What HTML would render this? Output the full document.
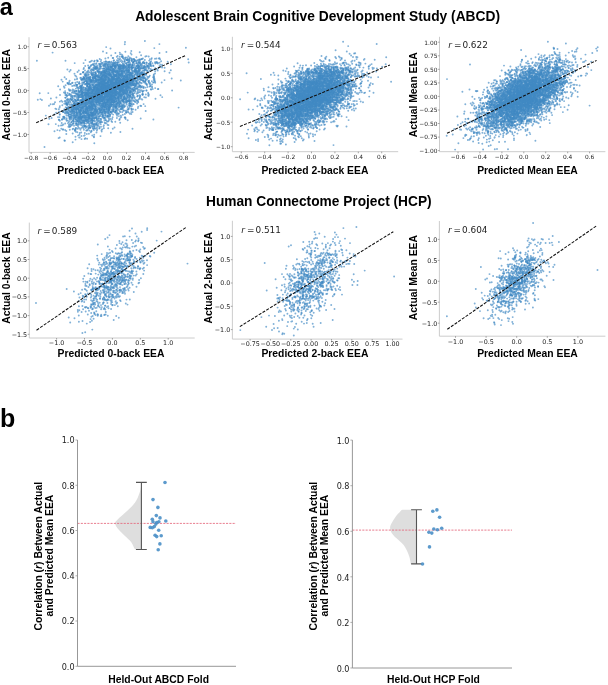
<!DOCTYPE html>
<html lang="en"><head><meta charset="utf-8"><title>Figure</title>
<style>
html,body{margin:0;padding:0;background:#fff;}
svg{display:block;}
.lb{font-family:"Liberation Sans", Arial, sans-serif;font-weight:bold;fill:#000;}
.dv{font-family:"DejaVu Sans", "Liberation Sans", sans-serif;fill:#1c1c1c;}
</style></head><body>
<svg width="608" height="685" viewBox="0 0 608 685">
<rect width="608" height="685" fill="#fff"/>
<g fill="none" stroke="#4088c2" stroke-width="1.95" stroke-linecap="round" stroke-opacity="0.66">
<path d="M109.3 93.2h0M135.5 78.5h0M90.8 104.1h0M104.7 94.9h0M108.4 73.6h0M76.5 121.8h0M85.4 126h0M148.4 68.7h0M108 89.1h0M86.1 95.1h0M121.9 72.1h0M102.1 91.4h0M105.5 99.6h0M92.3 115.3h0M76.3 112.2h0M97.1 75.5h0M89.1 110.5h0M113.1 109.3h0M84.5 123.7h0M79.3 112.2h0M130.8 90.7h0M79.8 117.3h0M102 96.6h0M115.9 104h0M108.8 90.1h0M85.5 75.5h0M121.6 94.5h0M98.3 92.7h0M125.5 93.2h0M126.4 101.3h0M109.1 93.8h0M110.1 93h0M108.1 106.1h0M94 102.1h0M109 89.5h0M131.9 75.6h0M135.4 68.1h0M85.2 117h0M95.9 110.6h0M137.8 76.8h0M110.9 132.8h0M139.2 85.7h0M122.4 55.3h0M120.2 82.6h0M102.5 90.5h0M111.4 95.7h0M139.1 67.8h0M148.7 64.1h0M134.3 76.8h0M105.5 87.5h0M92.6 91.4h0M108.5 67.9h0M76.4 109.7h0M75.9 90.6h0M86.4 92.9h0M130.1 91h0M83.9 78.4h0M94 95.9h0M91.1 95.8h0M101.8 109.1h0M112.5 72h0M63.2 129.5h0M89.2 98.7h0M90.2 79h0M94.6 80.4h0M110.3 112.2h0M74 100.8h0M116.7 82.9h0M85.6 90.9h0M110.3 99.3h0M125.3 63.3h0M88.3 77h0M125.3 83.9h0M107.5 65.6h0M87 113.1h0M107.3 89.5h0M113.9 83.3h0M68.8 110.2h0M104 97.6h0M100.7 107.1h0M96.5 92.3h0M132.2 83.7h0M116.7 78.5h0M143.5 73.9h0M117 98.8h0M130.2 103.3h0M108.2 90.3h0M102.8 84.1h0M106.9 95.1h0M124.7 81.7h0M113.2 71.3h0M124.7 105.5h0M129.6 85.8h0M91.5 106.3h0M110.7 83.3h0M148.4 81.3h0M118.1 60.9h0M113.5 79.4h0M131.4 73.7h0M89 88.3h0M76.4 100.8h0M92.7 108.2h0M122.6 93.5h0M102.6 76.2h0M74.1 91.2h0M79.8 111.7h0M95.8 109.9h0M137.5 83.1h0M94.8 102.1h0M87.5 85.9h0M110.9 76.2h0M121.2 94.3h0M91.3 80.1h0M140.3 96h0M96.7 98.1h0M110 81.9h0M104.2 85.7h0M103.8 99.3h0M108.6 85.6h0M86.9 72.2h0M81.1 89.6h0M88.9 133.8h0M74.6 107.5h0M157.9 89.1h0M88 96.3h0M87.8 77.2h0M91.2 69.7h0M111.7 102.7h0M122.3 79.3h0M105 110.5h0M108.3 100.5h0M118.8 66.7h0M129.6 87h0M96.8 100.9h0M132.6 88.2h0M98.8 96.1h0M113.5 92.6h0M103.1 99.6h0M123.7 105.8h0M121.7 80.5h0M91.5 98.6h0M109.7 74.7h0M110.9 88.4h0M117 93.6h0M101.8 89.5h0M66 101.8h0M75.1 95.6h0M82.5 88.6h0M111.7 84.1h0M70.6 98.9h0M111.6 96.8h0M93.3 93.2h0M95.7 81.9h0M86.8 83.2h0M138 93.1h0M105.1 77.3h0M91.5 99.6h0M80.7 92.1h0M105.2 85.2h0M91.8 93.4h0M106.8 99.1h0M99.7 58.9h0M95 74.7h0M144.1 65.7h0M116.2 95.1h0M111.2 77.1h0M99.7 90.4h0M81.5 139.1h0M140.9 65.1h0M109.2 85h0M121.8 105.9h0M94.2 114.3h0M75.3 93.5h0M93.1 94.9h0M92.5 77.8h0M133.9 95.9h0M133 80.1h0M101.8 90h0M74.2 112.4h0M113.2 102.7h0M113.9 71.3h0M124.4 81.4h0M108.3 93.4h0M98.8 71.7h0M112.5 91h0M120.7 71.4h0M98.9 84.4h0M125.7 80.1h0M80.4 113.7h0M81.7 88.9h0M162.1 64.8h0M105.2 111.2h0M110.5 106.5h0M77.4 95.1h0M105.1 83.6h0M115.3 65.5h0M120.5 85.5h0M124 81.3h0M128.5 66.7h0M123.1 88.1h0M85.8 105.4h0M107.2 104.8h0M127.1 95.7h0M113.7 86.3h0M95.3 78.9h0M98 87.2h0M73.9 119.1h0M125.9 86.6h0M161.1 61.2h0M96 74.5h0M114.4 87.3h0M66.7 107.9h0M91.6 74.2h0M105.9 76.2h0M101.5 90.3h0M138.4 71.2h0M117.5 64.4h0M97 79.9h0M123.8 85h0M167.7 61.7h0M112.6 86.5h0M91.1 118.9h0M87.9 90.3h0M140.3 87.7h0M110.3 74.4h0M74.3 115.7h0M125.4 106.1h0M122.7 92.6h0M69.8 129.7h0M111.4 101.5h0M99 98.2h0M92.7 105.6h0M111.8 101.2h0M108 106.8h0M80 114.5h0M99 89.7h0M83 123h0M67.2 104.1h0M84.5 94.6h0M108.2 96.4h0M91.3 116.5h0M67.6 83h0M89.7 118.1h0M118.1 77.9h0M116 91.9h0M112.5 69.2h0M116.1 104.5h0M62.8 111.8h0M125.1 106.3h0M98.8 118.7h0M125.4 83.9h0M96.2 87.9h0M85.5 92.6h0M87.8 98.6h0M78.8 96.7h0M127.5 75.2h0M88.2 118h0M81.5 123.5h0M82.3 123.2h0M102.2 101.6h0M123.7 83.8h0M109.6 98.2h0M115.3 93h0M116.3 81.6h0M88.1 90.7h0M123.3 66.1h0M143.2 80.9h0M84.4 87.8h0M116.2 75.5h0M108.9 81.2h0M138.2 106.7h0M98.9 99.7h0M116 65.8h0M148.5 80.9h0M115.2 106.5h0M89.7 92.8h0M102.5 77.1h0M94.7 101.6h0M90.7 106.8h0M104.5 82.1h0M88 83.4h0M99.6 90.1h0M107.9 89h0M122 76.3h0M98.8 95.7h0M94.2 134.7h0M106.1 89.1h0M122 83.7h0M134.9 71.4h0M83.3 115.2h0M127.7 84.7h0M125.1 70.6h0M89 104h0M125 82h0M104.3 106.9h0M102.3 88.6h0M96.5 113.5h0M85.2 104.1h0M115.9 83.2h0M66.2 78.9h0M140.3 85.9h0M91.4 117.3h0M104.9 70.9h0M78.7 107.5h0M110.1 97.9h0M116.2 71.3h0M131.9 97h0M84.1 111.2h0M126 91h0M90.4 107.4h0M114.6 62.8h0M105.8 70.6h0M103.2 105.7h0M97.2 129.3h0M89.3 81.1h0M127.9 87.6h0M72.1 106h0M117.5 82.9h0M81.8 119.3h0M72 110.8h0M88.8 116.4h0M130.1 87.4h0M139.7 65.1h0M90 108h0M99.2 108.4h0M88.5 75.1h0M105.9 71.8h0M99.9 118.6h0M86.5 111.5h0M105.1 90.5h0M98.4 85.2h0M101.7 85.5h0M109 91.7h0M114 99.9h0M130.6 64.5h0M81.7 79.9h0M102.9 75.7h0M92.3 114.3h0M113.5 106.2h0M134.6 69h0M79.7 137.4h0M90.6 114.3h0M122.6 83.1h0M123.8 65.7h0M120.7 65.2h0M94.3 90.9h0M111.7 85h0M98.4 97.6h0M114.6 93.5h0M83.5 111.7h0M110.6 75.8h0M145.9 78.9h0M97.7 93h0M107.9 96.3h0M127.5 87.1h0M118.3 87.4h0M126.4 94h0M86.4 95.1h0M100.6 122.3h0M67.5 112.2h0M83.5 117.8h0M74.4 102.5h0M70.3 104.8h0M88.1 99.5h0M89.1 117.8h0M97.7 92.7h0M106.2 109.8h0M126.6 81.3h0M103.4 105.8h0M108.4 94.2h0M116.4 81.2h0M143.9 77.7h0M112.1 91.9h0M97.4 100h0M87.6 99h0M117.7 78h0M150.7 65.7h0M115.7 78.7h0M82.1 123.4h0M139.4 72.1h0M58.8 119.7h0M121.5 65.2h0M125.1 75.7h0M98.9 90.1h0M87.1 120.5h0M84.4 125.7h0M123.9 93.6h0M92.8 69.8h0M121.1 86.5h0M93.7 89.8h0M89.6 115.1h0M99 86.7h0M97.4 110.8h0M113.7 64.3h0M103.9 79.5h0M105 78.9h0M138.6 83.9h0M110.3 92.7h0M130.7 53.1h0M103.9 80.1h0M128.6 83.2h0M125.5 117.7h0M121.3 106.1h0M161.7 82.5h0M94.9 109.6h0M105.1 115.4h0M84.1 82.8h0M96.4 117.2h0M93.1 91.5h0M119.8 82h0M93.1 96.8h0M126.5 86.2h0M113 76.2h0M139.6 75.1h0M137.4 72.4h0M87.8 104.8h0M132.1 83.6h0M78 126.2h0M99.4 64.1h0M105.2 104.4h0M136 71.3h0M71 94.7h0M109.6 102.8h0M149.2 76.6h0M83.9 92.8h0M80.3 113.4h0M78 105.7h0M103.4 92.3h0M99.9 112.2h0M85.4 110.9h0M121.5 83.2h0M124.5 95.1h0M59.9 120.8h0M86.1 89.9h0M110.3 97.6h0M106.7 109h0M112.6 109h0M88.7 68.2h0M118.6 74.2h0M125.3 82.6h0M104.2 84.9h0M128.9 86.7h0M82.4 98.1h0M122.6 93.6h0M130.8 72.8h0M100.8 77h0M97.5 98.9h0M103.3 97h0M126.6 84.3h0M128.9 70.4h0M110.5 99.3h0M140.4 73.7h0M111.8 79.4h0M105.3 108h0M119.8 56.8h0M141.8 78.3h0M95.4 93.4h0M132.5 128.8h0M121.5 54.4h0M133.7 80.3h0M92.6 120.7h0M122 73h0M109.1 119.5h0M105.9 91.8h0M80.9 94.3h0M138.9 99.3h0M114.4 66.7h0M69.6 118.5h0M139.7 61.2h0M81.5 128.1h0M114.6 90.8h0M101.5 73.3h0M101.7 83.6h0M119.7 92.6h0M102.7 85.1h0M62.3 101.7h0M113.1 114.6h0M109.9 108.9h0M107.4 85.6h0M108.4 88.8h0M131.4 72.8h0M101.5 130.3h0M104.7 109.8h0M122.5 90.6h0M91.3 105.2h0M115.6 89.8h0M84.1 100.2h0M127.7 120.3h0M113.1 89.1h0M101 86.4h0M82.4 117.1h0M66.1 103.7h0M138.1 67.7h0M69.2 99.5h0M93.4 78.2h0M117.2 100.7h0M126.5 100.3h0M125 57.8h0M97.8 88h0M116.3 94.2h0M109.3 91.4h0M81.5 118.2h0M102 97.2h0M118.4 79.3h0M133.6 80.3h0M123 84.8h0M121.9 56.5h0M100.9 100.8h0M92.8 127h0M93.7 125.4h0M83.2 110.7h0M112.3 96.6h0M72.2 124.8h0M111.3 91.7h0M117.3 71.8h0M80.3 77.9h0M87.4 94.6h0M100.9 95.4h0M131.3 88.1h0M74.4 113.2h0M128 74.7h0M104 103.5h0M97.1 121h0M128.5 62.2h0M78.5 104.4h0M99.1 103.2h0M159.4 44.1h0M137.4 73h0M92.5 82.1h0M91.1 119.1h0M91.4 91.3h0M113.3 62.5h0M96.8 111.8h0M132.3 80.6h0M87.7 83.6h0M78.9 106h0M78 100.1h0M113.8 64.3h0M98.6 89.3h0M134.5 92.9h0M104.4 80.7h0M98.9 90.5h0M129.7 105.5h0M103.1 65.4h0M90.3 113.7h0M102.7 88.8h0M84.8 103.9h0M99.3 91h0M75.8 104.4h0M97.6 101.2h0M89.5 110.2h0M133.9 90.6h0M93.9 99h0M124.3 86.3h0M141.6 90.2h0M100.8 111h0M89.6 89.9h0M89.3 86.6h0M128.5 79.4h0M74.1 117.7h0M96 88.8h0M131.8 106.2h0M71 114.3h0M101.8 88.2h0M116.6 77.9h0M61.5 79.7h0M88.5 99h0M141.2 74.3h0M126.7 82.1h0M155 73.4h0M119.8 83.5h0M90.7 112.8h0M89.3 93.6h0M103.2 111.7h0M113 80.9h0M134.7 77.5h0M113.6 97.9h0M87.2 110.4h0M94.5 67h0M121.7 79.5h0M127 94.5h0M103.1 79h0M135.9 70.8h0M129.5 85.2h0M79.4 120.9h0M139.8 67.9h0M143.3 78.4h0M116.1 84h0M93 105.5h0M80.9 87.7h0M116 89.3h0M116.1 103.9h0M118.2 80h0M115.3 72h0M99.8 94h0M85 103.2h0M109.3 69.2h0M136.5 66h0M156.2 62h0M91 89.2h0M102.3 122.1h0M128.6 112.6h0M129.7 68.1h0M112 98.4h0M99.8 100.3h0M73.7 107.5h0M123.7 110.1h0M86.8 101.8h0M99.5 71.6h0M135.5 68.7h0M109.8 92.2h0M104.5 102.5h0M86.6 101.8h0M77.8 128.8h0M105.1 104.8h0M95.2 124.6h0M107.3 101h0M105.3 72.4h0M109.5 87.4h0M115.4 76h0M96.7 88.6h0M82.2 91.8h0M121.2 80.4h0M86.8 113.6h0M91.4 72.1h0M84.7 102.1h0M98.7 95.1h0M81.7 79.5h0M92.4 91.4h0M101.7 77.5h0M112 109.2h0M95.6 113.5h0M123.8 81.1h0M142.5 94.6h0M145.5 78.1h0M79.2 137.6h0M98.6 74.5h0M100.9 75.8h0M78.7 103h0M96.8 89.5h0M86.6 107.7h0M115.3 86.9h0M62.7 81.6h0M86.2 98h0M101.3 81.8h0M64.4 110.2h0M79 104.5h0M110 116.4h0M77.1 120.7h0M68.8 124.7h0M99.9 92.1h0M96.9 100.8h0M120.1 64.5h0M97 60.2h0M99.5 85.6h0M109.9 106.9h0M123.3 82.1h0M86.8 126.2h0M119.1 81h0M109.2 107.5h0M103.8 68.8h0M123.5 87.9h0M88.7 90.1h0M103.6 111.9h0M100.9 81.3h0M129.6 64.4h0M92.7 93.8h0M82.6 98.3h0M115.5 88.3h0M135.4 85.5h0M71.6 118.8h0M121.7 86h0M95 81.9h0M79.6 111.7h0M98.4 84.2h0M117.3 100.4h0M66.3 94.8h0M68.4 107.4h0M106.1 112.2h0M114.1 90.1h0M103.7 72.3h0M112.7 111.2h0M98.8 113.9h0M116.6 67h0M122.5 61.3h0M150.1 84.1h0M113.3 74.5h0M61.7 111h0M86.7 121.2h0M117.2 65.6h0M105.7 91.8h0M122.3 68.4h0M93.3 92.8h0M132.7 64.9h0M109.5 88.7h0M77.6 115.9h0M98.8 83.3h0M126.4 69.6h0M108.8 77.9h0M125.8 67.5h0M127.3 70h0M139.9 97.5h0M118.5 98.3h0M102.7 80.2h0M108.8 86.4h0M95.8 102h0M116.6 89.6h0M75.4 112.3h0M107.6 116h0M105.4 97.9h0M132 76.6h0M73.7 115.9h0M87.5 114.4h0M95.3 114.5h0M103.8 92.4h0M83.8 120.8h0M94.5 97.7h0M115 66.1h0M111.2 102.7h0M90.6 121.3h0M99.2 93.4h0M121 68.7h0M137.9 107.9h0M115.6 68h0M98 94.3h0M96.9 92.5h0M111.3 82.5h0M100.6 92h0M121.5 76.3h0M113.9 84h0M119.2 80.8h0M115.5 83.7h0M90.9 99.3h0M120.3 89.9h0M78.5 113.4h0M111.5 80.9h0M125.4 87.2h0M107.2 88h0M78.8 97.8h0M90.6 106.7h0M86.4 95.5h0M102 95h0M69 114.2h0M112.2 104.4h0M94.6 89h0M126.5 88.4h0M133.6 83.9h0M119.3 84.3h0M112.6 83.7h0M72.3 104.9h0M74.1 95.9h0M99.9 98.7h0M109.7 85.5h0M113 65h0M96 93.6h0M112.7 83.2h0M108.9 109.4h0M139 92.2h0M106.3 93.3h0M99.4 75.6h0M98.8 82.4h0M82.9 95.7h0M66.3 111.1h0M104.5 83.2h0M101.9 101.2h0M126.3 112.7h0M125.5 77.3h0M73.6 109.5h0M98.7 79.8h0M138.9 62.3h0M126.3 63.5h0M81.2 105.1h0M101.2 77.9h0M85.7 87.9h0M101.2 104.8h0M134.7 97.2h0M130.4 105.8h0M126.7 69.1h0M120.3 84.5h0M71.6 118.2h0M120.4 109.2h0M94.9 117.7h0M112.7 78.6h0M125.3 74.2h0M114.1 96.3h0M120.6 79.3h0M146.1 74.4h0M108 82.2h0M107.6 69.2h0M131.8 88.7h0M126.8 79.4h0M115.7 97.9h0M93.9 91.8h0M124.5 78.7h0M80 117.2h0M152.4 63.3h0M109 78.1h0M140 69.8h0M103.4 84.1h0M151.2 89.6h0M39.7 93.2h0M180.8 80.5h0"/>
<path d="M115.1 89.5h0M99.7 122.1h0M122.9 76.3h0M77.6 114.3h0M111.5 81h0M108.7 88.4h0M110.8 83.6h0M124.2 91h0M122.3 74.2h0M98 70h0M70.4 101.1h0M104.4 95.7h0M87.5 103.6h0M102.7 98.2h0M69.5 71.5h0M113.3 84.7h0M107.8 100.1h0M111.1 78.5h0M125.8 86.6h0M77.9 120.2h0M88.5 128.7h0M128.2 67.5h0M103.4 80.4h0M136.8 70.7h0M110.7 111.4h0M135.4 85.5h0M103.4 82.9h0M82.3 107.9h0M127.3 77.4h0M146 74.7h0M125.7 102.2h0M92.5 96.3h0M79.8 110.4h0M116.3 100.9h0M81 90.3h0M108.9 71.1h0M110.2 99.9h0M110.1 92.3h0M130.7 89h0M100.2 96.2h0M88.3 90.8h0M98.5 118h0M111.5 104.1h0M108.2 89.3h0M85.2 112h0M78.2 98.1h0M103.2 87.3h0M101.8 112.9h0M91.6 93h0M97.7 66.9h0M76.5 108.1h0M113.3 95.5h0M116.9 88.9h0M102.1 76.2h0M90 104.6h0M130.5 72.4h0M81.1 113.7h0M87.6 119.7h0M84.8 115.2h0M103.5 79.9h0M76.7 94.3h0M99.5 84.4h0M84.6 94.1h0M126 66.3h0M120.8 89h0M128 87.3h0M108.1 86.7h0M93.5 70.5h0M70.9 124.6h0M146.6 56.1h0M90.5 97.3h0M129.6 65.1h0M101.5 79.8h0M87.4 100.2h0M108 99.9h0M114.2 102.7h0M109.2 85.6h0M111.1 112.6h0M98.5 107.7h0M120.1 54.2h0M104.2 73.6h0M129 77.3h0M80.2 99.9h0M140.4 85.9h0M111.5 104.6h0M117.1 78.4h0M115.3 84.3h0M126.8 79.6h0M119.9 92.4h0M98.8 88.7h0M135.5 86.2h0M129.7 107h0M119 75.2h0M92.6 74.3h0M102.4 63h0M110.5 97.8h0M93.1 70.2h0M77.8 118.2h0M108.8 95.8h0M101.9 84.5h0M102.1 96.6h0M120.4 75.7h0M102.6 68.8h0M64.2 118.7h0M91.8 84h0M115.1 112.6h0M108.7 74.3h0M108.2 91.6h0M90 123.2h0M105.3 123.3h0M99.1 93.6h0M136.6 93.8h0M68.7 109.7h0M105.4 105.7h0M70.7 90.3h0M133.5 91.3h0M113.4 73.7h0M107.6 96.8h0M88.5 103.1h0M97.4 112.2h0M101.2 92.1h0M107.8 69.6h0M113.6 111.5h0M124.3 82.8h0M103.8 88h0M126.3 95h0M81.1 109.4h0M106.7 93.9h0M88.4 70.4h0M123.8 68.2h0M136.8 72.5h0M72.3 111.8h0M100.4 116h0M87.7 108.6h0M101 80.2h0M99.7 83.2h0M126.6 78.3h0M145.6 87.6h0M107.9 99.8h0M89.1 86.8h0M78.7 119.3h0M107.5 92.2h0M91.7 65h0M101.1 92.6h0M117.8 77.2h0M116.6 106.4h0M88.5 78.3h0M115.1 101.3h0M90.3 102.5h0M103.5 81.4h0M157 62.2h0M95.8 78.2h0M65.7 97.7h0M126.3 95.6h0M62.3 105.2h0M131.5 79.2h0M96.8 96.5h0M115.2 64.8h0M98.5 84.6h0M105.8 87.5h0M103.3 102.6h0M96.1 124.1h0M76.7 111.9h0M115.5 95.1h0M121.4 86.3h0M155 69.1h0M59.5 117.1h0M109.9 92.9h0M66.6 95.5h0M107.7 96.5h0M126.8 81.4h0M105.9 71.7h0M91.9 101.3h0M117.2 91.6h0M80.8 94.7h0M102.3 91.5h0M132.5 81h0M127.1 76.4h0M130.1 64.6h0M132.6 94.3h0M117.6 80.7h0M96.9 87.8h0M106.8 85.3h0M119.3 93.2h0M80.3 86h0M142.8 93.5h0M108.7 99.7h0M108.2 108h0M58.8 109.3h0M137.3 88.8h0M123.3 79.3h0M114.8 75h0M95.4 87.3h0M112.9 82.4h0M102.9 97.2h0M82.5 115.9h0M74.5 108h0M140.2 77.8h0M112.2 94.8h0M144.8 59.9h0M105.8 103.7h0M147 79.6h0M85 99.2h0M91.8 74.3h0M123.1 67.4h0M101.4 98.6h0M118.2 93.7h0M102.5 79.9h0M140.1 92h0M118.4 102.2h0M71.9 112.7h0M86.3 107.8h0M72.4 110.5h0M92.6 91.5h0M105.4 79.9h0M104.5 77.4h0M124.3 96.8h0M106.4 82.9h0M102.1 78.6h0M83.9 127.6h0M138.6 66.9h0M126.8 84.9h0M100.4 66.5h0M115.8 91.3h0M107 109h0M122.2 92.3h0M99.7 97.7h0M102.2 89.6h0M105.8 96.6h0M84.7 126h0M130.9 91h0M89.1 87.6h0M117.3 80.6h0M91 112.1h0M74 103.8h0M98.3 89.2h0M114.7 97.3h0M126.5 102.2h0M91.1 82.8h0M132.4 66h0M75.5 139.6h0M119 77.8h0M78.6 112.3h0M69.5 127.1h0M129.9 78.9h0M111 90.7h0M75.6 109.8h0M122.4 76.3h0M91.2 108.5h0M86.4 112h0M131.9 79.3h0M153.8 74.5h0M116.6 102.6h0M101.9 100.8h0M117.3 78.4h0M88.5 91.4h0M86.7 107h0M122.5 74.8h0M136.9 77.5h0M146.3 69.9h0M86.2 94.3h0M81.5 118.8h0M85.3 79.3h0M90.5 98.5h0M129.2 72.3h0M59.7 114.7h0M107.2 102h0M95.4 99.8h0M74.8 130.7h0M104.2 86.7h0M114.5 83h0M107.6 82.6h0M91.8 80.9h0M135.3 70.1h0M115.3 86.4h0M144.8 81.8h0M82.1 117.3h0M119.6 88.5h0M106.4 85.3h0M78.9 83.7h0M94 118.1h0M78.4 94.5h0M121.6 85.6h0M87.8 102.7h0M107.6 90.6h0M96.2 84.3h0M91.9 104.9h0M77.7 125.1h0M130.8 80.2h0M133.7 104.2h0M92 123h0M112.3 102.1h0M94.4 104.7h0M119.6 95h0M82.4 79.5h0M94.9 68.6h0M89.6 83.3h0M86.7 102.6h0M148.4 93.6h0M106.8 69.5h0M108.1 92.8h0M133 67.7h0M118.5 84.3h0M124.2 107.2h0M80.9 87h0M121.9 62.3h0M72.3 115.4h0M118.4 76.2h0M120.3 75.2h0M72.8 89.5h0M104.5 106.1h0M81.7 92.9h0M77.6 98.7h0M111.1 74.1h0M87.2 81.4h0M73.2 118.8h0M116.8 56.8h0M122.8 56.9h0M107 116h0M106.2 82.4h0M93.5 86.7h0M91.5 130.8h0M88.8 84.3h0M78.1 96.1h0M107.8 82.4h0M116.9 118h0M96.3 85h0M101.2 78.1h0M135.4 72.7h0M93.6 85.2h0M37.8 99.8h0M105.8 105.6h0M128 111.8h0M96.1 85.9h0M119.7 67.8h0M72.3 108.8h0M80.9 85.8h0M41.9 99.9h0M122.2 74.6h0M124 65.2h0M101.6 73.1h0M104 96.9h0M117.5 94h0M104.6 106.4h0M110.2 107.8h0M119.9 91.8h0M95.5 75.7h0M108.3 97.3h0M132.4 81.8h0M115.2 92.7h0M109.4 74.5h0M85.7 102.1h0M93.2 64.1h0M116.8 88.5h0M108.2 88.8h0M112.3 99.9h0M111.6 67.5h0M105.4 58.4h0M146.8 62.9h0M117.6 56h0M105.6 89h0M149 80.7h0M99.2 89.1h0M113.8 89.3h0M94.3 94.1h0M83.7 127.9h0M139.2 82.8h0M115 93.1h0M50.9 98.4h0M127.6 79.9h0M105.7 81.5h0M79.7 107.9h0M124.9 86.7h0M117.3 98.3h0M113.5 71.3h0M114.9 82.5h0M121.4 95.4h0M123.3 92.9h0M137.2 68.2h0M122.2 67.4h0M119.3 90.6h0M77.7 112.1h0M170.8 70.2h0M88 87h0M110.5 73.8h0M132.7 95.8h0M110.8 104h0M118.4 98h0M85.9 84h0M111.9 96.4h0M89.3 98.6h0M139.9 70.5h0M79 91.7h0M113.6 69.7h0M85 106.8h0M103.9 128.2h0M93.2 80.7h0M105.9 104.9h0M88.4 72.2h0M78.2 98.5h0M128.6 83.7h0M139.8 74h0M106.4 73.3h0M125.3 70h0M126.6 72.9h0M131.5 92.6h0M123.8 77.2h0M128.3 72.1h0M142.8 94.6h0M88.4 116.8h0M93.6 116.3h0M69.1 114.2h0M117.1 82.1h0M56.4 109.1h0M139.7 82.1h0M92.8 116.1h0M116 87.8h0M128.1 78.9h0M76.7 113.1h0M116.9 62.7h0M115.3 91.4h0M126.2 83.4h0M76.5 97.8h0M119.6 105.3h0M129.9 75.3h0M66.2 109.6h0M114.6 88.1h0M93.1 99.8h0M85.8 105.5h0M128.8 108.9h0M108.9 93.4h0M82.1 79.7h0M126.6 104.6h0M111 68.6h0M96.2 123.4h0M82.3 127.2h0M98.1 98.2h0M82.5 93.3h0M121.7 96.8h0M89.7 102.2h0M83.9 119.9h0M119 101.4h0M146.5 84h0M111.1 92.7h0M108.9 114.1h0M109.9 72.2h0M83.9 82.1h0M87.7 115.5h0M104.5 72.2h0M128.7 95.1h0M118.1 75.4h0M110.4 67.2h0M90 88h0M77.6 117.6h0M105 83.3h0M123.7 89.6h0M118.9 106.1h0M110.5 95.8h0M68.2 113h0M126.9 68h0M94.5 115.5h0M112.6 70.6h0M128.6 65h0M74.7 85.6h0M96.9 75.7h0M118.7 82.1h0M108.3 102h0M137.1 103.4h0M82.6 102.4h0M81.8 103.9h0M89.1 98.3h0M70 90.8h0M139.9 62.2h0M143.1 62.1h0M66 102.9h0M109.1 82.2h0M95.4 76.5h0M107.3 91.2h0M125.9 79.7h0M122.2 71.5h0M129.1 100.5h0M111.2 68.3h0M134 78.9h0M95.4 72.6h0M121.2 86.4h0M80.1 74.1h0M67 113.7h0M102.2 79.7h0M97.2 115.6h0M147.5 70.8h0M141.1 79.8h0M137.7 72.7h0M137.3 78.6h0M91.6 120.8h0M103.6 100.1h0M130.6 95.1h0M119.4 75.2h0M84.2 104.6h0M68.8 102.3h0M91.2 109.4h0M110.4 92.6h0M106.8 67.9h0M90.4 76.9h0M106.4 103h0M130.2 84h0M92.1 80.8h0M113.8 74.1h0M95.8 77.9h0M89.7 123.4h0M87.1 130.6h0M109.1 76.1h0M94.3 99.1h0M102.6 89.2h0M102 114.5h0M124.4 98.9h0M98.1 102h0M97.1 84.1h0M125.8 98.3h0M54.5 131.3h0M124.4 79.8h0M131.4 78.2h0M111.2 67h0M91.6 91h0M142.4 68.6h0M119.1 72.2h0M103.5 81.7h0M124.1 65.3h0M120.9 82.5h0M96.9 115.1h0M130.3 92.4h0M77.4 108.6h0M129 92.7h0M81.6 101.1h0M93.6 113.4h0M120.5 94.6h0M123.7 81.2h0M131.6 109.9h0M82.3 99.4h0M101.2 119h0M113 63.1h0M76.6 105.9h0M76.6 106.3h0M98.1 71.7h0M69.3 90.6h0M78.2 109.4h0M73 92.5h0M113.5 64.9h0M106.4 97.7h0M108.8 116.7h0M106.2 98h0M76.8 85h0M99.4 93.4h0M107.2 117.3h0M134.1 60.8h0M105.4 85.3h0M99.7 89.3h0M104.7 107.5h0M159.5 53h0M104.2 98.1h0M117.2 64.4h0M138.4 79.4h0M81 96.9h0M114.1 89.9h0M109.6 97h0M102.5 86.4h0M123.3 94.1h0M100.3 103.7h0M130.1 64.7h0M116.4 76.7h0M85.7 74.4h0M129.2 82.8h0M112.7 58h0M106 72.4h0M109.4 110.8h0M77.1 106.9h0M119 68h0M109.4 91.9h0M89.2 67.7h0M105.1 72.9h0M120.9 79.9h0M61.9 119.5h0M92.7 95.7h0M69.6 117h0M79.6 112.5h0M119.8 102.1h0M83 72.6h0M86.3 113.1h0M123.1 58.1h0M120.6 102.7h0M73.3 120.8h0M136.7 60.8h0M141.7 72.9h0M101.5 89.1h0M126 57.5h0M109.7 79.7h0M150.6 64.8h0M126.2 102.5h0M102.6 108.2h0M89 114.9h0M98.9 89.1h0M129.6 100.9h0M112.6 82.8h0M120.4 98.4h0M66.6 109.8h0M131.3 66h0M124.8 76h0M77.5 72h0M90.7 84.9h0M110 96.7h0M96.5 85.8h0M133.9 83.6h0M96.2 66.3h0M100.2 96.1h0M110.5 48.4h0M124.9 113.9h0M100.3 92.2h0M92 126.5h0M141.8 73.7h0M77.7 121.4h0M76.1 125.1h0M113.6 102h0M132.6 112h0M108.5 125.1h0M86.6 96.8h0M113.7 109.9h0M129.8 73.2h0M96.3 94.7h0M106.4 75.1h0M107.9 70.8h0M118.1 81.7h0M116.1 86.6h0M107.1 70.4h0M73.3 109h0M137 74.4h0M89.7 107.9h0M108 121.4h0M109 97.4h0M89 102.1h0M80.2 109.9h0M78.4 89.7h0M127.9 90.7h0M92.2 107.1h0M106.7 92.8h0M122.1 91.1h0M139.8 74.3h0M66.7 120.8h0M101.1 101.5h0M115.9 75.9h0M58.6 125.7h0M102.7 115h0M84.3 122.7h0M102.5 90.3h0M121.6 70.8h0M94.9 114.2h0M113 90h0M113.8 101.2h0M61.7 122.9h0M125.9 112.1h0M78 102.4h0M98.5 92.5h0M141.8 77h0M88.3 99.2h0M109.5 93.9h0M138.5 61.8h0M123.4 83.2h0M188.7 62.4h0M115.4 82.7h0M81 122.5h0M74.2 115h0M143.4 77.9h0M102.5 79.7h0M87.2 109.3h0M89.2 97h0M70.5 112h0M119.6 82.9h0M85.6 73.3h0M83.8 77.5h0M97.8 95.5h0M71.6 99.7h0M105.7 61.3h0M145.4 70.3h0M153.5 65.9h0M109.5 104h0M132.7 78.2h0M149.7 86.4h0M136.4 80.8h0M91.7 115.7h0M102.2 99.8h0M122.7 77h0M86.8 121.3h0M87.7 90.5h0M75.6 96.1h0M144.2 78.6h0M155.3 68.3h0M121.5 77.3h0M118.3 80.4h0M130.2 96.3h0M101.4 77.2h0M73.4 123h0M124.3 90.7h0M121.4 73.4h0M116.1 90.3h0M104.1 101.1h0M100.3 98.2h0M88.4 103.1h0M93.9 130.1h0M88.9 95.7h0M78.5 122.2h0M69.7 110.8h0M63.4 124.5h0M109.2 62h0M121.2 94.6h0M111.3 82.9h0M117.9 85.2h0M131.1 75.1h0M119.7 64.6h0M93.9 108.6h0M77.5 98.9h0M105.7 75.2h0M142.6 80.1h0M154.3 48.1h0M133.5 85h0M122.5 87.4h0M74.1 103.7h0M114.6 101.5h0M143.2 67.9h0M92.8 115h0M83 86.9h0M134.2 90h0M136.4 63.6h0M81.4 93.5h0M103.3 84.1h0M93.4 106.5h0M147.9 65.8h0M87.4 75.7h0M120.3 87.8h0M126.1 87.1h0M132.7 75.9h0M98.9 95.1h0M134.3 71h0M87.1 122.1h0M100.3 93.2h0M112.1 94.5h0M93.1 104h0M88.3 113.3h0M115 80.1h0M110.3 103.1h0M109.6 106.7h0M92.2 99.8h0M122 94.5h0M91.1 88.6h0M82.7 106.4h0M113.5 89.5h0M112.5 93.4h0M155.2 82.7h0M124 71.6h0M87.2 83h0M95.3 107.5h0M92.2 89.9h0M103.1 90.2h0M119.4 87h0M116.7 91.1h0M85.4 98.4h0M102.8 91.6h0M91.4 73.2h0M78.5 103.7h0M95.3 110.1h0M104.3 68.2h0M74.9 79.5h0M115.8 107.2h0M147.5 66.4h0M122.8 87.2h0M143.5 82.2h0M95.2 113.8h0M101.5 103.5h0M106.5 64.1h0M94.1 114h0M80.7 105.7h0M122.9 84.1h0M123.4 66.2h0M107.6 101.5h0M79.8 112.4h0M107.3 99.2h0M133.2 62.6h0M50.6 104.3h0M141.2 106h0M135 90.4h0M169.5 72.8h0M124.4 92.7h0M124.5 71.5h0M96.1 81.4h0M99.3 83.9h0M137.5 73.1h0M80.4 100.3h0M138.4 69.1h0M89.7 105.6h0M88.3 89.9h0M83.3 87.2h0M81.4 93.2h0M127.9 100.2h0M52.6 52.6h0M125 41.9h0"/>
<path d="M104 99.5h0M88.6 121.5h0M83 104.1h0M114.6 93h0M79.4 88.1h0M126.6 85.5h0M135.9 102.1h0M84.5 120.9h0M137.4 83h0M105.5 87.4h0M100.3 105.7h0M139.1 70.7h0M109.1 88.3h0M129.9 113.7h0M103.4 92.9h0M118.9 75.5h0M110 74.2h0M97.8 78.9h0M75.2 75.6h0M137.5 73.3h0M108.3 78.1h0M109.6 63.9h0M82.4 93.6h0M99.2 116.7h0M94.6 126.2h0M99.4 68.4h0M106.3 95.9h0M127.9 79.5h0M100.4 64.2h0M76.4 109.7h0M77.2 106.8h0M79.7 104h0M90 120.5h0M115.9 111.4h0M100.3 91h0M66.3 134h0M86.4 99.6h0M125 82.2h0M84.5 106.6h0M124.4 86.1h0M104 74.4h0M101.7 99.7h0M100.5 122.5h0M98 89.4h0M108 66.7h0M104.7 93.1h0M97.6 92.5h0M66.5 115.5h0M130.4 66.7h0M82.9 91.7h0M115 71.6h0M107.7 103.7h0M71.3 109.5h0M96 79.2h0M105.9 68.3h0M100 97.5h0M124.8 61.2h0M117 83h0M118.4 88.8h0M87.3 92.8h0M101.8 62.7h0M100.3 112.1h0M108.4 86.6h0M99.2 72.4h0M106.3 76.6h0M91.6 99.7h0M130.9 66.6h0M95.2 128.7h0M145.7 80.5h0M85.1 118h0M82.1 83.7h0M88.2 122.4h0M92.3 91.8h0M108 99.4h0M97.4 80.2h0M105.7 104.8h0M82.7 92.4h0M112.3 98.2h0M111.1 64.2h0M76.8 113.1h0M121.8 79.9h0M113.9 85.5h0M84 113.9h0M107.3 88.3h0M128.7 71.6h0M103.3 84.6h0M76.1 105.3h0M116.7 99.5h0M122.6 73.5h0M108.5 103h0M108.7 87.4h0M79.8 91.6h0M118.9 96.2h0M113.3 110.6h0M127.2 89.2h0M113.6 103.8h0M77.1 84.7h0M102.8 75.9h0M94.9 100.9h0M62.3 125.3h0M133 73.6h0M122.7 83.4h0M76.3 101.9h0M133.1 73.3h0M85.7 109.9h0M78.9 110.8h0M145.4 83.6h0M108 98.5h0M153.9 82.2h0M127.2 92.7h0M138.4 87.2h0M78.6 119.8h0M102.1 101.4h0M79.4 95.3h0M122.9 63.8h0M117.6 81h0M82.8 97.6h0M95.3 78.1h0M159.5 62.8h0M93.3 112.4h0M112.2 98h0M92 107.5h0M132 83.3h0M99.5 83.9h0M109.6 85.6h0M150.3 62.3h0M118.3 76.9h0M87 93.8h0M112.9 87h0M111.7 84.1h0M113 85.7h0M67.6 92.9h0M95.5 91.4h0M133.9 101h0M117.2 79.5h0M110.6 95.2h0M132.8 88.7h0M142.5 70.8h0M118.2 72.3h0M128 93.8h0M108.8 68.9h0M120.5 75.8h0M78.2 108.7h0M148.8 63.6h0M110.5 88.1h0M95.1 74.3h0M69.4 94.2h0M103.1 99.7h0M120.7 117.5h0M126.5 89.9h0M131.7 76.5h0M126.6 86.8h0M124 90.8h0M131.9 60.1h0M87.7 98.7h0M67.5 104.3h0M124.8 44.2h0M158.3 68.3h0M96.2 112.5h0M129.7 101.6h0M104.7 122.8h0M112.4 87.8h0M108.5 89.8h0M86.1 119h0M97.3 90h0M92.7 77.2h0M77.3 93.2h0M119.1 59.8h0M102.7 116.3h0M72.6 110.8h0M99.6 93.6h0M125.4 79.8h0M108.9 98.7h0M104.5 101.6h0M85.9 89.9h0M96.1 80.6h0M135.9 70h0M102.3 86.7h0M116 106.4h0M99.8 82.9h0M95.5 108.8h0M115.8 101.4h0M123.4 80.5h0M120.7 84h0M86.3 81.6h0M128.9 82.6h0M140.7 82.7h0M124.4 90.1h0M80.9 122.4h0M144.6 78.1h0M67.3 108.3h0M126.6 98.5h0M83.8 94.9h0M117.3 70.4h0M142.7 91.2h0M90.1 103.7h0M103.2 81.6h0M66.5 103.6h0M86.6 119.9h0M91.5 104.9h0M66.3 131h0M134.7 83.4h0M103.9 81.4h0M86.8 134h0M92.2 115.3h0M75.7 100.4h0M81.6 117.7h0M137.9 83.4h0M89.1 93.1h0M113.7 70.5h0M84.8 89.7h0M99.3 128.4h0M107.4 73.9h0M91.6 98.8h0M85.5 99.1h0M123.3 65.5h0M134.3 85.1h0M112.2 119h0M107.5 85.4h0M129.2 67.5h0M105.4 68.8h0M84.2 101.7h0M140.2 90.2h0M91.6 91.7h0M97.7 91.9h0M106.6 94.4h0M116.8 69.9h0M124 66.9h0M85.5 119h0M122 83.3h0M101.6 106.2h0M87.5 97h0M94.7 74.9h0M114.7 86.9h0M88.9 82.2h0M106.1 87.6h0M121.1 98.6h0M101.7 131.6h0M115 78.4h0M88.6 88.5h0M84.1 113.5h0M81.6 100.4h0M120.8 67.8h0M133.5 93.8h0M111.9 96.8h0M91.3 80.4h0M66.2 119.5h0M96.4 93.9h0M97.2 85.1h0M143 80.2h0M92.4 118.9h0M110.8 70.1h0M136.2 81.8h0M94.5 93.1h0M76.6 104.3h0M67.1 99.7h0M102.3 84.4h0M107.8 80.9h0M100.4 83.4h0M115.5 66.1h0M131.3 69.7h0M120.4 90.2h0M120.8 78.2h0M110.6 83.7h0M115.4 95h0M117.1 72.7h0M128.6 76h0M103.1 104.1h0M144.5 76.9h0M63.9 86.4h0M129.2 75.5h0M109.3 94h0M99.5 89.4h0M118.1 96.6h0M136.9 71.2h0M102.8 98.1h0M112 76.6h0M138.9 75.4h0M89 83.9h0M120.9 96.5h0M139.5 71.6h0M109.9 87.8h0M125.2 89.2h0M109.4 87.7h0M88.6 125.6h0M111.5 66.9h0M124.7 117.4h0M107.9 64.5h0M113.9 102.8h0M97.4 70.7h0M86.9 100.3h0M100 96.7h0M116.9 74.1h0M118.8 67.3h0M102.6 81.5h0M86.1 76.5h0M82.3 97.2h0M129.7 82.5h0M98.2 94.1h0M106.6 79.6h0M129.6 103.7h0M82.2 85.4h0M85.2 105.1h0M112.3 78h0M130.1 103.3h0M134.5 85.4h0M91 96.2h0M121.2 91.1h0M144.3 70.5h0M101.8 85.1h0M95.4 106.3h0M104.1 70.9h0M75.9 119.7h0M136.7 78h0M82.2 91.8h0M87.8 108.6h0M115.8 68.8h0M69.6 80.7h0M93.4 67.8h0M111.1 66.8h0M132.7 63.3h0M137.7 65.5h0M132.4 72.8h0M90.9 101.2h0M114.8 70.7h0M104.2 100.1h0M101.5 112.4h0M112.7 110.1h0M128.8 59.3h0M102 73.3h0M111.1 95.9h0M106.7 91.1h0M104.4 74.1h0M94.1 76.8h0M101.5 79h0M117.3 72.1h0M126.9 101.9h0M97.7 68.2h0M137.6 75.8h0M85.9 94h0M126 83.1h0M74.7 107.8h0M77 96.2h0M116.8 86.2h0M100.4 89.9h0M157.8 70.6h0M136.4 57.2h0M82.9 122.3h0M82.2 104.3h0M113.2 109.7h0M89.4 127h0M83.5 99.4h0M94.6 87.9h0M72.4 91h0M109.6 98.1h0M110.1 96.3h0M133.8 67.1h0M92 80.2h0M88.7 77.7h0M142 71.7h0M84.4 122.4h0M71.4 122h0M110.7 86.8h0M90.9 81.2h0M123.1 87h0M103.5 87.7h0M138.6 59.8h0M156.5 58.5h0M128.9 70.1h0M94.8 87.6h0M93.3 84.9h0M113.7 71.8h0M96.7 80h0M111.4 87.4h0M110 88.4h0M130.3 76.5h0M92.2 95.7h0M120.3 80.5h0M138.1 71.3h0M119.2 86h0M152 84.4h0M119.1 77.7h0M124.5 96.3h0M96.4 79.7h0M129.3 71.7h0M105.1 112.1h0M99.7 109.9h0M86.7 119.2h0M83.1 113h0M116.7 81.2h0M76.2 123.4h0M102.8 75.3h0M86.4 80.7h0M89.6 93.5h0M87.6 107.4h0M110.1 89.8h0M148.7 56.5h0M134.4 64h0M130.4 88.4h0M95.3 114h0M93.9 93.7h0M86.8 78h0M95.6 89.8h0M93 117.6h0M101 88.3h0M97 97.5h0M136.6 83h0M116 72.6h0M114.3 101.2h0M96.8 102.9h0M105.5 79.6h0M123.2 80.7h0M99.4 98.4h0M86.3 117.6h0M127.2 83.4h0M128.8 94.2h0M79.7 132.9h0M96.7 103.4h0M120.6 91.5h0M108.8 74.1h0M104.8 113.3h0M85.7 113.3h0M64.8 117.8h0M120.9 85.5h0M119.3 68.8h0M81.6 87.2h0M108.4 62.3h0M85.2 95.2h0M88.7 115h0M94 87.3h0M127.5 59.4h0M103.4 93h0M154.1 76.7h0M105.7 85.6h0M96.3 81.8h0M130.8 81.6h0M110.1 95h0M151.5 66.2h0M132.4 89.2h0M96.9 116.9h0M128.7 108.4h0M99.6 99.5h0M104.4 76.5h0M87 83.1h0M82.8 83.9h0M109.8 69.6h0M95.1 89.2h0M134.7 83.8h0M82.2 83.5h0M115.6 93.3h0M103 51.4h0M126.2 79.9h0M118.6 81.6h0M95.5 85.8h0M81.7 100h0M125.6 88h0M160.5 95.2h0M115.2 97.7h0M118.7 88.4h0M118.3 73.5h0M88.9 97.4h0M90.7 102.8h0M132.1 71.2h0M79.8 112.8h0M131.9 79h0M100.5 106.1h0M107.8 89.6h0M115.9 112.1h0M122.6 88h0M87.6 85h0M107 82.5h0M94.2 97.4h0M90.6 115.7h0M91.2 103.5h0M100.2 89.2h0M67.4 104.7h0M88.6 91.3h0M130.1 105.4h0M88.4 94.8h0M110.9 111.9h0M117.3 87.5h0M93.2 101.9h0M117.8 72.4h0M119.8 81.5h0M104.9 99.8h0M132.9 80.2h0M98.8 90.2h0M109.4 72.5h0M94.5 105.6h0M63.1 116.9h0M91.3 97.8h0M105.4 101.7h0M67.5 104.1h0M107.4 86.7h0M106.5 86.6h0M119.2 71.5h0M107.5 97.1h0M129.6 92.2h0M91.4 93h0M96.4 111.1h0M103.3 88.7h0M80 112.8h0M124.2 71.6h0M86.4 119.9h0M78.4 106.5h0M86.5 107.5h0M89 90h0M123.3 80.3h0M84.7 84.3h0M82.1 103.4h0M105.3 107.2h0M104.2 76.9h0M87.1 108.6h0M170.9 64.3h0M85.7 103.3h0M95.1 84.4h0M92.6 85.3h0M80.9 117.6h0M87.8 111h0M77 102.1h0M127.1 60.1h0M78.7 118.2h0M75.4 117.2h0M81.3 87.1h0M127.4 91.7h0M93.1 90h0M99.9 79.7h0M86.3 104.3h0M111.2 75.4h0M114.1 76.9h0M121.9 87.3h0M109.7 70h0M88.7 118.2h0M110.6 92.6h0M93.8 99.1h0M128.6 96.1h0M102 76.5h0M79.6 121.9h0M81.3 104.4h0M55.8 124.1h0M122.3 70.5h0M79.1 117.8h0M96.5 112.6h0M139.2 59.7h0M130.5 78.7h0M112.5 79.3h0M80.8 114.6h0M150.8 89.3h0M132.6 81.2h0M121.3 84.5h0M82.5 107.3h0M135.3 71.2h0M121.2 88.8h0M101.4 85.8h0M90.4 79.4h0M75.2 115.5h0M80.6 110h0M105.1 73h0M120.3 73.9h0M87 90.5h0M135.2 101.9h0M127.2 65.3h0M96.1 67.8h0M122.4 83h0M115.5 99h0M124.1 75.6h0M113.6 60.7h0M107.4 101.9h0M115 66.2h0M100 87h0M136.7 70.7h0M124 98h0M80.7 116.5h0M81.2 95.4h0M78.8 70.4h0M108.9 105.6h0M106.3 106.8h0M118.9 68.3h0M114.5 98.2h0M111.5 97.5h0M122.5 80.6h0M114.7 76.7h0M115 66.4h0M86.5 126.9h0M116.8 79.8h0M87 86.2h0M83 116.9h0M113.5 81.7h0M92.4 109h0M105.9 89.9h0M80.3 124.7h0M73.1 109.5h0M122.4 100.2h0M92.5 122.8h0M107.8 94.5h0M63.4 117h0M132.9 80.8h0M81 89h0M126.9 76h0M78.2 109.6h0M105.9 102.8h0M128.5 87.8h0M108.6 86.3h0M101.8 83.3h0M104.1 62h0M123.2 93h0M85.8 93.4h0M113.1 78.4h0M91.1 103h0M92.5 76.2h0M125.9 85.6h0M99.9 84.2h0M89.6 62h0M75.6 100.7h0M112.2 69.3h0M116 92.5h0M130 63h0M137.4 71.3h0M98.3 77.1h0M89.5 98.5h0M93.6 104.1h0M134.2 59.3h0M127.8 96.4h0M116.2 82h0M63.6 112.1h0M124 83.5h0M138.1 73.9h0M85.2 117.2h0M84.6 123.4h0M114.2 100.8h0M66.9 107.6h0M76.6 93.1h0M106.3 83h0M106.3 93.7h0M113.8 79.4h0M130.2 84h0M87.5 94.4h0M87.2 104.1h0M85 126h0M119.5 100.2h0M82 117.1h0M84.1 115.2h0M146.4 90.5h0M83.6 110.9h0M80.5 109.5h0M100.8 97.6h0M105 96.1h0M127 65.2h0M81.8 114.6h0M118.5 105.2h0M77.8 100h0M124.1 99.7h0M111.9 99.7h0M84.1 108.6h0M83.9 97.8h0M75.4 107.5h0M86.1 90.2h0M91.6 113.3h0M104.5 91.2h0M122.3 109.4h0M100.1 66.5h0M82.1 89.5h0M107.9 94.5h0M125 98h0M120.6 66.6h0M122.2 105.8h0M84.8 125.9h0M117.1 82.8h0M108.6 64.8h0M79.1 106.8h0M155 81.4h0M112.7 81.8h0M118.8 83.6h0M122.7 89.6h0M93.4 98.8h0M87.2 83.8h0M116.7 114.2h0M118.6 100.5h0M93.8 124.1h0M119 66.7h0M75.8 115.4h0M72.7 142.3h0M128.3 56.3h0M119.7 89.6h0M69.4 95.1h0M91.4 90.3h0M89.4 117.3h0M114.2 104.7h0M103.1 70.7h0M123.5 78.9h0M69.6 118.7h0M102.2 71.7h0M123.5 101.3h0M104.6 117.8h0M97.9 114.1h0M90 85.8h0M124.5 65.3h0M166.4 51.9h0M117.6 79h0M49 105.7h0M106.8 86.9h0M69.4 93.7h0M126.7 86.1h0M109.8 89.7h0M109.8 97h0M71.8 104.1h0M110.8 85h0M140.7 118.4h0M94.7 87.7h0M100.9 120.6h0M94.6 101.6h0M76.7 111h0M117.4 84.4h0M139.2 62.9h0M121.5 109.1h0M117.7 102.4h0M105.6 92.4h0M72.7 133.4h0M108.5 87.2h0M123.1 73.9h0M80.3 112.5h0M138.4 68.2h0M89.3 118.7h0M124.9 78.6h0M111.1 91h0M103.5 116h0M90.6 86.6h0M138.7 72.5h0M92.9 81.4h0M89 114.8h0M135.7 70.9h0M111.3 92.6h0M120.3 106.5h0M89.8 96.6h0M86.9 97.8h0M83.9 78.4h0M122.8 107.3h0M93.9 88.6h0M70.5 117.2h0M129.3 66.8h0M117.8 113.9h0M72.7 129.3h0M132 68.1h0M104.9 82.5h0M105.6 66.4h0M108.3 74.9h0M126.6 91.4h0M120.4 132h0M111.3 99.7h0M76.4 104.7h0M102.1 86.8h0M93.4 75h0M149.1 68.3h0M100.1 81.7h0M87.7 80.5h0M134.4 98.1h0M123.9 65.9h0M108.3 76.1h0M117.6 85.7h0M86.2 99.5h0M85.7 96.9h0M86 108.8h0M129.1 87.9h0M117.9 82.9h0M114.3 106.9h0M96.2 125.3h0M87.1 93.4h0M109.5 79.7h0M114.1 79.8h0M88.7 101.1h0M108.2 94.1h0M120.3 96.2h0M139.3 86.9h0M74.1 113.8h0M121.3 117.1h0M120.1 73.2h0M72.9 101.7h0M100.2 90h0M75.9 88.6h0M123.9 64.2h0M123.5 67.1h0M123.7 110.8h0M83.1 126.4h0M97.8 119.1h0M98.1 101.7h0M74.9 104.3h0M119.8 111.4h0M105.1 85.4h0M113.9 69.4h0M89.9 125.2h0M81 79.6h0M118.6 92h0M143.7 86.6h0M120.2 122.7h0M111.9 91.9h0M115.4 90.3h0M115.8 75h0M94.6 94.8h0M110 94.8h0M114.5 96.8h0M65.5 60.7h0"/>
<path d="M91.9 116h0M118.9 86.7h0M100.4 82.6h0M112.4 93h0M100 79h0M97.9 97.9h0M79.1 95.7h0M110.8 99.4h0M96.1 91.7h0M126.9 76.6h0M107.4 74.1h0M100.9 97.4h0M100.6 74.3h0M109.2 115.5h0M91.7 107.4h0M105.9 86.2h0M88.7 101.3h0M107 76.6h0M124.1 62.1h0M108 82.8h0M93.8 104.7h0M95.7 75.9h0M93.5 96.1h0M105.2 88.3h0M118.2 113.5h0M115 63.1h0M109.7 107.2h0M76.6 110.1h0M82.5 121.7h0M86.9 100.7h0M68.1 109h0M106.1 107.4h0M96.4 79.4h0M74.5 96.8h0M123.8 66.7h0M95.8 94.8h0M90.9 102h0M80.5 123.3h0M80.2 118.8h0M116.7 88.4h0M105.8 63.7h0M73.8 85.5h0M104.4 110.7h0M96.9 119.9h0M126.4 75.3h0M92.6 92.8h0M113 79.5h0M88.9 94.7h0M139.1 66.4h0M110.1 88.7h0M92.9 112.2h0M119.1 77.9h0M81.8 92.8h0M121.7 72.8h0M86.8 91.3h0M119.4 104.4h0M105.6 75.8h0M101.9 64.1h0M72.2 85.9h0M158.9 58.5h0M95.1 116h0M108.3 107.7h0M126.6 74.9h0M138.6 71.3h0M121.1 66h0M108.5 79.8h0M79.5 86.6h0M120.7 85.7h0M103 117.4h0M78.9 110.2h0M94.3 128.1h0M103.7 110.2h0M72.3 97.5h0M108.6 78.1h0M94.8 105.2h0M95.1 105.8h0M110.6 88.8h0M106.2 84.5h0M85.8 75.9h0M70.9 114.2h0M117.7 88.4h0M78.9 96.9h0M96.9 102.5h0M104.6 109.5h0M94.2 111h0M116.4 74.1h0M102.2 103.8h0M97.6 95.3h0M142.5 91.6h0M58 117.1h0M138 101.5h0M91.4 106.8h0M100 68.9h0M95.6 104.4h0M96.9 90.8h0M90 118.3h0M83.3 112.4h0M119 97.1h0M102.4 80.2h0M128 101.2h0M119 98.2h0M69.7 116.8h0M89.6 106.3h0M114.3 76.7h0M99.5 112.2h0M103.2 94.2h0M77.5 107.8h0M103.6 80.4h0M107.9 71.9h0M114.6 66.6h0M71.2 97.2h0M124 80.2h0M80 128.5h0M94.5 87.7h0M107.1 92.4h0M117 72.4h0M141.2 86.9h0M111.1 106.3h0M89.6 95.4h0M85.2 112.7h0M105.7 105h0M121.6 89.5h0M99.9 78h0M107.6 100.9h0M111.4 101.6h0M124.4 72.4h0M73.8 113.5h0M108.9 109.5h0M88.6 101.6h0M111.3 81.3h0M95.1 115.5h0M75.3 121.5h0M105.6 90h0M107.4 92.2h0M123.3 87h0M109.9 115.5h0M120.8 79.6h0M71.1 109.8h0M122.1 87.8h0M104.8 94.3h0M119 65.1h0M130 94.1h0M101.5 110h0M76.2 114.1h0M110.3 81h0M95.3 98.5h0M90.4 93.7h0M108.1 82.2h0M104.5 90h0M102.5 79.2h0M87.6 110.8h0M126.2 80.6h0M97 107.2h0M97.1 126.9h0M104 97h0M109.3 61.6h0M116.1 81.1h0M124.6 80h0M101.5 96.1h0M116.5 101.2h0M74.5 102.2h0M74.6 106.2h0M130 100.9h0M129.9 86.6h0M88.6 95h0M106.9 121.3h0M91.2 113.3h0M97.7 97.3h0M113.6 78h0M89.1 101.3h0M127.4 97.3h0M82.6 99.4h0M126.7 88.6h0M67.9 123.1h0M134.8 86.8h0M102.7 106.2h0M65.4 110.9h0M91.2 73.4h0M61.3 100.6h0M87.1 84.8h0M124.7 91.7h0M93.3 115h0M126.8 64.2h0M136.6 84h0M81.2 85.9h0M107.3 116.3h0M76.1 104.7h0M78.2 104.9h0M113.6 92.9h0M109.9 85.7h0M119.9 83.7h0M117.4 103.8h0M84.6 74.2h0M148.5 95.9h0M102.7 78.6h0M119.8 94.7h0M117.4 87.1h0M160.4 64.6h0M121.5 90.6h0M138 65.3h0M76.1 123.4h0M108.4 111.2h0M83.5 72.1h0M85.2 77h0M125 83.5h0M100.7 79.5h0M93.4 111.3h0M79.7 104.8h0M86.2 115.9h0M132.7 77.3h0M135.3 99.4h0M99.8 101.1h0M129.4 65h0M89.7 118.5h0M141.4 67h0M162.2 97.1h0M96.2 108.8h0M118.4 95.3h0M120.3 80.9h0M116.7 110.6h0M100.9 99.9h0M122.7 95.3h0M86.9 113.9h0M108 88.7h0M148.1 92.7h0M95.9 73.1h0M133.8 80h0M117.5 72.1h0M100.5 108.3h0M84.9 117.8h0M103.3 74.9h0M92.2 108.4h0M111.9 80.3h0M126.5 75.5h0M93 113h0M122.1 96h0M81.1 106.8h0M100.7 84.1h0M112.2 70.5h0M139.1 66.4h0M101.3 82.2h0M96.4 88.6h0M74.7 103h0M99.8 83.8h0M133.3 90h0M103.7 90.2h0M62.1 119.5h0M126.3 77.7h0M153.1 82.6h0M95.6 68.6h0M105.8 120.3h0M96.8 100.3h0M99.7 96.6h0M115.1 91.6h0M118.2 93.2h0M129.3 82.9h0M85 116h0M79.3 110.1h0M129 74.2h0M111.5 67h0M132.9 81.6h0M69.4 83.8h0M105.8 91.5h0M130.1 95.8h0M131.3 51h0M113.9 100.8h0M107.5 106.4h0M75 99.6h0M95.7 104.7h0M121 88.9h0M136.9 78h0M131.1 80.3h0M108.3 115.7h0M108.3 78.1h0M108.9 106.8h0M108.2 112.4h0M107.3 86.2h0M71.6 115.8h0M122.9 79h0M114.9 88.3h0M137 85.9h0M84.3 100.6h0M102.7 80.8h0M80.2 115.3h0M114.2 76.6h0M84.8 92.7h0M98.8 99.6h0M123.3 80.7h0M75 91.9h0M86 121.2h0M82.8 78.6h0M150.6 85.6h0M98.5 93.7h0M137.8 76.3h0M119.4 88.5h0M99.3 102.5h0M145.9 73.7h0M143.1 66.8h0M119.9 94.1h0M146.7 84.2h0M119.4 66h0M132.2 84.3h0M83.5 121.9h0M101.2 89.2h0M157.9 63.6h0M90 88.1h0M95.6 99.2h0M120.2 96.2h0M72.2 113.6h0M95.9 107.3h0M93.9 98.5h0M91.9 60.8h0M76.4 117.6h0M95.9 93.4h0M81.8 102.4h0M73 113.8h0M86.5 101.8h0M138.2 77.2h0M97.8 88.6h0M95.5 78.8h0M150.4 64.2h0M137 66.8h0M102 94.7h0M137.7 66h0M89.8 109.3h0M129.3 82.5h0M123.9 97.5h0M100.5 136.1h0M98.1 94h0M94.3 78.2h0M92.3 105h0M98.6 97.6h0M82.9 103.6h0M141.7 59h0M155.3 63.4h0M117 81.9h0M131.8 68.3h0M105.8 96.7h0M64.5 87.8h0M112.7 72.4h0M114 74.8h0M101.6 87.8h0M90.9 102.8h0M100.9 100.9h0M88.1 65.4h0M103.4 103.9h0M104.3 98.1h0M104.9 117.9h0M88.1 120.7h0M94 87.3h0M122.8 101.7h0M70.2 119.7h0M107.4 94.1h0M87.1 117.1h0M109.6 98.3h0M119.5 91h0M108.8 86.6h0M150.3 62.4h0M65.4 94.9h0M72 100.1h0M119.6 76.6h0M97.4 82.9h0M89 115.4h0M130.1 74.5h0M107 86.6h0M103.3 97.7h0M104.2 95.7h0M114.1 90h0M125.3 58.9h0M102.4 91.3h0M117.8 71h0M121.2 73.2h0M88.5 107.9h0M125.7 119.1h0M101.3 77.3h0M85.8 95.7h0M125.1 91.9h0M144.7 67.7h0M119.3 77.4h0M116.7 84.9h0M99.2 95.2h0M86.2 75.6h0M123.4 77.6h0M105.2 87h0M129.7 58.7h0M72 113.5h0M127.9 79.4h0M146.5 90.4h0M112.4 96.1h0M120.9 74.9h0M82.7 102.9h0M97.9 125.6h0M99.9 77.4h0M67.2 102.4h0M107.3 84.1h0M146.1 68.5h0M111.6 96.2h0M95.2 80.8h0M118.7 88.7h0M131.3 91.6h0M108.2 112.2h0M58.6 138.1h0M112.3 79h0M89.8 108.4h0M93.9 65.6h0M130 83.3h0M113.3 90.8h0M104.7 85h0M109.5 78.4h0M65.1 129.9h0M114.5 75.9h0M112.3 72.4h0M94.8 104.9h0M93.8 136.6h0M105 93.6h0M87.5 89.5h0M108.4 86h0M128.5 87.5h0M127.6 87.9h0M137.9 100.2h0M132.5 77.2h0M98.2 91.6h0M80.5 129.8h0M112.1 121.9h0M128.1 72h0M116.1 75.8h0M104.4 120.4h0M98.6 103.7h0M76.3 90.9h0M87.1 138.7h0M110.9 94.6h0M107.4 87.2h0M109.8 65.2h0M120.2 91.8h0M106.5 91h0M94.7 111h0M149 66.9h0M102 82.6h0M117.8 87.2h0M115.8 74.3h0M109.5 106.3h0M54.1 104h0M123.5 69.5h0M127.8 85.9h0M87.7 112.9h0M102.7 92.5h0M123.4 67.6h0M116.6 88.7h0M90.8 132.3h0M109.8 85.3h0M81.7 93.9h0M135.2 67.3h0M129.3 97.8h0M117.5 70.8h0M107.6 74.9h0M113.8 105.1h0M107.6 96.6h0M145.3 80.7h0M108.9 89.8h0M115.7 82.1h0M111.5 82.4h0M134.1 75h0M113.4 85.6h0M121.9 65.4h0M129.4 103.1h0M124.9 73.3h0M101.3 88.3h0M93.3 120.4h0M97.1 86.9h0M97.5 104.8h0M95.9 99.2h0M87.5 95.2h0M91.4 107.5h0M95.3 111.6h0M106.8 92.6h0M108.3 84.5h0M114 86.1h0M110.7 76.1h0M107.3 83.4h0M85.8 99.3h0M115.4 86.1h0M139.3 86h0M110.8 67.2h0M111.8 84.4h0M113.1 82.9h0M70.8 111.5h0M74.1 95.9h0M101.8 72.5h0M137.9 86.9h0M71.2 122.4h0M78.5 93h0M131.3 104h0M91 81.1h0M99.9 94.4h0M134.8 101.3h0M144.4 63.1h0M80.5 113.9h0M98.9 80.3h0M74.1 104.7h0M101.7 85.8h0M126.8 110.9h0M67.1 95.7h0M79.7 109.9h0M108.7 70.4h0M90.3 127.3h0M110.8 84.5h0M68 83.6h0M108.3 70.1h0M102.9 88.1h0M98 85.7h0M111.6 86.9h0M81.6 114.1h0M109 91.6h0M110.7 81.4h0M81.3 86.3h0M108.6 73.2h0M127 92.8h0M61.3 128.8h0M130.4 91.6h0M118.7 65.9h0M119.4 120h0M82.1 116.2h0M92.1 119.2h0M139.8 68.5h0M85.5 119.6h0M103.9 99.4h0M120.3 69.2h0M108.1 84.5h0M127.3 81.1h0M126.5 90.1h0M139.3 73.7h0M108.1 87.2h0M89.2 106.1h0M100 92.6h0M89.7 80.5h0M70.6 98.7h0M88.5 106.4h0M130.5 94.4h0M117.8 103.1h0M96.8 90.3h0M100.6 119.2h0M85.2 100.6h0M84.1 78.9h0M111.1 98.2h0M99 84.9h0M119.8 84.6h0M129.3 76.3h0M113.3 85.6h0M66.7 118.3h0M94 118.7h0M68.4 115.8h0M116.8 79h0M102 81.2h0M103.3 82h0M118.8 66h0M106.5 123.1h0M74.4 121.6h0M113 95.7h0M80.2 117.1h0M100.7 84h0M100.1 87.6h0M83.4 82.8h0M130.2 76.3h0M93.5 100.1h0M110.4 90.1h0M91.4 97.5h0M133.2 62.2h0M82 96.8h0M86.5 108.9h0M130.1 105.4h0M110.4 83.1h0M130.2 93.5h0M109.4 109.5h0M110.1 70.8h0M103.4 89.2h0M89.2 78h0M121.6 100.8h0M117.4 71h0M86.8 101.9h0M128 83.1h0M69.8 90.3h0M90 107.2h0M64.6 101.4h0M148.7 77.1h0M123.6 65.7h0M102 107.9h0M101.8 79.6h0M140 59.9h0M127.3 60h0M136.2 84.8h0M126.3 86.3h0M110.2 75.2h0M129.1 65.9h0M131.2 100.4h0M76 116.4h0M105.9 93.9h0M91.7 80.1h0M117 92h0M98.2 90.5h0M118.8 62.4h0M121.5 71.1h0M70 84.3h0M111.9 104.5h0M96 115.7h0M89.3 130.6h0M71.9 92.7h0M81.2 110.9h0M102.7 114.4h0M114.7 82.6h0M70.9 118.9h0M81.6 121h0M74.1 103.5h0M87.9 94.2h0M99.2 76.2h0M119 101.1h0M80.1 117.8h0M100.9 68.6h0M120.7 87.6h0M108.1 63.8h0M86.5 105.4h0M80.7 107.6h0M104.8 86.9h0M76.4 113.6h0M112.3 77.1h0M92.9 103.9h0M131.4 108.7h0M123.6 86.2h0M110.6 91.5h0M109 99.2h0M130.8 67.6h0M80.3 129.6h0M91.6 106.6h0M78.4 102.9h0M89 80.9h0M101.4 92.3h0M102.9 85.3h0M67 96.4h0M111.3 61.6h0M123.2 70.8h0M81.1 103.4h0M112 101.8h0M108.2 92.2h0M125.1 80.5h0M91.9 104h0M106 94.4h0M69.9 124h0M65.1 93.2h0M110.2 90.4h0M93.6 101.9h0M121.9 107.5h0M69.9 94.2h0M141.8 63.9h0M153.7 78.9h0M115.1 95h0M119.5 82.4h0M75.6 84.3h0M72.6 82.8h0M112.7 78.6h0M105.1 106.4h0M126.6 112.2h0M77 109h0M105.4 118.1h0M123 100.7h0M95.8 76h0M103 80.7h0M110.1 81h0M138.6 70.1h0M120.6 81.6h0M137.3 88.7h0M100 95.6h0M89.3 125h0M52.9 104.3h0M124.1 83.8h0M121.3 90.7h0M94.7 86.2h0M97.4 75.4h0M126 82h0M112.3 98.9h0M89.4 85h0M117.8 93.1h0M90.4 112.9h0M128.7 59.9h0M78.8 103.8h0M129.8 81.4h0M78.2 100h0M136.6 82.1h0M123 108.3h0M116.2 113.6h0M85.3 126.4h0M106.9 99.6h0M121.6 108.3h0M94.1 126.3h0M132.4 81.1h0M114.1 89.2h0M131.3 113.9h0M137.9 60.3h0M133.1 67.2h0M104.6 75.4h0M125.6 74h0M91.9 104.5h0M109.8 91.6h0M116.6 92.5h0M117.8 88.9h0M90.7 61.5h0M109.7 98.5h0M88.6 79.5h0M66 112.5h0M97.7 101.3h0M88 90.8h0M102.1 116.8h0M119.2 67.3h0M103.9 86.4h0M93.9 83.2h0M116.4 92.9h0M117.7 64.8h0M103.6 66.4h0M104.2 118.8h0M87.6 110h0M139.8 77h0M128.3 65.8h0M105 102.6h0M85.6 88.4h0M104 92.4h0M116.4 70.9h0M112.2 95.4h0M136.6 100.3h0M74.9 129.4h0M63.9 92.5h0M113.8 69.6h0M136 85.1h0M111 81.5h0M68.3 109h0M91.8 102.2h0M122.6 75.5h0M80.3 91h0M98.7 79.5h0M105.5 83.8h0M117.3 62.4h0M154 80.3h0M127.4 77.6h0M130 92.4h0M128.6 84.7h0M115.3 91.9h0M107.9 81.2h0M84.5 111.4h0M111.3 98.2h0M78.9 109.6h0M125.5 66.1h0M136 85.7h0M99.4 115.9h0M101.8 72.2h0M101.8 101.1h0M97.2 90.4h0M120.4 81.6h0M113.6 85.4h0M105 87.1h0M142.6 94.7h0M145.4 56.4h0M100.2 101.4h0M81.3 108.1h0M91.3 119.6h0M79.6 105.1h0M106.3 92.6h0M132.9 65.1h0M103.4 106.5h0M97.8 60.9h0M79.7 91.9h0M111.9 91.6h0M76.8 120.7h0M96.9 100.1h0M104.7 65.2h0M72.8 98.5h0M145 69.4h0M145.5 66.9h0M77.9 108.6h0M101.2 93.8h0M115.3 91.2h0M93.9 110h0M86.5 92.5h0M106 78.5h0M100.8 74.4h0M85.5 94.9h0M80.5 116h0M71.8 107h0M144.2 67.3h0M110.1 101.3h0M71.8 108.9h0M90.4 106.1h0M85.8 127.9h0M115.6 84.4h0M73.9 121.2h0M125.6 81.1h0M114.2 85.7h0M118.9 116.1h0M86.6 104.1h0M63.6 116.7h0M87.6 94.5h0M103.1 108.7h0M125.4 51.8h0M116 91h0M44.5 147h0"/>
<path d="M100.4 96.2h0M71.7 99.5h0M72.2 106.9h0M78.8 116.9h0M90.2 89.5h0M107.1 89.7h0M126.1 80.2h0M120.6 83.7h0M113.3 97.7h0M131.7 94.5h0M133.9 79.2h0M85.3 120.6h0M132.1 104.7h0M120.7 82h0M112.5 65.1h0M105.3 104.9h0M114.4 85.9h0M92.5 110.2h0M92.8 83h0M104 88.1h0M97.1 99.2h0M102.9 75.8h0M141.6 83.2h0M97 88h0M98.8 69.8h0M108.6 74.9h0M132.3 98.6h0M106.6 95.3h0M85 70.5h0M76.3 76.5h0M114.4 68.7h0M90.3 93.6h0M89.8 110h0M82.1 94.2h0M107.7 81.2h0M70.8 108.1h0M131.4 104.2h0M113.5 88.4h0M109.2 96.8h0M58.2 86.3h0M132.5 79h0M140 62.9h0M105.3 70.1h0M140.6 64.6h0M101.6 90h0M126.6 70.6h0M109.3 113h0M115.5 99.2h0M114.4 82.5h0M138.2 63.2h0M113.5 90.2h0M145.9 97.5h0M126 84.7h0M153.4 119.5h0M111.6 95.8h0M106.7 97.7h0M113.5 99.7h0M129.4 101.9h0M135.6 69.1h0M105.9 83.5h0M84.9 78.9h0M98.8 80.8h0M79.4 102.3h0M94.1 95.8h0M108.4 86.3h0M75.7 112.2h0M88 92.7h0M94.5 88.1h0M114.1 90.8h0M89.5 101.9h0M136.5 72.8h0M79.9 112.3h0M101.6 94.8h0M134.5 71.5h0M108.2 82.6h0M92.8 114.4h0M83.1 92.8h0M101 126.8h0M113.9 89.6h0M114.1 101.8h0M113.3 65.6h0M74.1 116.3h0M74 111.4h0M84.7 138.9h0M108.2 84.3h0M89.7 68.5h0M97.6 65.5h0M109 95h0M131.5 73.8h0M147.5 86.9h0M90.4 127.7h0M115.9 110.6h0M129.4 103.7h0M63 118.7h0M100.7 79.5h0M106.9 112.3h0M51.6 118h0M91.9 93.9h0M94.2 98.8h0M107.1 77.2h0M122.4 80.1h0M121.8 66.1h0M94.8 93.1h0M131 85.2h0M110.9 70.6h0M107.9 68.8h0M135.1 61.3h0M111.1 70.3h0M72.8 110.7h0M111.7 77.5h0M96.2 102.3h0M103.6 103h0M96.6 109.8h0M91.3 105.6h0M116.3 90.4h0M80.4 101.2h0M111.3 94.8h0M96.8 94.4h0M100.2 99.4h0M90.6 111.7h0M74.6 91.6h0M98 109.4h0M127.6 86.6h0M115.7 98.7h0M135 89.2h0M114.3 87.6h0M100.8 95h0M126.4 70.1h0M131.5 60.8h0M76.3 119.2h0M114.7 97.8h0M123 85.8h0M132.5 91.4h0M83.9 68h0M96.7 119.1h0M98.3 86.7h0M153.7 75.5h0M90.4 87.9h0M107.8 100.9h0M67.3 104.7h0M129.3 61.8h0M102.6 99.6h0M118.3 85.8h0M144 72.2h0M103.7 109.6h0M90.5 102.6h0M140.4 105.7h0M120.4 112.1h0M125.6 101.8h0M93.8 76.3h0M92.2 96h0M102 112.4h0M118.7 86.5h0M90.7 89.2h0M104.9 82.8h0M83.1 96.4h0M96 68h0M113.6 79.7h0M73.1 120h0M119.2 80.3h0M135.5 91.5h0M131.6 67.5h0M122 99.9h0M157.2 69.6h0M110.3 100h0M106.1 63.6h0M119.8 91.7h0M104.4 71.6h0M102 82.2h0M77.3 119.2h0M132.2 68.3h0M113.4 96h0M75.1 112.2h0M143.5 68.5h0M113.7 92.8h0M114.9 71.6h0M94.9 121.5h0M137.5 96h0M96.1 97.7h0M148.9 82.6h0M99.8 88.9h0M164.5 80.1h0M134.1 82.7h0M117.5 80.1h0M140.4 66.5h0M105.4 95.8h0M114.4 97.6h0M130.9 85.4h0M139.7 52.3h0M105 88.7h0M90.1 77.7h0M83.2 107.3h0M99.7 110.5h0M80 111.4h0M86.7 83.5h0M120.6 91.3h0M98.1 93h0M87.3 108.4h0M95.3 91.7h0M140.4 66.2h0M111.1 82.2h0M132.9 103.9h0M111.6 100.7h0M137.7 78.6h0M115 97.4h0M81.5 94.3h0M90.9 87.8h0M138.6 66.4h0M105.1 75.7h0M110.9 100.8h0M90.9 95.7h0M124 86.7h0M161.2 66.4h0M101.6 82h0M119.2 74.4h0M85.4 98.5h0M117.5 74.1h0M81 88.4h0M117.5 92.2h0M107.1 72.4h0M111.6 86.9h0M107.2 92.4h0M88 92.6h0M134 59.3h0M109.5 100.8h0M109.8 105.8h0M77.4 119.1h0M92.1 103.5h0M81.8 107.7h0M104.8 75.2h0M113.7 84.7h0M92.5 84.6h0M142.1 86.1h0M92.9 120.8h0M99.1 84h0M113 92.8h0M106.8 90.7h0M104.3 71.2h0M101.9 93.3h0M125.8 89.4h0M102.9 98.6h0M95.7 117.5h0M89.9 103h0M94 98.6h0M133.6 82h0M124.5 82.2h0M122 56.7h0M73.3 115.2h0M93.1 108.4h0M75.6 108.4h0M82.3 100.2h0M124.9 101.7h0M94.2 95.8h0M111.4 120.9h0M129.4 101.4h0M95.2 91.1h0M64.4 140.4h0M92.1 118.3h0M94.8 109.7h0M153.1 69.7h0M98.1 100.8h0M83.9 129.8h0M96.6 84.8h0M129.5 74.4h0M109.5 92.5h0M113.7 83.4h0M104.5 104.3h0M113.3 78.9h0M121.1 97.8h0M119.9 90.4h0M99.1 63.7h0M88.2 115.6h0M98.3 77.8h0M152.1 87.8h0M150.3 64h0M127.4 91.5h0M102.5 96.2h0M107 86.8h0M111.2 99.4h0M106.3 97.7h0M94.9 78.1h0M85.7 99h0M110.2 105.7h0M68 101.2h0M112.3 65.4h0M92.4 102.5h0M99.6 77.6h0M101.9 107.5h0M88.9 114.1h0M109.3 105.5h0M116.2 83.9h0M112 86.8h0M100.5 64h0M108.9 100.7h0M137.7 63.2h0M75.5 103.6h0M83.1 78.8h0M91.1 95.2h0M84.9 78.7h0M102.7 110.7h0M103.5 106.2h0M103.5 126.4h0M69.4 100.6h0M93.2 114.6h0M99.2 88.7h0M140 59.3h0M100.3 101.9h0M118.4 76h0M134.4 75.9h0M119 70.2h0M87.2 85.8h0M112.4 84.6h0M123.5 99.3h0M102.6 86.7h0M118.5 96.6h0M104.8 72.4h0M112.2 89.2h0M153.8 77.5h0M128.2 62.6h0M95.2 100.2h0M115.8 104.2h0M110.7 80.7h0M94.3 88.2h0M147.6 65.8h0M90 127.5h0M109.2 94.9h0M121.9 90.6h0M99.3 97h0M125.5 93.1h0M113.1 100.5h0M114.1 94.3h0M97.9 94.2h0M106 93.2h0M103.8 73.1h0M117 84.4h0M104.6 77.1h0M164.6 67.8h0M128.2 68.2h0M81.1 120.1h0M104.7 86.4h0M103.6 83.9h0M80.3 107.8h0M99.3 104.5h0M115.3 105.5h0M112.6 117.2h0M115.9 83.7h0M94.1 89.1h0M124.5 92.8h0M130.5 81.8h0M68.2 106.7h0M126.2 63.1h0M85.1 103.5h0M80.9 73.9h0M98.5 102.3h0M86.2 117.6h0M129.1 83h0M68.8 89.3h0M119 90h0M110.6 66.6h0M75 103.4h0M97.7 94h0M115.9 83.5h0M100 103.1h0M118.2 69.9h0M93.4 79.9h0M111.7 99.3h0M140.8 68.2h0M85.9 115.4h0M124.9 91.3h0M130 81.8h0M101.4 74.3h0M121.8 85h0M128.9 64.1h0M84.9 91.2h0M117 60.2h0M79.8 83.7h0M92.8 87.9h0M99 113.8h0M113.7 74.1h0M129.8 97.4h0M106.8 71.2h0M93.2 64.6h0M77.9 121.1h0M89.8 98.5h0M102.7 92.6h0M116.7 75.5h0M73.2 121.1h0M97.9 87.1h0M122.5 86.6h0M74.2 99.1h0M120 95.1h0M135.7 72.6h0M105 91.1h0M99.1 89.7h0M111.6 95.5h0M96.1 90.2h0M104.3 88.9h0M88.9 108.2h0M143.7 88h0M100.1 72.1h0M129.4 68.6h0M81 77.6h0M103.1 106.1h0M100.7 111.8h0M83.1 72.3h0M114.3 105.7h0M124.2 78.9h0M74.6 109.9h0M87.9 114.3h0M133.1 85.1h0M121.3 103.5h0M100.3 89.2h0M72.5 111.3h0M77.1 78.4h0M116.3 94.8h0M102.2 96.7h0M94.2 96.1h0M108.5 104.2h0M150.7 69h0M127.7 106.9h0M101.7 83.1h0M94.8 112.5h0M115.3 88.6h0M105.5 113.3h0M118.4 75h0M102.2 77.3h0M114.9 81.6h0M106.9 91.2h0M97 110.2h0M97.4 89.4h0M126.8 60.1h0M99.8 96h0M108.9 66.8h0M112.4 93.4h0M106.5 87.8h0M119.2 81h0M65.6 85.3h0M149.9 59.1h0M112.1 86.4h0M97.1 84.7h0M149.8 82.7h0M78.2 99.7h0M59.7 137.5h0M122.9 101.3h0M135.7 78.5h0M95.6 92.2h0M124.1 76.4h0M157.7 62.8h0M111.3 91.9h0M104.4 117.8h0M71.1 116.7h0M128.7 85h0M99.9 108.9h0M109.7 96.9h0M92.7 64.4h0M103.9 125.3h0M104.3 81.3h0M158.3 88.9h0M140.4 79.4h0M143.7 61.6h0M114.4 71.4h0M95.8 73.8h0M86 104.3h0M106.4 89.5h0M100.4 97.1h0M94.2 111.7h0M137.4 92.6h0M97.6 96h0M88.9 106h0M89.3 111.9h0M137.7 67.9h0M116.5 94.9h0M104.8 96.3h0M88.8 128.5h0M109.3 96.4h0M89.7 98.7h0M119.6 92.5h0M97.5 76.9h0M116.9 75.2h0M117.3 103.7h0M87.8 93.7h0M151.4 59.1h0M104.9 92.8h0M130.7 84.3h0M110.7 87h0M89.7 100.2h0M102.7 84.7h0M116 84.2h0M87.6 83.3h0M123.2 94.6h0M128.3 95.4h0M108.5 79.8h0M144 70.6h0M103.2 92.7h0M116.6 83.8h0M135.6 109.8h0M86.9 112.3h0M116.9 87.1h0M117.9 87.2h0M121.2 70.9h0M142.8 72.6h0M114.9 90h0M64.2 116.7h0M117.2 112.3h0M79.4 134.7h0M111.3 104.7h0M104.2 105h0M88.6 119.3h0M132.8 94.3h0M137.3 78.3h0M122.4 88.9h0M128.9 99.2h0M134.5 65.5h0M98.8 77.2h0M119.7 66.6h0M80.9 110h0M59.9 101.6h0M92.8 113.8h0M105.5 87.2h0M96.2 76.1h0M121.7 106.4h0M98.8 101.3h0M149.8 75.6h0M103.8 85h0M143 62.5h0M91.7 112.6h0M85.4 60.1h0M71.5 106.6h0M93.1 89.8h0M143.4 81.1h0M136.5 71.6h0M88.8 74.2h0M125.8 82.9h0M64.2 117.2h0M109.4 108.2h0M75.5 117.5h0M113.3 87.1h0M125.9 79.3h0M113.8 74.9h0M108.2 57.7h0M97.5 88.9h0M84 135.7h0M142.1 68.1h0M111.9 72h0M100.2 94.3h0M107.7 84.5h0M95 103.9h0M126.6 79.1h0M132.7 97.7h0M127.5 74h0M105.4 103.2h0M77.8 123.9h0M106.8 107.9h0M115.5 63.4h0M82.7 109.8h0M145.2 106.1h0M114.8 83h0M86.9 107.4h0M99.5 85.8h0M127.1 72h0M105.1 93.4h0M92.5 75.4h0M68.2 99.4h0M109.8 83.3h0M137.7 92.1h0M71.9 99.7h0M109 85.2h0M93.9 104.2h0M119 97.2h0M106.2 83.2h0M129.7 100.1h0M90 106.4h0M115 111.9h0M92.7 78.3h0M118.6 99.9h0M90.8 65.4h0M113.4 89.3h0M81.9 125.3h0M111.6 62.8h0M106.3 97.8h0M88.6 116.7h0M123.5 85.4h0M81.8 91.3h0M121 100.2h0M159.5 66h0M96.5 98.6h0M121.4 88.3h0M133 71.1h0M116.9 107.4h0M117.7 86.8h0M104.6 81.9h0M95.3 77.2h0M101.5 86.6h0M68.8 101.4h0M123.4 92.1h0M137.8 80.2h0M124.2 71.5h0M144 74.6h0M110.3 88.3h0M82.7 112.7h0M119.6 69.5h0M77 79.2h0M124.2 68.6h0M101.6 86.8h0M48.5 124.2h0M125.9 99.2h0M85.9 118.9h0M126.2 72.4h0M144.7 66.3h0M116.8 97.8h0M108.7 93.4h0M108.3 85.4h0M122.3 112h0M98.7 99.7h0M72.2 105.2h0M125.1 80.9h0M71.5 125.6h0M113.6 86h0M75.8 100h0M92.9 128.4h0M81 90.7h0M107.4 96.6h0M115 67.3h0M91.5 110.5h0M78.6 87.9h0M119.7 119h0M112.5 101.8h0M95.1 86.3h0M118.9 85h0M83.1 87.9h0M70.7 111.4h0M108.6 80.6h0M115.9 83.4h0M148.3 72.2h0M118.2 82.6h0M101 73.2h0M128.8 69.8h0M155 62.3h0M103.7 78.4h0M85.1 105.4h0M86.6 103.2h0M100.6 78.8h0M136.4 87.7h0M102.9 98.4h0M143.9 90.6h0M114.6 75.7h0M126.3 73.1h0M141.8 59.2h0M113.4 77.7h0M93.1 97h0M120.2 88.8h0M104 113.8h0M109.8 105.2h0M93.7 90h0M120.7 67.2h0M96 64.1h0M91.6 123.5h0M68.5 84.3h0M110 114.7h0M108.4 92.3h0M84.7 135.2h0M99 90.5h0M99.5 83.8h0M126.8 88.7h0M114.8 76.2h0M88.6 99.1h0M129.8 95.8h0M115.3 75.4h0M134.3 89h0M113 68.6h0M105.8 90.1h0M93.6 68.4h0M79.8 112.4h0M127.5 71.3h0M81.1 117.7h0M119.2 106.5h0M85.7 98.9h0M130.3 80.1h0M127.5 101h0M132.2 64.7h0M101.9 92.9h0M117.1 92.1h0M134.3 81.2h0M109.7 83.7h0M129.4 64.6h0M131.8 101.9h0M111.5 96h0M93.3 128.9h0M136.4 68.7h0M100 87.5h0M119.9 83.6h0M92.4 100.7h0M110 94.7h0M75.8 131.8h0M134.2 87.6h0M106 77.5h0M120.6 87.6h0M97.9 89.4h0M124.2 106.2h0M94.1 61.4h0M143.7 67.4h0M101.7 85.7h0M111.4 70.6h0M84.7 75.2h0M110.6 94.5h0M128.7 85.6h0M100.5 111.6h0M69.1 82.2h0M74 125.7h0M104.7 64.9h0M97.6 87.6h0M126.8 80h0M101.2 94.6h0M77.9 108.7h0M104.3 80.8h0M110.8 86.6h0M104.5 80.8h0M142.9 76.4h0M114 60.3h0M92.8 112.9h0M113.5 79.9h0M100.2 64.7h0M129.8 74.1h0M120.8 103.2h0M63.1 111.8h0M140.9 66.1h0M86.4 116.3h0M96.9 130.6h0M88 94.5h0M56.1 112.7h0M116.9 86.9h0M136.3 61.9h0M115.2 97.9h0M91 82h0M95.3 68h0M109.7 72.7h0M74.4 116.1h0M110.4 100.1h0M81.1 109.7h0M91.6 87.7h0M82.7 120.3h0M101.9 88.6h0M75.2 109.5h0M133.9 81.2h0M115.8 79.4h0M142.3 72.7h0M93.1 79.4h0M48.3 93.1h0M75.9 103.7h0M95.2 72h0M76.6 114.9h0M125.9 88.9h0M118.4 77.7h0M129.4 85h0M126.7 59.9h0M100.8 124.2h0M142.6 73.8h0M88.4 111.5h0M129.7 57.5h0M111 102.5h0M140.3 78.7h0M100.5 89.4h0M70.2 126.4h0M112.3 102.1h0M102.8 104h0M93.5 74.1h0M100.3 97.2h0M124 93.8h0M104.2 63.9h0M79.3 82h0M87.6 115.2h0M123.8 101.8h0M86.9 78.7h0M130.1 92.5h0M133.3 97.2h0M65.3 92.7h0M70.9 107.8h0M101.9 91.1h0M101.8 105.6h0M82.3 93.8h0M137.5 74.5h0M111.1 94.2h0M109.5 73.1h0M130 57.6h0M74.4 105.1h0M126.1 99.8h0M106.8 76.6h0M114.1 92.4h0M106.7 102.1h0M148.1 67.1h0M114.1 111.1h0M108.2 77.8h0M107.3 93h0M117.9 89.7h0M135.6 80.9h0M64.9 112.7h0M90.4 79.7h0M109.4 109.5h0M85.5 109.9h0M99.1 99.2h0M185.9 47.7h0"/>
<path d="M89.9 87.1h0M82.7 111.4h0M65.2 123.4h0M60.1 89.4h0M93.5 93.3h0M111.5 84.1h0M111.6 70.7h0M105.6 119.9h0M100.3 98.5h0M83.4 77h0M122.8 80.9h0M116.2 95.6h0M122.1 81.9h0M84.1 96.5h0M153.2 65.5h0M123 69.2h0M92.5 85h0M75.6 128.1h0M124.5 61.1h0M106.2 69.7h0M84.3 103.1h0M98.4 75.7h0M96.2 100.6h0M79.9 111.6h0M65.7 107.2h0M100.7 61.6h0M122.6 57.3h0M119.9 102.1h0M126.1 75h0M125.3 77.5h0M110.2 62.8h0M77.2 94.5h0M92 98.4h0M126.7 77.8h0M110.9 82.8h0M45.8 115.6h0M112.4 93.3h0M72.3 112.6h0M83.4 109.9h0M114.2 79.1h0M115.8 110.6h0M128.1 70.5h0M110.4 81h0M119.2 70.9h0M104.9 96.9h0M94.3 86.9h0M89.9 76.6h0M84.9 81h0M120.1 106.3h0M128.1 82.4h0M115.1 102.2h0M120.9 115.8h0M123.1 91.3h0M113.5 100.6h0M86.8 93.4h0M101.7 92h0M128.9 78.4h0M113.4 77.9h0M121 97.7h0M140.3 63.8h0M130.3 72.9h0M93.1 115.9h0M109.4 92.7h0M116.9 109h0M88.1 79.6h0M122 89h0M94.8 89.1h0M117.8 68.1h0M108.7 105h0M83.2 112.7h0M94.6 111.5h0M90.2 80.1h0M80.4 118.9h0M100.9 114.4h0M88.9 100.3h0M104.7 89.1h0M97.3 80.4h0M102 97.1h0M112.1 67.8h0M114.8 84.4h0M79.7 111.5h0M106.4 100.1h0M102.1 91.2h0M95.7 93.6h0M123.6 89.8h0M99.9 108.2h0M92.4 121.5h0M124.1 98.5h0M115.4 95h0M106.2 87h0M105.7 102.4h0M96.4 63.2h0M104.6 109.4h0M114.4 78.7h0M133 84.8h0M90.2 90.4h0M94.5 76.6h0M78.7 127.6h0M123 67.1h0M123.2 99.6h0M99.4 77.1h0M105.5 115.9h0M102.9 86.7h0M72.4 112.7h0M70.2 126.1h0M66.8 112.4h0M123.1 89.5h0M100.8 97.7h0M119.7 80h0M139.7 98.2h0M99 120.9h0M96.3 84.9h0M116.6 76.1h0M85.5 96.8h0M111.4 81.9h0M80.8 119h0M85.6 112.8h0M120.1 93.8h0M92.9 72.9h0M100 82.2h0M100.2 73.6h0M86.5 80.3h0M97.6 99.5h0M133 76.7h0M85.3 109.2h0M112.3 80.8h0M115.3 70.1h0M90.4 96.9h0M154.5 79.6h0M83.5 100.2h0M123.7 90.6h0M112.2 77.3h0M82.2 85.1h0M102.3 101.6h0M116.2 93.6h0M101 87.2h0M93.2 128.6h0M122.3 68.4h0M129.4 82.7h0M81.7 103.7h0M106.5 78h0M104.5 83.7h0M93.2 108.3h0M79 111.2h0M74 90.1h0M114.6 89.8h0M88.7 112.2h0M143.6 104.1h0M108.5 79.5h0M104.1 84.8h0M101.4 99.1h0M87.5 95h0M145.8 94.5h0M107.2 106.3h0M112.6 66.8h0M66.9 104.8h0M149.2 60.6h0M105.2 111.8h0M85.8 99.4h0M116.3 109.1h0M110 98.2h0M94 99.6h0M83.2 105.5h0M91.3 119.9h0M90.8 70.6h0M117.8 88.8h0M110.2 69.1h0M73.8 111.7h0M80.9 112.6h0M98.6 112h0M131.5 59.1h0M98.9 92.8h0M107.7 64.9h0M108.7 109.6h0M79.6 93.1h0M121.8 74.2h0M106.7 109.3h0M89.8 118.3h0M100.4 96.4h0M100.5 113.1h0M91.3 109.3h0M95.5 90h0M115.7 101.1h0M130 77.6h0M92.8 99.7h0M111 98.4h0M91.6 75h0M97.5 101.6h0M114.9 65.7h0M77.7 112.7h0M135.4 88.5h0M94.4 63.7h0M84.2 118.7h0M96 95.6h0M83.6 63.1h0M96.7 106h0M67.5 83.1h0M128 66.8h0M60 95h0M139.7 96.7h0M89.9 101.5h0M94.1 88.1h0M141.2 68.5h0M155.5 98.8h0M96.7 123.6h0M106.5 61.7h0M123.9 97.7h0M96.5 86.8h0M111.3 76.4h0M155.2 88.1h0M119.7 85h0M122.1 71.2h0M125.8 90.8h0M101 86.8h0M144.3 97.3h0M132.3 70.1h0M92 114.3h0M148.9 94.8h0M75.7 101.1h0M136.8 81.3h0M100.4 94.6h0M57.4 130.1h0M138.2 102.3h0M128.2 72.9h0M92.8 117.3h0M75.7 119.1h0M109.7 99.1h0M110.8 99h0M102.2 86.7h0M135.5 84h0M130.4 83.1h0M115.3 108.7h0M115.8 87.5h0M105.1 92.1h0M151.8 58.1h0M88.9 121.2h0M108 89.3h0M104.9 111.7h0M98.1 88h0M100.5 78.3h0M99.2 91h0M86.7 77.9h0M93.8 86.8h0M115.9 82.4h0M107.4 111.3h0M83.7 89.7h0M94.4 94.2h0M122.8 98h0M95.5 110.7h0M132.2 109.3h0M81.6 100.6h0M144.5 75.1h0M129.2 89.9h0M131.8 82.5h0M98.6 82.3h0M103.3 91.8h0M124 82.7h0M92.5 98.9h0M131.2 112.1h0M116.4 71.6h0M97 104.7h0M101.4 109.8h0M82.6 107.1h0M139.8 95.2h0M132.7 78.7h0M128.7 87.4h0M149 65.9h0M127.6 90.6h0M115.2 95.1h0M100.7 97.4h0M125.2 67.6h0M90.2 107h0M107 74.8h0M115.6 99h0M92.1 102.6h0M133.8 90.1h0M95.9 87.1h0M101.1 92.6h0M106.2 79.4h0M80.3 97.1h0M86.2 95.7h0M127.2 74.9h0M93.2 99.3h0M145 69.2h0M162.1 67.5h0M102.2 87.3h0M82.4 95.4h0M114 75.8h0M128.4 65.4h0M117.6 65.2h0M96.5 118.2h0M94.6 88.4h0M141.9 87.5h0M145.6 79.5h0M96.3 69.3h0M111.5 90.6h0M139.7 85h0M103.5 72.3h0M150.3 65.4h0M109.1 88.9h0M110.8 97.1h0M68.4 115.5h0M98.4 71.7h0M122.8 85.2h0M110.8 94.8h0M91.1 103.6h0M108.3 110.7h0M139 69.8h0M104.2 90.7h0M80.5 86.3h0M98.7 84.2h0M145.7 111h0M94.4 97.6h0M80 95.1h0M159.5 58.3h0M95.8 90.7h0M126.5 99.6h0M81.6 123h0M93.6 90.7h0M146.2 64.7h0M95.3 81h0M121.9 108.8h0M78.1 103.3h0M122 95.5h0M111.2 73.2h0M103.4 71h0M134.4 77.8h0M80.3 115.3h0M94.9 106h0M112.7 73.2h0M131.4 69.3h0M85.4 138.3h0M118.3 97.2h0M103.6 81.4h0M98.5 116.2h0M86.4 92.7h0M126.5 98.3h0M121.3 77.2h0M82.2 82.1h0M110.9 79.9h0M107.1 104.7h0M127 60h0M93.8 128.2h0M94.6 69.4h0M116 105.1h0M116.7 65.8h0M77.5 113.8h0M147.8 71.9h0M107 89.5h0M96.2 66.7h0M111.2 87h0M127.6 80.3h0M88.9 106.7h0M109.9 89.5h0M100.1 106h0M127.8 79.6h0M135.4 73.8h0M78.7 90.7h0M102.5 87.2h0M98.2 98.9h0M123.2 91.4h0M78.8 115.9h0M118.9 94.3h0M109.6 105.2h0M127.4 98.1h0M94.6 127.7h0M108.5 91.3h0M79.4 105.5h0M128.4 71.8h0M116.9 93.8h0M78.6 124.5h0M85.4 95.1h0M130.9 75h0M111.6 73.6h0M81.6 88.1h0M114 108.8h0M80.3 86.6h0M133.1 109.2h0M112.6 81.5h0M119.2 68.4h0M126.7 70.6h0M120 103.8h0M96.7 124.2h0M81.6 107.5h0M122.4 108.1h0M72.8 117.1h0M114.9 95.4h0M148.2 94.9h0M80.5 102.6h0M140.9 73h0M102.6 94.2h0M118.3 85.3h0M78.4 115.1h0M90.7 92h0M96.5 96.4h0M132.1 89.8h0M104.8 101.4h0M124.8 67.2h0M84.9 95.4h0M95.2 77.5h0M96.5 102.2h0M89.5 89.1h0M108.4 99.8h0M77.2 81.9h0M86.3 88.2h0M109.2 101.4h0M101.3 101.1h0M120.2 79.3h0M129.3 70.3h0M72.2 121h0M143.9 73.8h0M107.4 91.5h0M76.2 108.7h0M160.1 59.3h0M91.8 114.1h0M112.5 83.5h0M96.5 128.3h0M126 88.9h0M134.5 71.6h0M93 106.4h0M103.8 90.8h0M123.5 70h0M116.5 65.2h0M128.2 89.6h0M85 111.7h0M73.3 107.8h0M121 109.2h0M104.1 107.8h0M121 88.9h0M107.2 95.4h0M81.9 78.9h0M100.4 109.6h0M123.5 84.5h0M122.2 68.1h0M86.4 79.3h0M109 107.5h0M110.6 91h0M119.8 70.3h0M112.8 87.3h0M102 104.3h0M107.8 67h0M112.8 128.8h0M112 90.2h0M121 94.5h0M123.2 105.1h0M151.6 69.9h0M105 80.5h0M94.5 112.6h0M116 66.4h0M120.1 82h0M124.3 84.1h0M97.4 61.3h0M147.8 78.2h0M141.8 87.2h0M127.9 66.5h0M69.1 121.2h0M95.8 86.7h0M91.9 101.7h0M121.4 81.8h0M119.3 82h0M69.3 112h0M85.4 93.1h0M96.5 111.9h0M118.3 68.5h0M132.8 72.6h0M91 122.5h0M69.4 125.7h0M121.3 87.9h0M90.2 127.8h0M132.8 70.6h0M115.5 80.6h0M111.2 55.4h0M95.6 108.4h0M107.7 113.7h0M111.4 102.5h0M93.1 100.7h0M74.9 104.6h0M84.8 132.9h0M156.2 62.9h0M111.4 68.1h0M106.7 73.9h0M101.7 95.4h0M111.8 94.7h0M109 84.5h0M127.6 85.9h0M76.6 91h0M122.3 107.9h0M146.4 62.5h0M91.5 71.1h0M87.4 117.7h0M139.1 66.4h0M102 101.3h0M102.1 105h0M100.4 105.7h0M107.2 101.6h0M108.5 85.4h0M116.1 93h0M89.9 107.7h0M110.5 65.9h0M115.5 106h0M102.1 89.4h0M120.9 96.3h0M147.4 76.7h0M89.3 88.3h0M130.2 81.7h0M92.6 89.4h0M112.5 72.2h0M90.3 91.8h0M113 106.7h0M115.7 83h0M118.3 83.8h0M68.2 95.1h0M106.2 78.2h0M99.7 65.4h0M103.3 81h0M110.3 104.4h0M102.6 74.7h0M147.2 65.6h0M104.3 80.8h0M119.3 94.6h0M56.4 97.4h0M122.2 71.3h0M68.9 122.2h0M138.3 65.6h0M122.9 64.1h0M112.8 78.7h0M97.5 76.5h0M119 85.1h0M87.4 129.7h0M122.8 114.7h0M154.6 80.8h0M128.7 89.8h0M81.9 117.4h0M115.3 67.4h0M96 87.4h0M120.3 102h0M91.2 81.1h0M86.2 74.3h0M116.4 95.7h0M128.2 77.7h0M94.8 123.6h0M116.6 64.5h0M117.9 97.4h0M110.4 73.8h0M143.1 76.3h0M85 103.1h0M113.9 90.9h0M100.8 82.8h0M76.5 116.4h0M90.1 99.7h0M113.6 75.4h0M117.9 72.5h0M128.2 97.8h0M103.4 97h0M110.9 97.3h0M80.1 119.8h0M77.1 87.3h0M100 94.4h0M134.5 78.1h0M93.3 77.5h0M84.1 116.5h0M74.4 118.6h0M109.8 80.6h0M128.1 101h0M123.5 58.8h0M87 81.7h0M107.3 92.2h0M120.6 65.8h0M92.6 78h0M93.4 93.8h0M89.1 92.7h0M134.1 87.6h0M105.4 72.4h0M100.5 87.4h0M73.6 123.8h0M100.2 84.8h0M115.1 87.5h0M101.2 66.2h0M144.4 63.2h0M101 96.3h0M155 58.7h0M99 79.8h0M97.2 91.8h0M120 75.3h0M123.5 77.1h0M122.9 79h0M125.2 97.2h0M93.2 124.4h0M82.2 107.7h0M122.5 71.2h0M106.7 106.3h0M132.1 78.1h0M110.3 75.1h0M73.1 101.2h0M100.1 89h0M118.7 66.7h0M114.2 100.2h0M122.7 56.4h0M111.1 67.6h0M89.5 116.6h0M102.4 81h0M67.4 69.5h0M103.4 107h0M106.5 103.1h0M98.1 94.4h0M118.3 71.6h0M126.5 66.7h0M95.4 95.2h0M97.8 97.7h0M119.1 110.1h0M72.8 106.7h0M97.1 81h0M99.6 79.1h0M119.9 87.6h0M107.2 83.3h0M88.2 109.7h0M122.7 68.5h0M89.5 67.2h0M114.5 127.4h0M119.3 73.8h0M91.6 108.9h0M96.4 90.8h0M114.7 90.9h0M150.3 63.9h0M89.4 83.7h0M99.1 126.5h0M122.9 105.7h0M134.7 60h0M113.4 97.4h0M118.4 92.4h0M85.4 84.1h0M138.5 66.2h0M116.3 95.6h0M97.4 76.4h0M114.4 95.3h0M151.9 81.3h0M92.8 94h0M122.5 99.3h0M108.9 84.6h0M102.3 80.1h0M72.1 96.3h0M119.5 74.2h0M76.4 107.7h0M113.3 68.7h0M97.9 87.2h0M111.8 85.6h0M127.5 58h0M103.5 65.6h0M75.7 129.8h0M126.1 75.8h0M109.1 87.6h0M76 93.6h0M118.4 86h0M142.1 65.4h0M102.6 112.9h0M83.5 125.1h0M97.3 79.8h0M131.2 85.6h0M116.7 79.5h0M145.1 81.8h0M119 103.8h0M86.9 108.8h0M82.3 108.4h0M85.7 88.9h0M87.5 71.4h0M129.1 61h0M97.3 71.8h0M113.6 91.3h0M99.3 92.8h0M132.3 73.5h0M101.8 83.2h0M83 98.3h0M86.5 110.5h0M104.2 63.9h0M85.6 84.6h0M80.9 110.9h0M93.3 79.4h0M124 90.2h0M77.3 132.3h0M100.6 73.3h0M81.2 118.8h0M94.8 82.8h0M101.2 88h0M92.3 75.1h0M84.1 92.7h0M123.9 94.1h0M144.9 41h0M92.6 98.6h0M59.7 130.6h0M151.1 61.2h0M108.9 98.8h0M111.9 102.2h0M127.9 72.6h0M40.4 99.1h0M101.1 95.2h0M101.9 96.6h0M93.8 103.6h0M131.8 69.6h0M103.4 64.6h0M104.8 74.5h0M97.3 90.2h0M107.1 91h0M115.2 102.2h0M134.7 69.9h0M93.6 70.1h0M106.4 74.7h0M96.6 67.8h0M62.8 129.4h0M107.7 65.7h0M139.9 79.5h0M133.3 81.3h0M104.9 72.6h0M98.9 73.5h0M111.9 92h0M99.4 104.3h0M117.1 115.8h0M92.5 97.2h0M100.7 74.9h0M125.9 99.9h0M74.6 117.4h0M127.4 109.1h0M91.3 103.6h0M99.3 98.1h0M83.4 109.8h0M135.2 84.5h0M99.1 98.2h0M100.9 72.4h0M120.6 89.5h0M119.6 87.4h0M86.2 108.1h0M92.2 109.7h0M87.9 102.6h0M90.9 81.8h0M121 108.3h0M90.9 99.9h0M105.1 88.6h0M143.5 75.4h0M95.8 87.4h0M133.5 61.9h0M117.8 71.5h0M143.5 68.2h0M87.8 90.6h0M88.6 113.2h0M141.1 55.2h0M108.2 112.3h0M106.2 76.2h0M104.1 88.3h0M115.4 107.3h0M113 94.7h0M172.1 90.4h0M88.9 96.5h0M118.8 88.6h0M90.2 114.9h0M131.4 108.6h0M112.2 65h0M108.2 95.3h0M134.2 61.4h0M125.7 81.5h0M78.9 117.9h0M105.2 78.8h0M135 74.5h0M120.2 67.4h0M118.9 107.6h0M119.7 68.2h0M127.5 75.7h0M92.7 92.5h0M141.7 72.7h0M149.8 70.8h0M132.4 65.3h0M75.4 117.6h0M128.6 74.6h0M112 79.6h0M96.5 122.7h0M118.3 94.1h0M88.9 121.4h0M120 78.9h0M111.4 73.5h0M126 93.4h0M97.7 101.3h0M109.4 79.8h0M64.3 109.2h0M91.4 97.9h0M90.4 91.5h0M131.6 80h0M98.8 101.8h0M83.6 106.2h0M116.9 105.3h0M103.1 105.4h0M118.6 99.6h0M139.8 77.8h0M119.4 87.8h0M125.2 92.9h0M84.5 118.7h0M90.7 103.3h0M131.9 66.9h0M128.9 87h0M100.6 89.9h0M124.8 60h0M99.2 93h0M89.7 83.7h0M188.2 59.2h0"/>
<path d="M110.5 95.2h0M91.1 89h0M74.2 109.3h0M98.8 81.2h0M130 78.7h0M110.6 104.4h0M96.8 68.6h0M122.6 82.4h0M111.8 113.4h0M93.8 105.3h0M92.2 124.8h0M106.9 111h0M108.8 120.8h0M116.1 87.6h0M93.1 99.8h0M119.5 82.3h0M128.3 79.6h0M116.4 74.5h0M111.9 75h0M90.3 87.3h0M78.1 117.5h0M109.5 68.9h0M88.7 99.8h0M123.7 91.8h0M83 108.4h0M99.4 83h0M84.8 112.7h0M124.6 103.3h0M92.2 122.9h0M89.5 78.9h0M104.5 100.6h0M119.2 78.8h0M113.1 93.2h0M107.6 62.3h0M103.6 93.8h0M98.9 120.5h0M110.2 114.5h0M119.3 77.9h0M142.9 58.4h0M108.1 72h0M109.2 79.3h0M127.2 96.6h0M64.3 103.7h0M67.6 99h0M67.6 120.5h0M120.6 79.6h0M118.3 103.2h0M87.7 92.9h0M68.4 126.7h0M90.9 94.8h0M103.5 86.6h0M110.4 93.7h0M106.4 95.3h0M94.1 97.7h0M131 84.6h0M102.7 105.7h0M75.4 82.6h0M85.6 96h0M135.6 60.5h0M96.7 92.4h0M115.9 82.4h0M103.4 68.6h0M96.6 93.8h0M104.9 79.5h0M107.3 83.5h0M96.5 132.5h0M87.2 93.8h0M90.3 110.2h0M112.4 76.6h0M123.9 76.3h0M119.6 104h0M136.4 83.6h0M107.7 99.2h0M106.6 85.1h0M121.1 60.3h0M98.6 77.2h0M103.6 78.1h0M90.2 87.9h0M106.5 69.6h0M116.8 104h0M119.8 69.6h0M59.8 114.1h0M114.6 83.2h0M117.6 108.9h0M120.7 101.8h0M120.7 79.8h0M65.3 100.6h0M55.4 108.6h0M115.2 80h0M108.4 77.9h0M105.4 99.6h0M79.6 97h0M130.7 82.8h0M91.3 80.8h0M153 77.1h0M111.6 111.3h0M106.5 87.4h0M89.3 105.9h0M78.1 135.6h0M149.5 83.7h0M146.9 70.7h0M117.8 62.8h0M97.5 85.6h0M109.7 102.9h0M116 84.4h0M97.3 96.3h0M96.1 94.4h0M107.7 109.9h0M123.1 99.6h0M96.1 118.2h0M122.3 72.7h0M119.8 89.2h0M115.4 53h0M117.8 109.4h0M121.6 68.6h0M106.1 83h0M75.9 115.1h0M95.2 72.7h0M86.4 123.5h0M68.3 103h0M124.9 87.5h0M93.6 91h0M106.2 80.8h0M75.8 128.3h0M125.2 67.6h0M70.6 115.6h0M103.9 79h0M104.6 88.3h0M148.8 82h0M129.9 92.6h0M110 103.3h0M110.6 119h0M132.6 75.2h0M82.7 105.2h0M108.7 71.7h0M83.6 105.6h0M125.1 85.1h0M124.7 81h0M65.2 97.6h0M91.5 125.4h0M129.8 88.2h0M106.2 66h0M73.7 103.6h0M96.4 91.7h0M104.9 66.5h0M81.3 90.1h0M101.1 98.2h0M113.1 90.5h0M143.3 77.6h0M83.1 117.6h0M128.9 89.4h0M79 83h0M132.2 98h0M78 97.5h0M114.6 95.2h0M82.6 99.1h0M154.4 78.4h0M95 106.9h0M108.3 78.9h0M110.5 84.3h0M94.7 93.2h0M64.9 140.7h0M96.7 124.1h0M112 78.8h0M108.1 95.9h0M129.8 99.2h0M89.5 116.4h0M86.8 108.7h0M108.1 86.1h0M113.7 87.9h0M136.5 63.3h0M102.1 71.4h0M105.6 105.6h0M80.1 114.6h0M122.1 91.4h0M132.4 92.9h0M115.4 71.8h0M113.6 99.2h0M90.1 95.3h0M85.2 66h0M112.8 66.2h0M136.3 82.8h0M97.6 93.4h0M138.9 89.7h0M133.4 85.3h0M112.7 104.9h0M113 94.6h0M121.5 82.4h0M114.3 79.1h0M126.6 93.7h0M76.5 123.8h0M84.1 106.8h0M83 103h0M127.1 70.3h0M115.9 89h0M121.5 92.2h0M103.8 86.4h0M133.4 62h0M164.6 71.2h0M108.9 85h0M76.4 124.7h0M102.7 89.1h0M94.6 65.8h0M118.7 74.2h0M121.2 85h0M90.6 66.4h0M142.6 91.6h0M55 102.2h0M80.3 114.4h0M95.3 98.3h0M108.1 116.1h0M98 99.9h0M108.6 79.8h0M123.8 102.2h0M124.9 87.5h0M142.5 62.9h0M95.8 76.7h0M132.4 83.8h0M80.6 117h0M85.6 81.3h0M140.4 74.5h0M109.2 68.8h0M79.7 116.5h0M109.3 107.5h0M99.7 100.4h0M83.2 90.2h0M152.1 86.6h0M106 80.2h0M108.5 113.2h0M95.4 98h0M65.1 91.1h0M91.5 86.5h0M96.5 99.4h0M131.5 74.1h0M101.3 121.8h0M113.5 86.3h0M104.6 93h0M117.3 96.4h0M93 89.9h0M124.6 99.3h0M111.2 112.3h0M82.5 96.6h0M91.3 94.8h0M129.5 60.2h0M77.6 115.6h0M122 75h0M111.1 66.7h0M104.7 86.8h0M103.9 89.7h0M131 80.3h0M128.5 105.3h0M118.8 99.3h0M112 100.3h0M123.2 66.5h0M90.7 81.7h0M82 95.2h0M86.2 130.5h0M114.1 87.7h0M94.4 95.2h0M93.4 72.5h0M112.8 88.3h0M104 76.5h0M86.2 93.4h0M103.5 82.9h0M125.8 93.8h0M99.3 80h0M103.3 117.4h0M89.7 98.7h0M89.3 87h0M83.2 72.2h0M104.6 80h0M103.9 82.1h0M97.4 95.7h0M107.6 89h0M122.9 76.1h0M87.6 74h0M88.6 123.2h0M118.9 94.3h0M116.5 83.5h0M133.1 58.9h0M96.9 95.4h0M98.9 123.8h0M143.4 87.5h0M136.1 88.8h0M111.2 94.2h0M116 82.5h0M94 124.1h0M87.5 107h0M142.8 75.3h0M79.4 97.1h0M97.7 122.5h0M88.2 127.2h0M126.1 71.5h0M90.7 81.3h0M109.4 80.2h0M109.7 93.9h0M121 84.9h0M129.9 91.2h0M95 86.7h0M120.9 89h0M109.9 80.4h0M91.8 118.6h0M113.9 104.3h0M54.3 114.5h0M104.4 102.7h0M80.3 121.4h0M131.7 98.8h0M118.8 95.4h0M103.8 75h0M137.3 96.5h0M109.4 89.7h0M121.5 90.3h0M110.5 90.7h0M126.4 82.9h0M83.3 113.3h0M147 85.2h0M112.3 111.8h0M129.1 67.3h0M106.8 68.4h0M85.7 106.6h0M100.9 81.7h0M102.2 129.3h0M105.1 94.5h0M132.5 59.4h0M103 73h0M111.8 97.4h0M76.2 86h0M112.8 92.4h0M131.3 58.5h0M110 75.8h0M114.7 96h0M132.5 82.6h0M125.5 68.2h0M137.9 95.4h0M106 73.8h0M76.2 115.1h0M97.7 82.2h0M120.8 74.5h0M140.9 72.5h0M92.2 105.1h0M100.7 86h0M88.6 96.1h0M81.2 132.4h0M108.8 118.2h0M104.3 71h0M59.2 111.7h0M98.8 105.8h0M123.1 66.7h0M114.4 63h0M69.7 107.2h0M141.9 77.5h0M95.3 106.6h0M120.6 86h0M97.9 90.9h0M131.2 74h0M116.6 88.2h0M80 100.5h0M120 58.7h0M101.2 83.9h0M155.2 71.3h0M99.3 95.8h0M82.9 90.4h0M121.1 60.3h0M83.1 112.9h0M123.4 78.9h0M66.1 104.4h0M116.7 75.5h0M101.3 83.4h0M142.3 99.4h0M83.3 103.8h0M84.7 111.9h0M103 72.6h0M116.5 74.9h0M106.2 88.1h0M94.3 143.2h0M86.9 119.4h0M92 113.3h0M89.2 90.2h0M95.9 101.9h0M123.9 89.7h0M92.3 112.7h0M103.5 110h0M88.5 96h0M82.7 120.7h0M81.2 86.9h0M94.1 98.4h0M99.6 128h0M87.9 94.7h0M132.4 100.2h0M120.3 80.3h0M87.2 86.1h0M110.2 89.3h0M120.1 71.5h0M96.6 99.9h0M119 113.7h0M79.7 119.3h0M121.1 69.4h0M123.1 80.6h0M113.6 86.2h0M126.3 84.4h0M94.7 91.7h0M106.6 99.6h0M96.8 80.9h0M95 118h0M108 79.3h0M70.1 114.6h0M102.1 94.7h0M115.6 62h0M107.6 77.3h0M122.6 82.2h0M116.3 75.9h0M108.1 81.8h0M97.2 90.1h0M96 97.5h0M125.1 117.4h0M70.6 102.4h0M110.8 79h0M98.7 98.6h0M114.2 96.7h0M79.8 106.9h0M100.3 99.1h0M108 82.7h0M109 111h0M130.8 79h0M86.4 99.5h0M64.6 77.2h0M68.2 113.2h0M80.9 104.8h0M118.4 68.6h0M123.3 103.9h0M78.6 108.9h0M136.5 84.3h0M145 73.8h0M101.1 59.9h0M140 76.6h0M114.2 92.2h0M117.8 98.2h0M110.8 78.4h0M135.7 74.6h0M90.6 88.4h0M171.7 78.5h0M146.9 66.7h0M102.6 75.1h0M129 100.9h0M111.3 92.7h0M113.8 78.2h0M110.3 99.1h0M106.6 53h0M107.5 124.8h0M127.3 91.7h0M118 96.2h0M105.7 114.2h0M103.6 89.5h0M121.2 95.2h0M108.7 110h0M127.3 77.4h0M81 100.3h0M76.5 128.1h0M116.1 92.4h0M107.6 104h0M109.7 100.6h0M88.2 97.5h0M91.8 96.8h0M91 109.9h0M103 111.8h0M81 110.7h0M95.2 91.6h0M109.7 78.3h0M129.4 72.4h0M135.5 79.7h0M118.9 65.7h0M93.6 97.9h0M100.9 110.5h0M105.7 80.1h0M106 99.9h0M88.8 67.4h0M142.3 94.1h0M88.3 119.2h0M91.9 69.1h0M118 58.4h0M113.6 73.3h0M117.1 105.9h0M89.8 72.2h0M129.3 88.2h0M69.8 106.1h0M141.3 79.9h0M105.7 105.6h0M116.4 86.7h0M107.4 96.3h0M96.7 98h0M102.8 115.5h0M73.2 128.6h0M82.7 96.1h0M115.8 107.2h0M119.8 52.6h0M101.2 79h0M124.4 103.5h0M93.6 98.4h0M127.2 92.2h0M90 92.1h0M102.5 112h0M95 107.4h0M110.3 98.4h0M116 108.4h0M75.8 106h0M112.1 78.6h0M92.4 120.3h0M96.7 118.4h0M137.8 90.8h0M123.6 72.8h0M78 104.4h0M105 76.2h0M121.3 82h0M116.7 80.4h0M103.7 84h0M111.7 81.3h0M76.9 105.2h0M127.1 68.9h0M115.8 84.2h0M95.5 68.3h0M125.6 85.6h0M94.7 120.4h0M92 102h0M101.9 107.3h0M104.7 98.2h0M108.7 86.9h0M98.2 121.1h0M79.1 123.4h0M131.7 60.9h0M124.5 88.5h0M115.4 96.3h0M88.4 88h0M100.7 80h0M117.8 78.9h0M88.9 117.7h0M99.9 71.2h0M115.4 80.5h0M101.3 83.4h0M99.4 86.2h0M103.4 102.4h0M120.2 61.3h0M132.8 82.6h0M136.5 66h0M121.9 104.6h0M127.3 82.7h0M93.9 81.8h0M59.6 107.4h0M110.1 69.3h0M77.7 104.7h0M74.5 73.7h0M131.9 85.7h0M81.5 136h0M136.9 75.4h0M99.4 91.2h0M133.4 89.9h0M141.3 99.3h0M116.4 84.2h0M72.8 123.4h0M90.3 85.4h0M126.5 70.4h0M113.2 58h0M150.4 86.3h0M61 125.4h0M113.1 107.6h0M104.5 111.7h0M127.4 68.6h0M98.6 86.8h0M95.2 67h0M65.3 113.6h0M83.5 69.1h0M112.6 90.6h0M75.5 136.8h0M82.7 106.7h0M107.5 77.8h0M126.7 103.1h0M114.5 102h0M115.3 76h0M85.1 106.2h0M127.6 82.6h0M111.3 79.5h0M135.4 68.4h0M128.1 80.9h0M78 106.1h0M109 67.1h0M117.6 76.6h0M103.1 101.2h0M88.5 105.1h0M111.7 80.6h0M106.5 71.1h0M145.1 82.4h0M91.4 131.3h0M101 95.7h0M81.6 117.2h0M82.2 93.8h0M84.6 81.5h0M72.4 110h0M130.9 97.3h0M83.4 108.3h0M73.8 103.9h0M88.3 93.7h0M78.8 94.8h0M87.9 108.4h0M117 87.6h0M97.4 71h0M70.9 84h0M94 137.2h0M83.3 80.1h0M84.1 77.5h0M110 88.8h0M106.1 76.5h0M122.9 88.4h0M117.9 95.6h0M100.3 103.3h0M112.1 104.9h0M102.7 99.6h0M83.4 116.4h0M99.1 89.4h0M119.3 101.9h0M136.2 68.5h0M116.2 78.4h0M87.8 122.7h0M107.9 115.8h0M107.1 103.1h0M89.3 127.1h0M84.8 121h0M81.3 118.1h0M125.4 110.8h0M118.3 93.7h0M70.6 69.9h0M95.5 99.6h0M80.6 107.4h0M128.6 70.2h0M103.6 84.9h0M131.5 54.4h0M146.2 67.1h0M92.1 106.5h0M97.6 109.2h0M122.7 90.5h0M106.4 95.2h0M94.4 89.6h0M72.1 82.9h0M129.7 100.7h0M88.8 102.9h0M74 93.1h0M92.3 135.5h0M72.9 107.6h0M94.9 109.5h0M96.4 103.1h0M115.1 97.7h0M144.8 67h0M112.2 91.9h0M133.2 100.1h0M72.1 95.8h0M87.5 88.2h0M145.6 82.5h0M99.4 109.8h0M98.2 94.7h0M116 84.8h0M103.5 84.8h0M78.3 91.3h0M85 95.4h0M101.2 89.6h0M82.5 91.6h0M128.2 83.6h0M106.9 99.7h0M75.9 108h0M97.5 68.1h0M78.6 105.7h0M101.9 109.7h0M92 114.8h0M129.1 83.8h0M82.4 101.6h0M67.7 111.2h0M83.7 111.6h0M125 79.4h0M105.1 97.7h0M124.1 83.6h0M97.1 88.7h0M128 94.5h0M104 90.1h0M108.8 108.8h0M105.6 64.7h0M138 64.7h0M121.8 81.8h0M104.2 103.4h0M116.1 78.2h0M102.2 90.1h0M90.3 115h0M92.1 86.9h0M104.5 92.9h0M95.2 86.2h0M95.9 92.4h0M124.3 86.9h0M72.5 97.6h0M137 100.8h0M111.5 86h0M106.2 47.1h0M123.9 96.6h0M117.7 102.4h0M112.8 63.4h0M115.3 88.3h0M129.8 96h0M85.3 109.3h0M104.6 75.6h0M127.5 62.3h0M80.3 118.7h0M119.8 89.9h0M139.4 81.7h0M144.3 63.2h0M104.2 87.8h0M128.1 109.7h0M121.3 93.5h0M123.6 93.2h0M129.8 77.8h0M104.5 69h0M77.8 88h0M88.8 118h0M70.8 96h0M94.2 118.4h0M117.7 72.9h0M131.8 61.2h0M111.6 106.3h0M107.8 102.5h0M94.7 60.8h0M79.4 120.8h0M104.4 71.3h0M105.7 61.9h0M78.2 121.8h0M59.1 119.7h0M114.8 71h0M111.1 96.4h0M67 99.9h0M152.8 89.1h0M77.2 103.4h0M81.4 96.9h0M95.9 97.8h0M75.2 130h0M105 79.2h0M115.4 95.3h0M99 108.8h0M138.1 65h0M116.1 92.2h0M86.2 119.6h0M117.5 83.8h0M94.4 88h0M142.3 73.5h0M91.6 112.2h0M74.1 111.3h0M107.8 85.4h0M101.6 92h0M119.9 82h0M102.7 93.5h0M90.7 107.1h0M105.6 67h0M122.1 73.1h0M101.4 87.3h0M90.5 88.9h0M71 117.2h0M82.4 100.6h0M77 85h0M77.6 87.2h0M59.9 106.1h0M123.1 100.3h0M108.4 82.9h0M118.8 87.4h0M133 95.2h0M80.8 103.4h0M102.6 82.5h0M109.9 76h0M114.5 90.9h0M116.9 88.7h0M69.4 117.2h0M127 80h0M113.6 64.6h0M97.6 113.6h0M90.1 114.6h0M85.6 112.3h0M49.3 118.7h0M115.3 121.8h0M98.8 85.1h0M89.5 101.1h0M100.7 67.5h0M127.4 84.5h0M109.3 67.5h0M114.9 65.8h0M108.5 95.5h0M103.3 81.6h0M103.3 83.9h0M100.2 67.5h0M108.2 128.3h0M97.3 110.9h0M74.7 63.1h0M116.4 108.1h0M119.9 75.7h0M96.6 84.9h0M108 95.7h0M97.7 125.1h0M125.3 76.9h0M69.1 103.9h0M36.9 60.7h0M178.6 107.6h0"/>
</g>
<line x1="36.2" y1="122.8" x2="186.0" y2="55.3" stroke="#111" stroke-width="1.05" stroke-dasharray="3.1 1.35"/>
<path d="M29.0 37.2V152.4H194.7" fill="none" stroke="#c6c6c6" stroke-width="0.9"/>
<path d="M31.2 152.4v1.6M50.2 152.4v1.6M69.3 152.4v1.6M88.3 152.4v1.6M107.4 152.4v1.6M126.5 152.4v1.6M145.5 152.4v1.6M164.6 152.4v1.6M183.6 152.4v1.6M29.0 134.5h-1.6M29.0 112.5h-1.6M29.0 90.6h-1.6M29.0 68.6h-1.6M29.0 46.7h-1.6" stroke="#555" stroke-width="0.5" fill="none"/>
<g class="dv" font-size="5.9">
<text x="31.2" y="159.7" text-anchor="middle">−0.8</text><text x="50.2" y="159.7" text-anchor="middle">−0.6</text><text x="69.3" y="159.7" text-anchor="middle">−0.4</text><text x="88.3" y="159.7" text-anchor="middle">−0.2</text><text x="107.4" y="159.7" text-anchor="middle">0.0</text><text x="126.5" y="159.7" text-anchor="middle">0.2</text><text x="145.5" y="159.7" text-anchor="middle">0.4</text><text x="164.6" y="159.7" text-anchor="middle">0.6</text><text x="183.6" y="159.7" text-anchor="middle">0.8</text>
<text x="26.9" y="136.8" text-anchor="end">−1.0</text><text x="26.9" y="114.9" text-anchor="end">−0.5</text><text x="26.9" y="92.9" text-anchor="end">0.0</text><text x="26.9" y="71.0" text-anchor="end">0.5</text><text x="26.9" y="49.0" text-anchor="end">1.0</text>
</g>
<text class="dv" font-size="8.9" y="48.1"><tspan x="37.6" font-style="italic">r</tspan><tspan x="40.5"> = </tspan><tspan x="51.8">0.563</tspan></text>
<text class="lb" font-size="10.35" x="110.8" y="174.0" text-anchor="middle">Predicted 0-back EEA</text>
<text class="lb" font-size="10.35" text-anchor="middle" transform="translate(10.1 94.8) rotate(-90)">Actual 0-back EEA</text>
<g fill="none" stroke="#4088c2" stroke-width="1.95" stroke-linecap="round" stroke-opacity="0.66">
<path d="M328 84.8h0M297.8 86.1h0M310.1 85.2h0M318.9 78.3h0M292.2 104.8h0M287.1 131.4h0M302.8 98.2h0M348.6 64.5h0M327.6 80.2h0M313.8 91.2h0M322.9 87.1h0M337.8 76.6h0M281.8 88h0M304.9 101.8h0M284.5 104.6h0M307.4 116.3h0M330.2 102.8h0M286.4 104.3h0M315.7 91.2h0M296.8 71.5h0M296.9 119.4h0M300.6 122h0M287.8 115.7h0M322.8 106.9h0M309.9 91.9h0M332.7 97.8h0M322.1 85h0M322.7 75.5h0M327.1 104.3h0M300.8 98.5h0M282.9 110.6h0M357.4 57.2h0M288.5 105.1h0M327.4 78.5h0M322.3 105.1h0M301.1 77.4h0M293 94.2h0M296.6 104h0M333.2 84.5h0M296.5 92.6h0M262 107.4h0M296.2 110.3h0M285 121.2h0M310.6 97.3h0M319.1 111.2h0M321.2 92.1h0M290.6 97h0M316.2 88.6h0M265.7 106.3h0M307.8 80.7h0M283.4 134.8h0M305 92h0M270.7 110.8h0M309.9 91.7h0M291.6 91h0M291.6 129.7h0M311.8 91.4h0M321.6 77.2h0M333.7 74.6h0M298.5 92.8h0M339 88.1h0M323.5 118.3h0M338 109.8h0M306.2 107.7h0M296.9 86.7h0M290.2 114.1h0M318.2 90.9h0M337.9 75.3h0M341.1 79.6h0M311.1 80.5h0M290.2 87.4h0M331.8 105h0M319.3 94h0M351.1 55.4h0M274.8 123.2h0M316.6 93.9h0M326.5 73.1h0M324.9 82.4h0M325.4 80.1h0M305 91.8h0M269.6 116.9h0M322 92.5h0M330.3 100.8h0M301.7 106.2h0M315.7 72.1h0M308.7 124.1h0M311.8 104.8h0M299.3 73.4h0M329.1 91.3h0M306.9 98.1h0M325.4 98h0M303.5 111.3h0M287.6 101.8h0M311.9 72.4h0M302.8 76h0M316.9 67.9h0M301.4 122h0M302.2 78.8h0M296.7 116.6h0M319.3 104.9h0M317.9 93.1h0M308.5 121.6h0M305 89.8h0M295.8 98.7h0M285.4 108.2h0M280.1 111.6h0M303 89.2h0M310.9 126h0M303.9 98.4h0M321.8 90.9h0M301.7 94.5h0M282.7 123.2h0M297 96.8h0M305.7 109.8h0M321.3 95.1h0M348.6 68.5h0M350.3 107.2h0M278.3 116.4h0M322.8 114.5h0M307.1 97.3h0M276.1 103h0M328.3 96.4h0M331 71.5h0M276.2 115.8h0M311.3 80.8h0M305.7 119h0M294.3 87.9h0M306.9 113.5h0M300.7 107.5h0M318 94.8h0M312.4 84.5h0M327.2 89.6h0M296.4 95.7h0M318.1 84.1h0M296.4 112.1h0M343.9 81.7h0M280.5 119.4h0M325.5 69.4h0M330.4 92.2h0M322.4 90.2h0M339.1 82.9h0M306.1 104.8h0M349.5 85.6h0M315.9 124.4h0M273.7 122.7h0M297.8 111.6h0M321.2 92.1h0M342.2 93.5h0M325.3 119h0M296.7 96.9h0M295 100.8h0M293.6 120h0M311.1 86.9h0M309.9 88.3h0M314.4 103.8h0M306.9 96.5h0M302.9 99.4h0M343.7 85.7h0M332.8 78.6h0M283.6 128.9h0M300.6 111.5h0M286.2 91.9h0M299 84.5h0M282.3 82.4h0M274.8 92.5h0M312.2 105.8h0M310.9 85.2h0M295.7 129.7h0M291.8 108.7h0M324.9 119.6h0M304.9 109.1h0M331.6 82.3h0M334.2 85.3h0M305.9 81.5h0M324.2 89.5h0M269.2 128.1h0M314.8 125h0M311.4 96.2h0M307.6 87.7h0M308.1 104.7h0M278.1 108.5h0M292.6 111.9h0M348.3 88.7h0M342.6 96.8h0M274 115.6h0M350.8 91.5h0M323.1 108.8h0M265.1 105.8h0M299.5 111.9h0M295.1 120.1h0M291.1 104.8h0M318.6 95h0M275.2 114.9h0M305.8 100.3h0M335.6 83.6h0M300.9 101.1h0M323.7 99.5h0M326.2 71.6h0M321 91.4h0M281.4 113.2h0M327.1 87.8h0M295.9 123.9h0M280.8 99.7h0M287.8 115.6h0M330.9 96.9h0M305.7 115.7h0M328.5 68.2h0M330.7 79.3h0M275.4 124.8h0M262.2 100.1h0M326.2 106.7h0M370.1 65.1h0M312.3 82.1h0M296.7 106.6h0M330.6 92.1h0M300.4 96.2h0M348.4 83.1h0M317.3 87.7h0M294 98.5h0M324.8 89.2h0M304 84.8h0M300.7 89.9h0M334 102.5h0M312.2 110h0M297.8 115.4h0M319.9 83.2h0M354.7 76.5h0M303.8 96.5h0M276 97.2h0M309.7 88.1h0M321.8 100.6h0M312 92.1h0M328.8 88.4h0M316.7 100.4h0M319.5 90.9h0M343.8 90.7h0M322.7 93h0M330 109.7h0M299.2 108.5h0M349 89.7h0M337.6 94.2h0M282.3 105.4h0M302.4 103.3h0M327.2 92.2h0M300.6 114.4h0M313.3 90.6h0M331 93.4h0M308.7 103.3h0M344.1 91.6h0M322.2 107.6h0M332.8 107.7h0M349.9 93.9h0M311.4 87.2h0M303.9 72.7h0M314.3 89.1h0M328.3 88.1h0M306.5 125.2h0M305.6 113.9h0M317.5 78.5h0M300.3 101.4h0M320 96.6h0M298 95.5h0M319 94.6h0M282.8 119.6h0M286 123.3h0M312.6 116.9h0M296.6 89.9h0M317.3 112.5h0M337.5 81.8h0M312.9 96.6h0M320.3 71.2h0M294.3 125.8h0M320.3 93.5h0M312.6 98.4h0M301.5 99.5h0M338.1 90.3h0M308.8 90h0M322.7 106.2h0M285 119.5h0M342.8 98.4h0M344.4 64.8h0M303.6 121.9h0M311 98.5h0M313.5 117.6h0M314.1 97.2h0M285.3 115.2h0M320.5 83h0M331 101.6h0M294.4 114.5h0M278 105.3h0M309.1 92.2h0M362.3 77.5h0M290 84.3h0M284.3 116.3h0M326.4 93.7h0M320.1 76.9h0M305.9 88.9h0M322.1 108.9h0M301.6 91.2h0M318.5 85.2h0M339.8 103.2h0M303.3 108.9h0M324.7 78.2h0M351.9 109.7h0M328.4 80.2h0M308 109h0M338.4 92.1h0M316.2 76.5h0M277 140.5h0M300.7 96.4h0M358.5 65.3h0M322.5 100.6h0M316.3 87.6h0M332.7 111.7h0M316.4 73.2h0M293.2 134.4h0M283.8 97h0M278.9 120.1h0M293 99.1h0M297.6 101.5h0M303.5 115.1h0M329 63.9h0M311.1 96.1h0M329.2 85.7h0M300 101.5h0M317.3 82.9h0M303.5 114.6h0M315.3 97.4h0M330.7 97.2h0M310.8 84.7h0M338.4 77.6h0M279.9 112.1h0M330.3 76.5h0M333.1 88.3h0M307.2 114.7h0M303.7 88.4h0M319.4 88.1h0M277.3 99.2h0M341.1 73h0M288.5 81.9h0M279 119.5h0M315.7 126.8h0M323 98.5h0M288.8 122.3h0M322.8 104.7h0M305.7 85.8h0M322.8 108.6h0M318.1 99.5h0M325.1 92h0M307.4 82.3h0M296.1 94.8h0M284.6 115.1h0M329.6 81.9h0M306.4 94.9h0M327.5 99.6h0M275 118.6h0M313.6 90.5h0M316.2 93.7h0M294.2 112.9h0M308.5 86.6h0M359.4 88.2h0M330.6 82.2h0M326.7 99.3h0M293.7 138h0M283.2 116h0M302.4 90.2h0M309.5 103.6h0M286.9 83.5h0M336.7 112.9h0M306.4 105.7h0M328.3 88.8h0M296.6 120.6h0M317.5 101.3h0M297.1 91h0M321.6 97.8h0M302.2 108.4h0M310.3 88.9h0M312.3 92.6h0M312.5 100.2h0M307.2 99.3h0M307.7 87.8h0M295.4 138.5h0M300.3 78.3h0M345.8 67.4h0M286.3 122.9h0M288.2 88.8h0M299.5 114.3h0M326 108.3h0M280.8 128.2h0M296.8 93.3h0M290.4 78.1h0M297.2 91.9h0M340.5 93.7h0M286.8 110.1h0M281.3 108.5h0M335.9 70.8h0M324.9 93.1h0M297 105.1h0M325.4 91.2h0M339.1 89.8h0M313.2 101.6h0M324.2 124.8h0M343.1 88.7h0M324.8 103.3h0M309.8 98.4h0M299.2 103.1h0M294.2 98.1h0M317.2 89.5h0M284.7 99.7h0M334.9 75.5h0M372.5 67.8h0M329.8 74.8h0M327.1 101.5h0M301.5 81.1h0M321.8 100.2h0M305.7 80.3h0M299.6 110.5h0M324.8 93.9h0M280 118.9h0M315.6 100.3h0M307 92.2h0M310.4 110.2h0M316.2 90.4h0M324.5 105.8h0M343.3 72.7h0M311.1 114.8h0M282 108.6h0M328.5 75.3h0M292.9 102.5h0M317.2 91.5h0M339.4 73.6h0M321.7 102.1h0M345.1 68.8h0M340.6 83.6h0M291 113.2h0M305.8 71.3h0M286 111.5h0M335.4 73.6h0M324.9 68.1h0M322.5 78.9h0M315 101.4h0M336.1 78.1h0M302.9 93.6h0M301.7 109.5h0M328.6 92.8h0M308.5 96.8h0M330.3 111.9h0M313.1 76.8h0M334.5 102.4h0M312.7 98.5h0M299.7 105.2h0M300.5 103.2h0M299.8 94.8h0M340.8 72.5h0M320.6 102.5h0M298.7 105.6h0M282.6 101.6h0M284.8 107.3h0M330.6 93.9h0M303.9 105.4h0M311 82.8h0M316.4 88.9h0M304.1 73.8h0M313.6 103.9h0M338.7 72h0M334.4 114.5h0M321.7 79.5h0M321.7 79.8h0M322.8 98.5h0M281.8 105.2h0M278.7 90.5h0M301.3 83.2h0M311.3 99.9h0M307.9 84.6h0M285.2 98.9h0M317 128.1h0M315.2 80.8h0M331.2 90.8h0M311.9 101h0M311.8 72.3h0M322.7 88.4h0M248.6 109.4h0M328.4 76.7h0M352.2 86.4h0M325.1 73h0M359.7 92.6h0M324.4 97.5h0M334.2 100.3h0M310.1 109.6h0M304.4 114.3h0M296.6 112.1h0M276.9 131.6h0M316.8 92.6h0M354.5 71.6h0M287.4 117.7h0M323.7 63.8h0M277.1 108.2h0M296.5 105.2h0M328.7 100h0M285.6 113.1h0M352.4 72.5h0M347.3 88.7h0M339.6 75h0M349.8 92.4h0M301.9 95.3h0M291.3 98.2h0M311.1 112.5h0M255.6 127.7h0M268.6 103h0M289.6 125.9h0M285.9 144.5h0M306.2 104.9h0M318.6 68.7h0M279.7 97.3h0M303.7 90.9h0M326.3 98.6h0M311 82.9h0M296.8 92.2h0M340.7 107.6h0M310.4 108.5h0M324.7 104.8h0M330.7 105.6h0M343.3 68.8h0M368 80.7h0M312.7 112.5h0M294 114.7h0M322.3 108.3h0M317.6 110.8h0M307.2 123.6h0M315.3 115.4h0M314.6 91.3h0M362.6 70.5h0M310 71.7h0M309.4 96.6h0M295.3 96.9h0M284.3 108.2h0M295.5 110.6h0M330.1 77.6h0M320.2 77.1h0M317.5 110.6h0M340.3 87.7h0M337.1 77h0M322.5 81.8h0M315.4 89.4h0M315.2 68.4h0M334.6 71.8h0M327.3 76.7h0M318.3 117.5h0M308.1 108.9h0M336.3 85.3h0M298 93.8h0M296 81.6h0M300.5 87.3h0M316.8 76.9h0M261.9 124.2h0M329.8 87h0M325.3 102.5h0M295.2 118.7h0M338.1 114.9h0M308.1 116h0M327.2 88.1h0M274.8 118.3h0M363 102.2h0M275.9 99h0M329.4 95.3h0M311.2 70.1h0M333.4 72.1h0M311.7 94.3h0M330.7 105.7h0M317.3 85.9h0M329.2 86.6h0M342.2 77.2h0M333 73.8h0M280.8 92.6h0M331.1 73.4h0M276 115.2h0M313.3 116.4h0M321.7 89.3h0M305.2 99.5h0M315.2 81h0M344.7 68.1h0M321.6 111.8h0M295.7 102.2h0M288.6 107.2h0M283.1 100.4h0M320.5 86.2h0M324 129.5h0M337 77.8h0M350.2 86.3h0M320 92.3h0M306.4 95.9h0M312 83h0M323.1 104.4h0M349 74.1h0M299.2 106.2h0M355 70.2h0M283.9 126.5h0M336.8 109h0M318.4 75.3h0M295 99h0M339.4 70.6h0M326.6 97.7h0M311.1 96h0M325.6 82.6h0M334.9 76.2h0M321.4 86.6h0M345.5 70.6h0M316.3 95.4h0M292.4 96h0M297 116.8h0M327.7 74.5h0M320.2 98.5h0M326.9 90.5h0M297.8 89.5h0M313.1 101.2h0M332.9 75.9h0M300.3 93.7h0M313.9 89.4h0M314.7 92.3h0M307.6 97.8h0M279.2 107.4h0M334.2 96.5h0M326 93.5h0M340.5 78.8h0M300.2 90.7h0M294 121.9h0M346.8 63.9h0M288.9 101.6h0M300.1 102.6h0M298.4 113.6h0M322.3 93.7h0M322.5 95.2h0M352.5 84.8h0M340.7 89h0M342.3 100.2h0M311.8 97.1h0M326.8 101.9h0M305 96.2h0M327.9 78.4h0M336.7 76h0M278.3 121.4h0M292.2 111.6h0M287.2 129.7h0M279 93.3h0M342.4 83.3h0M321.1 100.9h0M305.2 80.5h0M258.1 139.3h0M307.1 111h0M309.7 88.1h0M315.6 110.7h0M293.3 113.8h0M357.8 74.9h0M341.2 72.3h0M328.5 100h0M333 91.8h0M357.8 73h0M322.3 101.9h0M342.5 86.5h0M292.9 121h0M294.1 108.5h0M327.3 96.5h0M308.3 109.7h0M322.3 108h0M317.1 87.4h0M319.6 129.4h0M324.5 92.4h0M300.2 97.1h0M294.9 96.9h0M337.7 67.2h0M315.3 106h0M311 97.5h0M301.1 84.5h0M296.1 83.8h0M340 88.8h0M308.5 98.4h0M316.4 66.6h0M316.3 104.9h0M302.7 100.7h0M281.4 116.1h0M343.9 83.3h0M299.1 96.4h0M333.8 67.9h0M290.7 107.6h0M301.1 111.4h0M302.5 97.5h0M305.6 104.1h0M292.2 79.8h0M331.5 114.1h0M312.1 103.4h0M292.3 103.6h0M316.8 107.1h0M378.2 77.1h0M324.3 70.5h0M330.4 69.6h0M348.5 74.5h0M325.2 76.4h0M292.1 93.3h0M289.3 84.8h0M271.2 100.7h0M340.7 86.1h0M306.1 104.7h0M302.2 110.4h0M281.9 85.1h0M340.5 92.3h0M314.8 97.7h0M301.9 108.9h0M294 107.2h0M317.1 93.1h0M307.3 96.7h0M302.7 107.9h0M312.7 95.3h0M323.2 90h0M327.9 85.5h0M331.2 81h0M322.1 83.2h0M339.7 86.9h0M313.4 72.6h0M268.1 110.9h0M326.6 76.7h0M300.9 89.8h0M291.9 109.9h0M312 111.9h0M338.3 75.4h0M339.3 97.8h0M296.7 90.6h0M326 101.9h0M298.6 97.7h0M315 96.5h0M313 84.6h0M286.9 107.3h0M306.6 109.5h0M281.8 97.5h0M290.7 114.4h0M331.3 82.9h0M329.6 71.8h0M303.6 101.6h0M316.6 92.7h0M299.1 113.3h0M247 133.8h0M342.9 103.8h0M312.5 103.4h0M292.2 119.1h0M304.2 104.9h0M293.1 92.2h0M332.1 111.7h0M312.6 88.9h0M254.6 99.3h0M274.8 101.4h0M350.8 70.4h0M322.5 112.4h0M330.1 93.4h0M297.9 87.1h0M305.7 99.4h0M316.7 124.1h0M338.6 81.1h0M328.9 86h0M303.4 89.9h0M351.4 81.7h0M308.6 73.1h0M315.4 87.2h0M308.4 94.4h0M294.7 103.9h0M311.9 103.6h0M340.9 87.8h0M282.8 123.5h0M316.5 86.6h0M326.7 73.7h0M337.1 63.2h0M287.2 104.6h0M291.8 113.5h0M342.1 73.4h0M337.5 114.6h0M328.5 98.3h0M305.2 85.1h0M311.1 115.9h0M304 98.5h0M293.8 93.8h0M304.9 82.8h0M309.9 112.9h0M268.8 95.3h0M315.9 95.8h0M289.8 95.4h0M335.9 67h0M328.7 102h0M296.1 105.2h0M316.8 100.6h0M306.6 119h0M348.5 104.6h0M361.8 92.2h0M297 121.4h0M303.6 99.1h0M296.4 72.7h0M290.6 106.9h0M277.2 89.3h0M313.7 100.1h0M284.7 112.3h0M280.8 120.8h0M296.7 102.2h0M297.9 82.4h0M294.1 122.9h0M355.2 67.5h0M327.6 94.4h0M290.8 95.3h0M295.6 88.7h0M257.4 106.3h0M303.1 96.2h0M350.9 68.2h0M324.2 78.1h0M301.1 91.5h0M335.5 78.7h0M343.4 74h0M306.8 95.4h0M295.4 112.6h0M312.8 102h0M324.8 79.5h0M333.6 116.8h0M318.6 92.8h0M282.2 133.6h0M302.9 123.8h0M330.9 107.7h0M308.8 115.9h0M325.5 86.5h0M288.8 104.9h0M282.8 95.8h0M293 104.7h0M301.4 109.6h0M371 77.4h0M283.6 105.8h0M313.5 99.9h0M332.6 99.6h0M339.3 111.8h0M300.5 110.4h0M319.4 86.6h0M346.4 94.6h0M298.2 113.7h0M310.3 81.4h0M289.4 96.4h0M335.1 110h0M330.4 101.3h0M288.1 74h0M312 105.4h0M329.5 86.2h0M333.1 93.2h0M301.2 97.4h0M325.9 101.3h0M325.5 114.8h0M328.9 83.4h0M299.1 107.7h0M318.8 84.2h0M349.6 53.7h0M292.5 113h0M328 92.7h0M324.4 96.3h0M291 90.3h0M327.3 104.5h0M322.1 92.7h0M240.1 99.3h0"/>
<path d="M364.5 58.9h0M296.4 106.1h0M281.3 116.1h0M271.1 108.2h0M279.4 106.4h0M285.8 101.5h0M332.6 88.9h0M293.9 109h0M302.5 95.3h0M332.7 78.6h0M302.9 100.1h0M319 73h0M283.2 107.7h0M325.4 91.1h0M274.4 119.8h0M308.6 125h0M328.3 83.9h0M291.9 123.6h0M321.9 97.3h0M319.4 81.4h0M289 123.7h0M276.5 125.5h0M309.9 95.8h0M302.1 86.4h0M297.2 115.7h0M300.4 125h0M343 86.3h0M322.5 106.3h0M328.7 102.4h0M277.8 127.1h0M312.4 115.6h0M315.6 102.3h0M301.6 108.9h0M344 62.7h0M281.5 122.7h0M332.8 88.9h0M336.2 89.1h0M301 98h0M292.2 107.8h0M288.4 90.1h0M321.9 92h0M308.2 94.3h0M321.5 87.6h0M321.7 89.6h0M302.3 115.3h0M300.5 115h0M330.9 75.3h0M300.4 113h0M324 97h0M289.9 94.2h0M286.8 95.3h0M281.8 106.6h0M294.5 99.6h0M300.4 115.2h0M319.4 94.5h0M318.8 79.6h0M320.7 68.7h0M328.8 108.9h0M346.5 126.5h0M332.2 87h0M330.6 101.2h0M311.8 96.1h0M297.2 113.7h0M289.3 129.4h0M298.8 91.5h0M333.5 71.2h0M315.8 95.4h0M281.9 116.7h0M340.3 80.6h0M330.6 80.4h0M312.4 105.1h0M305 102.3h0M330.1 80.1h0M290.5 118.8h0M336.8 99.4h0M321.6 84h0M273.9 127.8h0M278 122.7h0M314.1 74.8h0M296.6 85.5h0M299.4 116.9h0M346.2 74h0M289.6 115.9h0M271 138.6h0M336.8 95h0M359.7 67.3h0M298.8 111.3h0M291.9 124.2h0M310.8 105.1h0M350.6 77.1h0M305.1 84.4h0M332.3 88.2h0M292 107h0M280.5 99.6h0M310.6 83.2h0M322.8 97.5h0M337.1 87.4h0M334.2 67.1h0M313.2 97.5h0M303.2 72.1h0M291.2 97.8h0M290.2 77.8h0M281.9 113.4h0M316.3 104.9h0M248.1 129.6h0M280 122.6h0M322.2 99.9h0M330.9 90.2h0M333.3 102h0M298.2 121.5h0M284 104.4h0M316.5 111.4h0M302.1 100.4h0M278.8 115.3h0M300 99.6h0M307 113.8h0M306.6 99.4h0M315.1 99h0M283.6 124.8h0M289.5 115.9h0M318.1 95.9h0M328.1 80.3h0M343.1 90.5h0M348.6 70h0M317.2 114.4h0M315.9 91.6h0M296.2 96.6h0M330.7 81h0M324.7 67.1h0M280.3 111.5h0M315.8 112h0M303.4 101.7h0M308.7 89.4h0M314.1 73.3h0M302 89.2h0M286 85.6h0M308.1 99.4h0M309.7 95.8h0M259.6 119h0M357.6 69.7h0M296.8 86.4h0M338.5 77.4h0M345.4 76h0M324.2 83.8h0M324.5 94.7h0M294.9 110.2h0M345.8 95.9h0M320.1 89.9h0M317.1 90.5h0M300.9 85.1h0M309.1 103.8h0M318.8 103.4h0M309.1 96.1h0M292 114.8h0M376.9 68.4h0M314.6 94.2h0M309.4 87.3h0M295.4 114.2h0M303.2 106.8h0M316.8 104.5h0M326.8 98.6h0M284.7 110.7h0M317.7 115.8h0M287.3 111h0M315.1 69.3h0M284 100.1h0M294 105.9h0M318.4 90.2h0M287.3 97.8h0M310.9 118.3h0M347.8 104.1h0M326.2 111.5h0M300.5 84.3h0M312.7 92h0M330.2 97.3h0M329.9 72.3h0M319.3 101.4h0M324.5 100.5h0M325.4 97.7h0M341.7 57.9h0M320.7 86h0M336.7 91.1h0M301.7 121.4h0M300 96.5h0M308.4 105.2h0M305.1 115.1h0M334.4 96.7h0M340.3 67.7h0M305.7 98.8h0M321.3 97.4h0M287.3 113.4h0M334.5 121.4h0M305.8 88.5h0M301.8 125.2h0M298.8 123h0M272.3 117.7h0M312.7 111.6h0M318.3 77.5h0M319.9 88.9h0M302.4 87.6h0M312.3 84h0M326.5 103.1h0M294.2 85.5h0M292.1 107.4h0M311.7 95.3h0M303.9 84.1h0M339.8 80.3h0M331.7 72.4h0M315.9 125h0M334.1 93.4h0M324.7 78h0M300.1 103.7h0M276.9 110.5h0M321.2 99.8h0M292.2 116.2h0M306.7 98.3h0M302.1 87.4h0M316.9 115.3h0M303.2 119.6h0M313.8 75.9h0M340.8 90.9h0M325.8 90.4h0M360.5 90.5h0M346.2 82.3h0M296.7 93.6h0M327.7 83.7h0M345 80.3h0M280.3 95.9h0M322.5 106.4h0M293.3 103.9h0M322.3 77.4h0M340 90.1h0M322.9 84.4h0M309.1 106.3h0M336.7 109.4h0M325.4 97.6h0M331.9 92h0M315.4 94.2h0M288.9 105.6h0M301.2 118.5h0M320.7 90.1h0M299.9 108.3h0M287 89.1h0M323.2 76h0M316.9 98.7h0M312.3 100.3h0M293.9 124.2h0M331.3 72.2h0M303.5 80h0M266.5 112.6h0M313 88.6h0M328 88.8h0M306.2 123.1h0M317.9 101.3h0M321.1 83.6h0M356.2 56.9h0M303.2 116.9h0M319.9 70.7h0M300.4 88.6h0M328.1 100.3h0M313.8 81.8h0M284.3 105h0M304.8 81.8h0M329.9 70.2h0M290.5 126.1h0M322.5 89h0M325.3 96.3h0M336.4 104.2h0M337 87.7h0M305.4 100.2h0M308.7 74.2h0M292.3 107.8h0M337.2 78.6h0M286.1 114.3h0M304.3 117.1h0M303.1 106.2h0M353.9 68.5h0M281.2 109.7h0M298.9 118.8h0M308.2 83.1h0M317.1 87.6h0M280.9 112.7h0M262.4 132.3h0M314.5 106.6h0M292.8 123.3h0M310.9 93.4h0M314.8 92.9h0M317.1 74.6h0M303.5 126.5h0M303.7 79.3h0M301.1 122.8h0M314.1 93.2h0M304.4 98.7h0M299.6 97.2h0M338.2 69.5h0M313.6 99.9h0M327.3 79.2h0M320.7 96.4h0M331.1 75.6h0M338.5 100.4h0M331.9 86.7h0M337 75.8h0M325.1 85.4h0M325.6 101.3h0M323 86.6h0M320.8 101.2h0M296.8 105.3h0M315.5 85.3h0M316 115.7h0M338.9 56.4h0M306.4 106h0M337.5 84.8h0M279.2 120.6h0M343.8 69.5h0M319.6 99.7h0M335.1 100.2h0M293.8 98.5h0M316 110h0M309.3 87.4h0M305.9 97.4h0M305.7 90.1h0M316.6 91.2h0M323.5 102.6h0M320.3 100.5h0M306.7 97.3h0M302.1 124.6h0M315.7 92.3h0M291.5 105.1h0M322.3 102.1h0M312.3 69.4h0M306.6 121.1h0M321.3 83.7h0M319.5 93.7h0M276.3 111.9h0M338.7 102.7h0M295.2 101.3h0M352.4 84.9h0M330.4 93h0M275.7 129.2h0M301.7 101.1h0M329.6 69.7h0M286 115.2h0M338.3 94.5h0M319.5 121.7h0M321.4 99.3h0M326 68.8h0M333.6 71.3h0M324.6 80.7h0M306.6 114.5h0M304.4 91.7h0M336.9 87.4h0M328.2 96.4h0M319.6 111.7h0M266.8 121.2h0M307.1 99h0M313.9 95.3h0M303.6 102.2h0M295.1 109.7h0M332.4 92.7h0M346.6 88.7h0M307.6 101.8h0M272.1 128.4h0M295.9 108.8h0M273.9 95.2h0M296.3 121.6h0M324.8 90.8h0M330.6 118.1h0M319.2 94.3h0M287.8 125.2h0M266 117.2h0M295.9 90h0M341.8 99.4h0M306.6 107.9h0M298.1 99.6h0M328.5 73.1h0M336.4 97.7h0M328.7 88.3h0M310.9 96.8h0M306 87.6h0M331.2 79.6h0M300 98.1h0M328.1 101.7h0M329.9 104.5h0M339 77.8h0M326.5 100.2h0M275.2 99.3h0M340.2 82.1h0M326.3 93.5h0M335.1 102.8h0M329.9 112.7h0M313.5 119.5h0M325.3 80.8h0M303.7 119.2h0M313.4 120h0M312.4 111.2h0M312.9 100.9h0M298.6 112.5h0M315.7 104.3h0M320.3 108.4h0M285.8 132.5h0M259.3 114h0M256.6 127.4h0M323.6 61.3h0M335.6 86.1h0M320.2 86.3h0M354.6 73.7h0M305.5 91.7h0M354.9 86h0M298.3 101.1h0M307.7 84.6h0M309.4 89.2h0M252.1 125.5h0M341.9 94.2h0M295.8 88.1h0M330.6 79.8h0M351.7 104.1h0M319.4 75.7h0M338.3 101.5h0M301 107.9h0M321.4 72.7h0M300.6 123.8h0M310.4 88.1h0M314.1 81.7h0M301.3 96.8h0M315.2 114h0M329.4 94.5h0M327.7 90.8h0M315.5 108.9h0M318.2 96.9h0M302 88.5h0M295.2 119.8h0M326.6 99.3h0M327.4 66.1h0M285.9 108.1h0M311 90h0M326.8 85.7h0M305.5 79.2h0M306.4 125.4h0M308.5 81.3h0M330 86.9h0M344.9 74.9h0M325.2 99.3h0M336.6 97.8h0M334 120.9h0M329.5 113.8h0M314.5 88.4h0M334.4 70.1h0M294.6 142h0M254.4 131.3h0M342.5 76.4h0M298.6 96.6h0M347.4 91.5h0M275.6 135.2h0M318.9 80.6h0M335.7 107.8h0M322.6 91.5h0M331.9 84.1h0M320.3 104.9h0M306.4 104.1h0M306.5 100.7h0M319 111.1h0M290.2 94.3h0M307.4 86h0M306.6 76.7h0M351.7 75.6h0M284.1 109h0M332.2 89.9h0M317 103.7h0M328.1 76.2h0M278.4 106.9h0M346.6 72.3h0M333.3 64.1h0M348.3 78.7h0M298.5 81.2h0M326.8 88.8h0M323.5 73h0M339.7 72.5h0M316.8 92h0M320.8 85.5h0M326.7 87.2h0M306 102.8h0M327.1 100.6h0M342.1 71.5h0M340 76.2h0M323.8 81.1h0M305.2 100.3h0M303.2 109.7h0M327.9 71h0M295 107.8h0M304.3 81.6h0M293.2 94.7h0M347 94.2h0M289.5 89.5h0M311.9 94.3h0M328.9 85.2h0M295.8 76.2h0M282.3 112.5h0M312.9 88.5h0M347.7 76h0M277.9 105.9h0M313 81.1h0M319.3 87.3h0M320.2 110.1h0M297.9 130.7h0M319.2 115.5h0M360.7 101.5h0M267.4 108.5h0M280.9 118.3h0M329.5 89.4h0M333.8 92.8h0M365.4 63.6h0M306.2 78.3h0M291.1 93.2h0M346.5 77.3h0M323.4 85.5h0M303.7 100.8h0M282.6 117.6h0M314.1 111.1h0M300.1 79h0M323.8 83.5h0M325.5 77.1h0M310 82.3h0M287.8 127.1h0M287.6 113.7h0M313.3 128.4h0M305.3 98.2h0M285.4 108.1h0M309.4 104.4h0M298.2 113.2h0M290.7 104.7h0M301.5 73.8h0M310.7 101.5h0M328.2 87.6h0M312 88.1h0M326.7 100h0M303.9 92.5h0M316 86.6h0M337.7 115.5h0M315.5 84.4h0M318.4 94.3h0M307.7 69.3h0M331.3 80.8h0M303.2 116.5h0M292.9 115.1h0M333.7 106.2h0M263.6 130.5h0M354.8 101h0M289.8 81.4h0M321.5 71.6h0M355.2 91.9h0M279 110.3h0M328.9 90.9h0M324.8 85.3h0M326.7 102.4h0M288.4 88.3h0M310.7 105.1h0M302 126.9h0M349.1 103.6h0M312.8 75.2h0M295.4 125h0M307.5 109.5h0M346.9 78.2h0M300.6 113.4h0M308.6 83h0M311.2 84.9h0M340.5 101.5h0M304.4 121.2h0M321.8 82.1h0M324.1 99.3h0M293.4 94.4h0M283.7 109.7h0M333.2 101.6h0M332.7 92.7h0M307.1 97.8h0M305.9 120.2h0M289.7 128.1h0M331.4 74.7h0M339.2 77.7h0M351.6 81h0M315.2 84.3h0M291.1 111.1h0M313.3 91.2h0M341.7 88.1h0M312.7 107.3h0M292.2 117h0M331.2 85.9h0M316.1 98.7h0M293.9 76.9h0M323.7 80.4h0M290.2 84h0M301.6 97.6h0M297.2 118.1h0M306.2 104.3h0M304 90.7h0M350.4 80.2h0M311.2 106.7h0M328.1 93.3h0M349.2 92.5h0M287.8 112h0M322.7 100.6h0M297.6 87.1h0M290 115.5h0M343.9 79.1h0M337.7 105.3h0M349.7 106.4h0M302.4 102.2h0M310.4 113.5h0M319.7 108.9h0M317.8 97.1h0M343.3 81.9h0M285.4 87.3h0M298.8 78.8h0M325 98.2h0M327.7 94.9h0M316.6 84.2h0M323.2 107.2h0M314.4 85.8h0M292.1 112.3h0M297.6 114.1h0M301.4 97.2h0M303.5 88.7h0M295.8 99.1h0M336.1 87.9h0M308.2 98.4h0M333.4 108.9h0M341 103.2h0M293.7 90.5h0M308.7 115.1h0M307.2 114.4h0M319.1 94.3h0M291.5 97.1h0M299.2 74.7h0M330.7 100.8h0M317.7 71.6h0M308.8 92.1h0M316 106.6h0M350.8 79.8h0M287.5 90.6h0M345.9 62.7h0M288.4 119.1h0M331.8 107.6h0M336.3 93.1h0M295.1 114.6h0M288 116.4h0M338.1 93.7h0M335.8 67.1h0M277.2 131.6h0M363.9 59.7h0M328.1 91.5h0M323.7 112.3h0M308.5 118.7h0M299.5 93.8h0M302 105.8h0M315.3 83.1h0M320.8 74.7h0M322.9 78.9h0M300.2 93.3h0M300.6 124h0M320.6 91.7h0M286 134.8h0M315.4 89.1h0M321.1 103.4h0M332.9 79.1h0M314.4 104.4h0M284.8 100h0M337.5 101.9h0M316.8 98.4h0M339.9 57.4h0M329.4 74.6h0M355.8 108.4h0M330.6 69.9h0M258.8 120.1h0M302.1 90.1h0M334.8 80.8h0M287 114.3h0M297 82.3h0M314.3 107.2h0M305.1 93h0M323.4 80.1h0M311.2 112h0M292.5 106.8h0M276.6 114.7h0M322 102.5h0M312.8 106.2h0M357.3 76.5h0M271.6 104.9h0M305.8 113.9h0M308.7 96.7h0M292.9 119.3h0M322.5 86.5h0M340.7 68.7h0M326.5 98h0M336 97.6h0M346.6 117.1h0M291.7 97.3h0M342.9 99.9h0M307.7 91.8h0M312.1 90h0M326.9 102.5h0M293.1 104.6h0M309.2 107.6h0M328.9 94.4h0M330.5 102.1h0M304.9 83.2h0M276.5 123.4h0M289.9 108.5h0M319.6 95.2h0M341.2 92.3h0M322.9 101.1h0M308.5 99.7h0M326 76h0M302.5 101.5h0M277.2 90.7h0M321.8 97.1h0M312.8 100h0M302.2 107h0M303.7 87.7h0M298.1 117h0M306.1 99.8h0M308 91.5h0M323 95.9h0M299.3 90.5h0M312 102.7h0M351.1 95.3h0M297.5 114.2h0M290.4 74.8h0M313.1 136.3h0M316.9 104.3h0M300.9 96.3h0M336.6 102h0M308 89.8h0M311.7 102.9h0M343.4 87.7h0M293.3 116.9h0M280.8 138.4h0M291.5 111.2h0M327.6 81.2h0M289.9 104.9h0M301.5 118.7h0M318.1 99.4h0M266.3 121.7h0M333.5 82.9h0M297.7 133h0M293 99.2h0M336.1 104.4h0M337.3 84h0M338.9 75.1h0M324.5 75h0M316.4 81.8h0M295.6 108.8h0M291.6 89.3h0M322.5 85.7h0M332.8 71.7h0M342.5 68.2h0M311.7 87.8h0M317.3 97.3h0M320 78.5h0M338.5 114.8h0M326.5 66h0M321.7 87h0M328.3 96.8h0M295.1 118.1h0M331.3 88.3h0M304.5 124.6h0M304.7 88h0M333.8 68.7h0M318.9 110.2h0M321.1 85.3h0M316.4 99h0M354.8 105.1h0M322 90.3h0M299.1 92.8h0M291 102.7h0M355.9 86.2h0M328.8 93.8h0M315.1 100.8h0M302.5 101.3h0M330.2 72.6h0M319.9 103.7h0M296.6 105.8h0M332.2 89.6h0M343.5 78.8h0M353.1 84.3h0M347.8 102h0M308.1 110.9h0M289.1 125.6h0M294.6 95.6h0M314.8 111.9h0M325.7 94.8h0M328 102.5h0M337.7 97.9h0M311.7 97.1h0M314.3 86.1h0M316.4 114.1h0M316 71.7h0M341.1 65.4h0M291.9 101.7h0M335.3 57h0M279.9 110.9h0M313.1 92h0M304.2 105.7h0M303.7 121h0M333.2 88.1h0M274 102.7h0M312 87.3h0M281.5 82.7h0M341.1 99.5h0M338.9 81.2h0M310.8 78.2h0M322 108.9h0M299.3 116.9h0M329.4 84.7h0M247.7 92.6h0M308.4 92.4h0M305.3 99.2h0M297.2 94.5h0M284.5 114.8h0M320.3 81.4h0M354.6 85.5h0M356 71.8h0M268.8 115.9h0M287.9 109.7h0M331.6 82.8h0M298.9 70.2h0M296.1 121h0M321.5 98.8h0M304.8 107.7h0M341.9 87.7h0M301.8 138.2h0M301 109.4h0M318.8 102.4h0M322.8 96.1h0M301.4 113.9h0M312.6 92.6h0M284.4 94.5h0M305.3 75.9h0M322.4 117.7h0M288.7 121h0M341.4 77.9h0M286.7 124.7h0M337.7 89.6h0M255.6 122.2h0M309.1 107.2h0M312.8 125.1h0M317.5 85.8h0M326.5 69.6h0M300 87.8h0M323.7 76h0M312.6 87.4h0M368.6 66.8h0M321.9 75.6h0M315.1 102.6h0M306.2 108.3h0M272 129.4h0M302.6 108.8h0M350.2 71.5h0M328.9 84.3h0M343.1 41.8h0"/>
<path d="M297.5 86.7h0M310.1 119.6h0M303.8 86.3h0M282.1 115.1h0M344.6 77.1h0M289.6 130.4h0M300.2 102.8h0M342.4 72.9h0M301.2 78.1h0M330.7 82.9h0M322.8 99.4h0M287.1 123.3h0M316 97.7h0M347.2 76.8h0M313.3 99.3h0M314 120.8h0M292.7 112.7h0M308.4 100.8h0M329.4 88.2h0M306.5 90.2h0M345.9 70.3h0M294.5 109.4h0M327 80.1h0M340.6 99.1h0M326.1 106.1h0M298.7 107.5h0M309.2 84.9h0M297.3 92.4h0M343.3 99.5h0M282.3 123.2h0M308.5 97.9h0M324.2 70.6h0M308.2 96h0M293.7 96.2h0M329 99.9h0M292.8 133h0M319.4 100h0M314.2 100.8h0M334.9 62.2h0M318.6 93.2h0M314.5 106.1h0M306.2 103.2h0M296.2 90.2h0M315.2 72.4h0M292 80.4h0M296.6 103.6h0M290.6 88.9h0M336.5 125.8h0M273 128.9h0M352.7 86.3h0M299.4 99.2h0M322.9 76.7h0M341 90.5h0M312.5 110h0M334.6 75.6h0M307.6 83.6h0M347.6 67.5h0M311.2 88.6h0M331.9 73.9h0M297.5 91.4h0M316 101.6h0M318.2 77.1h0M297.7 107.7h0M297.3 114.3h0M339 97.2h0M290.5 84.7h0M312.5 93.5h0M324.4 100h0M307.9 111h0M289.2 114.3h0M327.1 86.2h0M330.2 87.2h0M322.2 105.6h0M306.9 105.5h0M316.3 97.3h0M306.2 107h0M338.7 116.2h0M293.3 92.8h0M307.7 117.6h0M289.6 121.5h0M298.3 98.4h0M319 73.2h0M311.1 103.9h0M286.4 110h0M310.6 86.4h0M325.6 59h0M328.8 73.8h0M315.4 96.7h0M286.6 118.3h0M327.4 114.2h0M301.7 116.3h0M300.2 80h0M288.1 81.9h0M326 88.3h0M315.2 83.9h0M307.2 108.9h0M277.7 112.3h0M282.8 123.1h0M304 82.1h0M300 99.4h0M315.4 91.9h0M303.5 120.6h0M343 81h0M309.1 117.5h0M309.1 72.9h0M343.8 94.4h0M332.2 85.6h0M352.2 63.7h0M319.8 112.5h0M327.7 74.6h0M312.4 89.5h0M315.8 101.2h0M334.7 73h0M316.5 81h0M265.7 124.8h0M332.2 80.9h0M334.9 90.2h0M307.5 81.7h0M327.6 100h0M282.4 115.3h0M290.8 82.6h0M303.9 85.7h0M342.9 89.6h0M316.4 95.9h0M316.5 116.8h0M296.1 109.5h0M319.2 100.9h0M294.1 81.9h0M298.2 106.2h0M322.3 85.6h0M291.2 94.5h0M339.2 100h0M265.2 95.5h0M316.2 83.4h0M307.7 94.4h0M303.1 111.4h0M331.5 92.8h0M283.9 88.1h0M354.1 53.5h0M297.2 103.7h0M322.9 97.6h0M311.3 104.8h0M295.3 103h0M306.3 83.8h0M283.9 108h0M301.4 97.8h0M308.1 113h0M310.4 103.6h0M315 106.4h0M293.9 120.7h0M331.3 69.5h0M293 102.2h0M324.6 86.3h0M295.2 87.9h0M301.5 109.5h0M315.1 134.7h0M286.7 104.3h0M280.2 141.4h0M303.4 105.6h0M271.9 127.3h0M297.7 110.6h0M336.2 100.2h0M282.6 124.9h0M316.9 85.2h0M324.3 72h0M322.4 100.5h0M310.9 83.5h0M302.2 92.8h0M285.1 102.8h0M321.8 106.9h0M284.6 117.4h0M312.8 77.3h0M300.7 93.5h0M337.2 89.4h0M347.9 98.3h0M342.6 80.7h0M303.5 100.2h0M258.1 141h0M310.3 102.6h0M319.5 98.1h0M329.9 89.8h0M332.1 79.1h0M344.9 89.3h0M330 96.9h0M333.6 66.3h0M313.4 89.2h0M296.1 99.9h0M351.8 93.2h0M335.7 87.9h0M291.9 134.3h0M314.9 66h0M313.1 101h0M307.8 118.8h0M336.9 94.3h0M285.5 124h0M340.2 85.1h0M308 87.7h0M324.3 80.9h0M294.9 95.4h0M320.6 104.7h0M333.8 87.5h0M376.2 71.6h0M340.6 95h0M298.6 86.8h0M305.3 99.5h0M287.1 95.9h0M279 128.3h0M323.5 82.7h0M321.9 95.1h0M333.6 96.7h0M294.7 116.3h0M325.6 64.8h0M269.3 108.3h0M348.3 92.8h0M326.7 86.2h0M315.5 92.6h0M288 91.1h0M288.5 127.7h0M281 120.9h0M329.1 102.4h0M311.4 96.6h0M281.8 131.3h0M301.1 105.5h0M332.2 93.7h0M328.3 89.3h0M315.4 88.1h0M291.5 110.4h0M326.3 95.4h0M290.4 92.5h0M289 134.3h0M324.1 90h0M310.3 93.2h0M326.4 80.7h0M331.7 71.9h0M321.5 86.4h0M301.5 96.3h0M305.9 101.7h0M345.1 99.4h0M314.9 104.2h0M323 76.5h0M280.1 89.6h0M355.9 88.5h0M316.4 86.8h0M316.8 105.9h0M349.4 85.1h0M313.4 106.1h0M321.8 89.9h0M320.3 66.5h0M312.4 83.8h0M316.8 91.8h0M316.6 98h0M299.7 94.5h0M273.8 91.9h0M341.6 106h0M333.5 145.1h0M326.2 85.3h0M316.2 102.2h0M314.5 93.4h0M316.6 93.9h0M322.2 71.2h0M297.6 105.1h0M323.4 69.6h0M307.8 94.9h0M289.4 121.5h0M315.9 106h0M331.7 66.7h0M335.3 74.2h0M305.6 114.7h0M334.1 78.1h0M300 108.3h0M273.6 88.6h0M304.9 121.5h0M261.7 119.8h0M316 87.1h0M334.6 106.3h0M304.8 104.3h0M324.7 115.6h0M318.1 101.3h0M296.7 108.2h0M315.7 73.4h0M314 69.7h0M292.3 89.1h0M325.1 85.1h0M313.9 91.1h0M308 83.9h0M361.9 75.3h0M334.7 90.2h0M308.8 94.5h0M306.8 103.8h0M314.9 123.9h0M313.2 95.2h0M310.2 92.4h0M331.8 96.1h0M297.7 108.3h0M259.5 122.3h0M325.9 83h0M300.3 85.1h0M330.6 75.5h0M316.3 116.8h0M326.6 104.3h0M285.8 101.1h0M328.1 94.8h0M362.8 75.5h0M324.2 99.9h0M317.3 81.4h0M332.1 93.6h0M340.4 82.9h0M310.8 88.1h0M257.5 121.9h0M298.6 101.3h0M348.5 70.2h0M315.9 89.5h0M301.3 95.6h0M318 80.9h0M325.6 93.8h0M333.2 85.3h0M332.2 87.3h0M291.7 117.2h0M296.7 71.5h0M309.1 110.7h0M285.5 97.6h0M318.5 89.9h0M307.9 113.9h0M327 85h0M337.9 99.7h0M283.8 99.3h0M331.2 90.8h0M310.9 112.9h0M318.1 96.7h0M323.3 121.4h0M299.1 97.7h0M324.3 86.1h0M328.5 69.4h0M288.5 91.6h0M301.2 100.8h0M286.7 97.4h0M344.3 84.5h0M310 98h0M304.1 115.9h0M282.2 125.5h0M335.9 102.9h0M327.5 87h0M340.7 84.1h0M317.9 102.2h0M311.4 94.9h0M344.2 80.6h0M309.1 68.4h0M334 84.6h0M302.7 95.6h0M325.5 58.9h0M306.8 79.4h0M303.7 97.9h0M340.2 82.3h0M312.8 82.9h0M334 85.5h0M328 110.9h0M305.6 79.3h0M294.7 119.5h0M301.7 98.4h0M303.2 113h0M310.9 106.8h0M324.3 74.4h0M319.1 77.4h0M319.6 101.8h0M287.8 100.7h0M333.9 92.3h0M327.8 108.7h0M299 108.9h0M340.9 85h0M286.2 87.1h0M335.5 66.7h0M307.6 110.1h0M327.2 73.3h0M303.7 99h0M284.4 105.4h0M341.2 79.5h0M285.3 130.6h0M289.7 101.6h0M345.1 78.3h0M326.6 97.9h0M344.3 77.3h0M287.3 103.6h0M303.7 109.2h0M300.1 111.4h0M281.5 101.3h0M299.2 135.1h0M322.8 97.2h0M279.9 120.2h0M350.4 72.1h0M272.9 109.4h0M292.7 101.6h0M316.1 89.3h0M318.9 105.3h0M324.9 97.6h0M308.3 103.2h0M369.7 85.5h0M300.8 116.7h0M337.1 68.8h0M313.6 87.3h0M317.6 96.7h0M321 100h0M296.6 119.7h0M315.4 93.2h0M308.4 95h0M316.9 81.8h0M348.1 85.1h0M278.7 124.3h0M309 107h0M305.8 115.4h0M280.3 143.7h0M329.3 84.6h0M338.6 89.7h0M296 102.5h0M314.7 82.5h0M291.4 110.8h0M314 92.9h0M292.1 119.8h0M347 93h0M304.2 99.9h0M330.9 78.1h0M302.2 98h0M301.8 101.7h0M323.2 101.6h0M290.7 109.2h0M297 106.2h0M286.7 99.3h0M340.8 77.1h0M332.7 90.8h0M318.8 122.6h0M311.3 127.7h0M316.5 79.5h0M315.8 105.2h0M311.9 95.9h0M312.3 88.2h0M329.6 110.6h0M305.8 74.8h0M321.3 82h0M314.9 114.4h0M321.9 71h0M324.1 100.9h0M287.4 95.5h0M312.2 98.9h0M325.3 107.2h0M299 88.6h0M338.6 90.3h0M314.2 70h0M324.7 78.9h0M310.1 95.2h0M339.7 114.3h0M317.5 89.5h0M336.9 100.3h0M276.3 95.6h0M284.2 112.1h0M298.8 116.2h0M275.8 111.8h0M299.2 102.6h0M301.1 109.9h0M295.5 103h0M331.4 70.1h0M299.4 122.4h0M333.2 90.3h0M254.2 129.1h0M306.5 94.2h0M332.4 96.7h0M285.8 84h0M271.6 123h0M319 83.9h0M316.4 85h0M361 90.6h0M328.3 73.9h0M336.8 86.8h0M328.6 84.6h0M318.9 98.6h0M330.8 90.2h0M326.1 93.9h0M348.8 90.1h0M301.7 98.4h0M309.2 83.5h0M312.5 115.6h0M332.9 78.9h0M319.7 98.8h0M346.3 83h0M339.9 84.8h0M314 96.8h0M316.2 87.7h0M311.2 84.3h0M340.1 89.2h0M309 73.2h0M310.3 92.4h0M323.2 109.5h0M340.5 85.1h0M301.7 76.8h0M324.9 111.9h0M299.1 99.3h0M293.6 90.5h0M326.9 94.2h0M330.1 87.7h0M322.9 90.8h0M322.7 76.4h0M300.4 125.7h0M341.6 90.4h0M328.6 90.5h0M303.2 108.7h0M315.6 106h0M312.6 105.5h0M288.5 132.5h0M280.8 104.3h0M295.7 80.7h0M293.2 120.4h0M291 111.4h0M293.9 128.4h0M337.1 102.4h0M287.9 116.5h0M347.1 77.5h0M347.3 94.9h0M293.8 93.7h0M294.5 118.9h0M257.4 131.8h0M340.9 101.9h0M308.6 87.3h0M319.6 75.8h0M285.4 78.6h0M278.5 115.9h0M292.4 98.1h0M335.9 71.6h0M311.8 103.4h0M295.8 119h0M310 74.5h0M296.6 89.6h0M329.5 98.1h0M303.6 116.3h0M315.6 98.6h0M322.2 66h0M325.8 99.7h0M309.1 83.2h0M352.9 82.1h0M281.9 123.9h0M350 65.5h0M325.6 93.9h0M292 115.7h0M288 105.9h0M332 106.8h0M288.2 106.3h0M333.1 95.9h0M288.5 110.5h0M314.4 121.4h0M268.3 135.5h0M305 104h0M307 94.6h0M344.4 76h0M320.1 86.6h0M336.7 85.4h0M320.6 76h0M332.9 88.8h0M310.2 120.2h0M305.9 94.6h0M312.7 101.1h0M342.8 90.2h0M289.9 83.4h0M318.2 115.7h0M307.1 90.3h0M311.1 72.2h0M309.9 112.7h0M317 72.7h0M291.7 125.9h0M343.6 97.7h0M311.9 86.9h0M354.6 60.8h0M323.3 100.5h0M295.8 117.7h0M320.3 113h0M285.7 71.1h0M352.6 71.7h0M306.9 102.4h0M337 70.8h0M294 88.2h0M334.5 80.8h0M304.7 84.4h0M285.2 110.9h0M298.4 102.4h0M322.6 94.6h0M343.8 80.9h0M309.9 73.2h0M320.5 94.7h0M307.4 117.1h0M283.7 92.7h0M311.2 70.9h0M301.5 77h0M297 97.5h0M311.8 96.5h0M331.2 99.7h0M302.3 68.1h0M297.1 116.6h0M319.9 102.3h0M295.1 116.1h0M281.9 128.7h0M317.1 103.3h0M316.8 89.1h0M305.9 98.2h0M293 81.8h0M288.4 89.7h0M334.4 87h0M317.8 105.6h0M299.8 82.6h0M328.6 97.3h0M350.7 81h0M329 103.8h0M296.9 94.1h0M331.2 88.9h0M308.8 97.3h0M290 86.3h0M302.3 110.4h0M314.1 93.7h0M286.8 99.1h0M302.6 98.1h0M299.5 94.6h0M339.3 91.4h0M279.3 89.7h0M301.6 125.2h0M336.3 103.5h0M316.7 108.5h0M322.3 91.8h0M345.4 88.4h0M318.7 91.3h0M285.5 112.1h0M305.5 115.5h0M301.7 123.6h0M320.9 86.6h0M343.9 85h0M298.6 102.8h0M313 102h0M343.9 80.2h0M312 108.5h0M312.6 71.7h0M345.9 88.6h0M314.3 81.8h0M303.5 128.4h0M261.4 98.4h0M323.1 95h0M301.6 108h0M285.9 111.4h0M328.5 89.2h0M303.7 99.5h0M290.2 103.1h0M331.8 79.4h0M319.9 78.9h0M323.8 74.6h0M329.7 81.8h0M300.3 94.3h0M331.4 97.4h0M329.8 92.6h0M321.8 112.7h0M269.1 119.4h0M294.4 125.2h0M313.8 109.2h0M284.8 90.5h0M323.4 82.8h0M313.6 96.1h0M293.9 114.3h0M319.3 101.4h0M307.7 117.5h0M301 99.4h0M328.9 67.6h0M284.6 117.6h0M290.3 129.2h0M317.7 98.5h0M293 107.4h0M309.5 115.3h0M287.2 88.8h0M300.6 87.8h0M324.7 91.7h0M312.3 107h0M318.7 90.5h0M355.6 84h0M320.8 89.7h0M310.1 102.4h0M293 115.7h0M322.9 105.8h0M336.4 70.3h0M323.2 84.9h0M332.8 91.6h0M319.9 111.5h0M288.4 91.4h0M313 104.9h0M333.5 92.6h0M336.7 77.8h0M315.4 101.8h0M298.7 94.8h0M267 122.3h0M284.3 99.6h0M301.9 102.2h0M336.5 81.9h0M285.7 113.4h0M345.8 76.7h0M309.3 106.5h0M279 108.9h0M304.8 94.4h0M276.1 114.7h0M305.6 97.1h0M294.2 114.7h0M295.5 123.4h0M323.7 92.1h0M332.2 89.8h0M308.8 123.1h0M286.5 99.3h0M301.7 85.3h0M294.7 103.4h0M282.6 119.4h0M320.7 90.4h0M298.8 115h0M313.4 99.4h0M354.6 86.5h0M293.7 116.5h0M303.5 74.5h0M288.4 99.2h0M313.8 86.3h0M322.9 84.7h0M368.8 68.8h0M317 89h0M282.1 130.4h0M319.8 96.4h0M282.8 119.2h0M310.6 110h0M322.6 90.7h0M280.2 107.8h0M315.7 96h0M305.6 125.6h0M328.4 86.5h0M310.7 76.7h0M301.2 121h0M301.4 94.9h0M291.2 93.3h0M319.7 94h0M301.8 105.3h0M335.1 84.2h0M300.8 114h0M300.5 114.9h0M283 100.6h0M292 100.9h0M287.9 94.8h0M280.9 111.7h0M305.8 91.3h0M312 102.3h0M322 69.1h0M308.8 91.3h0M359.1 75.6h0M308.4 87.7h0M310 105.7h0M307.3 70.2h0M339.4 93.6h0M308.9 98.2h0M292.5 103.9h0M300.4 99.1h0M341.6 58.9h0M314.8 105.8h0M304.9 118.2h0M327.3 66.5h0M315.5 85.3h0M318.8 66.6h0M304.2 109.8h0M295.7 99.5h0M318.6 102.1h0M305.8 104.2h0M286.6 90.7h0M323.2 88.4h0M283.7 104.3h0M307.1 121.6h0M333.1 80.2h0M329.7 80.8h0M309.2 82.5h0M273.8 124.3h0M315.4 74.6h0M310.4 106.3h0M302.6 96.4h0M304.5 96h0M280.9 103.4h0M301 87.8h0M338 83.1h0M305.4 94h0M304.2 94.1h0M305.3 72.3h0M320.5 88.8h0M312.7 99.5h0M301.4 77.7h0M313.8 111.7h0M320.3 92.7h0M308 99.6h0M361.2 83.2h0M295.2 111.4h0M297.9 94.1h0M303.2 100.6h0M332.9 67.3h0M293.1 99.6h0M330.5 79.8h0M309 114.6h0M317.9 98.6h0M300.6 102.4h0M275 114.2h0M285.5 111.3h0M284.9 92.7h0M299.7 109h0M292.7 95.6h0M305.5 123.1h0M291 108.9h0M315.8 103.8h0M306 111.2h0M336 97.7h0M336.8 66.4h0M317.6 101h0M318 74.9h0M300 119.5h0M340.5 60.1h0M302.4 90.2h0M344 98.5h0M319.8 102.9h0M324.8 73.8h0M317.8 94.2h0M287.3 116.4h0M313 84.2h0M302 102.1h0M338.7 88.4h0M309.5 76.1h0M297.6 94.8h0M314.1 88.5h0M318.6 78.4h0M305.7 122h0M342.5 91.6h0M316.9 82.2h0M289.5 131h0M341.3 71.7h0M304.9 99.6h0M332.9 96.7h0M304.8 116.2h0M298.3 86.2h0M339.2 102.3h0M327 71.4h0M311.3 118.3h0M319 78.1h0M306.1 97.1h0M276 100.8h0M330.5 90.1h0M291.2 125h0M333.2 88.3h0M287.4 131.1h0M305.8 106.9h0M326.5 78.6h0M289.8 119.4h0M317.4 73.5h0M300.4 84.7h0M313.4 98.5h0M289.2 100h0M307.7 88.3h0M324 86.1h0M269.6 91.6h0M275.7 107h0M312.8 90.4h0M287.5 93.3h0M391.1 81.7h0"/>
<path d="M319.9 109.8h0M309 88.2h0M286.3 122.8h0M333.8 69.8h0M302.4 83.8h0M300.9 93.9h0M327.1 85.7h0M313.4 87.2h0M331.1 122.3h0M336.6 82.4h0M296.7 110.1h0M288.8 118.5h0M309.5 105.1h0M320.5 101.3h0M283.9 123.8h0M274 93.8h0M331.8 85.7h0M293.9 90.7h0M300.3 113.4h0M316.1 91.7h0M299.8 94.2h0M292.2 113.1h0M316.8 105.3h0M320.9 101.5h0M321.8 101.9h0M314.8 87.7h0M320.3 89.3h0M348.1 88.2h0M292.1 103.3h0M296.9 114.3h0M332.2 88.9h0M309.6 112.4h0M289.1 119.4h0M303.7 119.4h0M330.7 115h0M323.6 76.4h0M282.5 113.8h0M289.9 105.7h0M315.2 97h0M292.2 96.8h0M313.5 101.9h0M315.2 85.2h0M298.4 104.1h0M290.9 119h0M337.3 70.2h0M307.8 101h0M293.2 124.6h0M311.5 93.9h0M331.1 94.6h0M304.5 104.7h0M272.5 84.4h0M299.2 93.8h0M319 101h0M324.4 121.7h0M299.5 91.3h0M300.2 111.6h0M320.1 67.7h0M291 109.8h0M300.4 96.5h0M325.3 103.9h0M291.1 101h0M329.3 95.4h0M314 104.2h0M281.4 132.1h0M321.9 92.6h0M278.5 118.1h0M310.1 117h0M289.6 95.3h0M329.3 78.1h0M336.4 88h0M297.5 107.6h0M343.2 62.9h0M305.8 79.4h0M300.7 71.8h0M290.9 100.5h0M308.2 115.7h0M292.2 118.6h0M317.4 113.6h0M321.5 56h0M319.3 108.7h0M332.9 107.3h0M305 82.4h0M341.5 86.6h0M321.2 94.6h0M332.3 85h0M309.1 77h0M345.2 73.5h0M326.1 103.9h0M350 83.4h0M313.6 101.4h0M324 88.3h0M326.1 67.6h0M331.1 99.2h0M328.3 89.3h0M336.8 92.1h0M317.3 116.3h0M313.9 83h0M286.9 99.5h0M271.1 105.3h0M310 95.6h0M336.6 72.2h0M319 77.4h0M279.9 99.8h0M369.2 96.6h0M324 81.1h0M330.9 98.7h0M302.4 99.7h0M318.3 122.5h0M331.9 82.2h0M272.8 120.1h0M309 102.1h0M317.2 87.3h0M281.2 125.8h0M325.1 102.8h0M308.1 86.5h0M320.5 104h0M287 95.9h0M317.8 120.7h0M322 102.6h0M333.4 94.7h0M312.8 111h0M320.5 97.1h0M297.6 90.6h0M338.2 93.6h0M272.8 117h0M331.9 68.3h0M288.3 92h0M292.6 98.8h0M279.8 104.1h0M336 79.6h0M329.1 107.4h0M302.2 89.1h0M354.2 82.4h0M284.6 130.4h0M331 86.2h0M309.8 119.3h0M289.5 115.6h0M307.6 104.1h0M307 115.9h0M319.8 102.8h0M334.1 83.9h0M353.3 101.1h0M329 83.5h0M319.8 106.7h0M344.8 106.2h0M299.5 67.8h0M306.3 96.8h0M282.1 103.9h0M330.4 88.7h0M307 88.2h0M347.6 85.6h0M289.5 113.1h0M297.5 108.8h0M293.4 102.1h0M282.2 108.1h0M318.5 79.8h0M326.8 121.6h0M296.6 108.5h0M307.6 71.9h0M345.9 93.1h0M338.8 75.4h0M330.8 88.8h0M266.2 120.7h0M287 116.4h0M304.7 79.4h0M309.1 111.4h0M315.7 100.9h0M331.9 110.4h0M315.9 108.4h0M325.2 105.7h0M282.6 110.4h0M332.2 64.7h0M296.6 110.6h0M307.7 87.5h0M306.5 75.2h0M289.7 110h0M293.3 101.8h0M319.8 99.7h0M290.9 105h0M317 72h0M298.3 102.6h0M313.6 89.1h0M306.6 84.8h0M308.2 83h0M330.3 92.3h0M308.7 105.4h0M331.6 90.3h0M338 73.8h0M318.8 73.5h0M277.7 86.8h0M319.4 82.4h0M304.2 118.8h0M304.3 93.9h0M310.6 98h0M333 74.9h0M277 100.8h0M292.1 94.8h0M318.1 100.3h0M278.7 107.7h0M330.6 64.1h0M303.2 101.1h0M323.6 85.5h0M279.5 93.2h0M306.4 84.8h0M323.4 96.8h0M314.8 99.5h0M300.4 76.8h0M327.1 82.4h0M299.6 119.5h0M309.8 85.8h0M284.9 93.9h0M319.9 105.3h0M314.8 108.8h0M317 128h0M319.9 88.8h0M309.8 106h0M326.7 118.8h0M294.9 94.5h0M296.8 131.5h0M300.1 95.8h0M347.3 81.1h0M316 90.1h0M296.2 112.9h0M297.3 107.9h0M292.4 129.9h0M315.3 118.7h0M261.7 120.9h0M339.1 92.6h0M328.8 86.9h0M284.1 106.6h0M284.1 121.4h0M332.9 90.1h0M296.4 85.4h0M272.3 101.9h0M327.5 76.7h0M329.6 60.8h0M313.7 117.6h0M281.7 118.8h0M308.1 105.2h0M292.9 126h0M301 101.3h0M338.2 90.9h0M292.3 93.7h0M306.9 93.5h0M322.1 61.6h0M319.5 73.9h0M316 87.6h0M308.8 135.9h0M317.5 115.2h0M330.8 101.1h0M333 94.5h0M333.6 72.8h0M282.5 121h0M373.9 68.1h0M329.7 86.6h0M307 69.2h0M298.9 106.3h0M261.6 115.1h0M296.8 89.1h0M316.9 96.2h0M309.6 102.5h0M329.3 84.4h0M307.8 75.4h0M335.1 79.3h0M302.4 118.1h0M306.5 110h0M278.9 107.4h0M292.4 111.1h0M299.6 94.7h0M275.8 123.8h0M301 84.3h0M318.3 91.9h0M313.3 73h0M315.6 98.9h0M293.3 101.9h0M273.9 102.5h0M321.9 88.3h0M351.3 87.7h0M303.4 96.4h0M346.8 108.2h0M284.4 115.6h0M303.7 92.7h0M308.3 98.8h0M326.3 83h0M299.9 102.5h0M332.7 98.9h0M289.7 100.6h0M310.1 87.8h0M295.3 105.5h0M320.9 112h0M308.2 116.3h0M330.7 80.9h0M348.7 90.1h0M272.8 123.3h0M310.4 98.7h0M313.2 108.1h0M332.3 100.4h0M282.7 106.3h0M351.6 75.8h0M307.9 95.8h0M267.6 122.5h0M279.3 106.6h0M318.1 86.4h0M318.9 98.1h0M296.6 96.1h0M338.8 76.9h0M303.7 139.5h0M327 111.9h0M327.1 108.6h0M297.3 82.9h0M308.1 90.5h0M296.1 112.4h0M314.8 98.5h0M318.3 89.9h0M316.2 82h0M309.6 93h0M309.4 112.6h0M349.8 71.1h0M300.3 123h0M297.9 97.7h0M305 111.2h0M294.8 95.2h0M290 115h0M303.5 107.1h0M312.3 111.4h0M311.6 73.1h0M323.1 111.3h0M312.3 91.6h0M295 106.4h0M307.4 87.5h0M307 100.2h0M325.8 118.4h0M319.1 79h0M281.6 118.5h0M299.4 115.9h0M316.5 91.5h0M295.8 110.1h0M284.6 112.9h0M317.5 84h0M327.7 101.7h0M291.1 122.6h0M340.4 85.4h0M292.9 83.6h0M300.9 113.2h0M337.9 80.7h0M329.1 83.4h0M323.5 82.6h0M327.1 119.1h0M309.3 94.1h0M303.9 91.6h0M298.3 89.5h0M304.3 81.4h0M292.4 102h0M321.5 88.5h0M341.3 94.6h0M334.4 74h0M308.7 101.3h0M298.4 87.2h0M301.5 126.4h0M305.2 89.8h0M326.4 92.6h0M327.1 113.6h0M297.8 86h0M280.9 107.1h0M306.6 95.7h0M340 64.1h0M286.3 124.2h0M325.5 93h0M328.8 66.4h0M300.1 107h0M318.1 82.7h0M309.3 104.4h0M319.7 111.9h0M288.7 113.5h0M316.6 85.8h0M340.6 68.6h0M368.9 66.3h0M311.1 65.4h0M320.1 95h0M348.2 46.1h0M304.9 98.5h0M318.6 80.9h0M316.1 108.2h0M301.3 127.8h0M316.4 82.3h0M275 124.7h0M312.4 79.9h0M298.3 102.8h0M303.1 99.1h0M304 119.1h0M318.8 92.1h0M322.8 88.2h0M309.3 91.9h0M277.3 86.8h0M280.9 81.3h0M289.5 126.6h0M347.5 106h0M340.4 108.8h0M360.5 64.8h0M301.9 105.6h0M265.7 116.6h0M313.6 78.8h0M336.9 83.2h0M350.1 100.1h0M313 103.8h0M299.2 87.1h0M313.2 84h0M313.3 86.6h0M322.6 90.3h0M312.3 103.5h0M297.5 103.4h0M346.2 93.8h0M329.3 94.4h0M302.9 106.1h0M302 130.3h0M302.2 119.2h0M301.2 88.2h0M280.8 96.9h0M295.4 76.4h0M353 69.8h0M338.3 70.9h0M304.1 90.1h0M292.4 105.3h0M285.5 110h0M344.8 82.1h0M337.9 98.1h0M300.6 110h0M282.6 116.9h0M295.3 72.9h0M319.8 104.9h0M320.3 80.7h0M318.8 92.8h0M301 101.5h0M327.8 75.9h0M293.4 123.7h0M319.8 72.4h0M317.3 89.5h0M282.7 127.8h0M309.7 85.4h0M317.2 110.9h0M303.1 97.5h0M341 99.7h0M318.9 79.3h0M316.6 71.1h0M298.8 101h0M332.1 79.3h0M273.4 124.8h0M298.1 136.5h0M313.6 101.2h0M321.4 118.8h0M309.5 89.6h0M342.4 105.4h0M319 68.2h0M305.9 82h0M331.1 76.4h0M305.9 89.2h0M278.5 128.3h0M338.8 71.9h0M319.7 84h0M308 106.7h0M307.7 79.6h0M304.8 96.7h0M315.8 98.7h0M335 94.9h0M324.2 109h0M325.7 83.9h0M297.6 63.2h0M286.3 124.7h0M312.9 125.8h0M314 94.5h0M287.3 104.5h0M332.3 73.1h0M325.2 90.7h0M354.5 84.7h0M298.7 116.9h0M270.1 105.5h0M301.9 94.7h0M312.2 98.4h0M328.6 88.2h0M306.5 95h0M343 76.7h0M320.5 66.2h0M329.3 78.3h0M313.8 98.4h0M265.3 120.4h0M309 77.2h0M331.7 86.1h0M327.3 95.8h0M297.2 115.5h0M308.2 106.9h0M309 95h0M306.8 120.8h0M321.2 107h0M287.7 121.4h0M289.5 106.8h0M320.8 101.5h0M318.3 88.4h0M319.4 68.1h0M297 101h0M305.9 105.5h0M298.7 77.3h0M348.7 79.3h0M335.9 92.8h0M346.1 76.1h0M288.3 90.3h0M287.5 101.7h0M314.5 110.7h0M307.7 109.9h0M280.7 113.2h0M286.9 112.9h0M307.8 105.2h0M344.4 87.5h0M322.2 88.3h0M292 103.5h0M292.7 118h0M326.9 75.6h0M310.8 98.5h0M326.8 91.8h0M308.3 79.5h0M304.6 81.8h0M328.2 89.9h0M304.9 110.7h0M310.2 115.5h0M312.7 100.1h0M279.8 106.7h0M328.5 73.1h0M308 129.4h0M319.2 95.9h0M304.2 101.5h0M319.8 93.3h0M293.7 87.5h0M297.4 121.4h0M296.6 102h0M317.3 87.5h0M386.2 57.3h0M320.9 90h0M285.3 112.3h0M288.9 95.6h0M305.2 100.3h0M284.2 111.2h0M320.6 77.8h0M305 89h0M326.4 73.3h0M311.1 91.8h0M302.8 84.2h0M330.2 107.5h0M302 116.7h0M321.1 61h0M318.1 76.1h0M313.6 79h0M314.9 79.4h0M316.4 98.4h0M296.6 94.6h0M330.7 82.3h0M301.1 91.4h0M297.2 121.4h0M291.7 93.1h0M297.6 113.5h0M319.6 108.5h0M292 129.8h0M356.5 65h0M308.4 99h0M312.5 98.4h0M296.6 105.4h0M282.7 102h0M316.4 80h0M308.5 83.4h0M277 99.3h0M305.7 80h0M287 121.1h0M310.4 119.1h0M331 87.2h0M334.8 83h0M300.3 65.5h0M353.2 75.3h0M282.7 128.1h0M337.8 125.7h0M267.5 134.6h0M296.8 119.4h0M290.3 88.2h0M304.7 107.3h0M319.1 97h0M279.4 108.9h0M302.2 115.5h0M301.5 94h0M300.3 96.1h0M291.2 111.5h0M280.1 111.1h0M317.7 110.2h0M307.6 101.3h0M288.3 116.4h0M326.1 100.3h0M319.7 125.4h0M286.8 68.4h0M342.5 87.6h0M329.6 76.7h0M299.8 123.7h0M308.6 98.5h0M309.8 107.1h0M317.8 88.4h0M288.4 103.3h0M327.7 88.6h0M312.4 113.4h0M321.4 94.8h0M335.6 80.8h0M337.3 70.7h0M309.4 124h0M309.8 108.9h0M320.5 76.3h0M312.7 101.9h0M339.9 83.8h0M292.5 119.5h0M312.3 112.3h0M345.4 87.1h0M324 114.6h0M332.1 101.2h0M337.2 87.6h0M333.5 69.7h0M300.8 103.6h0M333.1 83.5h0M286.8 131.3h0M309.1 86.7h0M283 129.6h0M339.5 84.1h0M319.6 102.6h0M333.8 100h0M342.5 92h0M337.5 87.7h0M316.1 106h0M288.1 111.1h0M296.7 112.8h0M320.4 88.6h0M304.7 87.6h0M322.6 77.2h0M351.8 75.7h0M344.2 93h0M337.6 76.5h0M357 104h0M280.3 110.9h0M264.6 98.6h0M288.7 106.9h0M315.6 103.5h0M320.8 107.5h0M299.2 107.8h0M312.2 118.1h0M313.3 108.9h0M331.9 74.6h0M309.8 87h0M307.2 116.4h0M310.1 101.3h0M255.2 98.5h0M277.5 137h0M316.1 96.7h0M311.9 99.2h0M300.4 86.8h0M294.2 127.6h0M301.3 84.2h0M267.8 124.5h0M279.4 135.6h0M331.7 78.7h0M333.8 72.2h0M282.8 114.9h0M288.9 114.5h0M368.7 77h0M298.2 105.4h0M317.5 80.4h0M316 98.8h0M335.7 68.3h0M319.5 97.8h0M314.8 89.3h0M334.4 91.8h0M315.4 96.1h0M323.5 76.5h0M321.9 108.6h0M299.5 118.6h0M293.3 92.9h0M304.2 77.2h0M328.8 103.9h0M307.5 92.2h0M266 125.4h0M359.6 62.7h0M317 104.4h0M307.2 132.4h0M273.6 72.8h0M292.4 106.6h0M326.7 68.7h0M313.4 102.1h0M347 69.4h0M313.9 100.3h0M297.4 104.9h0M334.9 80.9h0M320.6 74.6h0M318.9 106.2h0M305.6 108.9h0M300.9 103.8h0M319.2 77.4h0M318.2 104.4h0M314.9 110.7h0M329.4 76h0M319 81.7h0M320.7 79.7h0M307.7 105h0M345.2 101.8h0M348.4 74.2h0M334.3 73.9h0M343 69.3h0M320.8 106.2h0M317.9 85.7h0M272.3 109.5h0M273.3 106h0M309.7 101.2h0M337.2 67.4h0M333 93.5h0M320.8 114.1h0M303.4 103.4h0M277 112.7h0M310.8 91.8h0M312.7 87.9h0M337.3 83.9h0M308.1 79.6h0M287.8 123.1h0M338.6 77.5h0M306.5 95.3h0M299.5 115.4h0M302.9 107.7h0M336.4 92.3h0M330.8 90.3h0M301.3 107.2h0M293 97.3h0M302.7 95.2h0M289.7 121.8h0M307.2 92.6h0M343.1 98.2h0M311.1 82.9h0M295.2 122.3h0M341.1 71.9h0M302.2 95.9h0M278.7 108.9h0M311.9 97h0M306.9 75.9h0M345.4 87.7h0M312.3 83.3h0M330.3 102.1h0M297.4 114.9h0M288.3 123.8h0M311.1 79.3h0M324.1 79.6h0M308.6 71.2h0M333.2 93.4h0M309.8 93.2h0M295.3 104.1h0M300.9 91.3h0M292.1 94.3h0M280.7 123.1h0M322.4 87.7h0M324.7 98.7h0M303.3 112.5h0M289.8 106.8h0M335 82.6h0M290.9 83.3h0M305.5 85.7h0M308.7 72.2h0M310.4 85.7h0M302.5 103h0M308.8 84h0M301.7 109.5h0M320.8 74.8h0M351.6 87h0M307 107.4h0M295.8 109.6h0M310.9 91h0M326.2 89.9h0M307.8 102.2h0M301.5 94.2h0M298.2 122.8h0M303.3 82.9h0M288.7 117.9h0M291.6 123.3h0M278.1 113.5h0M292 115.5h0M326.1 70.8h0M285.5 111.3h0M313.5 73h0M299.9 113.5h0M314.3 99.9h0M328.6 69.1h0M307 100.4h0M310.8 116.9h0M307.3 84.3h0M316.3 105.9h0M319.9 75.8h0M305.2 109.3h0M305.5 79.7h0M296 109.9h0M318.2 70.3h0M315.4 86.1h0M315.8 83.3h0M329.1 85.1h0M298.7 101h0M294 106h0M272.2 129.9h0M278.2 109.9h0M308.6 77.5h0M278.7 115.2h0M292.1 104.5h0M318 97.3h0M332.2 84.9h0M298.1 94.5h0M307.5 111.9h0M343.3 70.5h0M331.9 76.3h0M332.6 72.4h0M290.9 105.3h0M301.9 124.1h0M306.1 92.1h0M289.5 101.4h0M273.5 133.8h0M291.2 101.1h0M316.7 84.4h0M316.4 102.1h0M290.8 115.3h0M321.7 78.1h0M315.1 99.9h0M292.5 95h0M325.6 70.7h0M326.6 104.1h0M320 96h0M316.2 89.4h0M333.9 88.4h0M341.9 83.8h0M309.4 73.8h0M296.3 95.9h0M316.8 94.4h0M298 91.2h0M337 95.3h0M315.6 89.7h0M271.7 110.5h0M351.8 75.6h0M337.6 90.8h0M323.1 106.4h0M318.2 95.1h0M258.9 130.3h0M322.4 91.3h0M348.2 110.8h0M326.4 81.1h0M336.2 78.4h0M310.4 97.1h0M287.8 87.1h0M318.2 99h0M325 124.6h0M323.9 65h0M300 97.3h0M301.1 102h0M363.9 74h0M310.6 104.6h0M296.4 118.2h0M306.9 97.1h0M269.4 145.2h0"/>
<path d="M275.3 87.9h0M276.1 132.3h0M316.3 107.3h0M286.7 102.6h0M324.1 82.7h0M300.9 114h0M340.2 91.8h0M320.8 70.5h0M334.6 96h0M316.6 88.3h0M318.9 75h0M327.9 104.2h0M286.7 90h0M316.3 71h0M333.6 91.5h0M291.7 106.3h0M338.9 111.6h0M314.7 96.2h0M300.1 91.4h0M312.4 84h0M282.2 100h0M333.8 67.9h0M334.9 110.3h0M330.2 95.2h0M292 115.7h0M313.3 87.8h0M294.7 128.7h0M309.9 101.9h0M304.8 94.4h0M295.7 89.6h0M308.2 93.4h0M309.2 93.9h0M253 109.6h0M284.6 126.2h0M267.9 107.2h0M291.5 101h0M331.2 75.7h0M347 95.8h0M351.5 71.8h0M320 59.9h0M300.7 103.4h0M327.1 81.2h0M326.6 73.4h0M317.7 86h0M350.6 68.4h0M304.8 112.7h0M332.1 102.5h0M310.9 107.5h0M267.9 115.6h0M290.9 101.8h0M330.1 95.8h0M325.9 96.9h0M342.2 84.4h0M302.6 93.6h0M339.8 86.9h0M316.9 114.8h0M322.8 80.5h0M283.9 89.4h0M284.1 115h0M329.4 98.5h0M299.3 117.5h0M278 112.2h0M298.5 82.5h0M309.6 88.8h0M331.3 80h0M298.3 120.7h0M285.1 107.1h0M287.3 97h0M301.4 73h0M301.7 107.9h0M298.5 96.1h0M332.1 95.3h0M294.8 85.5h0M350.7 97.8h0M283.4 100.4h0M326.9 78.9h0M298.3 97.2h0M349.6 87.7h0M270.8 124.1h0M316.8 100.3h0M308.8 106.9h0M303.8 87.2h0M315.9 107.7h0M338.9 90.8h0M312.6 97.2h0M319.7 122h0M340.5 96.8h0M312.6 96.6h0M304.3 107.1h0M305.5 83h0M306.9 105.3h0M324 87.7h0M296.4 100.9h0M301.9 92.4h0M307.2 73.3h0M302.4 85.8h0M325.1 71.8h0M315.1 110.4h0M328.2 111.5h0M291.8 113.4h0M322.3 79.7h0M302.5 92.9h0M318.5 104.6h0M300.4 86.4h0M305.2 77.8h0M329.8 74.6h0M330.1 99.5h0M304 86h0M302.8 94.9h0M300.6 94.2h0M328.7 75.7h0M338.2 72.2h0M261.8 107.7h0M331.3 86.7h0M324.9 80.5h0M346.8 78.4h0M320.4 101.3h0M320 86.7h0M317.1 84.3h0M315.5 88h0M320.3 96.5h0M310.2 85.7h0M344.4 95.5h0M302.2 115.8h0M344.4 85.8h0M307.8 92.3h0M331.4 91.8h0M326.4 82.4h0M343 107.6h0M340.2 100.5h0M328.8 91.1h0M303.8 111.1h0M321.7 102.8h0M311.9 109.6h0M338.6 85.7h0M299.3 81.9h0M311.1 112.3h0M260.3 105.3h0M282 116.5h0M316.9 112.5h0M327 101.7h0M289.1 117.3h0M313 98h0M320.2 106.1h0M343.1 86.2h0M350.9 89.5h0M319.4 90.9h0M353.6 108.5h0M326.3 89.1h0M255.9 120h0M315 85.6h0M322.1 93.8h0M280.1 128.7h0M288.3 103.1h0M325.3 98.4h0M311.4 96.6h0M309.5 81.1h0M320.4 106.5h0M346.3 72.7h0M296.3 115.8h0M314.1 91.6h0M293.9 111h0M309.6 103.9h0M322.2 98.6h0M284.3 109.9h0M309.6 96.5h0M336.4 82.3h0M299.9 121.3h0M311.4 91.9h0M305.7 95.7h0M268.5 123.7h0M327.2 93.1h0M342.1 91.4h0M336.6 86h0M346.6 78.1h0M307 118h0M316 109.5h0M347.3 85.7h0M279.6 87.1h0M273.7 104.7h0M300.7 82h0M291.6 91.6h0M324 92.7h0M312.8 115.5h0M281.4 110.2h0M319.6 99.5h0M351.9 92.3h0M323.8 88.6h0M270.6 117.4h0M324 75.4h0M286.9 106.7h0M276.2 126h0M316.6 83.5h0M314.2 95h0M288.9 121.9h0M288.7 118.4h0M300.1 88.2h0M324.8 89.7h0M314.4 69.9h0M306.9 79.3h0M330.9 106.6h0M312.9 101.4h0M284.7 108.1h0M288.5 105h0M335.7 90h0M312.9 100.1h0M308.7 101.9h0M291.3 94.3h0M280 105.6h0M334.8 96.4h0M293.6 97.5h0M308.9 80.9h0M290.3 121.3h0M322.6 73.7h0M309.1 108.6h0M276.6 110h0M292.7 122h0M361.7 71.5h0M341.7 92h0M356.6 59.1h0M293.6 120.8h0M335.1 88h0M321.8 94.9h0M279.1 96.2h0M306 119h0M288.9 87.9h0M324.9 128.4h0M282.7 96.8h0M306.9 90.2h0M342.3 90.9h0M296 96h0M335.8 81.6h0M323.3 87h0M346.2 106h0M338.3 77h0M355.2 53.3h0M266.3 119.5h0M316.2 103h0M320.4 97.4h0M331.5 83.7h0M342.8 83h0M338.7 77.3h0M323.7 93.1h0M313.2 95.2h0M294.4 116.7h0M282.6 119.7h0M347.7 81.5h0M330.8 91.6h0M280.3 97.1h0M324.7 95.4h0M264.2 110.9h0M351.7 81.3h0M288.3 104.7h0M284.8 105.8h0M288.2 94.6h0M304.6 93.9h0M314.5 90.7h0M319.5 97.4h0M327.7 91.7h0M291.6 97.4h0M304.3 100.5h0M331.6 67.8h0M282.1 117.5h0M320.7 78.3h0M290 114.6h0M342.2 85.4h0M332.1 76.9h0M328 87.7h0M338.7 91.6h0M331.5 87.3h0M286.1 119.2h0M298.6 97.4h0M318.8 105.1h0M344.7 65.6h0M333.8 72.7h0M312.9 81.7h0M308 105h0M337.2 98.3h0M302.7 85.4h0M308.2 90.3h0M296 108.8h0M304.2 86.8h0M287.4 116.5h0M287 103.1h0M278 123.8h0M337.5 81.1h0M270.6 123.2h0M321.1 70.6h0M307.8 95.2h0M305.7 115.7h0M299 115.8h0M301.6 102h0M311.7 111.3h0M256.2 122.7h0M339.6 97.4h0M337.8 94.3h0M336 94.6h0M301.6 101.7h0M319.9 98.2h0M288.5 125.1h0M305.3 94.4h0M320.4 92.7h0M299.1 107.3h0M304.8 106.7h0M308.4 78.8h0M293.4 97.2h0M334.1 85h0M337.5 76.5h0M326.1 74.1h0M300.8 106.9h0M307.5 98.2h0M307 122.9h0M305.8 103.2h0M348.8 104h0M329.8 118h0M303.7 77.9h0M288.3 81h0M288.8 128h0M312.3 98.6h0M325.1 109.3h0M288.7 115.1h0M301.1 112h0M318.9 106h0M341.8 70.8h0M313.3 97.5h0M302.1 105.7h0M318.1 76.6h0M305.7 116.5h0M306.4 70.9h0M333.7 85.3h0M288.6 90.3h0M325.5 81.6h0M308.1 112.3h0M302.9 93.8h0M297.2 87.1h0M302.4 69.8h0M304.3 106.1h0M290 122.7h0M322.1 115.3h0M372.8 84h0M331 71.2h0M314.1 102.5h0M355.4 76.6h0M305.7 107.6h0M266.4 127.9h0M285.3 109.6h0M309.8 96.5h0M313.2 99.9h0M322.7 83.9h0M306 65.2h0M326.3 78.4h0M312.3 95.3h0M336 80.9h0M330.5 70.9h0M309.5 90.4h0M313.6 88.6h0M300.8 97.1h0M322.9 98.5h0M305.8 119.2h0M310.6 99.6h0M311.8 109.5h0M362.2 73.6h0M291.6 117.5h0M327.5 86.5h0M306.8 105.2h0M294.8 108.4h0M297.6 131.2h0M311.6 93.5h0M339.9 91.9h0M338.8 84.6h0M294.8 107.5h0M349.2 108h0M296.4 130h0M329.8 82.3h0M319.2 108.8h0M299 104.5h0M338.1 96.1h0M283 110.3h0M326.2 103.3h0M333.6 106.6h0M268 91.4h0M310.5 133.5h0M342.2 92.4h0M324.7 74.9h0M327.8 85.4h0M287.8 115.6h0M302.4 100.7h0M299.9 95.6h0M311.7 92.3h0M275.3 135.3h0M305.9 96.2h0M294.7 127.2h0M321.9 105.9h0M321.9 94.4h0M276.2 126.9h0M349.6 84.5h0M310.1 97.8h0M293.2 120.9h0M278.2 128.4h0M346.6 68.6h0M334.8 98.9h0M361.4 71.8h0M307.8 90.8h0M287.1 105h0M294.6 123.3h0M332.7 97.3h0M295.1 110h0M293.3 114.2h0M309.4 92.4h0M317.7 109h0M295.6 110.6h0M343.2 75.1h0M325.9 73.5h0M342.7 78.2h0M276.6 92.9h0M320.1 92.6h0M303.6 85h0M313.9 100.6h0M280.7 100.7h0M311.3 82h0M317.1 96.6h0M306.2 106.5h0M296 86.5h0M302.5 120.1h0M331.4 96h0M307.1 87.3h0M278.8 122.6h0M314.1 111.1h0M341.5 100.2h0M306.8 107.2h0M320.9 97.4h0M339.6 89.4h0M347.3 84.7h0M309.6 102.9h0M342.9 80.8h0M340.3 95.4h0M320.8 106.9h0M311.6 102.9h0M308.4 108h0M295.7 127.2h0M310.2 123.7h0M295.3 109.8h0M312.5 95.8h0M283.6 105.7h0M311.3 81.6h0M323 82.5h0M323.4 105.5h0M298.1 100h0M300.7 97.8h0M308.8 103.8h0M328.7 86.1h0M263.7 88.6h0M279.8 101.8h0M368.7 74.1h0M302.5 103.5h0M346 75.9h0M279.8 127.6h0M321.3 91.5h0M341 105.7h0M352.3 60.7h0M318 93h0M351 76.9h0M307.1 92.2h0M303 100.6h0M332.5 85.6h0M300.1 130.9h0M295 108h0M293.1 114.2h0M277.5 127.5h0M320.3 73.4h0M316.2 78.6h0M320.8 113.4h0M312.7 97.2h0M320.3 117.1h0M316.3 123.2h0M284.1 121.1h0M349.4 92.7h0M321.4 95.3h0M321.1 108.1h0M298.2 106.6h0M348.8 85.5h0M309.4 82h0M305.2 103.6h0M319.9 104.3h0M311.3 94.8h0M316 126.9h0M316.4 82.4h0M299.4 109.9h0M290.9 83.1h0M300.5 108.1h0M338.6 72.3h0M298.1 119.7h0M318.7 88.6h0M310.2 99h0M306.7 98.8h0M337.4 89.5h0M318 96.2h0M295.3 95.4h0M323.2 120.4h0M315.5 105.7h0M299.8 103.3h0M323.2 86.8h0M314.8 112.9h0M327.3 106.7h0M284.6 111.1h0M294.4 116.2h0M314.8 113.6h0M314.6 116.6h0M294.1 66.5h0M317.6 97.4h0M319.4 114.3h0M302.5 92h0M257.3 129.2h0M311.3 93h0M315.8 110.7h0M275.9 103.7h0M325.9 66.9h0M333.2 76.2h0M298.4 111h0M313.4 99.7h0M302.6 116.3h0M314.6 87.1h0M300.2 104.8h0M284.4 117.3h0M316.3 102.5h0M299.4 134.1h0M313.8 96.7h0M329.3 102.2h0M302.5 101.2h0M338.7 95.8h0M307.8 88.5h0M308.9 71.9h0M297.7 115.2h0M303.3 84.4h0M326.2 98.1h0M308.3 103.3h0M309.3 77.8h0M312.3 84h0M262.7 108h0M289 115.2h0M290 97.2h0M338 88.2h0M283.4 95.7h0M330.2 92.4h0M304.2 99.9h0M333.7 78.5h0M329 82.3h0M296.7 98.1h0M294.7 113.4h0M317 98.7h0M343.5 87.8h0M315.1 82.4h0M330.5 89.6h0M296.8 103.7h0M297.7 112.4h0M318.7 108.2h0M325 116.2h0M291.4 81.7h0M292.3 124.8h0M333.4 76.2h0M264.3 96.9h0M316.9 105.3h0M273.2 130h0M334.9 106.2h0M287.1 111.2h0M312 98.5h0M300.4 74.7h0M315.3 102.9h0M309.7 108.7h0M335.1 106.5h0M320.8 107.9h0M309.4 118.4h0M302.2 96.6h0M339.9 75.5h0M311.3 102.7h0M313.7 97.6h0M311.1 115.7h0M301.4 92.9h0M292.8 101.8h0M300.1 101.3h0M314 80.5h0M313.6 89h0M329.1 80.7h0M296.1 89.9h0M317.7 92.8h0M333.8 71.1h0M292.8 104.9h0M316.6 106h0M318.9 108.6h0M263.9 114.8h0M313.8 78.2h0M296.7 110.2h0M274.9 94.1h0M315.7 102.4h0M292.8 96.7h0M299.9 96h0M330 85h0M295.7 91.3h0M302.3 114.3h0M292.3 95.4h0M309.3 94.9h0M303.2 108.8h0M344.2 108.4h0M305.5 101.3h0M310.3 88.8h0M310 98.1h0M314.1 80.8h0M323.5 79.3h0M308.5 74.6h0M305.4 91.2h0M297 109.6h0M350.7 81.3h0M307 127.8h0M308.7 80.8h0M327.5 93.8h0M340.6 91.1h0M327.4 81.2h0M282.4 101.6h0M321.5 65.3h0M297.5 90.2h0M318.1 99.3h0M335.3 92.4h0M312.6 103.4h0M318 73.1h0M318.2 88.6h0M302.6 94.2h0M329.8 70h0M332.2 100.9h0M341.6 116.3h0M312.5 100.9h0M307.2 91.3h0M301.3 88.2h0M297.7 133.4h0M308.1 129.5h0M319.9 97.5h0M312.5 90.4h0M302.1 112.8h0M331.7 85.9h0M304 91.3h0M337.1 97.6h0M275.5 113.3h0M302.6 99.1h0M296.2 123.5h0M311 96.7h0M318.3 104.9h0M331.5 83.3h0M298 80.8h0M290.1 113.4h0M327.3 85.4h0M342.5 72.4h0M277.4 103.9h0M307.5 73.4h0M320.5 120.7h0M319.9 93.3h0M294.6 102.7h0M341.7 92.4h0M360.2 84h0M305.6 100.8h0M277.3 128.4h0M296 113.1h0M289.1 112h0M335.1 92.7h0M293 102.4h0M313.7 101.3h0M309 87.2h0M268.5 87.3h0M312.5 117.1h0M296.7 117.8h0M271 119.9h0M288.3 110h0M300.6 100.6h0M304.9 101.4h0M305.3 97.8h0M294.4 123.6h0M305.3 99.6h0M283.6 129.3h0M307.3 107.1h0M303.1 103.4h0M277.1 99h0M329.5 105.5h0M268.2 102.8h0M298.9 75.8h0M267.3 127.6h0M287.3 100.8h0M299.6 105.4h0M325.9 96.6h0M286.2 121h0M282.6 122.2h0M311.3 99.8h0M293 80.4h0M329.6 87.7h0M321.5 124.9h0M322.1 107.4h0M306.3 76.7h0M297.1 100.1h0M361.9 81.5h0M322.7 116.6h0M309.4 85.6h0M334.3 64.2h0M353.5 104h0M273.6 108.7h0M305.5 80.9h0M301.3 79h0M313.9 106.2h0M315.8 110.4h0M319.9 84.3h0M307.1 88.4h0M287.6 107.7h0M320.8 118.6h0M340.2 75.8h0M324.7 92.3h0M336.2 108.8h0M301.6 112.8h0M280.7 104.7h0M335.9 94h0M301.6 100.7h0M297.4 83.5h0M326.7 86.1h0M312.1 71.9h0M316.4 104.5h0M340.4 74.1h0M294.9 88.9h0M348.3 99h0M303.2 120.5h0M320.4 98h0M285.6 108.2h0M321.6 95h0M305 111.3h0M294.5 100.2h0M295.9 105.2h0M313 115.3h0M325.3 73.4h0M312.1 107h0M286.5 122.6h0M313.7 81.6h0M266.7 125.8h0M325.9 82h0M330.6 97.4h0M332.8 81h0M319.3 97.5h0M322 103.2h0M285.4 98.1h0M359.1 88.2h0M324.4 98.8h0M312.1 91.2h0M337.7 84.7h0M325.9 92.9h0M338 69.5h0M303.2 102.9h0M272.1 105h0M371.6 64.1h0M311.8 112.7h0M310.5 99.1h0M289.7 96.6h0M287.2 99.4h0M306.8 104.1h0M324.7 88.6h0M305.1 123h0M301.2 103.6h0M281.9 123.9h0M346.7 81.2h0M285 122.9h0M310.1 81.8h0M318.6 108.7h0M329 85.2h0M349.6 87.5h0M310.7 90.6h0M348.6 120.1h0M331.4 107.2h0M340 95.4h0M322.3 78h0M315.5 104.3h0M324.1 89.6h0M303 65.6h0M312.4 117.5h0M297.8 121h0M285.7 125.5h0M310.8 97.8h0M332.2 89.1h0M288.7 90.3h0M317.7 97.4h0M310.8 89.6h0M281.9 106.7h0M337.3 74.4h0M272 97.7h0M314.6 104.6h0M327.5 91.6h0M335.1 99.7h0M344 105.3h0M320.2 96.4h0M327.3 100h0M291.1 95h0M306.9 95.6h0M324.3 103.4h0M300.6 114.3h0M320.8 92.9h0M330.3 92.7h0M310.2 88.5h0M319.7 113.1h0M334.2 82.9h0M339.9 77.4h0M306 104.8h0M285.4 93.4h0M334.9 104.9h0M340.8 99.5h0M307.8 96h0M276.2 97.2h0M343.5 83.8h0M323.4 73.3h0M333.3 113.9h0M318.6 119.6h0M332.5 90.1h0M316 110.3h0M278.1 112.2h0M333.2 110.3h0M302.5 67.8h0M325 110.8h0M284.8 125.4h0M291.2 124.4h0M305.8 77.9h0M302.6 84.8h0M345.2 76.9h0M351.4 61.8h0M326.6 83.3h0M293.8 105.1h0M282.5 134.4h0M322.3 121.8h0M307.8 68.8h0M322.7 93h0M313.1 83.6h0M319.9 86.4h0M331.3 102h0M312.7 103.4h0M321.7 99.2h0M337.5 106.5h0M285.5 115.2h0M303.3 93.9h0M283.2 123.7h0M284 116.1h0M320.6 75.6h0M288.3 128.2h0M310 94.5h0M294.5 89.4h0M312.9 96.8h0M293.4 112.8h0M324.7 118.6h0M328.2 86.6h0M316.2 92.7h0M280 117.6h0M314.7 100.8h0M281.4 122.1h0M322.7 99.7h0M302.2 98.1h0M275.5 106.8h0M331.4 91.6h0M325.2 58h0M321.6 92h0"/>
<path d="M323.7 100.8h0M308.8 89.4h0M269.2 139.4h0M313.5 84.5h0M298.3 88.8h0M307 95.7h0M348.9 81.8h0M294.5 73.6h0M329.3 113.1h0M299.5 106.4h0M301.5 110.1h0M310.7 91h0M297.5 109.7h0M301.7 73.4h0M301.1 96.4h0M304.1 98h0M328.9 95h0M324.2 79.4h0M337.8 81.5h0M326.4 71.9h0M275.2 133.5h0M318.3 111.1h0M315.1 100.7h0M292 77.2h0M325.4 72.9h0M334.5 81.9h0M305 94.1h0M300.4 96.7h0M345.1 84.4h0M311.5 98.5h0M288.5 116.8h0M323.8 86.3h0M326.3 111.7h0M319.6 88.7h0M323.7 101.4h0M284.5 109.1h0M313.9 85.8h0M316 105.5h0M302.4 95.8h0M300.6 112.4h0M348.7 85.4h0M291 118.5h0M313.2 103.1h0M306.5 96.9h0M306.5 99.6h0M306.7 105.6h0M328.8 81.5h0M296.3 89.7h0M327.2 78.7h0M338.8 90.2h0M334.1 73.3h0M334.1 88.8h0M268.2 136.9h0M320.1 79.4h0M311.7 94.9h0M317.8 120.7h0M297.8 123h0M294.7 108.3h0M303.1 90.5h0M278.3 84h0M315.3 95.4h0M293.5 99.8h0M305.6 97.1h0M317.3 100.8h0M302 101.6h0M339 92.1h0M347 84h0M318.8 92.5h0M302.5 94.5h0M343.3 71h0M307.3 82.1h0M298.7 106.7h0M339.1 74.6h0M338.5 81.5h0M321.7 84.2h0M311.5 124.6h0M310.2 110h0M329.1 86.4h0M334.1 83.8h0M317.4 101.8h0M294.9 98.4h0M297.5 94.9h0M323.9 97.6h0M308.5 69.8h0M289.1 116.5h0M318.1 91.3h0M307.5 90.4h0M330.5 116.9h0M328.6 102.7h0M294.5 122.9h0M327 112.3h0M314 94h0M289 113.7h0M330 95.7h0M293.6 121.9h0M325.1 74.9h0M307.5 91.7h0M342.3 94.4h0M306.3 99.2h0M304 96.4h0M307.2 90.3h0M346.2 91.3h0M367.1 72.4h0M308.4 99.1h0M323.6 106.6h0M314 91.3h0M304.5 85.3h0M305.3 94.6h0M294.8 125.8h0M310.6 87h0M297.1 91.3h0M306.8 106.4h0M338 95.6h0M319.9 83.5h0M316.4 71.2h0M306.6 101.4h0M282 124.8h0M330.7 83.3h0M345.8 87.9h0M348 70.7h0M334 78h0M289.5 109.4h0M345.6 94.5h0M307.9 100.9h0M311.9 89.4h0M330.4 69.6h0M308 126.6h0M303.5 114.9h0M310.3 102.7h0M347.1 99.5h0M321.3 74.9h0M308 105.9h0M320.1 72.8h0M276.4 119.8h0M314.7 104.7h0M340.8 100.3h0M320 90h0M308.2 105.5h0M322.4 82.6h0M300.2 101.7h0M306.9 119.9h0M323.9 95.7h0M281.3 117.4h0M319.6 105h0M317.1 97h0M314.9 69.6h0M339.2 72.5h0M309 69.7h0M321.4 78.3h0M306.6 105.6h0M338 81.5h0M288.6 94.9h0M314.5 83.9h0M297.6 110.8h0M289.2 122.2h0M335.7 99.9h0M351.5 96.3h0M333.8 87.4h0M317.1 102.9h0M316.8 121.8h0M295.4 122.8h0M304.4 92.4h0M306.6 104.1h0M300.1 124.5h0M309.9 106.4h0M314.3 107.4h0M288.8 118.8h0M291.4 105.5h0M283 124.9h0M337.5 92.9h0M300.8 84.7h0M304.4 94.4h0M326.5 94.3h0M312.9 82.4h0M298.3 109.8h0M308.3 71h0M325.2 76.2h0M288.1 121.5h0M360.6 63.2h0M301.3 84h0M322 94.8h0M324.8 91h0M311.3 94.1h0M299.4 106h0M291.3 123.5h0M295.5 104.7h0M329.4 70.2h0M330.2 85.6h0M318.2 90.8h0M356.7 86.2h0M298.9 108.4h0M303.3 122.7h0M317.1 64.6h0M264.4 119.1h0M333.5 89.6h0M329.3 91.7h0M319 93.6h0M321.1 104.1h0M332.7 100.9h0M296.3 118.4h0M346.4 88.7h0M299.9 118.2h0M329.9 99.9h0M308.7 69.7h0M334.4 104.3h0M346.6 90.6h0M315.8 98.5h0M336.3 75.9h0M290.2 119.3h0M310.1 97.1h0M337 99.7h0M330.3 110h0M287.1 114.7h0M289.3 76.5h0M315.2 96.7h0M326.5 89h0M313.4 81.9h0M329.2 98.5h0M333.2 71.8h0M315.1 111.3h0M292 107.2h0M346.8 51.5h0M318.3 66.2h0M291.3 99.6h0M318.1 94.5h0M291 130.8h0M315.2 112.4h0M275.8 107.7h0M316.5 80.6h0M301.5 99.4h0M320.8 85.6h0M320.9 90h0M346.1 67.7h0M324.3 105.2h0M317.4 94.5h0M307.7 99.8h0M328.1 98.4h0M333.9 94.8h0M286.3 80.7h0M320.8 77h0M335.5 87.4h0M281.9 92h0M309.7 102.4h0M275.6 123.6h0M280.9 135.6h0M327.8 113.1h0M312.1 89.7h0M356.2 64.5h0M348.6 84.1h0M297.2 82.5h0M319.4 72.8h0M301.7 97.9h0M301.8 114.2h0M294.9 102.9h0M291.6 115.6h0M300.1 103.2h0M308.6 96.3h0M316.3 90.1h0M321.1 97.8h0M300.6 79.7h0M291 107.7h0M298.6 98.8h0M339.1 91.2h0M321 83.8h0M291.3 97.3h0M328 90h0M322 69.1h0M328.1 68.2h0M324 81.7h0M298.7 102.5h0M345.5 95.5h0M322.4 99h0M322.7 100h0M333.9 112.2h0M282.8 122.1h0M337.1 79.3h0M325.3 89.7h0M303.8 93.8h0M299.8 97.8h0M305.1 101.4h0M332.5 108.3h0M284.1 105.6h0M293.9 113.6h0M302.1 120.3h0M281.1 143.5h0M313.7 93h0M290.1 115.5h0M296.5 83.5h0M295.2 101.7h0M337.1 82.5h0M313.3 72.2h0M308.9 103.5h0M311.2 112.6h0M305.3 131.6h0M296.2 74.7h0M327 94.3h0M332 89h0M311.9 111.2h0M281.6 120.5h0M314.1 98.5h0M318.9 85.4h0M316.7 95h0M303.7 101.9h0M315.1 105.8h0M302.3 79.8h0M307 95.9h0M303 93.8h0M330.8 87.5h0M289.7 120.2h0M318.5 109.3h0M299.7 98.6h0M298.1 93.5h0M288.8 125.7h0M301.4 89.5h0M297.1 107.5h0M313.2 83.5h0M285.3 123.1h0M326 75.9h0M298.5 96.7h0M336.7 72.3h0M295.3 120.1h0M320.5 78.3h0M304.5 104.5h0M287.9 117.3h0M341.9 96.6h0M341.6 68h0M332.4 76.9h0M326.6 113.4h0M296.4 96h0M291 116.7h0M319.7 120.7h0M321.5 92.9h0M312.2 85.6h0M300.2 121.1h0M307.3 112.5h0M294 96.3h0M275.3 99h0M303.2 77.6h0M270.9 74.7h0M332.3 76.7h0M278.3 75.4h0M322.5 109.1h0M336.1 58.2h0M307.1 108.2h0M296.1 104.6h0M309.3 90h0M350.7 74.2h0M314.8 86.7h0M305.2 73.7h0M290 115.9h0M286.7 115.5h0M337.2 81.9h0M297.3 70.6h0M301.8 94.3h0M292.6 131.9h0M349.6 72.8h0M294.6 124.3h0M315.5 101.4h0M316.3 88.1h0M317.4 88.5h0M330.8 83.8h0M302.9 140.5h0M284.9 110.1h0M318.7 110.7h0M362 77.3h0M329.6 115.5h0M271.7 121.7h0M307.2 84.4h0M263.8 121.9h0M314.6 90.4h0M302.4 101.4h0M376.7 43.9h0M340.6 71.5h0M285.3 102.8h0M331.3 110.7h0M324.2 95h0M298.5 72.8h0M301.4 85.9h0M279.4 127.5h0M313.4 103h0M321.4 73.3h0M320 71.6h0M295.3 112.6h0M300.6 131.2h0M300.3 116.2h0M320.3 103.3h0M310 104.3h0M302.8 93.3h0M315.6 103.9h0M326.4 89.6h0M353.4 86.5h0M333 74.7h0M294.7 105h0M274.5 75.1h0M324 112.8h0M321 77.3h0M290.6 125.6h0M338 84.6h0M348.4 80.7h0M345.2 96.6h0M288.4 71.9h0M315.1 109.9h0M313.4 92.8h0M288.1 122.9h0M322.4 104.8h0M294.1 97.1h0M298.3 104.3h0M306.8 93.5h0M321.9 68.9h0M336.2 78.7h0M309.9 87.3h0M333 99.4h0M312.9 91.5h0M281.9 109.1h0M336.2 70.9h0M353.5 96.1h0M328.2 83.2h0M291.7 98.3h0M334.5 72.3h0M286.2 109.8h0M316.2 69.8h0M311.2 88.2h0M331 72h0M305.3 126.5h0M299.6 93.5h0M331.6 73.8h0M289.4 114h0M335 91.4h0M304.3 98.6h0M326.9 108.5h0M273.2 129.9h0M308.2 98.4h0M309.7 84h0M305 93h0M311.1 123.1h0M340.2 87.9h0M303.3 85.2h0M321.9 77.6h0M268.4 115.3h0M326.3 56.7h0M276.8 118.7h0M353 57h0M278.8 100.6h0M284.9 108.6h0M330.3 102h0M305.8 114.3h0M338.6 78h0M274.8 114.2h0M320.3 95.9h0M310.7 108.4h0M339.8 91.6h0M296 98.6h0M301.2 119.6h0M337.9 86.4h0M267.8 100.9h0M320.5 89.8h0M321.2 82.4h0M315 93.1h0M294.1 102.6h0M278.2 134.7h0M372.8 69.1h0M338.3 110.8h0M303.4 72.5h0M357 70.5h0M338.2 76h0M303.2 94h0M322.4 83.2h0M329.4 60h0M290 100.6h0M282.3 86.2h0M317.6 109.2h0M283.4 123.9h0M301.1 90.8h0M312.5 117.5h0M297.6 108.6h0M320.1 72.2h0M335.3 82.7h0M305.9 103.3h0M334.5 94.3h0M341.9 82.6h0M289.3 91.4h0M331.7 94.7h0M308.7 134h0M302.1 88.6h0M287.2 98.9h0M347.1 92h0M285.1 126h0M319.7 83.9h0M335.6 85.7h0M320 94.2h0M326.5 83.8h0M311.4 111.5h0M302.5 105.5h0M292.7 113.9h0M343.5 62.6h0M318 81.2h0M325.6 112.9h0M274.8 103.8h0M312 105.9h0M314.6 83.4h0M303.8 85.9h0M346.8 82.8h0M300.2 95.2h0M301.6 86.9h0M337 96.1h0M329.3 80.4h0M343.3 84.3h0M326.2 95.7h0M304.4 90.3h0M306 98.8h0M335.7 94.7h0M338.1 91.3h0M303.4 92.9h0M311 108h0M316.3 104.1h0M303.5 109.2h0M311.4 100.3h0M313.4 99.6h0M309.4 81.3h0M321.7 75.4h0M336.7 75.9h0M321.2 91.6h0M314.5 70.7h0M298.7 111.6h0M312.9 97.9h0M326.1 109.7h0M319.6 83.9h0M318.9 81.4h0M329 80.9h0M324.6 101.6h0M315.7 103.6h0M307.9 119.7h0M319.9 82.3h0M313 111.5h0M314.9 91.3h0M313.7 78.8h0M260.9 79h0M307.4 94.6h0M307.4 100.2h0M323.4 109.6h0M291.3 110.1h0M312.6 117h0M323 112.3h0M299.8 109.7h0M308.7 109.8h0M295.4 120.4h0M298.4 98.1h0M325.3 115.4h0M341.2 95h0M313.1 102.2h0M348.9 85.4h0M278.3 103.3h0M342.2 98.1h0M295.9 96.8h0M285.8 120.7h0M292.7 117.8h0M299.7 114.6h0M312.9 96.8h0M283.2 117.9h0M296.7 115.5h0M301.2 93h0M308 114.4h0M325.5 92.4h0M302.4 89h0M294.3 99.8h0M350.5 97.9h0M321.1 85.6h0M326.5 91.1h0M309.4 102.5h0M302.9 83.4h0M317.5 68.7h0M316 101h0M289.1 110.4h0M320 83.7h0M310.7 105.8h0M319.5 99.6h0M314.1 104.7h0M313.4 98.7h0M319.5 106.4h0M314.2 96.8h0M319.9 80.5h0M335.6 88.8h0M336.9 73.3h0M323.7 91.1h0M323.4 101.2h0M285.6 101.1h0M303.3 105h0M313.4 102.6h0M312.3 84h0M325.1 83.1h0M318 99.7h0M302.4 119h0M277 99h0M317.2 110.3h0M328.6 85h0M292.9 106.3h0M306.1 114.5h0M306 90.3h0M301.9 91h0M336.3 85.2h0M334 102.9h0M264.8 137h0M343.5 83.8h0M295.1 100.5h0M284.8 103.5h0M347.2 76.1h0M292.4 123h0M289.8 101h0M294.4 95.2h0M292.2 77.5h0M313.1 79.7h0M364.2 93h0M329.2 77.9h0M317.6 109.1h0M296.9 114.4h0M304.5 96.2h0M301.6 97.3h0M338.3 95.4h0M333.5 86.8h0M308.1 93.2h0M314.9 94.3h0M298.8 91.9h0M293 117h0M311.4 83.8h0M313.7 102h0M319.1 89.3h0M313.3 92.9h0M342.3 78.9h0M283.1 113.4h0M269.2 116.6h0M318.7 102.2h0M340.3 79.3h0M298.7 78.5h0M289.5 131.2h0M329.6 89.5h0M332.2 81h0M318.4 109.7h0M309.7 95.8h0M319.7 84h0M327.2 74.2h0M285.6 112.4h0M313.1 111.4h0M285.8 125.8h0M248.6 138.3h0M302.6 96.8h0M320.3 79.4h0M318.7 83.6h0M281.6 115.4h0M294.5 114.2h0M304 101.6h0M269.1 119.8h0M344.3 82.8h0M282.4 116.2h0M297.4 76.8h0M291.2 121.1h0M348.6 70.2h0M323.5 122.8h0M294.2 131.8h0M309.6 90h0M294.7 119.8h0M347.4 89.6h0M315.1 94.2h0M337 97.3h0M293 76.2h0M335.6 103.9h0M297 111.3h0M288.2 114.3h0M310.2 102.2h0M328.8 82.2h0M305.2 110.3h0M317.4 87.3h0M306.1 107.3h0M311.4 81.7h0M318.7 92.3h0M319.7 69.9h0M282.6 113.8h0M303.2 101.6h0M328.8 83h0M329.6 92.6h0M328.4 91.9h0M306.1 102.1h0M318.4 93.5h0M291.8 133.4h0M289.9 98.2h0M302 123.7h0M287.8 114.4h0M267.4 115.7h0M334.2 93.5h0M280 139.5h0M315.1 118.5h0M298 75h0M299.9 119h0M276.3 109.6h0M303.4 113.6h0M302.4 81h0M321.5 99.9h0M309.5 83.8h0M283.5 136.6h0M306.6 112.8h0M326.7 78.2h0M332.9 74h0M333.6 104.5h0M286 85.3h0M288.6 94.7h0M292.6 99.7h0M336.2 78.4h0M307.4 73.6h0M331.8 73.9h0M320.4 82.8h0M284.1 85.5h0M347.9 75h0M295 135.7h0M299.5 120.8h0M294.5 99.8h0M301.3 113.2h0M314 78.6h0M297.5 107.8h0M307.9 91.9h0M293.2 89.8h0M278.6 128.2h0M328.4 94.4h0M297.4 104.8h0M332.7 85.6h0M315.5 90.2h0M272.6 101.9h0M317.5 82.6h0M292.2 107.2h0M276.3 134.5h0M318.2 124.8h0M286.4 87.5h0M332.4 95h0M327.3 99.9h0M336.6 97.6h0M327.4 95.2h0M303.7 106.9h0M278.1 110.9h0M297.8 109.7h0M350.6 89.5h0M310.5 104.3h0M292.5 120.6h0M297.8 99.7h0M342 72.3h0M351.3 83.8h0M319.3 108.8h0M316.5 94.4h0M260.6 116.7h0M300.8 118.9h0M320.3 81.8h0M288.4 89.3h0M325.9 78.5h0M324.6 109.8h0M348.4 87.4h0M330.1 97.1h0M294.5 106.6h0M268.9 101.3h0M286.9 109.6h0M342.4 78h0M289.2 117.2h0M335.3 77.2h0M324.2 93.5h0M294.5 113h0M333.2 79.8h0M305.3 86.9h0M348.8 96.2h0M316.7 131.3h0M318.8 103.5h0M281.2 105.3h0M316.1 84h0M291.9 110.1h0M333.9 85.4h0M310.2 107.6h0M331.5 77.3h0M311 75.3h0M290.3 116.8h0M298.7 91.5h0M296.9 112h0M297.2 118.3h0M325.2 86.2h0M312.7 100.1h0M344.6 80.6h0M310.3 98h0M314.2 78.7h0M325.2 100.8h0M335.7 85.5h0M329 92.6h0M305.3 98.5h0M288.4 108.3h0M329.7 105.4h0M356.8 101.1h0M332.6 90.6h0M328.2 100.6h0M263.9 90.2h0M333 121.7h0M314.4 68.4h0M311.7 110.1h0M342.1 94.4h0M299.3 97.2h0M304.1 83.5h0M321.6 108.4h0M311 107.3h0M333.5 77.3h0M313.1 95.4h0M334 77h0M326.3 78h0M326.4 89.8h0M290.2 105.5h0M320.1 85.9h0M351.9 96.4h0M310.2 96.6h0M340.1 80.6h0M297.6 102.9h0M297.4 103.5h0M299.1 134.1h0M342.3 92.5h0M307.4 99.2h0M306.2 119h0M291.5 126.5h0M314 108.7h0M319.7 79.3h0M305.5 109.4h0M364.4 74.2h0M260.1 100.6h0M320.9 63.8h0M290.6 102.2h0M282.7 111.5h0M338.7 84.6h0M335.8 75.3h0M338.6 114h0M319.8 92.5h0M314.3 62.9h0M311.3 81h0M314.9 72.7h0M355.3 74.7h0M283.5 89.9h0M328.3 109.7h0M331.3 88.8h0M296.9 92.4h0M347.3 69.1h0M298.5 95.1h0M328.8 71.3h0M319.6 81.8h0M338.7 85.7h0M326.6 76.6h0M327.3 111.2h0M298.7 117.6h0M333.7 89.1h0M315.5 96.5h0M315.6 121.9h0M321.1 91.4h0M337.2 126.6h0M297.2 96.3h0M300.1 102.4h0M335.9 102.7h0M269 100.9h0M298.8 95.8h0M315.7 96h0M320.8 75.5h0"/>
<path d="M321.7 103.3h0M310.5 115.6h0M290.9 114.6h0M319.9 88h0M321.1 107.6h0M322.4 106.4h0M273.4 101.1h0M290.8 113.6h0M306 79h0M319.6 121.1h0M356.6 93.2h0M320 85h0M329.6 100.5h0M338.4 101.3h0M284.8 111.5h0M358.7 62.5h0M366.8 75.8h0M313.4 86.3h0M306.8 81.5h0M332.2 92.1h0M312.9 103.4h0M313.3 104.1h0M327.6 84.5h0M291.6 93.1h0M290.7 102.2h0M370.7 83.1h0M340.7 91.5h0M313.1 102.8h0M359.5 99.1h0M289.5 89.8h0M314.1 101.5h0M260.2 104h0M321.6 71.4h0M275.2 121.7h0M294 114.1h0M290 86.9h0M314.2 103.2h0M302.5 95.7h0M285.9 116.1h0M334.8 89.9h0M305.2 97.8h0M304 107.2h0M321.6 96.4h0M286.4 133.9h0M336.6 72.3h0M270.3 128.8h0M342.8 73h0M321.6 112.1h0M363.4 67.6h0M255.9 139.9h0M312.3 93.8h0M277.9 106.5h0M311.2 90.7h0M337.6 79.6h0M335.9 109.3h0M341.9 70.1h0M315.4 99.3h0M336.3 96.6h0M308.2 104.1h0M305 94.6h0M339 89.2h0M314.1 103.5h0M316.4 104.6h0M326 98.7h0M299 95.5h0M314 83.6h0M310.4 105.4h0M334.2 84.4h0M318.4 97.2h0M336.5 104.5h0M328.5 81.2h0M296.5 112.6h0M310.5 88.1h0M277.9 112.5h0M309.5 96.1h0M308.1 90h0M338.4 72.3h0M309.8 78.9h0M324.6 70.9h0M348.2 80.6h0M318 106.1h0M323.6 108.9h0M292.1 88.6h0M289.9 92h0M295.7 99.6h0M305 109.3h0M325 89.2h0M330.5 101.9h0M323.6 95.3h0M288.5 103.8h0M301.1 108h0M304.7 110.7h0M303.7 86.8h0M282.8 85.3h0M318.1 103.6h0M300.6 97.6h0M331.8 82.5h0M345.9 69.1h0M341.1 87.5h0M369.6 91h0M300.6 101.9h0M321.3 91.7h0M333.7 69.6h0M307.2 98.3h0M328.8 80.5h0M313.7 103.9h0M325.6 89.1h0M326.2 105.9h0M299 107.3h0M277.4 121h0M281.4 86.4h0M309.7 95.8h0M274.2 104h0M288.9 105.5h0M314.1 90.5h0M337.5 72.8h0M297.5 84h0M345.3 78.8h0M319.5 73.4h0M328 97.6h0M312.9 134.2h0M284.4 116.2h0M299.4 103.4h0M332.1 93.4h0M308.1 75.3h0M299.2 118.4h0M332.4 88.8h0M335.6 96.6h0M333.8 85.2h0M322.2 84h0M298.9 122.2h0M293.8 117.2h0M296.7 109.7h0M310.2 85.1h0M292.6 84.9h0M322.2 90.4h0M321.9 101.7h0M297.7 114.2h0M323.7 93.8h0M319.7 85.9h0M319.5 85.5h0M296.3 111.6h0M292.9 116.9h0M290.1 100.4h0M355.8 73.1h0M312.7 108.6h0M309.8 79.7h0M341.5 88h0M327.1 115h0M324.6 117.1h0M341.4 82.3h0M324.6 90.7h0M299.6 89.4h0M282.1 109.7h0M296 101.7h0M330.4 66.4h0M300.1 86.3h0M296.2 117.1h0M319.6 88.4h0M295.3 110.8h0M300.5 82.9h0M345.1 84.1h0M315.6 110.3h0M298 108.9h0M331.3 72.1h0M324.2 95.7h0M310.3 79.6h0M283.1 111.1h0M296.5 88h0M328.8 116.7h0M322.2 65.9h0M316.8 80.1h0M329.9 98.7h0M312.8 74.8h0M273.7 113h0M282.7 106.3h0M285.5 99.1h0M339.2 82.2h0M292.9 127.8h0M287.2 110.9h0M330.9 72.2h0M327.2 91h0M315.2 78.7h0M317.5 101.1h0M305.4 116.5h0M318.8 105.9h0M327.3 85.7h0M373.5 92.7h0M320.7 97.1h0M348.7 94h0M341 99.2h0M294.7 91.1h0M321.6 103.1h0M291.5 126.7h0M311.6 93.8h0M288.5 95.9h0M293.7 111.7h0M330.1 102.8h0M294.7 85.7h0M284.4 112.2h0M293.3 103.4h0M311.1 102.9h0M316.4 73.1h0M310 97.9h0M319 84.8h0M317.8 93.1h0M290.5 75.5h0M301.1 71.4h0M310.3 95.4h0M285.6 106.8h0M307.3 101.8h0M296.1 104.9h0M325.1 97.6h0M285.3 119.4h0M278.3 124.8h0M332.1 97.6h0M305.3 92.6h0M300.8 107.5h0M291.6 118.7h0M353.9 105.7h0M291.8 90.3h0M293.3 129.4h0M302.8 106.1h0M317.3 78.7h0M343.1 99.2h0M303.4 91.3h0M331.7 80.1h0M304.6 121.8h0M327.2 103.6h0M303.2 96.1h0M307.2 114.2h0M310 127.1h0M308.2 85.9h0M309.4 81.4h0M329 92h0M323.2 111.4h0M298.6 105.6h0M288.7 112.3h0M297.3 89.4h0M322.3 117.5h0M309.6 97.5h0M287 103.9h0M303 92.9h0M275 115h0M288.9 111h0M291 106h0M312.2 72.5h0M346.6 77.9h0M285.6 103.3h0M301.3 79.4h0M339.5 77.8h0M300 97.2h0M323 87.9h0M334.1 107.5h0M319.6 121.3h0M278.9 118.6h0M309.7 116.4h0M302.1 109.5h0M285.4 92.6h0M317.4 110.5h0M292.3 107.4h0M299.1 77.1h0M285.6 100.4h0M306.4 107.4h0M296.8 119.5h0M343 70.2h0M332 117.1h0M287.4 86.1h0M332.1 94.6h0M301.8 116.1h0M326.9 103.6h0M286.3 113h0M315.8 100.9h0M332 84.7h0M355.5 80.4h0M325.8 100h0M365.1 92.6h0M320.7 78.9h0M347 84.5h0M295.9 112.5h0M298.7 100.7h0M301.7 90.4h0M322.3 76.6h0M321.1 78.7h0M282.5 130.6h0M344.7 97.9h0M341 86.8h0M328.6 65.7h0M310.8 97h0M280.2 107h0M295.1 76.5h0M330.3 70h0M334.7 90.9h0M331.2 83.9h0M287.6 101.9h0M318.4 105.4h0M288.2 96.8h0M341 89.5h0M308 73.8h0M311.1 90.4h0M294.3 98h0M309.5 124.2h0M327.8 84h0M289.6 102.3h0M319.7 99.9h0M292 113.3h0M309.3 107.3h0M304.2 97.2h0M325.3 81.9h0M293.2 99.3h0M298.7 100h0M260.7 125.4h0M344.5 79.3h0M320.4 93.3h0M323.6 94.4h0M324.6 109.4h0M304.8 95.3h0M289.8 107.4h0M358.9 76.5h0M287.8 110.7h0M319.1 86.4h0M324.1 99.9h0M279.4 88.4h0M331.9 93.3h0M335.4 87.5h0M343.6 94.8h0M350.8 94h0M327.3 71.7h0M319.3 82.1h0M294.9 87.2h0M336.4 78.2h0M304.1 109.6h0M324.8 91.1h0M316.9 89.8h0M316.2 73.2h0M286.7 115.4h0M275.2 110.8h0M300.1 101.8h0M316.4 80.8h0M307.1 111.6h0M288.3 127h0M343.8 72.5h0M316.3 98.4h0M334.5 94.6h0M331.9 98.8h0M291.5 106.4h0M316.2 71.8h0M323.6 86.2h0M293 102.1h0M285.8 132.4h0M312.6 95.2h0M279.4 90.9h0M319.7 76.3h0M291.5 89h0M300.1 104.3h0M304 80.9h0M319.5 99.4h0M277.2 105.7h0M325.2 100h0M342.3 93h0M282.4 121.7h0M275.6 114.6h0M309.9 107.3h0M298 89h0M273.2 88h0M257.7 100.3h0M299.3 108.9h0M348.4 66.9h0M278.5 116.5h0M318 81.1h0M308.9 93.2h0M349.3 70.8h0M363.8 76.8h0M326.9 86.8h0M321.2 82.2h0M295.6 96h0M302.4 108.8h0M349.4 81.1h0M335.6 50.2h0M292.6 128.6h0M330 72.9h0M282.8 120.5h0M315.2 118.1h0M315.2 109.5h0M282.2 89.6h0M314.7 103.2h0M332.8 96.5h0M281.4 114.5h0M313.6 106.1h0M285.6 114.1h0M289.1 127h0M320.8 83.3h0M330.2 78.3h0M325.2 81.2h0M304 95.1h0M315.6 70.4h0M324.4 81.6h0M327.5 86.6h0M312 97.8h0M302 105.7h0M347.8 104.1h0M284.8 109.7h0M336.1 87.2h0M326.3 113.9h0M342.8 88.2h0M313.8 87.1h0M276.4 124.1h0M299 99h0M342.4 63.4h0M318.9 86.3h0M320 93h0M313.3 128.1h0M352 69.2h0M289 94.4h0M297.4 107.2h0M316.6 94.7h0M305.2 99.6h0M327.9 101.8h0M310.9 98.1h0M281.9 113.4h0M316.5 98.4h0M277.1 107.4h0M300.3 90.2h0M290.2 90.5h0M294.2 107.7h0M312.1 87.4h0M321.2 72.7h0M315.3 83.9h0M294.5 91.6h0M321 114h0M293.9 111.1h0M300 101.1h0M299 91.7h0M324 116h0M313.8 99.8h0M285 101.4h0M326.9 98.1h0M320.6 79.9h0M279.4 99.2h0M307.1 99.4h0M291.3 112.4h0M313.6 84h0M273.4 106.7h0M313.6 92.2h0M294.2 106.9h0M288.4 123.9h0M304.3 105h0M312.5 84h0M309.2 110h0M296 139.7h0M334.4 83h0M312.5 101.3h0M336.8 88.3h0M286.9 126h0M335.9 71h0M321.8 73.3h0M324.9 89h0M374.7 59.8h0M353.2 90.1h0M292.7 109.3h0M311.4 98.5h0M330.3 75.9h0M316.1 73.6h0M321.8 94.4h0M330 69.2h0M310.5 82h0M325.9 96.1h0M291.6 118h0M292.3 87.6h0M273.6 113.8h0M294.6 122.9h0M324.4 97.4h0M313.5 79.8h0M300.2 88.7h0M343 86.6h0M309 100.6h0M324.7 99.3h0M283.3 70.4h0M317.8 82.9h0M304.8 84.7h0M286.5 124.3h0M296.6 106.4h0M297.1 86.1h0M325.5 78.6h0M281.7 140.9h0M274 117.5h0M330.4 90h0M322.1 78.3h0M311.6 94.7h0M317.4 113h0M313.1 81.3h0M295.8 70.7h0M340 83.1h0M327.3 76.3h0M301.8 84.1h0M314.5 141h0M331.7 74.8h0M320.7 93.2h0M300.8 73.3h0M318.8 84.1h0M278.4 79.5h0M267.1 112.5h0M275.3 115.7h0M308.8 88h0M288.5 114.3h0M298.9 137.3h0M323.9 89.6h0M279.5 90.4h0M285.9 135.9h0M360.9 83.3h0M327.4 96h0M324.8 97.9h0M322.1 111.3h0M302.5 98.6h0M299.7 112.2h0M305.7 88.1h0M309.5 99.2h0M294.1 111.7h0M300 77.3h0M313.8 93.8h0M322 70.4h0M313.2 90.7h0M327 104.5h0M339.5 87.6h0M319.2 83.3h0M271.6 92.5h0M337.7 82h0M303 103.7h0M290.3 115.2h0M293.7 122.6h0M318 107.7h0M315 89h0M308.5 107.2h0M338 87.5h0M311.8 104.5h0M314.8 82h0M281.2 110.3h0M334.6 73.6h0M335.3 97.8h0M272.5 116.5h0M308.8 100.8h0M316.2 104.4h0M312.6 110.2h0M300.1 119.3h0M305.1 113.8h0M299.9 107.7h0M330.6 78.6h0M319.9 93.2h0M308.8 94.9h0M319.9 99.5h0M287.6 109.4h0M358.1 94h0M313 81.9h0M303.3 104.6h0M320.4 102h0M297.1 93.2h0M311.5 110.2h0M326 86.9h0M308.9 77.8h0M302.5 84.1h0M297.7 83.4h0M321.2 99.7h0M312.7 95.9h0M285 100.8h0M310.9 108.9h0M315 81.7h0M297.9 90.8h0M307.2 71.3h0M294.7 103.2h0M296.7 105.1h0M292.5 124.7h0M338.6 81h0M330 83.6h0M309.5 116.8h0M336 84.2h0M313.3 74.1h0M342.2 98.8h0M322 85.1h0M299 129.7h0M329.4 95h0M329 80.5h0M291.8 98.2h0M298.8 113.8h0M323.8 107.9h0M349.1 72.1h0M286.6 111h0M305.2 122.8h0M334.4 80h0M292.7 91.5h0M354.2 110.5h0M302.7 103.3h0M300.1 108.7h0M318.9 84.1h0M324.4 66.3h0M339.1 102h0M302.2 110.2h0M327.1 73.1h0M313.8 127.5h0M320.3 86.2h0M327.8 85.6h0M327.2 92.4h0M298.4 104.5h0M320.9 100.4h0M323.2 82.1h0M301.5 112h0M326.3 71.5h0M350.8 88.3h0M305.6 99.3h0M282.8 88.3h0M293.7 124.4h0M294.1 90.7h0M318.3 95.1h0M290.3 91.5h0M282.7 141.9h0M326.8 83.6h0M278.6 92.1h0M328.8 86.8h0M357.9 93.2h0M299.3 98.2h0M298.3 115.9h0M303.2 90.4h0M325.7 80h0M333 77.5h0M282 111.3h0M329.5 99.1h0M307.5 87.3h0M290.1 124.4h0M321.5 70.5h0M304.5 93.6h0M302.4 103.2h0M323.1 66.4h0M306.3 99.9h0M308.7 84.9h0M285 97.9h0M307.2 120.6h0M316.8 96.7h0M307.6 89.2h0M277.4 109.3h0M313 98.2h0M305.7 111.4h0M295.2 107.1h0M287.3 124.7h0M280.1 121.8h0M303.7 86.5h0M279.8 89.3h0M336.7 100.9h0M328.6 87.3h0M382.1 66.6h0M312.2 104.8h0M305.9 90.9h0M342.7 93.9h0M327.2 91.3h0M291.8 115.9h0M334.6 74.4h0M297.8 108.7h0M331.7 83.1h0M323.3 86.6h0M331.1 83.1h0M309.7 101.9h0M286.1 102.8h0M323.8 95.5h0M322 96.5h0M332.6 93.2h0M315 108h0M338.3 91.5h0M292.2 85.7h0M296.3 105.8h0M308.1 85h0M315.5 88.9h0M315.8 106h0M293.3 94.2h0M279.6 113.5h0M321.4 93.3h0M337.9 101.2h0M325 78.9h0M326.3 84.6h0M309.2 103.8h0M315.1 76.5h0M334 109.5h0M330.2 106.5h0M327.8 79.7h0M332 81.5h0M316.7 95.1h0M301.2 112.7h0M301.2 95.9h0M322.4 74.5h0M335.9 63.8h0M261.5 118.6h0M319.9 87.8h0M301.9 101.5h0M275.3 115.6h0M298 83.4h0M306.9 109.3h0M317.5 88.2h0M350.2 80.3h0M298.5 107.3h0M289.9 124.4h0M336.1 119.1h0M284.2 113.9h0M310.3 98.5h0M349.1 75h0M300.1 78.7h0M335.5 70.2h0M312.8 100.7h0M309.1 92.3h0M312.6 86.7h0M307.8 72h0M308.8 113.1h0M304 99.6h0M347.7 80.5h0M311 113.8h0M275 108.7h0M270.3 121.3h0M317.3 93.3h0M318.5 99.9h0M326.2 106.6h0M312.1 94.6h0M369.7 84.8h0M345 60.5h0M315.9 113h0M294.9 112.9h0M323.5 102h0M287.2 114.3h0M317.5 101.3h0M308.9 137.5h0M314.5 117.7h0M272.6 140.7h0M303.6 81.5h0M281.4 93.3h0M300.9 118.5h0M328.2 65.6h0M339.1 95.1h0M311.5 105.3h0M324.9 71.8h0M288.7 85h0M331 76.3h0M300.8 136.3h0M335.6 86.4h0M311.5 98.6h0M327 100.4h0M306.9 83.6h0M321.6 91.8h0M305 99.5h0M321.3 78h0M314.2 94.7h0M351.2 90.3h0M301.6 99.1h0M318 106.6h0M308.6 82.1h0M361.1 86.3h0M265.1 114.2h0M302.6 110.9h0M316.3 76.1h0M308.9 91.6h0M319.3 92.5h0M305.6 96h0M306.8 100.8h0M320.9 68.7h0M311.9 76.2h0M319.8 91.3h0M339.7 74.1h0M299.7 106.3h0M277.5 113.8h0M302.9 88.1h0M306 79.5h0M315.6 88.9h0M323.4 77.4h0M292.1 113.6h0M317.6 67.4h0M277.7 103.2h0M308.4 87.8h0M275.1 102.7h0M306.2 92.2h0M290.4 111.5h0M368.5 87.4h0M271.1 95.9h0M269.4 130h0M332.4 88.2h0M322.3 85.1h0M359.2 65.5h0M331.9 94.4h0M302.8 87.2h0M311.9 83.6h0M320.5 100.6h0M329.8 66.1h0M322.7 78.2h0M298.4 91h0M339.8 87h0M280.9 101.9h0M331.3 82h0M324.6 82.4h0M314.6 101.8h0M296.8 98.8h0M324 76.3h0M270.7 107.5h0M300.5 104.1h0M293.7 81.3h0M311.3 85.8h0M330.9 103.9h0M351.3 106.6h0M385.7 64.3h0M284.1 119.4h0M295.7 79.5h0M288.8 108.2h0M354.3 81.9h0M323.7 97.4h0M349.2 85.2h0M322.3 75h0M282.8 139.5h0M291.1 115.9h0M333.1 82h0M275.7 119.7h0M313.6 96.4h0M329.3 85.2h0M300.7 92.9h0M299.2 127.9h0M273.1 135.1h0M314.1 76.3h0M332.3 100.3h0M254.9 130.2h0M293.6 95.4h0M311.8 86.1h0M356.4 76.2h0M320.3 96.6h0M324.7 66.6h0M336.2 92.6h0M324.6 94.7h0M289.6 92.7h0M307.6 91.7h0M320 110.7h0M306.3 72.4h0M309.2 103.4h0M324.2 97.5h0M347.5 89.7h0M348 78h0M335.5 90.3h0M311.6 101.5h0M334.1 97.2h0M321.4 80.6h0M313.2 103.4h0M345.5 78.4h0M280 116h0M314 108.8h0M318.7 92.9h0M332.6 99.1h0M299.2 92.6h0M351.3 81.3h0M350.6 96.3h0M288.8 116.8h0M360.7 79.6h0M303.1 92.3h0M341.2 75.7h0M282.4 108.2h0M271.7 92.7h0M317.1 77.8h0M307.6 81.3h0M246.6 73.3h0"/>
</g>
<line x1="239.9" y1="126.5" x2="389.9" y2="64.9" stroke="#111" stroke-width="1.05" stroke-dasharray="3.1 1.35"/>
<path d="M232.4 36.8V151.7H398.2" fill="none" stroke="#c6c6c6" stroke-width="0.9"/>
<path d="M241.3 151.7v1.6M264.7 151.7v1.6M288.1 151.7v1.6M311.5 151.7v1.6M334.9 151.7v1.6M358.3 151.7v1.6M381.7 151.7v1.6M232.4 146.7h-1.6M232.4 122.2h-1.6M232.4 97.8h-1.6M232.4 73.3h-1.6M232.4 48.9h-1.6" stroke="#555" stroke-width="0.5" fill="none"/>
<g class="dv" font-size="5.9">
<text x="241.3" y="159.0" text-anchor="middle">−0.6</text><text x="264.7" y="159.0" text-anchor="middle">−0.4</text><text x="288.1" y="159.0" text-anchor="middle">−0.2</text><text x="311.5" y="159.0" text-anchor="middle">0.0</text><text x="334.9" y="159.0" text-anchor="middle">0.2</text><text x="358.3" y="159.0" text-anchor="middle">0.4</text><text x="381.7" y="159.0" text-anchor="middle">0.6</text>
<text x="230.3" y="149.0" text-anchor="end">−1.0</text><text x="230.3" y="124.6" text-anchor="end">−0.5</text><text x="230.3" y="100.1" text-anchor="end">0.0</text><text x="230.3" y="75.7" text-anchor="end">0.5</text><text x="230.3" y="51.2" text-anchor="end">1.0</text>
</g>
<text class="dv" font-size="8.9" y="48.2"><tspan x="241.0" font-style="italic">r</tspan><tspan x="243.9"> = </tspan><tspan x="255.2">0.544</tspan></text>
<text class="lb" font-size="10.35" x="314.9" y="174.0" text-anchor="middle">Predicted 2-back EEA</text>
<text class="lb" font-size="10.35" text-anchor="middle" transform="translate(211.7 94.9) rotate(-90)">Actual 2-back EEA</text>
<g fill="none" stroke="#4088c2" stroke-width="1.95" stroke-linecap="round" stroke-opacity="0.66">
<path d="M522.6 82.8h0M499.6 105.6h0M509 115h0M492.4 111.1h0M564.3 77.4h0M518.4 90.3h0M513 123h0M496.8 107.3h0M491.4 121.8h0M494.7 109.3h0M514.8 73.7h0M527.4 93.7h0M529.7 108.9h0M507.9 109.3h0M556.8 89.1h0M535.7 76.4h0M499.2 97.2h0M539.6 108.3h0M515.5 111.3h0M512 89.8h0M555 82.2h0M514.9 104.3h0M571.5 70.8h0M562.7 90.4h0M511.3 119.4h0M556.4 67.7h0M533.7 70.8h0M532.9 95.8h0M505.4 103h0M544.9 95.9h0M544.1 71.6h0M492.4 124.8h0M545.9 90h0M534.7 88.6h0M493.2 112.2h0M531.3 99.8h0M540.7 99.9h0M534.2 91.6h0M521.1 106.7h0M491.3 95h0M500.5 81.7h0M527.2 82.1h0M541.2 73.5h0M513.8 108.3h0M550.5 97h0M524.7 78.1h0M488.1 121.7h0M501.1 90.6h0M526.8 86.5h0M529.1 105.1h0M544.6 95.5h0M543.8 85.2h0M499 128.4h0M552.1 94.9h0M550.2 87.9h0M483.4 103h0M557.1 85.3h0M488.1 101.3h0M530.7 111.7h0M529.6 120.3h0M529.3 107.9h0M492.3 129.3h0M507.8 106.3h0M537.1 111.2h0M516.9 94.5h0M530.3 119.3h0M495.3 120.5h0M517.8 120.2h0M533.2 100.6h0M529.4 94.6h0M543.2 92.2h0M557.5 88.7h0M556.3 69.4h0M510.8 106.9h0M537.5 92.8h0M517.6 89.9h0M528.4 78.5h0M519.4 107.2h0M534.7 78.3h0M515.9 104.1h0M528.9 103.8h0M500 113.2h0M560.6 90.3h0M510.1 117.6h0M556.9 82.9h0M521.1 107h0M552.8 68.2h0M508 101.9h0M550.3 75.6h0M530.8 70.8h0M551 92h0M510.1 119.2h0M541.3 100.4h0M533.1 95h0M497.2 97.7h0M480.5 102.7h0M532.6 96.1h0M533.5 94.4h0M497.4 106.6h0M531.7 85.3h0M467.9 140h0M504.8 117.2h0M515.8 91.6h0M528.4 102.3h0M549.4 82.9h0M542.8 74.8h0M536 81.8h0M520.5 121.8h0M516.2 67.7h0M488 90.5h0M519.3 99.3h0M501.1 125.4h0M515.6 127.2h0M572.2 70.9h0M517.1 98.8h0M548.9 91.5h0M521 104.1h0M533.3 90.4h0M511.8 84.5h0M501.9 103.9h0M527.8 85.6h0M524 88.1h0M505.3 98.7h0M488.2 118.4h0M534.7 102.6h0M511.1 100.8h0M513.8 127.4h0M515.9 85.5h0M520.1 85.2h0M492 128.7h0M529.5 106.5h0M515.6 104.5h0M542.5 66.9h0M556.3 84h0M488.1 113.9h0M532.4 91.8h0M541.8 94.5h0M519.5 111.4h0M519.1 81h0M536.3 89.5h0M545.2 96.5h0M535.4 77.4h0M492.3 124.1h0M517.3 104.5h0M527.8 92.4h0M496.9 83.4h0M530.2 101.5h0M509.7 93.6h0M475.6 112.6h0M558.8 85.9h0M533.6 101h0M532.8 89.5h0M525.6 131h0M543.6 80h0M545.5 81.7h0M512.5 108h0M506 108.4h0M542.9 77.1h0M491.6 110.2h0M547.1 78.7h0M516.4 101.7h0M521.4 98.7h0M491.9 119.6h0M500.4 116.6h0M512.5 98.6h0M550.5 81.5h0M506.9 106.5h0M525.1 85.4h0M550.4 84.6h0M487.9 107.1h0M513.2 115.3h0M515.9 85.8h0M502.9 127.6h0M522 109h0M528.9 92h0M550.2 77h0M510.2 112.7h0M536.7 105.8h0M526.6 82.6h0M537.2 106.9h0M517 108.8h0M519.3 117.2h0M504.3 124.7h0M528.9 102.7h0M539.6 94h0M528.2 66.4h0M517.4 94.7h0M529.3 105.4h0M516.6 99.2h0M519.7 120.7h0M540.4 82.4h0M537.3 100.5h0M537.7 91.7h0M513.3 117.4h0M490.4 107.3h0M559.8 76.8h0M554.1 93.1h0M522.1 126.8h0M528.1 104.7h0M526.1 107.7h0M509.3 112.6h0M503 124.4h0M506.9 109.1h0M522.2 99.2h0M511.3 106.4h0M543.7 79.7h0M530.2 94.6h0M544.9 64.7h0M518.9 104.1h0M514.7 83.7h0M539.3 65.2h0M522.6 127.6h0M519.4 79.2h0M541.9 112.8h0M498.5 92.6h0M532 119.1h0M490.4 123.4h0M572 62.4h0M523.3 74.2h0M549 109.4h0M543.7 86.4h0M498.3 109.3h0M521.2 106.5h0M535.7 83.9h0M561.9 69.6h0M540.4 72.1h0M544 89h0M500.3 105.7h0M520.1 104.7h0M501.9 106.2h0M526.2 105h0M542.8 75.9h0M552.5 80.9h0M534 82.2h0M490.4 138.1h0M555.9 71.1h0M513.2 91.5h0M481.4 120.9h0M492.5 122.9h0M498.7 87.8h0M524.9 75.3h0M502 103h0M531.2 85.6h0M501.5 116h0M492.2 103.4h0M528.1 102.5h0M523.3 69h0M528.3 111.5h0M546.9 85.7h0M516.5 97.1h0M526 77.5h0M487.2 103.6h0M501.4 102.7h0M503.1 97.4h0M520.3 89.6h0M504.1 108.2h0M502 103.8h0M548.9 86.4h0M509 100.3h0M525.7 100.5h0M507.7 107.3h0M524.4 87.3h0M525 89.8h0M513.5 106.4h0M534.6 89.5h0M521.8 93.7h0M499.7 109.3h0M531.7 99h0M534.7 113.8h0M526.8 88.7h0M531.7 77.9h0M532.8 90h0M533 95h0M566.3 73.5h0M523.5 123.6h0M540.3 88h0M531.7 79.6h0M522.2 112.4h0M517.3 113.3h0M529.6 100.1h0M482.6 130.1h0M513.6 115.3h0M539.6 80.3h0M512.5 104.8h0M504.8 105.6h0M505.2 119.3h0M533.8 80.4h0M547.8 69.9h0M478.8 138.3h0M540.3 82.3h0M518.1 84h0M568.4 98.2h0M544.8 87.1h0M501.4 93.2h0M525.3 87.8h0M510.5 95.6h0M529.3 74.2h0M571.6 82.6h0M506.7 111.9h0M505.9 85.1h0M549.5 77.3h0M557 103.3h0M524.1 105.2h0M557.3 77.9h0M500.6 99.8h0M526.8 73.6h0M522.5 93.6h0M500.8 109.2h0M511.4 99.8h0M529.2 95.6h0M513.9 104.6h0M534.9 92.9h0M554.8 66.8h0M498.2 131.3h0M541.1 66.5h0M529.9 121.6h0M527.5 89.4h0M544.7 80.3h0M529.7 111.9h0M480.3 113.4h0M529 100.6h0M537.8 101.3h0M525.8 113.8h0M520.4 98.7h0M528.4 80.8h0M514.8 80.3h0M514.2 111.1h0M560.8 107.1h0M518.1 109.1h0M565.8 77.3h0M513.2 92h0M487.1 87.4h0M529 108.7h0M529.9 102.2h0M535.7 97.9h0M536 77.9h0M596.2 48.6h0M532.4 81.4h0M511.5 101.8h0M538.6 63.1h0M524.5 103.9h0M502.2 89.1h0M501.6 110.9h0M517.9 84.3h0M500.2 99.2h0M479.1 120.4h0M532.7 86.7h0M557 85.7h0M508.6 70.1h0M548.4 100.5h0M545.6 99h0M479.4 116h0M526 96.9h0M512.8 94.2h0M537.6 89.4h0M519.2 98.7h0M519.4 93.6h0M513.3 81.5h0M507.3 116.2h0M460.1 129.5h0M522.5 107.7h0M514.3 82.7h0M534 104h0M524.3 89h0M481.5 110h0M526.7 93.8h0M554.7 87.6h0M516.7 111.7h0M522.5 91.8h0M482.8 112.1h0M528.6 88.9h0M534.5 85.2h0M522.4 99.1h0M553.1 104.2h0M553.6 91.2h0M515.3 91.7h0M532.1 104.8h0M540 100.7h0M532.9 113.9h0M525.5 72h0M538.5 85.3h0M530.1 71.8h0M495.3 109.8h0M510 90.8h0M510.9 92.2h0M540.4 66.4h0M523.3 110.2h0M517.2 117.2h0M528.1 93.2h0M502.5 111.7h0M523.4 102.3h0M530.9 98.1h0M533.9 91h0M495.7 117.6h0M501.1 105.8h0M511.4 117.9h0M514.1 98.4h0M499 136.4h0M547.1 70.3h0M511.9 93.7h0M546.9 58.6h0M517.2 99h0M518.4 85h0M545.8 97.7h0M516.9 89.3h0M549.2 66.9h0M497.3 104.9h0M533.8 85.3h0M559 60.7h0M519.9 92.1h0M536.1 93.4h0M507.2 84.9h0M500.4 93.8h0M536.3 76.9h0M508.9 74.3h0M498.9 85.1h0M530.4 91.6h0M539.4 86.6h0M525.5 92.5h0M465.3 104.3h0M502.6 100.7h0M522.1 59.7h0M535.5 65.8h0M524.2 86.7h0M511.9 101.4h0M540.7 89.9h0M519.5 75.5h0M531.8 69.7h0M553.9 91.2h0M481.3 119.5h0M539.1 81.7h0M541.5 69.7h0M533.4 99.9h0M524.6 77.4h0M502.4 104.5h0M504.6 125.1h0M540.5 114.2h0M555.1 105h0M487.8 126.8h0M522.8 96.1h0M496.5 111.8h0M530.4 110h0M521.4 93h0M509.2 92.3h0M520.8 104.1h0M555.5 72.3h0M528 96.3h0M514 115.4h0M521.3 93.5h0M495.3 104.5h0M564.5 83.2h0M476.5 129.8h0M527.2 91.1h0M521.8 96.1h0M553.5 76.6h0M561 81h0M505.1 99.6h0M541.7 83.3h0M545.1 89.6h0M539.8 92.8h0M503.7 103.8h0M515.9 102h0M545.6 83.4h0M523.1 97.4h0M527.4 86.1h0M510.8 104.9h0M504.4 94.6h0M553.4 76h0M517.9 99.6h0M498.3 102.2h0M516.4 90.9h0M530.6 97.2h0M527.3 97.8h0M521.5 98.8h0M502.2 110.9h0M523.8 85.6h0M489.3 102.4h0M489.1 138.8h0M519.3 117.2h0M498.2 115.8h0M516.1 96h0M500.7 93.5h0M518.4 98.5h0M536.6 88.2h0M516.3 103h0M525 90.9h0M506.6 114.1h0M530.1 106.9h0M475.4 121.3h0M525.1 111.6h0M511.1 121h0M510.6 84.8h0M506 78.6h0M540.6 83.3h0M536.4 79.5h0M554.8 66.8h0M531.3 86.2h0M522.2 99h0M528.7 75.1h0M546.9 87.4h0M512.4 125.5h0M517.9 97.9h0M519.3 92.9h0M517.4 116.3h0M535.7 97.9h0M554.7 81.6h0M528.5 114h0M517.4 95.3h0M509.1 88.5h0M538.2 86.8h0M517.5 107.7h0M552.2 70.6h0M492.4 116.2h0M531.4 85.3h0M486.9 113.4h0M548.4 66.8h0M527.3 98.2h0M506.1 118.4h0M516.4 99.5h0M527.9 101.7h0M539.8 108.6h0M511.5 119.5h0M498 100.3h0M491 107.6h0M535.9 84.6h0M537.3 79.6h0M524.4 91.1h0M462.5 122.3h0M541.3 83.3h0M552.7 93h0M517 89.4h0M546 99.6h0M505.3 74.7h0M528 73.7h0M501.3 90.6h0M542.8 75.1h0M513.3 108.9h0M527.1 96.4h0M478.5 117.3h0M515.1 107h0M547.7 81.1h0M553.6 92.6h0M522.9 96.3h0M539.5 98.7h0M529.1 92.3h0M519.6 100.2h0M541.8 73.4h0M555.6 94.8h0M549.6 91.9h0M522.5 119.9h0M510.2 117.6h0M519.8 107h0M536.1 87.3h0M588 67h0M488.6 123.2h0M536.2 76.4h0M527.6 92.9h0M528.9 84.1h0M518.9 106.7h0M521.4 99.3h0M540.1 85.3h0M482.1 98h0M542.3 80.9h0M537.4 93.9h0M499.9 90.5h0M509.4 87.3h0M553.8 48.8h0M542.5 84.2h0M485.6 120.7h0M530.1 80.3h0M512.5 105.5h0M559.6 52.8h0M511.7 99.5h0M529.9 90.5h0M514.2 97.7h0M514.2 113h0M482.9 94.6h0M513.8 94.4h0M564.6 70.9h0M535.8 87.3h0M510.4 88.8h0M517.2 106.4h0M508.9 94.1h0M536.2 98.6h0M548.1 93.2h0M517.5 95.6h0M528.3 94.6h0M501 110.1h0M501.5 95.5h0M500.5 115.4h0M517.6 93.2h0M494.7 105.3h0M508.3 119.7h0M513.9 102.1h0M567.6 70.8h0M553.9 70.7h0M487.8 131.1h0M491.7 105h0M535.7 62.7h0M507.9 101.5h0M513.7 97.7h0M523.6 97.4h0M540.1 79h0M489.7 104.2h0M538.7 86.5h0M508.1 100h0M555.3 83.4h0M509.5 72.5h0M530.5 97.5h0M527.2 95.7h0M519.5 109.2h0M523.8 94h0M500.6 105.8h0M522.4 78h0M525.4 100.8h0M536.7 86.4h0M528.5 123.5h0M527.5 94h0M502.8 114.9h0M569.6 75.1h0M529.2 93.8h0M508.1 92.6h0M539.5 108h0M509.7 105.2h0M546.5 78.8h0M525.1 93.1h0M511 98.4h0M536.6 99.8h0M555.9 90.2h0M504.5 126.5h0M532 83.6h0M555.1 77.3h0M538.3 94.7h0M553.2 89.8h0M503.7 93h0M541.2 104.3h0M529.4 107.8h0M502.2 89.8h0M536.8 104.1h0M559.8 59.1h0M529.8 94.3h0M535.4 107h0M516.4 103.9h0M526 106.5h0M564.3 61h0M547.7 89.7h0M529.1 94.1h0M535.8 108h0M513 94.3h0M528.7 93.5h0M531.1 93.3h0M522.9 102.4h0M529.5 81.9h0M537.8 85.3h0M487 95.7h0M519.5 91.5h0M515.4 94.6h0M554.4 64.2h0M529.2 82h0M479.3 113.9h0M491.9 120h0M536.4 88.9h0M522.9 98.6h0M514.2 107.4h0M517.3 113.2h0M516.1 108.3h0M520.1 95.5h0M544.4 74.9h0M485.7 102.7h0M500.4 90.2h0M540 82.8h0M494.8 127.5h0M497.4 124.7h0M557.1 62.3h0M533.1 100.1h0M508.5 80.2h0M522 121h0M530.2 87.9h0M543.1 81.2h0M515.1 114.2h0M528.7 102.7h0M506.6 97.1h0M498 124.7h0M556.3 71.3h0M552.3 74.9h0M520.4 65.4h0M536.5 74.5h0M515.9 94.7h0M496.3 121.9h0M547.9 71.6h0M531.8 100.7h0M521.9 87.5h0M516.1 67.5h0M573.9 88.7h0M500.7 113h0M528.8 102.4h0M537.9 85.5h0M576.4 51.4h0M532.3 125.4h0M563.8 78.7h0M527.9 100.4h0M534.4 90.9h0M523.3 107.4h0M517.1 116.6h0M493.1 86.3h0M558.2 74.7h0M520.5 81.3h0M487.1 97.1h0M548.5 84.5h0M548.3 63h0M522.5 105h0M529.1 90.7h0M535.8 74h0M525.3 82.7h0M509.6 111.9h0M524.5 99.4h0M471.4 136.4h0M544.3 96.6h0M523.9 93.4h0M524.1 94.5h0M503.7 92.6h0M511.6 88h0M550.1 75.4h0M526.3 100.5h0M492.6 86.6h0M495.1 123.2h0M526.9 92.8h0M519.9 86.1h0M538.8 79.6h0M513.3 104.1h0M540.9 98.3h0M506.3 113.8h0M538.8 93.2h0M538.4 83.2h0M505.4 97h0M473.2 112.8h0M519 103h0M559.6 54.9h0M481.7 108.5h0M510.7 112.6h0M553.8 79.9h0M511 107.4h0M527.5 103.8h0M514.3 102.9h0M531.6 89.1h0M537.2 95.6h0M531.9 110.4h0M532.3 67.5h0M475 122h0M509.9 119.7h0M531 82.9h0M521.6 92h0M511.2 122.1h0M493.9 105.6h0M540.2 91.2h0M512.6 97.3h0M524 94.5h0M539.8 96.2h0M538 88.4h0M512.3 99.6h0M488.2 110.3h0M509.9 96.3h0M540.4 88.2h0M522.8 98.1h0M487.7 125.3h0M534 119h0M523.3 102.7h0M530.9 93.9h0M524.7 105.1h0M543.3 84.9h0M561.7 87.1h0M487.4 115.6h0M523.2 84.9h0M540.7 73h0M526.2 91.1h0M507.7 79.5h0M461.1 129.7h0M502.8 113.1h0M512.8 106h0M499.3 114.6h0M505.8 110.7h0M536.8 99.9h0M508.7 124.6h0M546.3 112.7h0M541.2 74.1h0M508.6 120.9h0M567.2 82.1h0M548.2 88.2h0M532.4 91.7h0M544.8 83.7h0M520.3 90.1h0M537.2 95.1h0M538.8 82.7h0M529.9 101.5h0M512.6 95.2h0M560.4 71.6h0M501.8 105.6h0M506.8 91.6h0M538.5 95.4h0M530.3 73.2h0M518.8 95.6h0M490.1 102h0M501.2 90.4h0M535.9 93.7h0M528.5 89.2h0M527.1 79.3h0M533.2 107.3h0M551.4 75.9h0M533.7 96.3h0M510.9 96.4h0M526.7 98.9h0M533 71.7h0M502.9 99.8h0M550.1 95.5h0M521.3 95.7h0M499.7 107h0M511.6 106.2h0M537.9 92.9h0M517.4 112.6h0M544.9 72.6h0M540.3 108h0M553.2 81.5h0M519.8 125h0M535.6 102h0M515.2 116.3h0M539.5 72h0M560.5 59.9h0M499.3 98.3h0M545.3 85.5h0M477 122.3h0M574.8 51.7h0M531.4 96.4h0M547.4 96.1h0M546.6 84.1h0M488.5 118.1h0M537.8 102.7h0M511.7 77.6h0M524 89.2h0M538.4 73.9h0M508.8 84.6h0M540.4 86.1h0M520.6 117.5h0M542 70.2h0M529.2 94.8h0M490.3 113.8h0M499.4 111.6h0M556.9 63.1h0M515.8 128.7h0M528.8 71.8h0M548 87.2h0M487.3 91.5h0M552 84.5h0M533.8 104.8h0M526.4 83.9h0M517.4 103.1h0M527.6 86.9h0M551.3 79.2h0M462.4 91.8h0"/>
<path d="M466.5 123.2h0M474.5 120.4h0M513 102h0M554.6 106.5h0M529.6 88.1h0M537.2 88.1h0M531 88.1h0M543.1 90h0M522.2 95.8h0M507.1 95.1h0M542.1 100.1h0M517.2 92.4h0M565.9 64.6h0M540.3 82.4h0M523.5 96.9h0M546.1 90.4h0M496.5 102.7h0M519.3 95.2h0M492 126.3h0M523.7 102.3h0M533.1 73.7h0M564.3 62.6h0M509.1 96.6h0M507.6 102.7h0M539.7 57.2h0M557.2 86h0M512.8 87h0M546.4 81.7h0M520.1 99.9h0M529.3 84.3h0M511.2 95.9h0M509.5 98.9h0M539.4 68h0M538 105.2h0M532.2 63.1h0M550.5 79.5h0M533.3 83.4h0M529.2 85.1h0M521.2 103.6h0M555.9 60.5h0M494.1 127.6h0M503.6 104.4h0M520.7 103.7h0M519.7 99h0M538 94.9h0M537.2 78.1h0M523.7 94.6h0M502.6 80.2h0M515.9 91.7h0M481.2 118.3h0M532.1 94h0M519.1 95.8h0M553.8 69.4h0M520.9 93.2h0M529.9 105.7h0M517.4 117.8h0M539.7 84.6h0M542.7 101h0M549.6 55.4h0M520.5 103.8h0M526 94.6h0M500.8 102.8h0M503.3 102.2h0M513.8 97.9h0M521.6 90.5h0M541.2 120.5h0M542.8 80.8h0M531.7 101.5h0M525.7 99.6h0M558.5 87.4h0M503.6 112.4h0M520.7 78.7h0M523.8 81.1h0M530.7 91.4h0M520.1 76.2h0M504.7 127.9h0M503.2 133.8h0M543.4 101.9h0M534.4 88.6h0M501.6 111h0M531.2 114.5h0M565.8 82.3h0M513.5 112h0M543.5 78.7h0M514.1 104.9h0M551.3 91h0M514 111.4h0M520.6 105.9h0M493.6 106.3h0M529 101.4h0M501.6 101.9h0M488.4 134.8h0M513 94.7h0M562.3 66.5h0M518.5 97.8h0M527.6 120.3h0M530.9 95.1h0M533.8 86.8h0M524.1 101h0M524.8 117.6h0M554.1 78.6h0M522.9 90.1h0M543.3 79.2h0M480.6 105.4h0M537 63h0M553.7 80.8h0M542.5 91.1h0M511 114.2h0M556.2 82.8h0M525.7 102.3h0M479.7 133.8h0M559.4 75.8h0M546.2 94.9h0M525.3 117h0M572.4 68.1h0M511.2 101h0M502.9 108.7h0M534.1 115.6h0M516.9 89.1h0M499.1 102h0M542.2 74.4h0M514 89.2h0M524.6 96.5h0M516.5 105.1h0M516.2 99.3h0M494.1 93.4h0M539.8 69.3h0M494.8 106.5h0M506.5 102.1h0M523.8 91.1h0M528.9 103.4h0M508.8 119.8h0M527.2 71.2h0M504.2 91h0M534.3 77.5h0M532.9 80.5h0M502 102.5h0M560.1 69.4h0M522.8 101.5h0M510.8 117.7h0M541.3 101.4h0M537.4 86.1h0M524.3 68.1h0M527.3 103.6h0M531.8 97.8h0M535.7 85.9h0M519.1 107.7h0M527.3 103.2h0M494.4 109.8h0M497.5 102.2h0M523.8 95.1h0M524.2 78.7h0M514.8 115.3h0M531.3 70.8h0M562.8 68.8h0M502.9 112.4h0M478.4 120.7h0M524 115.6h0M507.9 102.2h0M533.6 112.7h0M518.7 80.9h0M533.2 84.4h0M498.5 127.2h0M531.3 115.4h0M521.9 121.3h0M526.5 91.7h0M535.2 82h0M544 70.3h0M538.4 88.9h0M534.3 103.4h0M510.6 125.6h0M525 115.5h0M515.2 79.3h0M521.8 109.6h0M512.5 97.4h0M535.4 89.1h0M522.6 97.7h0M568 71h0M552.2 72.2h0M526.3 85.5h0M497.6 107.5h0M522.9 111.9h0M557.9 69h0M524.6 90.5h0M534.9 86h0M498.1 95.6h0M511.6 113.2h0M521.1 96.1h0M555 79.1h0M535.5 100.9h0M507.2 91.1h0M525.4 89.3h0M547.5 108.4h0M523.3 91.8h0M522.4 93.1h0M530.9 94.5h0M525.1 104.8h0M501.2 124h0M513.5 94.4h0M525 101.4h0M516.8 94.9h0M527.9 90.2h0M540.2 99.3h0M549.1 80.5h0M499.7 104.2h0M573.8 57h0M546.2 109.3h0M467.3 129.6h0M550.5 87h0M560 83.7h0M522.5 102.2h0M535.3 80.5h0M511.8 111.4h0M548.9 61.9h0M482.1 123.6h0M534.9 103.1h0M502.6 97.8h0M515.6 85.3h0M495.7 114.5h0M529.2 77h0M521.5 101.1h0M573.5 64.9h0M532.8 70.2h0M542.8 91.2h0M507.2 99.5h0M512.2 122.6h0M517.7 92.3h0M530.2 84.9h0M498.4 114.8h0M531.7 79.4h0M491.5 118.1h0M525.5 102.3h0M514.3 104h0M555.7 78.8h0M494.5 137.7h0M523.7 96.6h0M492.3 133.6h0M531.6 72.3h0M553.3 102.4h0M555.6 90.2h0M528.3 106.2h0M486.9 106.9h0M533.7 97.3h0M515 104h0M531.2 58.8h0M530.1 84.6h0M536 73.8h0M504 83.1h0M547 75.7h0M523.9 79.9h0M512.1 125.8h0M543.1 74.7h0M529.6 82.5h0M531.4 100h0M491.6 100.8h0M523.6 88.7h0M528.2 104.9h0M488.8 123.1h0M523.9 96.6h0M506 110.7h0M519.7 88.5h0M547.1 91.6h0M534.1 95.3h0M483.9 113.1h0M553.6 68.6h0M506.5 108.3h0M543.4 91h0M457.9 125h0M534.3 79.3h0M498.1 120h0M512.6 112.3h0M526.7 102.3h0M536.5 95.9h0M517.1 115.9h0M538.8 76.3h0M549.2 101.5h0M541.3 69.3h0M510 102.2h0M527.9 101.2h0M523.7 99.9h0M537.1 90.1h0M477.9 132.3h0M556.7 88.1h0M536.4 97h0M549.4 82.4h0M553 89.7h0M573.3 56.6h0M540.9 107.6h0M534.8 89.8h0M522.6 118h0M535 107.9h0M510.1 102.6h0M488.8 105.2h0M528.8 103.5h0M520.8 98.8h0M500.9 101.3h0M496.8 102.7h0M531.8 94.2h0M480.7 98.7h0M528.8 84h0M486.9 139.6h0M503.7 121.3h0M524.6 100.3h0M538.8 80.8h0M508.1 114.6h0M545.7 95.4h0M549.4 110.1h0M515.3 115.5h0M538.8 95.1h0M519.2 96.4h0M533.4 82h0M503.1 110.7h0M497 114.5h0M500.6 115.2h0M536.5 86.3h0M549.9 79.6h0M527.4 99.5h0M532.1 82.3h0M488.3 134.3h0M591.3 70.1h0M529.9 71h0M532.1 89.5h0M531 112.3h0M516.9 91.4h0M517 98.1h0M544.6 100.2h0M494.9 93.5h0M540 99.9h0M525.8 90.1h0M537.9 77.3h0M503.2 104.2h0M562 84.2h0M530.9 81.4h0M557 85h0M511.5 103.8h0M515.3 118.5h0M538.4 94.2h0M522.6 97.6h0M502.7 83.5h0M509.4 104.8h0M540.8 79.1h0M486.2 126.8h0M499.9 90.9h0M518.7 88.7h0M502.3 105.2h0M538.8 86.4h0M506.2 106.5h0M485.9 120.2h0M540 74.7h0M519.4 112.6h0M540.2 63.4h0M523.2 100.8h0M473.1 128.8h0M512.9 94.3h0M517.2 86.1h0M530.1 87.6h0M510.3 84h0M534.9 88.6h0M529.5 74.7h0M524.4 101.8h0M527.5 102.5h0M557.8 80.3h0M502.6 107.2h0M537.1 103.8h0M524.3 87.1h0M499.4 106.7h0M494.7 137.3h0M539.9 94.8h0M491.5 116.3h0M522.1 110h0M565.6 67.4h0M506 101h0M536.1 95.8h0M470.2 138.7h0M555.5 64.9h0M496.2 120h0M529.2 100.8h0M560.7 75.3h0M536.9 99.6h0M537.2 103h0M510.2 90.5h0M500 108.1h0M542.4 114.2h0M515.5 115.5h0M507.1 109.1h0M519.9 89.1h0M518.6 86.7h0M538.8 68.2h0M546 79.2h0M532.2 86.7h0M517.2 107.6h0M561.3 81.9h0M489.2 108.7h0M529.5 101.7h0M521.2 103.5h0M524.4 82.4h0M563.9 88.7h0M530.2 101.8h0M525.2 109.3h0M485.5 108.1h0M564.7 78.3h0M495.5 89.1h0M507.5 118.2h0M538.9 88.5h0M543.5 72.8h0M484.9 119.3h0M514.8 118.5h0M542.1 99.7h0M524.9 104.8h0M540.9 85.1h0M517.5 111.5h0M500.3 108.3h0M524.9 81.9h0M491.1 104.8h0M529.4 76.9h0M523 94.9h0M533.4 81.5h0M526 101.6h0M529 114.7h0M511.3 85.4h0M486.2 124.3h0M525.8 103.3h0M508.1 124.9h0M514.2 105.4h0M556.3 91h0M507.8 117.3h0M514.5 102.9h0M524.1 96h0M532.9 100.3h0M515 115h0M504.8 79.1h0M535.1 97.5h0M517.4 91.8h0M550.5 89.1h0M539.7 73.3h0M488.7 126.8h0M531.2 103.2h0M537.5 112.7h0M533.5 83.8h0M504.2 86.3h0M530.4 85.2h0M545.5 107.2h0M531.3 76.7h0M542.1 95.1h0M503.5 94.2h0M511.7 104.5h0M527.7 78.9h0M497.7 112.7h0M554.6 90.2h0M554.4 87.3h0M564.4 62.7h0M546.8 74.3h0M510.5 92.5h0M525.9 73.6h0M537.6 93.6h0M532.7 72.7h0M513.6 103.8h0M512 107.4h0M498.2 111.2h0M512.9 85.6h0M539.5 80.1h0M553.6 74.3h0M554 85h0M525.7 82.7h0M518.8 105.9h0M543.6 81.8h0M541.7 80.4h0M506.1 108.8h0M516.3 121.5h0M495.7 95.4h0M509.2 93.5h0M506.5 130.2h0M471.2 131.2h0M517.5 89.1h0M538.6 100.8h0M494.1 122.8h0M567.1 81.7h0M521.5 113.3h0M506.5 105.1h0M481.3 124.7h0M496.9 107.5h0M537.5 115.6h0M540.9 93.3h0M506.9 91.2h0M549.1 87.9h0M524 111h0M521.1 95.3h0M508.5 70.4h0M575.8 62.2h0M529.4 97.9h0M569 65.4h0M522.8 92.5h0M538.1 85.9h0M522.9 94.3h0M500.5 115h0M510 84.8h0M545.6 67.1h0M509.3 104.5h0M548 103.1h0M494.7 103.7h0M519.5 102h0M513.2 99.9h0M549.4 57.3h0M503.8 122.2h0M520.2 86.8h0M497 113.4h0M559 82.4h0M491.1 116.7h0M494.5 122h0M509 86h0M509.5 100.3h0M549.6 72.5h0M527.6 84.7h0M543.1 95.5h0M510.7 131.4h0M542.2 112h0M534.1 89.8h0M531.9 107.4h0M529.2 101.5h0M507.1 131.3h0M519.5 89.1h0M514.4 90h0M547.2 79.4h0M510.9 89.2h0M544 98.9h0M531.3 93.9h0M530.2 94.8h0M541.6 111.1h0M552.7 76.1h0M519.9 74.2h0M519.7 95.6h0M507.5 78.9h0M543.8 98.7h0M535.2 78.2h0M505.9 91.5h0M527.4 91.7h0M521.5 95.1h0M550.5 87.6h0M503.4 95.9h0M530.8 91.1h0M499.3 108.4h0M579.6 85.5h0M517.7 106.6h0M538.5 104.4h0M496.6 115.6h0M546.6 58.3h0M522.2 95h0M539 100.3h0M509.9 94.1h0M529.9 95.4h0M534.9 70h0M527.8 85.3h0M541.7 89h0M499.8 119.5h0M495 113.7h0M548 71.1h0M540.8 75.1h0M498.3 105h0M550.7 82.1h0M507.6 99.9h0M552.9 55.3h0M542.5 77h0M515.9 97.8h0M530.9 84.7h0M525.2 69.4h0M557.9 91.9h0M548.3 102.2h0M529.3 99h0M518.6 130.3h0M517.4 133.6h0M532.7 92.9h0M509.2 90.5h0M512.1 109.4h0M518.3 103.5h0M503 80.7h0M528.9 85.7h0M558 67.6h0M496.8 97.2h0M531.7 93.2h0M518.9 117.3h0M562.4 74.1h0M536.7 101.3h0M535.9 84.4h0M524.9 96.1h0M510.4 104.4h0M529.5 88.7h0M524.3 82.5h0M492.9 114h0M521.6 67.1h0M539.2 85.1h0M552.3 88.1h0M531.7 80.9h0M535 105.7h0M536 71h0M524.4 89h0M559.8 98.9h0M516.6 106.1h0M543.8 96h0M492 108.6h0M528.5 106.4h0M501.4 98.5h0M525 117.4h0M532.4 79h0M527.4 107.3h0M529 97h0M516.2 103.8h0M499.1 127.6h0M535.7 90.4h0M558 69.7h0M547.3 106.5h0M530 87.8h0M525 113h0M526.6 86.7h0M507 121.8h0M546.3 81.1h0M494.3 111.5h0M500.7 121.2h0M533.2 104.9h0M494.5 105.8h0M533.9 98.5h0M547.6 66.2h0M532.3 97.7h0M521.9 101h0M502.9 95.9h0M519.2 93.9h0M550 97.5h0M540 79.5h0M532.7 100.6h0M538.5 54.1h0M534.4 79.6h0M513.8 86.5h0M488.1 132h0M488.4 116.8h0M528 88.5h0M520.2 80.6h0M553.8 96.2h0M509.9 95.5h0M494.8 126h0M547.2 73.1h0M543.3 73h0M525.7 82.3h0M541.3 85.5h0M541.2 72.6h0M512.1 105.7h0M516.7 117.2h0M535.1 89.8h0M527.7 90.9h0M534.9 93.7h0M534.4 97.7h0M528 110.1h0M527.9 84.7h0M542.4 60.4h0M489.4 117.3h0M525.9 103.2h0M537 107.2h0M540.3 101.8h0M532.6 92.4h0M534.4 94.2h0M506.6 85.7h0M546.2 85.2h0M540 65.8h0M503.8 110.6h0M560.2 59.2h0M532.9 73.8h0M562.5 90.2h0M536.8 76.7h0M524.8 89.2h0M502.7 85.9h0M525.9 80.2h0M536.5 87h0M511.1 119.6h0M525.2 95.2h0M507.5 92.9h0M550.4 102h0M520.7 74.5h0M499.9 97.7h0M501.7 116.3h0M539.1 89.9h0M509.5 106.8h0M544.8 55.1h0M541 105h0M564 64.5h0M512 109h0M549.4 96.4h0M513.9 92.4h0M561 70.2h0M500.3 80.2h0M539.1 87.6h0M534.5 89.2h0M540.8 109.5h0M534.1 73.7h0M559.3 79.5h0M549.8 77.3h0M513.6 95.4h0M513.4 98.5h0M532.6 95.5h0M487.5 130.1h0M557.4 58.6h0M496.9 106.5h0M534.8 83.8h0M505 90h0M537.8 87.3h0M485.4 113.5h0M526.8 83.8h0M505.2 101.7h0M512.9 106h0M537.6 96.1h0M585.7 60.6h0M526.1 83.7h0M525.3 106h0M536.4 102.2h0M535.2 76.3h0M521.9 115.2h0M524.9 90h0M543.5 103.3h0M545.1 92.1h0M535.3 101.5h0M523.7 106.1h0M540.4 86.1h0M502.3 97.9h0M496.1 127.7h0M503.5 93.3h0M548.3 73.1h0M522.8 88.5h0M519.8 92.2h0M534.6 120.2h0M516.5 103.2h0M509.4 106.6h0M489.2 108h0M513.6 105.5h0M509.7 83.8h0M543.4 76h0M538 95.6h0M522.1 91.7h0M546.1 67.3h0M525.8 104.5h0M527.7 90.9h0M496 105.8h0M520.5 103.1h0M546.9 80.2h0M518 107.6h0M548.8 73.9h0M507 116.4h0M533.4 72.6h0M479.4 119.2h0M477.1 115.1h0M526.7 94.6h0M513.7 96.6h0M532.4 84.9h0M508.2 85.6h0M482.9 103.2h0M524.7 93.6h0M531.5 72.5h0M514.5 121.6h0M523.7 105.1h0M516.8 68.6h0M529.5 121.5h0M534.7 82.7h0M497 122.2h0M516.6 116.3h0M510.2 107.5h0M549.1 84.5h0M557.7 59.3h0M556.7 83.6h0M506.9 123.4h0M489.7 116.8h0M531.7 105.1h0M574.9 56.2h0M517 83.4h0M533.5 95.8h0M495.8 90.4h0M524.5 118.4h0M544.3 83.3h0M517.7 82.3h0M515.8 118.5h0M504.4 101.6h0M509.2 109.9h0M545.1 87.5h0M545.4 79.3h0M556.7 64.3h0M542.8 89.9h0M537 100.7h0M565.5 92.4h0M493.5 90.8h0M545.8 75.1h0M513.5 97.4h0M465.5 118.9h0M509.1 93.7h0M539.9 67.8h0M503.7 102.7h0M481.3 124h0M529.1 106.7h0M479.6 122.5h0M540.1 79.9h0M524.6 115h0M511 86.8h0M502.5 97.7h0M514.6 113.7h0M536.2 92.6h0M529.7 106h0M532.2 88.5h0M545.8 100.6h0M534.6 107.2h0M511.7 75.7h0M553.8 80.2h0M533.4 101.3h0M524.8 101h0M529.4 120.5h0M511.2 70.9h0M487.3 96.2h0M529.4 102.5h0M492.1 110.4h0M528.1 108.5h0M488.7 113.3h0M535.4 104.5h0M567.6 66h0M525.8 103h0M496.6 109.9h0M548.6 82.5h0M523.1 109.6h0M517.6 95.8h0M534.9 96.2h0M531.2 97.7h0M530.5 80.6h0M507.6 106.8h0M534 93.9h0M532.3 85.6h0M527.9 103.1h0M513.3 78.8h0M520.2 99.8h0M523.5 92.2h0M521.8 121.8h0M547.9 95.5h0M549.6 89.7h0M501.9 95.2h0M556.2 86.8h0M529.2 97h0M518.6 79.8h0M507.1 117.4h0M501.9 104.3h0M514 113h0M550.7 82h0M507.4 117.9h0M494.8 107.1h0M476 119.4h0M543.3 85.6h0M551.5 91.7h0M507.1 101.1h0M534.9 92.9h0M507.1 92.3h0M507.5 112.9h0M535.8 85.6h0M552.9 85.9h0M520.6 97.6h0M533.8 98.5h0M501.8 98.9h0M505.7 98.9h0M547.9 41.7h0"/>
<path d="M519.1 94h0M535.3 88.8h0M524.5 99.4h0M554.4 51.9h0M522.3 95.7h0M525.7 111.2h0M512.5 124.2h0M492 112h0M484.2 125.6h0M550.7 89.6h0M503.3 106.3h0M510 125.3h0M530.4 101.6h0M541 83h0M554.9 69.6h0M554 95.2h0M514.7 98.2h0M474.3 120.2h0M551.6 88h0M510.2 90.7h0M551 89.3h0M500.1 88h0M484.7 133.3h0M516.5 110.5h0M455.1 149.6h0M504.9 107.7h0M526.2 62.8h0M505 118.8h0M539.9 99.6h0M532.2 99.4h0M520 87.4h0M510.4 128.6h0M506.6 113.2h0M515.4 81.8h0M501.8 113h0M464.5 111.5h0M531.7 86.5h0M525.6 104.4h0M559.1 90.3h0M550.3 67.4h0M527.1 91.5h0M532.7 79.4h0M496.7 81.5h0M510 124.4h0M530.3 100.7h0M493.8 117.2h0M531 81.7h0M515.3 96h0M539.6 100.3h0M537 103.9h0M515.4 102.1h0M499.1 108.6h0M516.7 83.3h0M545.6 93h0M544.5 70.8h0M545.9 72.8h0M536.3 99.2h0M513.8 101.9h0M522 120.3h0M522.6 116.8h0M581.5 75.6h0M503.1 137.1h0M501.1 110.4h0M534.7 89.2h0M521.6 114.3h0M516 102.2h0M568.4 67.7h0M517.5 89.1h0M505.5 103.7h0M516.3 72h0M511.3 85.9h0M506.6 98.8h0M547.2 88.3h0M500.4 103.2h0M545.8 96h0M525.8 123.7h0M523.4 127.6h0M539.2 84.6h0M502.6 104.7h0M551.8 75.2h0M515.3 87.7h0M523 109.9h0M521.1 76.9h0M493.4 116.5h0M524.5 93.7h0M460.8 123.6h0M554.4 62h0M560 101.2h0M520.5 111.3h0M514.3 103.4h0M539.7 67.2h0M553.7 93.8h0M516.4 89h0M536.7 111.3h0M540.4 94.9h0M504.9 97.9h0M492.9 104.2h0M557.3 104.1h0M562.2 99.8h0M510.4 96.7h0M502.6 96.1h0M546.3 61.6h0M504.8 116h0M535.6 76.8h0M477.4 127.1h0M510.7 89.6h0M503.6 113.2h0M528.5 103.6h0M544.1 72.9h0M534.7 82.6h0M522.3 106.4h0M523 72.8h0M505.1 72.4h0M557.5 49h0M504.1 121.6h0M544.4 82h0M520.8 108h0M537.3 101.4h0M498.1 104.2h0M490.5 102.3h0M530.5 88h0M487.6 121h0M472.3 96.8h0M504.2 106.2h0M529.1 99.5h0M564.5 75.9h0M555.3 75h0M531.2 100.8h0M526.5 112.8h0M490.7 145.2h0M517.6 87h0M522.2 86.4h0M572.5 72.6h0M509.5 112.7h0M530.6 96.3h0M510.6 111.5h0M539 86.3h0M533.7 112h0M509.2 111.2h0M530.7 68.8h0M525.5 98.6h0M520 83.9h0M506.7 82.3h0M496.7 118.2h0M536.3 88.5h0M509.8 92.9h0M565.2 80.8h0M525.9 66.3h0M515.2 103h0M514.7 90.5h0M550.2 64.3h0M496.2 114h0M543.9 88.2h0M507.8 125.5h0M526.2 83.8h0M515.4 103.5h0M483.7 115.8h0M535.3 83.2h0M505.5 98h0M531.4 82.8h0M537.3 64.8h0M545.4 64h0M539.8 78.3h0M531.8 75.2h0M523.9 91.3h0M547.1 87.9h0M547 89.5h0M515.6 114.4h0M511.4 123.6h0M545.9 76.7h0M501.9 100h0M499.8 115.1h0M501.1 119.2h0M511.5 94.9h0M560.3 76.7h0M503.2 117.4h0M517.4 84h0M511.1 109.2h0M547 68.4h0M522.9 101.2h0M531.2 104.8h0M539.5 83.9h0M556.8 64.7h0M530.2 103.2h0M516.3 92.3h0M515.7 69.9h0M510.1 117.5h0M496.3 109.7h0M529.4 97.9h0M506.4 100.9h0M504.7 103.6h0M540.1 84.4h0M510 98.9h0M523.2 90.5h0M490.1 120.4h0M550.3 79.3h0M488.7 82.7h0M488.4 117.2h0M508.6 122.7h0M491 129.4h0M525.3 105.7h0M552.4 74.5h0M525.9 108.4h0M515 103.6h0M510.8 97.7h0M495.1 106.9h0M527 97.1h0M486.4 126.8h0M500.4 105h0M514.2 91.7h0M473.9 133h0M510.1 96.6h0M527.5 94.1h0M487.9 113.1h0M505.3 88.5h0M526 94.9h0M528.3 85.2h0M503.9 117.8h0M556.6 71.2h0M490.7 116.4h0M497 148.9h0M519.1 92h0M493.8 99h0M489.3 91.9h0M524.6 95.8h0M511.5 99.4h0M546.1 91.9h0M536.4 100.9h0M538.6 90.8h0M499.5 111.4h0M530.8 90.6h0M557.2 98.4h0M503.4 122h0M503.4 94h0M506.2 112.2h0M518.9 119.3h0M544.6 90.9h0M544.1 73.2h0M514.3 99.5h0M533.4 97.9h0M528.6 89.2h0M507.3 109.4h0M540.5 85.8h0M501.5 107.4h0M534.6 97.8h0M541.4 73.7h0M515.4 98.7h0M505.7 106.1h0M499.8 112.2h0M539.5 90.3h0M548.4 80.2h0M527.9 111.8h0M529 119.1h0M532.9 100.2h0M506.8 104.4h0M519.3 101.1h0M520.5 92h0M571.9 94.7h0M504.3 121.3h0M546.5 97.9h0M513.5 118.9h0M538.9 59.8h0M498.6 112.1h0M513.7 109.6h0M539.7 103h0M558 74.4h0M549.6 111.3h0M508.6 100.2h0M534.3 84.9h0M501.4 108.2h0M523.6 87.1h0M530.9 99.8h0M527.6 129h0M526.6 95.6h0M509.7 116.9h0M533.8 97.9h0M510.4 118.9h0M536.8 93.9h0M527 87.8h0M511.7 98.3h0M518.5 113.1h0M565.7 55.5h0M513.8 94.9h0M533.8 83.5h0M521.3 97.8h0M523.2 104.9h0M514.2 113.7h0M470.7 112.8h0M520.8 104.6h0M521.2 97.4h0M519.5 91.9h0M542.4 81.4h0M512.9 81.6h0M528.6 89.5h0M544.7 94.2h0M498.3 94.6h0M538 92.1h0M528.3 81.3h0M545.2 83.5h0M503 102.6h0M525 102.9h0M536.4 89.5h0M501.2 112.6h0M514.6 89.1h0M516.6 100.4h0M535.3 96.6h0M523.8 105.4h0M495.3 104.1h0M549.9 66.7h0M527.4 75.3h0M491.9 107.3h0M506.9 95.9h0M554.3 62.3h0M478.2 139.9h0M480 119.1h0M542.1 100.6h0M510.3 90.9h0M545.5 79.9h0M486.1 118.4h0M517.1 94.7h0M520.2 112.4h0M552.4 78.7h0M563.8 82.3h0M514.4 89h0M538.5 101.9h0M531 91.8h0M554.7 91.6h0M548.8 87.7h0M541.4 55.5h0M494.7 85.4h0M557 83.4h0M488 128.2h0M534.5 76.9h0M531.4 106.2h0M531.9 69.2h0M479.1 110.1h0M515.1 103.9h0M505.7 98.2h0M536.7 80.1h0M527.3 97.9h0M530.9 99.4h0M516 96.5h0M490.9 110.1h0M522 94.1h0M476.9 116.9h0M559.2 61.1h0M512.3 97.9h0M518.3 114.5h0M504.9 106.9h0M523.6 85.1h0M498 108.8h0M528.9 102.2h0M505.6 88.9h0M534.1 92.5h0M545.2 61h0M529 114.3h0M524.1 89h0M517 93.6h0M499 112.4h0M536.2 91.5h0M501.9 99.9h0M535.6 100.4h0M540 77.9h0M539.4 90.1h0M529.8 69.4h0M523.7 78h0M563.1 82.1h0M520.9 116.8h0M541.5 106.5h0M499.1 101.3h0M550.1 95.4h0M499.6 100.1h0M509 83.5h0M546.1 119.1h0M549.1 103.8h0M516.3 104.9h0M557.1 85.1h0M517.9 83.2h0M484.9 125.9h0M529.3 76.6h0M517.8 109.9h0M494.4 96.6h0M540.7 84.6h0M508.2 115.7h0M493.7 98.4h0M514.7 97.3h0M503.8 126.2h0M487.9 114.8h0M566.2 97.5h0M541.5 85.4h0M477.3 116.9h0M511.8 105.2h0M498.8 99.3h0M446.7 135.8h0M497.9 109.5h0M563.5 85.9h0M479.3 126.6h0M526.9 90.8h0M545.6 96h0M503.1 96.2h0M535.7 101.8h0M561.1 87.1h0M551.4 77.6h0M540.3 101.9h0M575.2 59.3h0M561.3 87.6h0M555.2 75.3h0M539.6 92.3h0M519.3 91.8h0M541.2 88.8h0M522 118.1h0M534.1 121.4h0M522.5 80.2h0M546.9 82.7h0M511.7 111.4h0M537 88.8h0M529.4 72.3h0M501.4 122.1h0M526.5 109.4h0M511.3 110.1h0M507.9 95.2h0M512.2 97.3h0M511.1 112.8h0M549.2 84.4h0M514.7 103.8h0M520.8 94.1h0M538.1 78.1h0M545.6 68.4h0M524.1 93.9h0M510.7 114.6h0M526.9 98.1h0M547.8 82.9h0M542.2 76h0M507.3 111.4h0M541.9 85.3h0M522.7 77.3h0M536.8 78.8h0M522.3 98.7h0M514.5 74.4h0M512 107.7h0M559.3 76.7h0M491.9 110.4h0M498.8 91.5h0M529.5 68.7h0M532.2 78h0M510.4 116.3h0M514.3 87.6h0M510.5 93.2h0M512 83.2h0M551.1 91.9h0M539.9 88.6h0M527.1 91h0M518.8 98.9h0M542 70.9h0M486.8 104.3h0M540.6 96h0M505.8 114.5h0M535.1 95.8h0M544.4 99.1h0M564.5 84.3h0M529.5 132.6h0M518.5 94.2h0M548.8 68.2h0M497.3 109.3h0M566.5 75h0M542.7 93.9h0M523.5 90.9h0M515.2 80.9h0M537.7 96.7h0M499.6 93.8h0M520.3 99.4h0M515.5 125.9h0M530.7 93.5h0M526.8 108.6h0M526.7 94.5h0M540.3 102.8h0M507.6 103.8h0M520.9 110.3h0M516.2 102h0M548 91.7h0M534.5 93.1h0M535.9 79.3h0M476.9 127.4h0M527.4 100.4h0M514.6 69.9h0M520.2 112.9h0M526.9 119.9h0M502.3 103.8h0M551.8 92h0M514 106.1h0M515.4 111.8h0M523.5 98.9h0M536.1 92.7h0M548.1 79.5h0M532.2 115.1h0M536.8 75h0M493.1 99.6h0M542.5 100.5h0M529.2 84.5h0M534.9 98.9h0M509.9 131h0M527.3 112h0M523 101.5h0M502.2 84.8h0M511.8 97.3h0M500.4 96.3h0M525.9 85.7h0M496.5 132h0M553.1 86.6h0M549 90.7h0M507.7 108.4h0M520.9 97.6h0M529.6 77.8h0M512.8 88.3h0M507.7 127.4h0M534 86.2h0M512.7 118.5h0M501.1 108.2h0M556.3 70.4h0M512.6 99.5h0M525 98h0M536.2 86.7h0M533.8 86.6h0M540.3 92.7h0M516.9 89.7h0M532.9 103.4h0M506 107.1h0M541.7 94.8h0M529.8 88h0M514.4 93.3h0M540.8 100.9h0M510.3 101.9h0M510.3 108.4h0M545 93.1h0M544.3 85.6h0M515.8 95.4h0M524.4 118.2h0M517.4 101.8h0M533.2 86.7h0M507.9 114.8h0M512.4 74.9h0M493.1 126.5h0M556.5 68.2h0M534 91.1h0M527.9 80.2h0M508.1 125.9h0M490.5 105.3h0M542.9 103.2h0M572.3 65.3h0M581 58.7h0M517.8 86.5h0M553.9 81h0M497.3 109.9h0M530.2 82.4h0M517.5 112.6h0M539.4 73.9h0M564.1 101.1h0M563.3 74.1h0M548.2 92.3h0M521.2 90h0M496.8 105.5h0M517.4 96.4h0M541.1 95.8h0M526 76.8h0M529.4 92.7h0M496.7 97.9h0M548.9 63.3h0M513 107h0M522.2 106.6h0M484.3 122.8h0M534.9 109.2h0M508.6 120.5h0M555.5 89.9h0M517.2 93.7h0M530.5 92.1h0M500.6 114.3h0M549.6 80.7h0M509.4 87.9h0M533 90.1h0M493.5 122.9h0M518.1 77.4h0M516.9 100.8h0M522.1 93.5h0M533.3 116.5h0M531.1 104.2h0M548.6 81.3h0M513.8 97.4h0M520.4 98.8h0M516.6 100h0M553.3 84.3h0M502.1 84.8h0M526 92.8h0M528 102.1h0M498.5 121.3h0M486 97.3h0M526.3 87.9h0M516.8 113.8h0M509.6 123.9h0M491.7 104.2h0M548.9 91.9h0M486 130.8h0M530.9 77.1h0M521.6 83.4h0M545.7 87.3h0M523.6 93.3h0M559.7 71.1h0M523.9 75.3h0M528.2 116.3h0M539.3 82.2h0M514.7 88.9h0M527.4 103.2h0M492.6 110.9h0M498.6 100.7h0M542.6 88.6h0M534.8 99.3h0M554.1 48.5h0M537.2 105.9h0M507.9 108.7h0M547.6 97.4h0M524.3 106.3h0M516.3 98.3h0M541.2 85.3h0M501.2 122.7h0M489.9 96.4h0M530.8 90h0M506.3 129.3h0M513.9 116.1h0M504.1 87.5h0M506.8 110.6h0M546.5 88.6h0M535.8 93h0M535.3 105.7h0M543.2 80.7h0M522.9 94.9h0M492.6 109.9h0M552.8 68.5h0M470.7 103.5h0M521.8 87.6h0M511.2 113.8h0M575.4 58.4h0M554.1 84h0M494.7 104.8h0M551.8 88.7h0M555.1 85.3h0M540 77.9h0M519.5 97.6h0M515 125.4h0M562.3 62.6h0M534.6 99.7h0M521.3 103.2h0M508.1 93.7h0M533.2 111.7h0M544.3 93.8h0M522.7 101h0M527.4 88.3h0M510.2 96.9h0M544.2 119.8h0M542.3 93.9h0M501.6 115.7h0M523.8 98.1h0M521.7 98.7h0M505.1 102.5h0M542.4 99.9h0M497 117.6h0M504.9 95.9h0M521.9 103.7h0M513.7 111h0M495.4 101.1h0M517.4 112.9h0M532.7 92.8h0M525.5 106.9h0M510 124.9h0M511.9 105h0M534.4 75.9h0M540.9 92.3h0M544.4 86h0M521.3 99.6h0M512.8 123.3h0M527.8 86.7h0M537.1 107.8h0M549.8 68.9h0M531.2 86.9h0M529.6 83.7h0M526.8 85.7h0M535 93.7h0M521.1 118.9h0M514.1 81h0M526.7 75.3h0M548.5 86.9h0M493 117h0M502.1 96.5h0M527.9 106.2h0M532.5 88.6h0M525.5 81.8h0M517.3 97.5h0M519.6 92.2h0M520.2 100.3h0M529.9 98.2h0M509.2 81.6h0M522.9 89h0M527.6 105h0M509.3 123h0M500.5 99.9h0M519.9 81.5h0M514.8 111.5h0M528.1 87.5h0M552.4 72.8h0M517.1 107.9h0M523.4 75.7h0M556.9 77.9h0M516.9 97.3h0M521 108.2h0M518.4 91.1h0M510.7 116.6h0M561.8 93.3h0M490.6 131.9h0M495.8 103.3h0M496.9 90.5h0M504.6 107.3h0M544 94.9h0M542.9 103.4h0M521.7 117.5h0M493.1 115.6h0M497 97.2h0M531.2 94.3h0M566.4 70.4h0M514.7 118.1h0M554 92h0M532.2 91h0M542.8 100.9h0M518.1 115.2h0M574.9 70.1h0M510 72.7h0M536.1 109.3h0M558.5 75.5h0M535.5 112.4h0M533.4 85.3h0M510.1 99.4h0M531.1 94.7h0M474.9 127.5h0M537.6 76.5h0M498.2 105h0M549.2 91.2h0M504 65.6h0M528.7 90.7h0M537 79.1h0M504.9 102.8h0M550.3 67.7h0M516.8 80.3h0M538.8 67.8h0M535.7 105.3h0M518 79h0M522 82.1h0M526 98h0M528.3 83.9h0M549.7 97.7h0M522.4 105.7h0M483.3 129h0M546.8 90.7h0M546.1 71.4h0M531 96h0M512.9 114.3h0M527.5 86h0M497.3 100.1h0M510.6 95.1h0M503.2 131.1h0M554.7 105.5h0M524.4 118.7h0M546.5 83.7h0M522.1 104.4h0M504.6 92.6h0M512.2 86.7h0M494.8 149.2h0M540.9 89.3h0M536.3 80h0M525.6 116.7h0M495.7 93.8h0M520.6 111.1h0M503.6 104.6h0M532.9 101.1h0M532.9 93h0M536.4 89.1h0M530.7 92.9h0M554 70.9h0M514.4 104.2h0M517.2 115.9h0M526.6 87.3h0M571.4 96.2h0M504.4 103.1h0M545 100.6h0M520.3 91.9h0M534.2 115.3h0M508 149.2h0M523.8 85.8h0M548.6 95.6h0M474.4 121.1h0M493.7 104.5h0M529.5 83.2h0M493.4 120.7h0M495.9 128.1h0M509.2 103.6h0M490.7 133.3h0M507.9 94h0M520.4 93.2h0M514 111.4h0M578.2 76.4h0M503.4 117.5h0M537.3 114.4h0M563.3 69.7h0M557 71.8h0M513.9 102.4h0M532.2 80.2h0M478.6 109.8h0M505.6 128.3h0M526.5 81.4h0M503.2 124.4h0M563 90h0M510 106.2h0M529.4 76.4h0M554.9 84.4h0M527.4 105.3h0M523.8 96.9h0M555.4 101.1h0M513.8 135.6h0M482.3 143.8h0M527.5 100.2h0M519 119.4h0M538 109.1h0M557.7 79.5h0M536.9 82.3h0M507.6 93h0M534.6 87.4h0M517.5 92.5h0M507.8 117.8h0M502.1 92.3h0M493.5 103.7h0M583 62.1h0M559.6 61.9h0M523.6 108.2h0M553.6 92.2h0M531.6 85.9h0M524.6 94.4h0M492.7 96.3h0M483.2 92.3h0M529.1 106.3h0M550.6 72.4h0M520.6 95.5h0M498.3 125.5h0M537.8 79.5h0M512.6 106.4h0M507.4 102.8h0M507.9 92.9h0M526.1 105.9h0M513.4 90.7h0M517.9 116.7h0M564.5 107.1h0M521.2 101.9h0M597.7 47.3h0"/>
<path d="M508.1 99.5h0M501 115.9h0M514.2 101.3h0M522.9 85.6h0M514.6 86.9h0M513 109h0M499.1 114.3h0M505.6 106.8h0M538.6 88.2h0M526.9 94.2h0M530.6 73.9h0M494.2 80.3h0M555.2 54h0M519.7 103.9h0M503.3 98.8h0M525.8 56.3h0M476.7 133h0M499 102h0M513.2 115.2h0M509.6 94.8h0M510.3 89.7h0M535.2 81.8h0M546.3 91.1h0M539.4 97h0M531.1 98.5h0M524.5 104.3h0M505.5 107h0M539.9 85.5h0M523.7 117.1h0M571 69.8h0M570.8 69h0M520.4 82.5h0M524.1 80.9h0M513.3 122h0M515.6 86.9h0M465.4 134.8h0M533.9 96.5h0M524.4 87.3h0M561.5 62.9h0M513.5 118.4h0M510.1 120.7h0M511.2 96.1h0M537.9 81.5h0M527 91.9h0M511.2 118h0M483.5 126.6h0M495.2 127.5h0M540.3 100.4h0M532.6 77.6h0M540.8 81.8h0M479.8 100.1h0M550.6 78.1h0M530.3 92.2h0M556.5 69.3h0M523.5 121.7h0M535.1 97.6h0M478.1 117.1h0M516.9 102h0M499 110.8h0M523.6 106.4h0M531 107h0M521 90.2h0M513.9 99.7h0M552.4 98.6h0M509.3 93.8h0M513.3 117.5h0M531.1 86.7h0M532.7 101.2h0M516.3 115.2h0M511.7 127.9h0M559.6 59.3h0M530.8 119.8h0M540.8 89.8h0M539.5 92.8h0M495.8 96.5h0M500.3 93h0M525.4 129.6h0M482.4 132.7h0M527.5 120.7h0M502.5 111.5h0M520.9 123h0M523.3 102.3h0M562.7 72.1h0M538.4 78.2h0M521.4 77.6h0M519.9 102.5h0M521.5 85.1h0M559.9 67h0M540.5 71.1h0M533 98.1h0M545.1 84.3h0M494 111.1h0M529.3 80.6h0M536.2 115.5h0M546.5 95.3h0M516.7 101h0M505.8 105.3h0M520.9 93.1h0M503.4 114.5h0M515.2 78.7h0M532.3 100.5h0M562.6 98.5h0M495.7 130.1h0M562.4 84.7h0M540.7 71.1h0M577.7 96.8h0M537.8 98.4h0M519.6 77.3h0M525.8 106.9h0M545.5 98.2h0M515.2 100h0M543.2 59.8h0M504.7 96.4h0M494.1 110h0M531 93.8h0M496 124h0M511.7 116.1h0M533 92.4h0M513.4 105.1h0M512.3 99.4h0M533.2 89.9h0M545.9 76h0M540.5 83.8h0M503.2 101.8h0M541.7 84.1h0M525.6 109.9h0M513.7 93.9h0M526.7 79.3h0M520.1 84.6h0M557.7 72.2h0M492.1 109.6h0M511 118.9h0M502.4 118.8h0M513.9 92.5h0M515.1 76.3h0M528.6 97.5h0M506.3 125h0M457.4 116.5h0M508.1 74.5h0M515 121.7h0M513.7 113.4h0M516.1 85.1h0M540 114.7h0M512.6 118.2h0M549.8 123.1h0M535.2 77.2h0M528.2 85.6h0M538.9 87.7h0M527 93h0M509.8 105h0M512.4 77.9h0M530.3 102h0M523 102.2h0M517.9 102.8h0M538.5 95.6h0M512.7 99.4h0M522 97.3h0M482.3 103.6h0M502.2 121.1h0M537.1 82.8h0M508.4 108.3h0M561.1 92.4h0M532.5 102.8h0M538.2 90.9h0M556.2 75.4h0M517.6 101.7h0M488.4 119.2h0M543 105.4h0M525.7 76.5h0M534.1 95.7h0M530.8 102.9h0M503.8 103.2h0M482.8 109.5h0M509.1 109.5h0M517.1 112.3h0M516.6 90.1h0M515.5 100.1h0M524.1 105h0M512.8 102.3h0M523.1 89h0M510.1 98.8h0M535.5 107.9h0M529.1 68.3h0M516.7 98.6h0M518.5 94.6h0M554.6 89.9h0M522.7 105.9h0M511.6 104.4h0M532 98.6h0M517.2 80.9h0M522.3 71.9h0M540.2 126.9h0M507.1 133.1h0M476.6 91.2h0M515.5 84.5h0M496.7 96.3h0M519.7 97.9h0M514.2 91.9h0M489.3 141.6h0M496.8 109.3h0M523 106.9h0M554 99.2h0M549.1 64.9h0M532.7 88.5h0M518 114.3h0M534.8 69.3h0M521.8 83.8h0M536 99.3h0M555.3 61.2h0M497.4 107.8h0M494.7 107.2h0M536.2 74.1h0M516.9 93.6h0M484.2 112.1h0M516.5 82.9h0M532.3 102.6h0M531.6 94.5h0M494.2 124.9h0M527.9 93.2h0M506.6 104.8h0M545.5 84.4h0M524.5 84.6h0M534.3 71.6h0M560.6 85.2h0M528.3 86h0M521.2 101.2h0M539 105.4h0M501.4 100.1h0M500.3 121.5h0M560.7 82.5h0M538.3 85.9h0M542.3 78h0M511.8 90.5h0M534 100.4h0M539.6 86.1h0M561.7 77.9h0M505.1 102.4h0M552.1 71.3h0M494 117.4h0M524.1 113.4h0M525.9 101.4h0M532.3 80.4h0M534.6 93.7h0M509.4 114.3h0M543.9 96.9h0M522.4 87.7h0M533.6 80.9h0M528.9 68.8h0M509.1 103.4h0M517.3 87.2h0M529.5 99.5h0M543.5 81.9h0M530.7 84.8h0M516.7 95.3h0M543.1 84.4h0M526.1 108.1h0M538.6 88.8h0M532.4 105.6h0M531.2 104.9h0M522.2 103.9h0M537.4 71.9h0M474.5 106h0M541.5 86.4h0M522.6 98.2h0M504 109.8h0M542.2 59.8h0M549.2 67.5h0M538.1 74.4h0M551.8 89.6h0M529.1 88.8h0M501.1 109.2h0M528.9 105.5h0M519.9 104.2h0M533 92.4h0M512 100.9h0M518.7 93.4h0M536 81.5h0M543.8 117.6h0M522.9 89.4h0M505.9 99.4h0M538.9 102.7h0M512.9 70.1h0M555.7 84.7h0M518.8 104.6h0M557.5 94.6h0M486.6 115.3h0M525.9 112.5h0M541.3 64.4h0M527 110h0M537.8 99.5h0M529.3 89.6h0M489.3 116.7h0M484.1 124.1h0M548.7 67.4h0M525.3 102.8h0M520.4 75.3h0M499.5 86.8h0M550.2 85.4h0M522.6 120.2h0M519.7 98.8h0M541 94.3h0M512.9 98.2h0M496.7 116.5h0M520.3 116.1h0M533.1 67.8h0M524.6 87.7h0M555.3 75.6h0M523.9 100.4h0M597.1 50.7h0M531.4 68.4h0M559.1 76h0M532.2 103.4h0M510.3 115.4h0M510.4 119.5h0M534.2 76h0M511 98.3h0M517.4 98.2h0M514.4 110.1h0M501.6 90.1h0M496.2 110.2h0M536.7 85.8h0M530.9 104.7h0M510.6 90.8h0M528.8 95.8h0M552.1 81h0M520 100.1h0M557.1 98.9h0M574 88h0M548.6 76.3h0M526.8 97h0M530.1 95h0M529.8 73.8h0M488.5 118.5h0M500.4 134.3h0M551.7 79h0M496.8 121.5h0M557.2 65.4h0M551 76.7h0M524.4 100.9h0M539.8 104.3h0M525 100.4h0M507.1 119h0M522.4 106h0M551 84.8h0M509.4 90.7h0M522.2 66.8h0M539.8 74.7h0M513.9 124.8h0M516.9 119.1h0M551.3 89.1h0M515.6 104.2h0M498.9 101.7h0M497.2 100.2h0M512.7 100.4h0M542.2 102h0M519.7 98.3h0M497 103.9h0M545.9 79.3h0M519.6 113.3h0M490.8 116.8h0M539 86.7h0M524 92.1h0M526.2 90.6h0M556.1 66.3h0M490.5 122.3h0M567.5 72.2h0M511.7 100.2h0M490.5 110.1h0M526.8 98.3h0M512.4 85.6h0M500.9 124.6h0M501.5 110.8h0M511.4 105.6h0M530.7 114.7h0M529.3 82.1h0M516.2 113.1h0M518.9 102.4h0M541.3 79.8h0M518.7 82.5h0M536.4 108.5h0M528 107.8h0M557.4 79.7h0M542.1 100.6h0M506.5 129.8h0M506.7 89h0M517.7 107.9h0M550.1 88.1h0M525.6 88.7h0M504.9 102.5h0M536.8 111.8h0M545 102.1h0M504.3 105.4h0M496.7 95.1h0M524.3 91.3h0M514 107.9h0M500.6 83.7h0M491.6 102.1h0M536.1 108.1h0M504 120.2h0M568.6 62.5h0M542.8 97.8h0M518.1 97.9h0M506.1 116.3h0M523.9 112.1h0M524.4 99.6h0M499.3 102.1h0M497.7 128.2h0M500.9 97h0M503.4 99.5h0M488.6 117.4h0M547.2 70.5h0M510.1 96.9h0M508.9 84.8h0M518.4 90.3h0M518.2 103.1h0M519.4 97.3h0M536.7 80.9h0M536.6 93.5h0M516.7 106.7h0M527.2 99.6h0M523.2 99.4h0M522.8 113.6h0M541.4 85.2h0M514.6 116.8h0M516.5 98.3h0M540.6 100.9h0M481.9 113.6h0M540.4 87.2h0M507.5 74h0M525.1 117.8h0M506.2 100.1h0M494.8 132.3h0M520.5 64.1h0M525.8 94.3h0M523.1 89.8h0M495.6 118.9h0M525.6 82.2h0M526.8 118.1h0M508.5 102.5h0M518.3 108.1h0M532.2 99.4h0M529.9 101.7h0M512.5 118.7h0M526.1 96.5h0M534.6 88.7h0M538 86.4h0M487.6 118h0M487.3 119.4h0M509.5 123.9h0M510.6 76.8h0M547.3 103.4h0M525.2 100h0M547.8 67.4h0M525 95.2h0M522.2 95.8h0M504.8 119.7h0M532.3 82.6h0M505.2 100.5h0M552.3 90.3h0M528.2 81.6h0M507 115.2h0M519 119h0M495.5 100.7h0M518.8 109.5h0M553.1 79.2h0M524.8 78.1h0M518.5 93.6h0M551.6 80.9h0M524.7 104.7h0M514.2 101.3h0M511.6 119.1h0M535.9 83.9h0M520.4 80.6h0M523.8 113.4h0M536.4 97.7h0M490.5 126.3h0M476.3 107.2h0M516.6 102.7h0M530.8 86.3h0M539.6 101.1h0M524.9 88.2h0M521.3 109.1h0M556.4 79.8h0M525.1 97h0M521.8 106.7h0M513.7 97.2h0M539 85.3h0M539.7 90.8h0M562.5 85h0M504.9 106h0M482.1 122.8h0M517 123.9h0M503.3 135.6h0M527.1 84.3h0M480 117h0M505.2 108.1h0M518.1 93.5h0M531.1 111.2h0M518.1 95.3h0M531.2 94.7h0M513.3 93.9h0M524.7 85.2h0M524.5 110.1h0M523.2 91.7h0M561.6 66.2h0M517.5 105.3h0M533.8 71.1h0M521.6 94.6h0M526.2 89.5h0M502.5 87.1h0M534.8 102.1h0M514.3 100.1h0M525.3 101.7h0M492.3 98.9h0M521.5 101h0M539.9 86.4h0M542.3 102.5h0M497.9 121.4h0M517.1 124.4h0M557.9 67.7h0M528.5 91.5h0M541.7 78.8h0M511.5 102.8h0M552.3 100.9h0M523.5 87.7h0M519.7 95.8h0M532.3 93.1h0M524.3 96.3h0M505.5 72.8h0M513.3 103.4h0M510.5 100.1h0M556.8 79.3h0M544.2 103.9h0M511.8 113.8h0M565.7 72.4h0M542.6 90.4h0M538 90.2h0M492.2 113.2h0M522.4 95h0M510.5 89.5h0M512.1 92.3h0M511 80.8h0M529.3 72.1h0M524 100h0M511.2 88.1h0M558.2 66.7h0M508.4 109.3h0M535.3 83.9h0M499.9 108.4h0M532.7 84h0M519.8 84h0M470.7 138.3h0M551.2 81.3h0M557.3 75.7h0M492.2 109.8h0M539.9 80.6h0M549.2 70.1h0M514.1 89.8h0M562.1 99.5h0M531 109.5h0M503 114.3h0M537.3 109.6h0M493 101h0M531.1 111.8h0M506.5 113.2h0M518.6 91.1h0M514.2 95.1h0M527.4 79.8h0M482.5 124.7h0M515.6 109.2h0M525.4 77.7h0M509.1 106.8h0M522.9 87h0M495.3 98.6h0M510.2 101.9h0M511.5 119h0M542.6 98.6h0M528.4 107.4h0M502.4 111.3h0M518 106.8h0M512.1 120.9h0M528.7 103.7h0M479 112h0M533.4 90.8h0M520.5 105.9h0M501.7 99.7h0M518.5 88.5h0M541.6 72.2h0M557.6 90.7h0M508.1 119.5h0M521.6 100.4h0M519.1 97.9h0M532.8 76.8h0M487.4 113.4h0M511.6 116h0M551.4 83.8h0M505.1 79.8h0M515 107.1h0M468.4 118.8h0M487.8 125h0M528 99.9h0M504.8 110.5h0M527.9 111.4h0M503.7 113.2h0M515.8 82.3h0M507.4 91.4h0M555 68.5h0M517.8 92.5h0M527.4 84.3h0M487.1 123.2h0M538.8 82.3h0M525 118.4h0M525.1 106.5h0M478.2 119h0M523.7 106.2h0M535.2 100.3h0M529.1 86.5h0M511 93.5h0M545.2 88.3h0M517.1 92.3h0M556.1 85h0M510 93.3h0M513.6 122.6h0M524.1 87.2h0M531.2 100.6h0M517.2 101.5h0M529.4 111.3h0M532.8 80.2h0M508.4 115.9h0M527.8 83.4h0M511.5 95.8h0M555 68.1h0M499.4 98.5h0M519.6 75h0M486.5 128.6h0M543.8 102.9h0M535.5 99.8h0M535.4 103.8h0M528.9 107.3h0M515.8 125.7h0M509.4 75.7h0M556.5 78.7h0M529.9 94.7h0M481.2 113.7h0M533.5 71.5h0M541.6 89.9h0M492.8 121.1h0M554.2 81.5h0M531.9 75.8h0M531.6 72.4h0M551.2 72.9h0M554.9 94.2h0M539.8 96h0M523.5 89.1h0M552.2 92.7h0M536 84.3h0M519.1 116.8h0M518.8 104.1h0M540.6 70.6h0M496.4 119h0M527.9 113.9h0M513.1 100.1h0M531.7 89h0M500.8 91.1h0M512.9 93.2h0M523.2 98h0M489.2 107.3h0M504 106.9h0M524.7 100.2h0M525.4 99.6h0M521.1 82.2h0M543.8 56.2h0M529.9 105h0M495.9 106.6h0M526.2 98.6h0M553.2 84.9h0M529.9 95.8h0M514.1 96.5h0M478.7 126.1h0M525.6 76.3h0M507.4 78h0M541.8 77h0M517.8 82.4h0M551 94.4h0M546.9 81.3h0M508.2 97.1h0M509.3 98.8h0M493.3 123.9h0M573 72.9h0M511.5 95.5h0M497.6 89h0M555.3 88.5h0M514.2 95.5h0M513.7 83.5h0M506.9 106.9h0M521.4 87.7h0M547.1 89.7h0M523.9 97.4h0M545.4 99.9h0M520.5 89h0M489.7 98.8h0M523.4 89.1h0M509.5 101.1h0M515.3 106.6h0M508.6 110.8h0M535.6 82.9h0M509.7 107.1h0M515.9 98.7h0M514.7 105h0M520 92.2h0M501.8 97.6h0M513.2 95.1h0M540.4 84.3h0M510.1 107.3h0M495.4 94.4h0M544.9 95.3h0M533.2 97.4h0M534.6 95.2h0M532.8 114.3h0M591.2 61.6h0M490.2 106.1h0M515.2 104.2h0M525.6 115.5h0M522.8 105h0M498.4 90.4h0M562.3 90.5h0M542.3 92.9h0M528.1 105.5h0M535.8 103.4h0M509.1 120.7h0M524.5 88.4h0M534.4 89.1h0M543.3 99.9h0M495.9 98.8h0M527.8 103.2h0M521.1 92.8h0M542 76.8h0M534.2 112.2h0M454.3 129h0M530.6 105.1h0M528.4 109.9h0M540.2 82.9h0M559.4 82.3h0M546.1 110.5h0M509 97.7h0M555.5 84.1h0M533.9 109.5h0M502.9 109.4h0M521.8 119h0M521 86.3h0M542.7 70.6h0M550.2 88.8h0M560.3 67.5h0M485.2 117.9h0M488.8 93.6h0M540.7 99.5h0M516.9 95h0M519 85.4h0M559.6 83.4h0M479.6 107.2h0M488.4 113.8h0M530.7 100h0M551.6 76.5h0M551 85.5h0M559 78.1h0M528.3 72.9h0M513 84.5h0M533.4 90.7h0M522.6 100.2h0M515.4 125.3h0M521.2 106h0M522.8 119.4h0M544.3 100.7h0M527.8 88.1h0M529.6 98h0M524.2 114.4h0M538 78.3h0M526 87.1h0M505.8 96.8h0M513.7 108.9h0M516.6 74h0M532.5 84.4h0M545.1 60.3h0M531.3 100.5h0M514.4 104.1h0M547.8 84.5h0M524.6 96.6h0M503.3 103.7h0M540.1 104.9h0M549.3 88.1h0M508.7 92.7h0M544.9 77.2h0M530.2 95.8h0M545.4 69.5h0M473.9 133h0M557.6 71.5h0M523.1 92.5h0M488.1 101.5h0M510.5 117.6h0M494.5 112h0M505.5 97.4h0M542.2 79.7h0M523.9 97h0M526 91.7h0M474.8 108.9h0M490.6 107.7h0M519.9 108.4h0M536.6 76.9h0M546.6 90.8h0M529.1 72.2h0M541.9 95.2h0M517.8 89.4h0M535.9 93h0M523.1 94.1h0M547.1 88h0M512.7 80.8h0M526.2 87.7h0M546.1 78.1h0M524 96.8h0M529.6 95.5h0M481.9 114.5h0M520 102.7h0M530.3 74.9h0M510.9 88.5h0M523.1 98.3h0M496 106.8h0M525.7 82.5h0M526.2 81.6h0M512.3 87.5h0M507.8 104.4h0M519.6 98.4h0M499.8 113.9h0M537.6 81.7h0M516.7 90.1h0M528.9 94.3h0M563.4 73.7h0M486.2 127.1h0M521 101.6h0M526.2 90.1h0M501.4 99.1h0M496.4 125.6h0M512.1 101.7h0M492.2 95.7h0M523.9 104.7h0M533.1 84.5h0M515.3 84.7h0M512.8 99.6h0M510.3 114.9h0M550.4 107.5h0M560.4 69.5h0M488.5 107.8h0M514 111.5h0M526.3 107.6h0M509.5 94.5h0M522.4 76.5h0M534.1 96.2h0M522.5 102.5h0M589.6 105.6h0"/>
<path d="M502.2 116.5h0M538.9 58.8h0M533.3 87.3h0M530.3 89.6h0M531.5 92.6h0M528.1 108.3h0M506 96.1h0M543.7 82.7h0M512.1 78h0M518.3 106.8h0M514.7 95h0M502.5 127.4h0M501.1 88.1h0M513.2 100.5h0M562.9 112.1h0M502.6 119.2h0M517 72.4h0M513.1 114.9h0M501.9 103.4h0M556.1 100.9h0M519.8 106.2h0M518.2 91.1h0M529.9 92.7h0M517.7 94.1h0M471.9 129.5h0M504.3 108.1h0M511.8 112h0M505.4 103.4h0M533.7 70.1h0M531.2 122.2h0M506 103.6h0M515.8 89.1h0M513.9 118.3h0M530.3 84.1h0M479.4 106.4h0M559.4 104.4h0M541.6 107.9h0M517.7 90.5h0M526.5 93.5h0M520.8 88.5h0M520.8 95.4h0M547.9 99.2h0M495.7 87.7h0M534.1 108.1h0M498.8 87.9h0M525 113.4h0M544.9 74.8h0M519.6 119h0M540 87.3h0M533.9 102.5h0M505 99.2h0M533.8 106.4h0M530.1 102.8h0M517.8 108.6h0M484.1 106.5h0M531.9 81.4h0M544.3 91.7h0M515.6 119.5h0M515.3 78.6h0M497.7 107.2h0M567.1 91.9h0M527.3 106.5h0M549.3 103.7h0M507.6 107.1h0M512.1 85h0M527.6 85.1h0M488.5 127.3h0M478.7 143h0M497.7 108.5h0M524.2 100.1h0M524.2 82.1h0M560.6 87.2h0M496.8 114.3h0M506.4 100.5h0M544.7 89.9h0M527.3 86h0M490.5 98.9h0M562.7 82.2h0M529.8 84.2h0M501.9 118.6h0M505.9 88.8h0M515.2 111.6h0M499.5 106h0M555 53.2h0M494.4 108.2h0M473.3 131.5h0M518.1 84.3h0M546.1 72.8h0M501.6 108.3h0M514.7 113.4h0M520.1 98.1h0M510.3 109.1h0M509.9 93.8h0M467.2 123.2h0M526.9 104.7h0M493.2 112.3h0M500.8 108.6h0M520.3 86.3h0M524.7 95.1h0M487.3 126h0M555.4 75.7h0M514.1 93.2h0M547.6 97.5h0M523.2 100.2h0M544.5 75.9h0M534.5 89.4h0M534.8 77.5h0M495 109.6h0M545 90.5h0M469.9 129.9h0M543.3 99.4h0M518 81.2h0M521.1 94.1h0M517.7 103.4h0M556.6 95.8h0M505 87.6h0M557.7 91.9h0M543.9 82.6h0M515.8 71.2h0M511.8 125.1h0M545 93.3h0M560.9 70.5h0M507.7 110.9h0M543.9 92.2h0M542.4 91.9h0M524.3 95.3h0M507.3 97.6h0M523.1 85h0M531.9 107h0M522.8 71.3h0M506.6 107.4h0M533.6 90.1h0M550.4 108.3h0M575.7 80h0M530.2 92.7h0M515.8 105h0M534.9 79h0M472.6 102.4h0M548.8 96.2h0M531.8 101.2h0M550.5 81.8h0M564 66.4h0M546.9 66.3h0M484.1 89.8h0M546.3 106h0M526.5 94h0M536 101h0M516.6 105.2h0M535.1 79.1h0M526.9 85.2h0M513.3 112.4h0M508.7 108h0M494.3 88.5h0M539.7 93h0M536 106.9h0M510.7 97.4h0M521.5 93.4h0M534.2 103h0M526.1 93.7h0M527.7 105.8h0M524.2 105.2h0M533.4 89.7h0M514 101.2h0M580.8 75.8h0M519.5 112.4h0M500.2 105.9h0M553 57.9h0M528.4 69.8h0M518.9 100.2h0M522.7 94.6h0M530 87.4h0M495 107.4h0M543.8 102.8h0M513.7 120.1h0M547.2 74.9h0M465.1 135.9h0M521 93.1h0M517 95.8h0M493.8 121.9h0M519.1 85.8h0M528.4 93.1h0M530.4 91.9h0M509.4 97.9h0M535 74.4h0M538.1 101.2h0M539.2 83.8h0M516.9 95.6h0M511.8 122h0M524.3 83.9h0M501.7 70.4h0M547.6 79h0M525.4 97.8h0M529.5 105.3h0M545.7 95.1h0M500.9 102.8h0M518 114h0M544.3 90.3h0M549 81.5h0M516.4 117.8h0M509.3 106.6h0M495.6 97.3h0M494.3 114h0M496.9 105.6h0M547.8 107h0M565.4 82.3h0M508.3 98.4h0M532.3 101.4h0M535.3 87.7h0M520.6 108.9h0M481.1 108.6h0M532.3 103.1h0M546.4 95.6h0M507.1 110h0M506.9 86.7h0M543.3 91.2h0M488.1 103.7h0M535.4 85.5h0M539.5 107.5h0M543.6 99.2h0M516.6 107.3h0M532.2 92.4h0M544.5 67.8h0M492.6 122.8h0M520.4 90.7h0M552.9 93.2h0M524 97.1h0M532.8 93.9h0M492.5 97h0M494.8 117.8h0M532.8 80.3h0M506 127.9h0M513.4 83.6h0M506.2 73.6h0M543.1 100.3h0M544.3 80.2h0M519.2 109.2h0M511.5 81.7h0M522.7 103.3h0M530.5 84.3h0M521.2 110.7h0M523.2 109.8h0M515 109.9h0M514.4 89.4h0M486.9 106.8h0M514.9 95.8h0M511.9 101.2h0M548.5 86.3h0M521.3 95.3h0M563.8 79.1h0M533.2 78.4h0M537.5 96.5h0M556.2 96.1h0M503.3 91.5h0M466.2 128.4h0M480 127.1h0M523.3 85.4h0M505.4 106h0M515.5 97.4h0M512.8 118.7h0M528.9 98.6h0M562.1 72.4h0M505.6 122.1h0M523.7 73.3h0M514 107.7h0M524.8 90.1h0M528.1 91.2h0M524.7 102h0M516.2 118.2h0M517.8 108.8h0M516.6 98.3h0M526.6 123.2h0M515.7 90.4h0M512.3 105.2h0M504.2 132.6h0M505.5 114.4h0M512.8 118.1h0M525.9 93h0M502.8 108h0M554.3 75.5h0M520.3 87h0M528.8 101.8h0M515.5 100.6h0M531.4 99.9h0M516.4 102h0M494.6 99h0M535.9 100.7h0M512.9 89.1h0M521 95.4h0M507.5 99.1h0M562.6 83.8h0M536.2 92h0M541.1 105.2h0M564.6 72.9h0M568.9 68.1h0M516.3 111.1h0M501.2 113.5h0M512.5 100.3h0M482.1 116.6h0M491.2 110.5h0M564.6 91.9h0M490.3 107.2h0M514.6 100.2h0M517.9 91.7h0M565 64.4h0M530.8 66h0M516.6 94.2h0M517.4 88h0M504.3 107.3h0M530.7 86h0M517.7 76.3h0M545.4 66h0M508.1 102.8h0M528.5 99.9h0M575.1 71.4h0M560 78.2h0M531.2 89.1h0M510.8 117.1h0M529.8 66.7h0M534.7 73h0M491.2 104h0M570.9 85.5h0M515.5 78.5h0M520.2 93.8h0M561.2 84.1h0M539.9 92.7h0M513.2 98.4h0M533.1 109.7h0M565.2 71h0M532.8 89.3h0M531.3 97.4h0M541.7 85.6h0M535.8 80.4h0M490.9 101h0M526.8 122h0M517.5 85.2h0M533.7 78.7h0M556.1 70.7h0M545.8 80h0M524.4 96.4h0M498.9 120.9h0M526.3 78.2h0M534.1 77.9h0M557.5 98.8h0M521.3 107.3h0M507.4 101.3h0M525.3 112.1h0M544.3 100.4h0M532 92.8h0M547.7 79h0M515.8 102.1h0M514.7 94.7h0M551.7 81.2h0M520.3 111h0M555.4 74.8h0M530.5 102.5h0M522.4 100.8h0M562.5 92.8h0M526.4 74.3h0M542.2 93.4h0M550 95.8h0M529.6 101h0M520.1 76.2h0M508.4 114h0M552.3 67h0M523.8 85.5h0M521.8 75.1h0M534.5 98.6h0M533.2 124h0M547.2 103.5h0M476.2 132.8h0M541.6 57.4h0M521.3 98h0M525.2 104.5h0M545.7 72h0M504.1 121.1h0M533.7 81h0M513.1 99.1h0M518.7 91.1h0M502.6 121.7h0M518.6 91.4h0M529.6 113h0M520.4 70.7h0M557.1 70h0M512.5 110.5h0M519.1 127.3h0M521.6 91.4h0M556.8 68.7h0M544.8 93.8h0M526.7 78.8h0M528.6 85.1h0M512.8 119.8h0M545.3 92h0M550.3 85.4h0M521.3 98.5h0M508.4 90.9h0M549.4 89.4h0M477.4 91h0M518.1 112.2h0M524.4 100.7h0M524.1 100.5h0M526.7 99.9h0M502.3 89.6h0M539.9 79h0M519.8 108.7h0M576.9 84.9h0M520.4 93.7h0M546.1 81.9h0M491 101.6h0M481.7 118h0M529.7 108.4h0M567.9 77.6h0M547.9 85.2h0M550.5 67.6h0M554.1 87.3h0M534.2 77.9h0M500.4 115h0M502.1 120.9h0M512.8 98.1h0M517.5 100.3h0M512.9 111.4h0M525.9 101h0M501.1 111.6h0M516.8 112.5h0M528.8 98.5h0M493.5 85.6h0M520.4 106.8h0M555.6 72.1h0M519.9 86.2h0M531.8 87h0M518.7 92.5h0M536.7 82.2h0M524 92.9h0M526.3 101.6h0M504.6 112.2h0M509.8 91.9h0M489.5 114h0M554.6 72.6h0M512.6 89.2h0M512.5 134h0M537.3 108.1h0M517.5 94.9h0M529.1 76.2h0M518.7 124.3h0M533.3 73.5h0M540.6 60.1h0M509.9 102.9h0M529.6 72.4h0M558.8 62.4h0M507.9 90.7h0M542.4 77.6h0M529.4 100.5h0M537.3 108.2h0M523.1 81.1h0M516.3 81.8h0M549.9 80.4h0M556.5 61.1h0M505.3 94.6h0M541 85.4h0M556.9 97.7h0M546.5 95.1h0M558.2 74h0M487.2 104.1h0M533.2 85.3h0M523.2 89.6h0M542.6 68.5h0M491.8 110.4h0M533.8 86.2h0M527.1 94.3h0M491.1 112.7h0M532.8 110.8h0M527.7 102.7h0M520.3 115.9h0M562 79h0M498.1 117.4h0M534.7 83.2h0M525 118.8h0M502 102.8h0M543.4 98h0M473.6 103.4h0M489.8 98.1h0M540.8 72.3h0M531.3 97.8h0M493.9 102.2h0M524.2 93.3h0M534.8 80.7h0M528.3 121.5h0M532.3 100.4h0M509.3 81.1h0M520.7 90h0M548.9 73.3h0M532.9 82.2h0M495 127.9h0M523.2 97.9h0M529.7 68.8h0M529.1 102.8h0M544 101.2h0M528.3 109.6h0M556.3 90.5h0M488.9 120.5h0M568.7 105.2h0M495 114.8h0M523.8 75.6h0M533.4 92.6h0M513.3 110.5h0M526.3 88.9h0M536.7 111.7h0M541.2 84.8h0M531.5 120.8h0M525.7 80.6h0M551 81.8h0M539.3 85.9h0M522.9 97.7h0M497.1 120.5h0M499.9 110.5h0M516.5 96.7h0M533.5 109.9h0M524.4 119.5h0M533.8 87.7h0M528.2 80.6h0M526.4 85h0M542.3 93.8h0M526.4 88.6h0M556.7 97.7h0M558.1 55.2h0M492.2 114.6h0M540 91.8h0M549 72.3h0M528.2 76.6h0M493.1 107.8h0M547.4 84.4h0M545 75.2h0M524.4 95.4h0M542.8 90.4h0M501.5 83h0M527.3 93.5h0M516.9 112.7h0M515.9 86.9h0M544.9 103.7h0M520 113.2h0M521.1 83h0M518.8 69.5h0M577.4 64.9h0M514.6 121.7h0M533.5 84.1h0M560.5 73.1h0M556.5 54.6h0M551.4 86.8h0M501.1 87.3h0M503.4 90.7h0M534.2 79.4h0M488.7 98.4h0M544 108.5h0M511 80.1h0M510.6 98.8h0M531.2 106.6h0M514.1 94.4h0M518 85.9h0M517.2 109.9h0M555.6 67.2h0M536.1 98.6h0M528.2 83.1h0M541.8 93.1h0M533.5 89.3h0M505.6 102.2h0M501.6 81.3h0M545.2 83h0M539 78.9h0M530.2 76.4h0M536.3 79.7h0M496.8 102.8h0M501 122.7h0M520.1 106.4h0M546.5 86.9h0M506.9 93h0M515 113.9h0M458.4 143.2h0M517.2 111.2h0M520.5 119.2h0M513.5 113.4h0M515.9 86.3h0M541.5 89.5h0M500.9 123.7h0M560.3 84.9h0M505.4 83.2h0M536.9 118.2h0M464.1 113.7h0M520.5 91.7h0M548.6 82.6h0M513.2 110.5h0M496.7 127.2h0M529.7 98h0M472.3 121.7h0M522.7 91h0M535.4 94.3h0M478.7 123.8h0M539.1 87.9h0M521.5 121h0M530 83.1h0M510.5 102.2h0M505.7 101h0M494.1 110h0M497 108.2h0M513.5 117.2h0M520 92.7h0M498.8 113.9h0M541.4 85.6h0M484.5 104.2h0M531.9 104.8h0M493.5 101.1h0M491.3 118.7h0M504.7 107.8h0M533.5 91.9h0M491.9 117.4h0M538 100.5h0M529.9 77.7h0M510.2 100.9h0M525.5 102.6h0M559.8 76.4h0M499.6 102.8h0M523.9 96.2h0M527.7 84.1h0M509.9 111.8h0M490.4 113.1h0M530.6 90.9h0M542.6 80.1h0M499.2 105.9h0M501.2 108.1h0M524.7 93.4h0M526.8 96.9h0M543.9 94.9h0M500.2 105.6h0M538.1 84.8h0M520.8 73h0M507.9 92h0M518.9 104h0M505.4 98.3h0M520.1 123.9h0M521.5 80.3h0M553.2 86h0M524.2 118.7h0M532.2 94.1h0M533.1 84.7h0M513.2 103.7h0M534.8 73h0M504.3 118.5h0M570.8 92.3h0M510.2 83h0M521.9 87h0M532.4 94.3h0M516.9 103.9h0M496.6 116h0M491 125.4h0M498.7 105.8h0M511.6 92.3h0M535.8 82.1h0M532.9 90.5h0M510.6 99.6h0M505.1 90.2h0M520.5 101.6h0M496.1 108.8h0M512.1 115h0M558.4 57.4h0M523.6 88.4h0M513.5 104.3h0M517.6 75.7h0M510.4 100.1h0M514.9 132.2h0M528.2 85.1h0M535 89.5h0M546.1 80h0M531.6 92.3h0M493 129.3h0M534.6 121.6h0M542.7 81h0M518.2 115.3h0M525.6 83.2h0M496.9 110.2h0M561.1 78.6h0M549.7 81.7h0M522.4 94.6h0M553.6 47.8h0M566.8 61.7h0M515.5 80.9h0M504.2 94.6h0M552.2 81.6h0M489.3 104h0M500.3 127.8h0M516.2 113.8h0M519.6 100.1h0M519.1 94.7h0M532 100.7h0M541.5 88.9h0M489.4 116.7h0M510.7 121.8h0M543.9 77.5h0M536.7 86.9h0M569.7 62h0M481.2 123.2h0M538.8 80.5h0M526.7 83.5h0M534.6 88.1h0M534.1 88.6h0M523.9 82.7h0M548.5 94.9h0M524.2 110.2h0M553.2 58.1h0M517.5 82.1h0M526.2 79.8h0M532.2 82.3h0M478.9 107.6h0M535.3 107h0M544.1 86.7h0M496.7 123.3h0M528.4 72.1h0M553.1 88.5h0M533.1 84.1h0M519.8 99.4h0M498.1 112.3h0M501 101.8h0M514.3 82.6h0M554.8 78.2h0M493.5 82.8h0M531.2 97.7h0M520.9 106.4h0M523.9 102h0M512.4 113.1h0M519.5 97.1h0M547 79.9h0M499.5 102.4h0M516.1 97.9h0M528.2 99.1h0M528.3 93.8h0M524.8 86.6h0M548.3 68.9h0M512.9 97.5h0M564.4 76.7h0M507.3 114.9h0M521.3 80.9h0M524.8 87.6h0M541.7 100.2h0M527 98.2h0M549.4 93.5h0M542.5 108.6h0M501.7 115.5h0M496.6 100h0M517.5 98.4h0M524 96.1h0M495.6 107.3h0M488.7 116.1h0M538.9 85h0M506 109.2h0M524 90.6h0M513.3 108h0M543.4 87.3h0M487.8 92.9h0M514 102.5h0M559.1 95.6h0M532.6 109.6h0M510.9 103.5h0M473.1 141.5h0M504.5 101.1h0M539.6 76.7h0M544 68.4h0M518.7 101.6h0M507.7 106.6h0M521.8 111h0M527.3 115.5h0M509.9 111.5h0M508.6 105.2h0M509.5 116.4h0M524.7 85.2h0M499.2 103.9h0M511.8 69.8h0M502.8 94.7h0M506.4 133.9h0M503.4 89.2h0M517.2 113h0M487.6 132.9h0M499.1 94.1h0M552 90.8h0M516.8 99.7h0M509.8 108.6h0M512.3 106.9h0M508.1 109.7h0M525.9 84.1h0M551.5 77.9h0M525.4 100h0M538.5 86.1h0M524.9 99h0M502.3 99.9h0M529.9 83h0M530.9 88.8h0M556.4 85.8h0M504.8 94.2h0M547.1 79.6h0M521 110.9h0M508.2 132.4h0M558.1 85.1h0M526.7 123.7h0M511.2 103.5h0M512.7 85.8h0M479.3 132.2h0M466.3 135h0M522.9 82.6h0M534 97.4h0M532.4 85h0M570.2 87h0M520.2 116.8h0M557.2 55.6h0M526.7 78.3h0M528 97.7h0M464.3 126.2h0M544.9 58.4h0M528.6 96.4h0M538.9 88.7h0M530.8 84.7h0M525.8 97.2h0M515.5 95.8h0M530.7 73.2h0M516.3 103.5h0M534.3 91.1h0M516.2 100.6h0M537.8 95.6h0M585.5 54.6h0M562.8 69.6h0M521.3 117.8h0M554.7 93.2h0M506.6 103.8h0M557.2 70.5h0M547.4 96.6h0M546 102.5h0M552.4 90.2h0M507.4 97.3h0M513.1 107.2h0M539.8 101.9h0M540.1 93.3h0M524.6 88.5h0M544.1 98.6h0M514.5 108.9h0M493.2 104.9h0M542.6 84.1h0M545.8 78.1h0M523.6 108.7h0M476.4 126.1h0M564.2 81.3h0M528.9 63.6h0M510 77.2h0M538.8 104.5h0M533.4 76.9h0M543.7 88.3h0M535.6 95.1h0M531.5 108.3h0M486.8 115.7h0M525.6 100.3h0M497.9 98.4h0M519.6 80.1h0M535.9 110.9h0"/>
<path d="M497.7 109.9h0M514.6 86.9h0M496.7 124.2h0M514.1 88.9h0M535.5 75.8h0M524.7 97.4h0M520.5 105.2h0M508.2 120.6h0M534.2 65.5h0M547.7 75.2h0M551.4 112.7h0M480.5 100.3h0M508.8 97.3h0M517.4 96.4h0M513.9 92h0M555.6 99.2h0M512 124h0M536.1 101.5h0M525.1 95.4h0M523.2 78.3h0M532.9 99h0M517.9 106.9h0M532.4 80.4h0M527.7 63.5h0M572.8 55.3h0M534.7 99.4h0M507.2 114.9h0M553.5 90.4h0M522.6 85.7h0M528.4 91h0M545.1 89.7h0M514.1 117.3h0M546.6 100.2h0M491.5 103.5h0M510.4 98.5h0M531.8 114.8h0M536.5 90.4h0M527.6 96h0M508.6 120.4h0M501.7 124.7h0M517 108.6h0M512.8 111h0M531 85.2h0M525.1 91.6h0M509.4 116.6h0M469.5 139.7h0M528.7 107h0M486.7 112.7h0M546.6 81.3h0M497.4 92.1h0M560.9 75.6h0M548.4 65.7h0M541.6 116.8h0M500.5 103.1h0M504.9 119h0M533.5 80.9h0M547.3 74.4h0M517.8 113.8h0M518.8 93h0M531.3 105.4h0M507 113.1h0M515.4 106.9h0M472.3 128.5h0M528.4 90.4h0M547.2 96.7h0M546.9 63.8h0M527.9 89.1h0M507.2 98.4h0M504.3 90.1h0M474.7 132.1h0M512.8 95.7h0M501.8 128.1h0M490.2 136h0M501.7 130.4h0M553.5 81.9h0M516.9 85.5h0M554.8 81.2h0M557.2 82.4h0M555.8 76.9h0M505.1 105.8h0M507.8 105h0M517.6 91.3h0M524.8 80.7h0M499.3 106h0M522.6 79h0M498.7 106.5h0M492 102.5h0M525.4 90.3h0M557.2 83.1h0M512 126.3h0M514.9 110.4h0M507.4 108h0M533.4 93.6h0M511.5 110.9h0M523 86.9h0M482.2 107.9h0M530.5 116.1h0M543.1 80.2h0M507.6 114h0M500.1 102.1h0M465.1 121.6h0M552.1 59.1h0M529.4 94.8h0M536 122.1h0M482.4 109.5h0M526.4 92.4h0M587.1 73.8h0M497.9 118.5h0M518.5 107.1h0M505.1 109.3h0M500 98.4h0M498.9 117.1h0M551.5 82.5h0M543.9 95.8h0M545.4 60.5h0M547.3 78.6h0M575.4 90.7h0M478.8 105.2h0M535 83.6h0M512.5 95.8h0M545.8 97.3h0M525.8 94.8h0M535.1 69.7h0M543.5 89.5h0M516.7 114.2h0M509.2 126.8h0M523.3 104.6h0M511.8 105.6h0M519.8 95.2h0M534.6 85.7h0M529.9 75.9h0M481.5 119.6h0M529.3 65.6h0M537.8 104.9h0M489.1 113h0M476.1 108.2h0M553.4 86.1h0M536.5 90.8h0M519.9 105h0M519.4 95.8h0M504.9 121.3h0M506.8 104.8h0M485.4 125.6h0M536.7 80.5h0M538.7 112h0M526.9 99.8h0M520.4 89.2h0M551.4 61.6h0M532.4 97.3h0M531.5 85.3h0M535.2 87.2h0M539 92.2h0M544.4 86h0M542 88.5h0M538.4 92.5h0M539.9 74.8h0M500.3 95.4h0M511.7 89h0M518.7 114.5h0M546.3 94.1h0M523.5 104.8h0M538.4 118.1h0M539.2 89.2h0M515 81.9h0M489.7 126.3h0M507.4 95.6h0M530.1 96.1h0M534.9 95.1h0M533.1 80.2h0M540.2 86.3h0M532.4 100.3h0M543.6 95.7h0M531.1 100.7h0M507.4 91.4h0M559.6 75.3h0M509.4 122.4h0M515.4 112.5h0M512.5 119h0M530.1 94h0M527.4 130.3h0M515.4 106.3h0M530.3 90h0M553.7 71.7h0M529.3 98.9h0M495.7 124h0M506.1 128.8h0M556.8 84.9h0M529.1 79.1h0M473.9 136.3h0M519.2 122.2h0M524.8 104.9h0M490.8 113.7h0M524 71.4h0M514.5 95.5h0M515 89.8h0M501.4 105.3h0M553.8 79.6h0M507.5 108.6h0M532.9 91.9h0M513.9 92h0M504.3 112.3h0M521.5 123.2h0M474 108.2h0M469.9 122.3h0M502.3 94.8h0M554.8 71.1h0M490.5 126.2h0M523.8 102h0M507 125.8h0M527.4 113.8h0M512 87.1h0M520.3 106.8h0M519.3 88.4h0M545.8 88.6h0M561.3 70h0M535.3 105h0M554.9 64.1h0M551.4 78h0M504.8 109.3h0M535 85.2h0M490.5 106.3h0M497 93h0M525.6 107.1h0M526.2 83.9h0M532.1 77.8h0M510.5 121.9h0M555.3 87.6h0M521.9 98.7h0M517.8 111.2h0M534.1 81.2h0M528.1 94.4h0M529.1 70.9h0M513.8 89.9h0M487.8 125.1h0M513.4 106.3h0M497 126h0M537 102.5h0M507 82.3h0M547.8 75.9h0M546.6 94h0M528 79.4h0M524.1 91.4h0M514.8 110.6h0M494.2 131.7h0M528.5 93.1h0M508 103.7h0M508.4 84.3h0M536.9 106.8h0M540.1 102.2h0M511.3 109.6h0M496.6 97.1h0M547.9 73.2h0M524.5 91.8h0M535.3 115.3h0M495 102.3h0M523.6 87.4h0M531.2 115.9h0M506.3 94.4h0M535.5 79.9h0M559.3 68.6h0M560.5 89h0M513.9 102h0M538.1 87.9h0M518.9 97.4h0M532.9 92.5h0M481.8 107.1h0M504.8 98.2h0M551.1 93.6h0M503.5 105.3h0M519.9 88.7h0M534.8 64.4h0M483.8 137.4h0M516.8 99.4h0M501.3 122.6h0M528.2 113.2h0M529.2 87.1h0M493 125.7h0M519.5 97.6h0M540.6 75.3h0M536 87.7h0M501.2 103.5h0M496 99h0M495 94.5h0M539.4 88.9h0M522.9 102.7h0M493.7 113.3h0M511.1 106h0M499.7 113.4h0M504.5 107.4h0M530.4 103.2h0M511.3 89.1h0M487.2 118.1h0M557.3 78.8h0M547.2 104.5h0M501.7 95.9h0M526.7 110.9h0M531 93.7h0M548.6 82.6h0M521.4 109.4h0M524.3 100.9h0M537.1 102.2h0M559.1 83.5h0M529.5 101.5h0M559.1 75.6h0M537.4 122.6h0M517.4 114.9h0M513.7 112h0M507.8 123.1h0M548.5 83h0M514.8 109.3h0M506.7 117.3h0M528.1 104.9h0M566.4 80.5h0M509.9 103h0M556.6 69.8h0M532.6 86h0M556.4 82.4h0M499.6 100h0M507.5 91.7h0M547.2 75h0M513.1 99h0M540.8 88.6h0M523.4 93.1h0M514.8 99.5h0M529.9 100.6h0M530.9 108.5h0M503.5 96.4h0M547.6 81.9h0M526.7 77.7h0M549 72.5h0M544.2 109.1h0M520.6 90.6h0M547.9 73.2h0M523.5 92.6h0M535.9 70.9h0M521.3 110.9h0M527 99.6h0M508.5 91.9h0M529.9 79.5h0M529.9 102h0M504.8 95.3h0M517.2 91.4h0M505.1 88.2h0M523.1 87.2h0M521.4 61.8h0M558.4 79.4h0M526.7 101.5h0M577.4 48.3h0M554.6 87.7h0M540 81.9h0M542.1 109.4h0M548.7 89.9h0M527.6 99.1h0M521.6 94.6h0M499.8 124.3h0M521.8 82.8h0M546.9 97.1h0M523.2 99.7h0M554.5 109.2h0M521.7 84.6h0M509.5 109.6h0M562.1 84.8h0M503.7 109.9h0M514.8 95.8h0M524.2 118.9h0M512.5 110.1h0M539.3 97.6h0M498.9 132.2h0M525.5 90.9h0M483.2 106.3h0M517.9 78.4h0M515 93.8h0M530.1 91.5h0M503.5 109.6h0M521.1 105.1h0M536.9 88.4h0M503.1 108.2h0M541.2 91.8h0M526 89.6h0M538.3 71.4h0M545.3 86.8h0M538.7 72.2h0M519.9 88.5h0M526.3 104.8h0M531.3 98h0M498.6 92.2h0M500.9 119.7h0M522.2 72.9h0M503.7 112.7h0M520.1 103.8h0M493.1 114.3h0M515 82h0M538.4 87.7h0M546.4 116.4h0M584.3 61.7h0M542.5 89.6h0M503.3 113.7h0M518.9 81.4h0M521.1 101.7h0M492.7 115.5h0M504.7 105.9h0M514.6 117.9h0M524.3 73h0M452.7 134.4h0M521.3 88.7h0M503.9 99.1h0M533.2 87.2h0M545.4 92.7h0M530 89h0M499.1 121.3h0M502 94.6h0M548.6 103.4h0M519.9 91.3h0M525.1 105.3h0M490.7 105.2h0M511 89.4h0M498 97.5h0M510.4 66.5h0M519.5 99.3h0M516 118.3h0M545.9 84.1h0M511.7 82.7h0M527.9 102.3h0M503 84.1h0M497.9 105.7h0M508.8 108.6h0M527 94.9h0M535 103.6h0M537.3 73.4h0M521 97.5h0M530 82.6h0M508.4 104.9h0M517.7 90.2h0M541.5 86.1h0M529.7 81.8h0M528.9 79.4h0M516.9 69.5h0M506.9 130.2h0M536.1 99.1h0M526 116h0M530.5 102.2h0M532 100.2h0M531 102.6h0M527.2 95.2h0M536 85.8h0M548.2 88.4h0M529.5 92h0M517 69.4h0M525.9 98.3h0M476.8 111.9h0M555.2 77h0M538.3 79.6h0M512.3 95.9h0M520.4 92h0M491.6 83.8h0M536 66.3h0M526.3 92.3h0M501 123.1h0M554.5 81.7h0M539.2 88.1h0M534.1 88.2h0M521.8 106.4h0M556.3 57.8h0M531.3 83.4h0M532 87.7h0M496.1 116h0M554 80.7h0M520.8 118.9h0M486.9 103.4h0M525.1 87.2h0M504.2 123.6h0M518.8 121.1h0M493.7 94.5h0M531.6 78.9h0M526.1 105.4h0M517.7 87.1h0M513.5 84.4h0M517.4 114.3h0M521.1 100h0M507.1 130.5h0M521.2 102.1h0M516.4 88h0M537.1 76.9h0M531.8 96h0M506.7 100.8h0M535.7 114.9h0M513 104.6h0M514.3 85.9h0M525.3 101.2h0M534.7 96.4h0M475.8 90.9h0M533.3 79.6h0M489.3 101.4h0M531.3 103.1h0M567.8 60.6h0M519.7 91.1h0M529 92.1h0M509.6 121.9h0M516.2 99.9h0M548 87.1h0M514.5 96.6h0M519.4 103.8h0M524.5 110.3h0M500.9 115.5h0M512.7 113h0M499.4 112.6h0M514.9 80.9h0M541.8 65h0M493.7 115h0M496.7 116.8h0M498.3 117.2h0M530.2 134.1h0M488.4 131.2h0M511.8 107h0M502.9 93.7h0M526.4 92h0M500.5 101.1h0M510.4 94.9h0M517.2 103.1h0M564.4 78.3h0M521 108.4h0M560.5 62.7h0M522.1 84.5h0M515.4 100.4h0M548.3 77.8h0M539.1 86h0M551.6 102.9h0M514.5 98.3h0M539.7 105.6h0M564.5 73.6h0M537 87.2h0M512 107.6h0M524.4 91.5h0M534 95.7h0M525.2 94.2h0M511 89h0M525.1 89.8h0M535.6 102.2h0M547.7 75.3h0M511.5 115.3h0M534.7 108.2h0M530 81h0M528.8 76.9h0M525.2 96.7h0M539.1 75.2h0M541.5 70.5h0M524.2 80.3h0M525.9 71.9h0M547.4 72.6h0M523.9 88.5h0M538.3 90.8h0M516.4 114.1h0M555.8 84.6h0M533.6 79.6h0M516.6 113.8h0M515.6 103.6h0M471 121.5h0M531.3 72.9h0M552.1 115.1h0M536.6 121.6h0M538 82.4h0M533.1 96.5h0M522.7 105.3h0M530.5 96h0M499.3 95.5h0M528.3 106.1h0M537.8 93.4h0M525.8 117.5h0M521 81.1h0M506.8 105.9h0M511 79.8h0M536.9 99.2h0M546.4 88.2h0M511 100h0M503.5 113.5h0M535.3 92.7h0M514.3 106.7h0M519 101.7h0M545.6 78.7h0M559.9 56.9h0M509.8 95.8h0M514.3 119.4h0M514.8 84.3h0M540.4 87.9h0M516.3 85.1h0M519.6 82.3h0M505 95.1h0M509.8 93.9h0M510.2 103.3h0M508.1 119h0M491.6 125.3h0M507 89.9h0M537.1 78.7h0M543.5 97.8h0M516.9 90.5h0M511.5 92.2h0M509.6 97.7h0M479 97.7h0M489.6 120.7h0M504.7 104.7h0M504.1 81.6h0M511.7 99.8h0M516.7 98.4h0M522.7 102.6h0M535.4 105h0M500 76.1h0M518 109.8h0M516.5 102.9h0M507.4 102.8h0M529.2 110.6h0M503.3 102.9h0M506.9 104.6h0M488.7 146h0M529.7 102.3h0M548.4 98h0M534 105.1h0M531.7 78h0M510.9 98h0M477.7 115h0M520.4 89.1h0M514.5 100.1h0M562.6 79.8h0M510.4 110.4h0M525.4 88.7h0M513 86.7h0M523.2 95.6h0M492.9 99.7h0M524.1 97.7h0M498.5 96.5h0M519.4 94.9h0M531.3 100.1h0M516.7 107.4h0M489.6 93.5h0M542.4 94.2h0M487.5 113.2h0M538 105.2h0M540.6 63.4h0M555.6 84.8h0M509.4 106.9h0M507 124.6h0M547.6 65.6h0M514.7 91.8h0M515 121.4h0M557.8 67.7h0M532.2 82.7h0M540.3 94.9h0M559.3 59.8h0M527.3 111.6h0M533.9 94.9h0M525 84.1h0M520.8 97h0M532.5 85.4h0M537.2 71.2h0M512.5 111.9h0M568.8 52.6h0M519.2 89.6h0M523.5 90.7h0M535.1 81.3h0M517.1 95h0M510.2 86.1h0M517.4 124.8h0M513.2 111.5h0M542.5 95.5h0M554.2 97.4h0M519.5 98.7h0M510.9 125.3h0M468.5 128.5h0M520.6 76.5h0M538.7 102.7h0M499.1 109h0M506.6 95.9h0M500.1 101h0M485.2 118.8h0M508.4 89h0M510.9 103.4h0M498.3 108.5h0M489.8 98h0M539.6 110.8h0M479.6 117.4h0M528 92.7h0M500.3 98.5h0M548.7 74.4h0M515.6 92.9h0M592.3 52.9h0M512.4 121.9h0M475.3 115.4h0M506.6 124.5h0M543 95h0M544.9 104.3h0M531.5 111.3h0M501.1 98.1h0M505.3 93.9h0M535.6 90.3h0M551.9 76.8h0M525.6 82.9h0M537.8 104.1h0M539.5 73.8h0M542.4 95.5h0M586.3 73.4h0M540.1 70.5h0M472 105.3h0M536.1 76h0M540.9 85.5h0M529.5 95.7h0M520.7 108.2h0M501.6 115.1h0M533.4 84.1h0M536.9 84.4h0M557.2 67.8h0M510.8 87.7h0M518.4 100.9h0M521.7 70h0M535.4 99.2h0M525.9 96.4h0M533.3 97.7h0M545.2 79h0M498.3 96.8h0M534 110.4h0M541.5 73h0M517.5 114.3h0M506.5 113.1h0M524.3 113.6h0M512.4 87.1h0M535 91.6h0M531.5 104h0M508.6 101.4h0M562.9 64.2h0M508.8 118.7h0M535.2 84.8h0M529.7 93h0M528.3 92.3h0M521.2 107.3h0M495.5 80.1h0M515.2 98.4h0M554.3 90.4h0M512.1 99.5h0M549.6 92.5h0M482 112.1h0M541.9 62.4h0M524.4 102.4h0M543.5 102.4h0M510.8 104.8h0M538.1 86.2h0M529.8 97.3h0M514.5 95.8h0M520.7 95.5h0M505 103h0M567 87h0M494.9 95.3h0M522.1 95.8h0M552.8 78.1h0M547.8 71h0M520.6 120.7h0M500.5 90.8h0M553.3 84.3h0M505.9 110.2h0M539.4 89.5h0M541.3 81.7h0M521.8 99h0M496.6 88.4h0M518.7 81.2h0M500.4 102h0M516.7 97.4h0M537.5 89.7h0M538.3 83h0M507.9 87.3h0M493 116.3h0M514.9 97.6h0M563 82.4h0M494.8 108.6h0M540.6 103.1h0M524.1 98h0M527.8 85h0M546.1 60.9h0M497.2 98.3h0M510 101.8h0M533.7 86.6h0M516.9 103.9h0M497.9 94.5h0M510.7 95.2h0M512.5 105.9h0M500.9 114.3h0M542.2 67.4h0M532.2 75.4h0M521.3 69.9h0M552.9 87.4h0M572.6 93.2h0M556.2 70.8h0M545.6 84.9h0M508.4 126.3h0M521.7 83.9h0M513.2 118.5h0M546.5 74.1h0M538.1 108.4h0M505.3 119.3h0M520 107.1h0M521.1 77h0M560.8 83.7h0M512.4 109h0M549.6 65.3h0M499.1 141.9h0M515.6 108.9h0M489.5 108.1h0M521.8 121.6h0M559.7 88.7h0M530.9 73.2h0M524 91.7h0M539.1 78.1h0M539.2 94.5h0M472 104.9h0M504.5 129.6h0M538.3 104.4h0M512.2 132.2h0M497.5 130.1h0M534.4 76.9h0M504 117.1h0M548.4 81.4h0M516.4 112.6h0M520.5 118.7h0M475.9 127.7h0M519.3 95.3h0M519.6 81.9h0M547.1 58.8h0M521.3 98.8h0M528.8 110.2h0M549.2 85.1h0M489.2 116h0M531.8 89.1h0M548.6 93.9h0M507.8 86.6h0M499.3 109.2h0M540.1 78.9h0M535.2 92.5h0M487.5 108.4h0M536.1 109.4h0M521.1 85.5h0M519.9 91.3h0M517.9 103.5h0M525.5 98.9h0M505.7 92.1h0M532.4 77.5h0M497.5 88.9h0M520.2 105h0M514.1 104.2h0M516 109.1h0M551.4 79.7h0M501.8 96.1h0M531.2 95.6h0M574.7 84.8h0M509.4 99.5h0M495.6 83.8h0M494.6 108.4h0M529 108.4h0M493.8 119h0M565.9 43.4h0M509.5 99.6h0M447 79.1h0"/>
<path d="M476.9 134.9h0M526.4 98.7h0M505.7 115.1h0M517.5 97.1h0M511.2 80.2h0M519.1 86.2h0M506.9 87.9h0M513.4 103.2h0M511.8 106.7h0M487.4 126h0M535 81h0M518.2 114.3h0M530.7 99.2h0M505.4 91.8h0M520.7 104.3h0M520.2 97h0M553.6 78h0M486.7 142.2h0M506.7 94.3h0M509.4 115.5h0M537.5 74.5h0M520.4 106h0M538.1 90.8h0M496.8 81.5h0M548.1 90.5h0M517.6 70.8h0M517.9 119.1h0M522.7 112.4h0M569.7 79.6h0M503.4 94.8h0M514 125.4h0M518.4 87.7h0M492.8 140.3h0M508.2 113.6h0M544.1 111.5h0M494.5 110.8h0M529.4 89.2h0M538.3 90.7h0M553.8 84.8h0M527.3 70.7h0M507.1 118.6h0M536.6 76.6h0M491.1 94.2h0M526.6 101.6h0M541.3 72.6h0M515.6 117.8h0M518.3 66.8h0M485.9 135.7h0M540.5 80.3h0M532.4 78.9h0M524.4 66.4h0M525.2 109.2h0M533.4 80.7h0M521.3 103.8h0M494 116.6h0M516.3 86.5h0M521.9 59.9h0M501.2 101h0M517.9 87.5h0M542.8 75.6h0M505.2 87.9h0M523.1 92.5h0M536.6 96.1h0M512.4 110.3h0M555.1 74.2h0M528 100.2h0M564.3 76.3h0M515.3 91.6h0M511.4 94.7h0M537.1 104.2h0M508.6 111.6h0M485.1 115.6h0M549.1 93.3h0M545.9 86h0M537.2 87.7h0M519.4 104.7h0M518.2 94.5h0M513 82.3h0M476.9 113.2h0M525.7 96.9h0M509 105.6h0M557 104.7h0M538.4 99.3h0M534.3 79.2h0M559.5 81.8h0M528.4 97.9h0M497.4 87.5h0M533.2 93.2h0M533.4 87h0M521.3 89.1h0M534.7 90h0M519.5 109h0M549.3 120.1h0M543.5 96.1h0M531.4 93.7h0M517.9 114h0M542 92.2h0M494 107.6h0M537.7 82.4h0M534 80h0M491.8 101h0M518.7 91.6h0M524 91.7h0M528.2 96.7h0M518.7 88.3h0M534.2 70.7h0M533.7 91.7h0M519 101.2h0M501.5 114.8h0M523.9 89.4h0M556.8 96.9h0M550.8 75h0M513.5 96.4h0M550.9 94.7h0M532.4 75.6h0M544.2 101.1h0M507.1 89.2h0M514.4 97.8h0M531.7 92.3h0M539.8 106.2h0M577.6 91.9h0M517.9 120.6h0M561.3 77.7h0M536.6 101.4h0M534.1 98h0M526.9 88.5h0M527.5 89h0M524.9 75.6h0M533.9 111.1h0M518.2 103.4h0M537.5 90h0M498.3 95.9h0M559.7 67.7h0M500.1 110.8h0M527.5 111h0M474.6 98.9h0M572.8 69.3h0M550.8 98.6h0M511.2 104h0M487.8 110.3h0M531.8 98.6h0M486.3 114.6h0M486 129.3h0M552 62.5h0M543.1 94.6h0M537.6 116.7h0M513.7 95.5h0M545.3 68.8h0M518.2 82.8h0M524.5 105.3h0M531.3 76.3h0M531.2 91.2h0M563.1 83h0M526.8 80.4h0M551.7 84.5h0M542.9 83.9h0M525 103.9h0M525.8 92.5h0M521.1 105.5h0M534.5 99.4h0M519.2 98.1h0M543.4 94.3h0M510.1 97.8h0M541.4 110.5h0M466 125.2h0M547.3 57.6h0M529.5 71.1h0M514.2 106.7h0M541 64.2h0M505.5 103.9h0M542 92.3h0M530.8 96.3h0M555.6 91h0M516.5 90.1h0M514.7 100h0M530.7 79.9h0M516.8 112.9h0M531.5 87.2h0M541.7 95.1h0M534.4 105.9h0M489 113.3h0M548.5 97h0M518.6 115.3h0M518.5 102.1h0M530 80.7h0M520 84.4h0M561.9 83.5h0M560.8 93.9h0M509.1 89.1h0M509.2 115.7h0M522.9 115.2h0M530.9 98.6h0M527.1 107.4h0M488.1 132h0M513 99.9h0M534.6 89.1h0M515.5 86.2h0M533 100.5h0M537.8 72.4h0M493.8 122.7h0M542 76.5h0M513.4 81.5h0M518.7 94.7h0M519.5 91.8h0M514 139.9h0M538.1 74.8h0M522.2 111.3h0M535.7 84.4h0M537.7 69.6h0M569.2 71.8h0M522.6 111.7h0M535.2 95.6h0M517.5 86.3h0M497.3 94.1h0M523.9 88.5h0M539.7 91.1h0M538.3 90.6h0M507.2 104.5h0M528.9 74.9h0M530.6 90.1h0M521.1 82.5h0M538.2 83.7h0M532.2 110.3h0M545.1 85.5h0M570.7 66.3h0M529.7 102.2h0M554.7 86.4h0M504.4 96h0M525.6 98.6h0M526.3 103.6h0M500.8 112.1h0M563.7 81.3h0M585.7 75.6h0M509.4 97.2h0M502.8 117.8h0M545.8 84.9h0M548.8 81.1h0M533.5 88.4h0M536.4 79.4h0M533.9 111.2h0M553.8 85.5h0M538.2 96h0M521.1 91.1h0M549.9 75.4h0M519.8 95.9h0M500.7 91.4h0M546.4 96.6h0M483.8 108.6h0M519.7 85.3h0M481.7 118.9h0M539.7 75.1h0M504 96.3h0M555.6 70.7h0M481.1 118.5h0M508 94h0M558 92.6h0M521.3 108.7h0M502.3 121.6h0M505 141.7h0M527.6 86.6h0M521 119.9h0M509.1 111.9h0M562.4 60.8h0M502.3 130.3h0M502.9 97.9h0M537.9 84.2h0M530.4 107h0M525.8 85.6h0M494.2 120.4h0M560.4 80h0M553.6 96.5h0M513.4 114.6h0M496.6 130.4h0M509.4 117h0M527.2 87.3h0M519.9 101.6h0M542 75h0M495.9 106.5h0M530.2 105.9h0M511.2 102.2h0M501.9 90.3h0M525.9 83.6h0M548.8 88h0M510 102.4h0M525.3 99h0M526.8 121.5h0M538.7 123.3h0M506.3 115.4h0M536.4 99.4h0M522.9 87.5h0M549.8 62.4h0M553 102.3h0M529.3 96.6h0M547.5 88.7h0M500.4 115.8h0M526.2 95.8h0M506.2 78h0M504.1 113.1h0M548.9 95.1h0M510.6 97.5h0M571.2 75.8h0M528 113.8h0M523 100h0M539.9 82.5h0M483.1 149.5h0M502.6 99.1h0M548.4 81.2h0M508.3 120.9h0M505.4 99.7h0M509.5 117.7h0M546.4 75.2h0M515 114.2h0M501.8 102.2h0M517.7 81.2h0M488.7 119.4h0M514.5 97.1h0M530.3 76.3h0M530.8 70h0M514.5 88.8h0M520.7 106.1h0M524.6 88h0M492.1 88.7h0M496.6 119.8h0M538.7 66.7h0M535.4 140.7h0M497.8 116.2h0M521.5 91.8h0M532.8 70.4h0M538.6 68.1h0M504.9 98.3h0M522.6 88.9h0M531.8 103.9h0M499.4 105h0M522.2 88.5h0M555.3 94.6h0M526.1 103.6h0M536.2 81.6h0M533.1 71.4h0M537 76.3h0M499.8 98.9h0M548.8 86.3h0M502.4 109.9h0M505.4 85.1h0M523.3 97.1h0M544.6 68h0M538.7 109.9h0M552.2 78.3h0M507.1 81.9h0M559.2 83.5h0M513 85.3h0M518.6 104.2h0M495.4 116.9h0M528.4 108.3h0M520.9 79.8h0M521.9 103.2h0M506.7 116.9h0M531.1 113.3h0M481.9 109.3h0M513.2 114.3h0M557.1 97.7h0M536.7 76.2h0M526.1 90h0M546 90.1h0M518.9 82.2h0M521.8 106.2h0M517.7 98.4h0M505.7 113.5h0M533.9 95.3h0M509 83.1h0M523.5 101.7h0M484.8 96.6h0M514.6 93.5h0M536.1 96.1h0M526.7 135.3h0M480.9 123.6h0M531.8 111h0M525.4 82.8h0M498.3 122.5h0M531.7 90.8h0M497.8 116.6h0M514.5 114.6h0M525.1 99.2h0M526.5 105.4h0M507 97.8h0M544.8 89.7h0M534.9 92.9h0M560.3 81.2h0M545.8 68h0M482.6 120.3h0M506.8 105.5h0M534.8 76.8h0M546.8 81.6h0M535 87.4h0M533.6 107h0M506.9 95.2h0M504.2 129.7h0M522.7 113.2h0M508 90.1h0M499.3 102.9h0M537.6 98.7h0M528.1 95.9h0M544.1 99.8h0M510.7 111.5h0M516.1 79.7h0M547.6 96h0M508.5 110.1h0M539.8 74.9h0M534.5 85h0M556.2 61.5h0M527.5 113.1h0M515.1 83.1h0M520.8 129.6h0M499.8 102.6h0M490.7 86.5h0M512 103.1h0M511.1 123.1h0M489.7 102h0M501.5 99.5h0M514.1 86.6h0M512.3 118h0M553.9 79.8h0M523.3 88.2h0M541.4 104.6h0M558.3 69.4h0M523.6 98.8h0M524.6 67.5h0M498.2 98.2h0M553.6 73.2h0M527 86h0M518.5 96.2h0M526.8 96.7h0M551.6 86.7h0M546.2 76.7h0M520.7 105.9h0M556.8 74.3h0M532.4 102.6h0M510.1 86.3h0M487.2 113.4h0M552.8 92.5h0M539 105.7h0M543.9 73.3h0M523.4 92h0M522.8 88.8h0M549.1 101.7h0M521.8 87.6h0M506 99.2h0M523.7 114.1h0M548.8 93.8h0M505.9 101.2h0M528.5 72.6h0M516.7 109h0M497.3 92.6h0M526.9 80.1h0M503.7 106h0M516.9 128.7h0M552.7 85h0M555.4 92.2h0M539.5 76.9h0M539.3 97.6h0M526.8 114.8h0M517.5 106.9h0M514.2 99h0M521.9 102.1h0M528.7 109.8h0M557.2 65.3h0M553.4 68.1h0M543 90.6h0M496.8 113.1h0M548.8 105.8h0M512.5 99.5h0M517.3 94.6h0M520.9 84.7h0M549.9 75.5h0M535.2 99.9h0M560.3 79.4h0M478.2 117.7h0M540.3 90.6h0M478.9 125.7h0M525.5 74.3h0M504.9 101.3h0M555.2 79.7h0M494.7 102h0M498.1 105.5h0M520.9 87.7h0M515.1 110.2h0M494.2 120h0M502.6 121h0M526.8 134.9h0M542.6 92.1h0M525.8 125.7h0M549.5 108.9h0M528.5 120.2h0M468.1 118.7h0M535.2 93.9h0M565.9 59.1h0M511.1 75.2h0M507.2 89.2h0M508.1 91.2h0M529.1 71.8h0M492 105.5h0M505.8 128.8h0M495.9 120.7h0M511 104.8h0M527 75h0M543.1 100.9h0M549.9 59.8h0M499.8 113.5h0M551.7 54.9h0M500.8 113.5h0M491.7 114.9h0M540.8 89.6h0M505.7 112.5h0M515.4 95.4h0M536.5 96.1h0M540.8 118.7h0M489.1 117h0M545.4 80.3h0M514.7 117.6h0M558.4 79.2h0M505.6 123.1h0M533.2 87.2h0M508.6 105.5h0M576.4 49.6h0M526.1 107.3h0M506.7 121.5h0M505.7 94.8h0M519.8 91.1h0M507.9 111.7h0M539.5 74.6h0M508.4 88.3h0M531 96h0M520.1 106.7h0M566.6 80.4h0M510 104.9h0M533.9 97.1h0M510.5 98.5h0M517.5 103.3h0M535.9 90.2h0M503.2 126.1h0M520.5 110.5h0M559.3 93.2h0M532.2 83.5h0M526.7 87h0M504.4 121.1h0M520.3 97.6h0M519.2 106.4h0M517 108.3h0M495.7 135.1h0M487.4 117.1h0M521.8 123h0M526.4 81.2h0M516.8 92.9h0M522.5 108.8h0M477.8 133.2h0M463.4 138.1h0M525.3 98.1h0M487.8 90.5h0M509.7 127.2h0M487.1 103h0M548 111.3h0M490.8 97.4h0M506.7 109.9h0M516.3 94.5h0M501.4 101.6h0M512.7 96.2h0M523.4 89.1h0M510.5 71.8h0M521.1 114h0M537.4 91.6h0M510.9 84.3h0M532.3 90.3h0M508.2 102.3h0M522.1 69.6h0M537.8 105.6h0M539.8 91.6h0M567.6 109.8h0M550 61.7h0M524.7 111.8h0M533.8 102.8h0M501.5 103.7h0M522.4 81h0M524.8 104.5h0M541.4 102.4h0M501.7 96.1h0M515.8 85.4h0M513.1 104.1h0M500.5 114h0M531.1 85.1h0M502 93.2h0M491.3 116.3h0M517.9 98.3h0M524.6 107.5h0M512.2 92.4h0M535.2 95.1h0M526.1 95h0M510.1 106.1h0M562.3 94.2h0M510.8 79.5h0M513.7 103.3h0M554.7 77h0M536.1 109.7h0M501.2 105.8h0M540.5 86h0M516.7 75.7h0M517.5 94.4h0M500.9 112.6h0M526 68.6h0M484.9 98h0M537.2 92h0M537.2 91.7h0M505.2 120.8h0M528.2 84.7h0M539.7 79h0M512.7 89.6h0M506.3 104.4h0M513.6 99.5h0M514 138.4h0M525.6 106.1h0M505.2 116h0M544.4 63h0M502.2 111.2h0M525.3 101.8h0M505.6 106.7h0M550.4 104.7h0M561.7 93.6h0M514.1 103.1h0M566.3 61.2h0M547.3 84h0M511.5 105.3h0M526.2 78.1h0M541 74.3h0M484.3 105.9h0M524.3 92h0M490.2 123.9h0M557 88h0M537.2 112.7h0M492.7 102.2h0M547.7 94h0M543.4 98.5h0M550 85.2h0M486.9 122.8h0M525.5 93.1h0M525.3 94.9h0M511.4 98.8h0M528.1 105.5h0M522.6 87.8h0M551.1 83h0M540.1 84.5h0M530.3 97.3h0M521.7 93.2h0M529.3 83.8h0M540.8 93.6h0M488.9 116.9h0M537.6 97.3h0M563.1 86.2h0M548.4 81.2h0M509.5 102.5h0M510.4 75h0M545.6 83.5h0M530.4 82.3h0M536.4 80.2h0M550.3 82.7h0M551.1 83.5h0M532.3 90.1h0M525.5 98.2h0M536.1 92.2h0M526 91.5h0M520.8 93.4h0M524.3 98.9h0M524 108.7h0M561.5 79.8h0M531.2 94.9h0M525.5 71.9h0M527.4 109.7h0M516.7 89h0M511.8 105.3h0M538.9 116.4h0M546.2 84.1h0M533.1 84.4h0M531.4 77.8h0M539.6 119.5h0M558.7 80.1h0M503.9 116.9h0M517.3 105.4h0M522.5 101.3h0M490.2 101.9h0M533.9 80h0M558.5 75.7h0M504.3 96.3h0M527.3 93.4h0M513.7 108.8h0M560.5 94.8h0M522.4 78.6h0M551.1 104.5h0M516.2 95.8h0M510.4 108h0M534.1 102.9h0M509.4 121.2h0M544.2 83.7h0M573.3 84.7h0M478.9 113.8h0M502.8 98.5h0M520.3 94.3h0M542 62.2h0M535.9 82.1h0M528 71.2h0M536.6 93.4h0M524.7 100.4h0M528.2 78.2h0M520.2 85.1h0M555.2 75.6h0M501.7 126.3h0M527.7 90h0M545.2 111.6h0M522.3 94.6h0M480.6 123.3h0M489.6 128.5h0M498.9 98h0M507.5 109.3h0M516.1 75.5h0M508 85.8h0M513.9 96.5h0M510.7 90.8h0M516 96.6h0M510.3 101.7h0M497.9 92.5h0M519.7 84.9h0M524 98.5h0M506.9 95.3h0M511.2 104.9h0M558 78.3h0M527.9 61.3h0M486.4 108.4h0M491.7 121.9h0M550.2 104.2h0M542.6 76.7h0M535.1 77.5h0M493.7 118.7h0M510.5 100.3h0M538.8 115.9h0M565.1 77.9h0M484.1 125.7h0M505.1 110.1h0M519.4 110.6h0M500.2 104.9h0M518 95.6h0M529.4 115.6h0M479.4 121.2h0M491.2 114.7h0M484.6 118.4h0M537.7 90.6h0M543 70h0M523.6 94.7h0M559.5 100.5h0M532.7 62.2h0M537.1 114.7h0M514.2 106.6h0M521 103.2h0M572.1 50.9h0M575.4 70.8h0M553.5 71.6h0M533.1 100.1h0M539.2 103.8h0M535.8 98.7h0M550.2 78.5h0M534.8 99.8h0M514 107.7h0M521.1 99.8h0M493.6 104.8h0M540.8 86.3h0M509.3 98h0M548.3 71.9h0M491.2 123.7h0M550.1 93.3h0M539.5 76.1h0M524.1 111h0M534.2 77.2h0M533.5 92.5h0M469.5 89.5h0M507.2 112h0M533.1 91.1h0M504.9 93.3h0M524.5 97.5h0M503.8 105.2h0M547.7 81.5h0M493.3 118.1h0M548.8 110.7h0M539.7 76.7h0M520.2 85h0M497.9 100h0M568.6 83.4h0M546.3 76.7h0M527.7 95.7h0M502.2 109.7h0M525 81.8h0M536.8 85.7h0M533.7 101.6h0M521.9 113.1h0M556.6 79.9h0M495.6 97.3h0M470.1 127.3h0M495 106.8h0M547.6 91.3h0M524.4 77.2h0M563.2 96.4h0M504.3 113.1h0M516.4 88.5h0M505.4 117.4h0M550.4 92.1h0M577.2 66.7h0M535.6 57.2h0M503.5 91.7h0M548.6 78.2h0M504.4 101.2h0M518.9 116.2h0M532.6 73.2h0M533.1 88.2h0M565.2 83.1h0M501.6 105.2h0M521.1 50h0M495 115.4h0M534.5 79.7h0M523.7 97.6h0M539.5 107.5h0M504.3 121.4h0M522.9 92.2h0M510.5 90.9h0M487.1 108h0M531.1 89.3h0M511.9 105.6h0M521.2 98.5h0M555.6 69.8h0M502.8 85.1h0M521.5 86.4h0M509.3 117h0M522.7 98.8h0M492.6 106.2h0M511.5 105.1h0M570.3 82.7h0M532.3 94.4h0M519.3 86.7h0M503.7 98.6h0M501.6 129.1h0M534.4 77.5h0M519.7 101h0M523.5 88.2h0M562.6 90.4h0M472.1 129.5h0M508.7 104.3h0M534.4 72.5h0M520.5 103.8h0M534.2 78.7h0M544.2 85.9h0M537.8 87.8h0M545.9 83.9h0M521.4 85.4h0M470 64.4h0"/>
</g>
<line x1="447.0" y1="133.3" x2="596.6" y2="60.4" stroke="#111" stroke-width="1.05" stroke-dasharray="3.1 1.35"/>
<path d="M439.5 36.8V151.7H605.4" fill="none" stroke="#c6c6c6" stroke-width="0.9"/>
<path d="M458.0 151.7v1.6M479.9 151.7v1.6M501.9 151.7v1.6M523.8 151.7v1.6M545.7 151.7v1.6M567.7 151.7v1.6M589.6 151.7v1.6M439.5 150.6h-1.6M439.5 137.1h-1.6M439.5 123.5h-1.6M439.5 110.0h-1.6M439.5 96.4h-1.6M439.5 82.9h-1.6M439.5 69.3h-1.6M439.5 55.8h-1.6M439.5 42.2h-1.6" stroke="#555" stroke-width="0.5" fill="none"/>
<g class="dv" font-size="5.9">
<text x="458.0" y="159.0" text-anchor="middle">−0.6</text><text x="479.9" y="159.0" text-anchor="middle">−0.4</text><text x="501.9" y="159.0" text-anchor="middle">−0.2</text><text x="523.8" y="159.0" text-anchor="middle">0.0</text><text x="545.7" y="159.0" text-anchor="middle">0.2</text><text x="567.7" y="159.0" text-anchor="middle">0.4</text><text x="589.6" y="159.0" text-anchor="middle">0.6</text>
<text x="437.4" y="153.0" text-anchor="end">−1.00</text><text x="437.4" y="139.4" text-anchor="end">−0.75</text><text x="437.4" y="125.8" text-anchor="end">−0.50</text><text x="437.4" y="112.3" text-anchor="end">−0.25</text><text x="437.4" y="98.8" text-anchor="end">0.00</text><text x="437.4" y="85.2" text-anchor="end">0.25</text><text x="437.4" y="71.7" text-anchor="end">0.50</text><text x="437.4" y="58.1" text-anchor="end">0.75</text><text x="437.4" y="44.6" text-anchor="end">1.00</text>
</g>
<text class="dv" font-size="8.9" y="48.2"><tspan x="448.2" font-style="italic">r</tspan><tspan x="451.1"> = </tspan><tspan x="462.4">0.622</tspan></text>
<text class="lb" font-size="10.35" x="527.5" y="174.0" text-anchor="middle">Predicted Mean EEA</text>
<text class="lb" font-size="10.35" text-anchor="middle" transform="translate(416.6 94.7) rotate(-90)">Actual Mean EEA</text>
<g fill="none" stroke="#4088c2" stroke-width="1.95" stroke-linecap="round" stroke-opacity="0.66">
<path d="M86.3 295.7h0M122.9 266.6h0M117.9 282.7h0M111.2 301.9h0M124.2 264.8h0M119.4 240.9h0M117.8 267.8h0M92.9 289.5h0M91.2 312.9h0M85.6 289.6h0M124.6 254.5h0M127.9 256.8h0M93 288h0M91.1 307h0M126.6 243.8h0M101.3 279.3h0M121.6 252.7h0M109.7 262.3h0M120.4 253.8h0M125 293.8h0M92.7 315.9h0M109.1 297.4h0M88.4 273.5h0M119.2 270.9h0M143.3 273.9h0M114.3 262.8h0M111.3 274.5h0M116.3 285h0M113.6 296.9h0M124.8 283.9h0M117.4 272.1h0M111.2 278.4h0M100.1 278.6h0M100.8 279.4h0M105 287.3h0M140.5 262h0M108.1 306.3h0M133.2 250.8h0M97.4 293.9h0M114.2 279h0M130.2 259.7h0M87.4 282.4h0M117.8 283.5h0M112.4 266.7h0M77.8 310h0M104.9 299.9h0M105 286.9h0M97.6 314.2h0M107.6 270.5h0M131.8 270.5h0M122.9 271.4h0M109.5 249.6h0M136.6 259h0M104.5 270.1h0M105.3 277.4h0M105.9 295.1h0M82.4 305.9h0M119.4 266.4h0M115.6 277h0M96 296.7h0M109.8 278.3h0M119.3 258.8h0M114.5 274h0M129.2 271.4h0M110.6 288.4h0M101.5 292.8h0M92.4 301.5h0M89.7 285.2h0M124 277.2h0M107 255.8h0M93.4 303.9h0M83.4 281.6h0M110.4 300.3h0M105.2 280.9h0M103.9 285.4h0M103 275.6h0M98.7 295.7h0M116.9 285.6h0M122.7 292.4h0M112.8 304.9h0M129.6 258.3h0M109.3 263h0M131.5 282.7h0M97.5 301.7h0M122.6 279.1h0M144.1 270.6h0M108.8 282.9h0M120.3 270.8h0M106.6 300.4h0M100.1 298.7h0M144.1 248.7h0M106.1 291.3h0M127.4 286.4h0M129.7 275.1h0M81.7 301.5h0M115.3 286.2h0M116.9 286h0M119.7 257.1h0M110.4 276h0M122.6 280.2h0M106.7 293h0M123.7 269.9h0M133.5 263.4h0M117.5 279.4h0M127.5 277h0M129.5 256.9h0M111.8 280.4h0M132 265.4h0M129.7 262.1h0M108.5 289.5h0M125.9 283.8h0M122.8 247.5h0M86.8 323.6h0M111 271.9h0M107.7 277.7h0M100.4 294.7h0M121.4 281.9h0M127.3 245.1h0M91.4 316.8h0M116.5 297.4h0M111.8 262.4h0M112.1 272.8h0M131.4 263.3h0M135.9 240.4h0M127.7 257.8h0M91.1 300.3h0M129.7 236.6h0M70.2 322.5h0M100 267.6h0M125.5 243.5h0M116.5 270.2h0M117.2 272.6h0M127.8 271.1h0M122.4 255.8h0M108.8 295.8h0M117.9 277.4h0"/>
<path d="M130.3 253.2h0M119.3 296.8h0M105.5 294.4h0M124.4 262.8h0M126.1 271h0M105.8 312h0M127.5 274.7h0M82.1 289.8h0M122.4 280.4h0M100.2 277.5h0M122.2 271.4h0M129.6 252.3h0M100.7 291h0M110.3 259.7h0M107.4 266.7h0M107.4 302.9h0M132 256.4h0M93.6 295.6h0M94.4 314h0M87.8 314.5h0M125.2 274.9h0M124.8 236.2h0M121.9 273.2h0M94.1 306.7h0M109.7 275.5h0M132.3 254.5h0M92.7 286.1h0M109.8 282.6h0M135.7 275.5h0M91.2 304.2h0M113.7 320h0M134.2 261.2h0M121.8 263.2h0M119.3 290.3h0M105.6 299.6h0M108.6 253.5h0M129.6 248.3h0M106.8 258h0M131 257.3h0M130.1 275.7h0M115 264.6h0M138.5 238.5h0M111.4 280.5h0M97.2 299.6h0M120 287.1h0M106.2 256.1h0M97.2 255.6h0M121.9 266.3h0M124.9 287.9h0M133.5 262.6h0M131.8 271.4h0M112.2 302.1h0M128.1 288.9h0M107.7 280.2h0M85.7 311.4h0M124.2 284.1h0M107.1 288.4h0M114.1 256.3h0M104.4 291.9h0M98.3 288.5h0M112.4 295h0M113.6 286.5h0M85 307.3h0M95.9 296.3h0M111.9 287h0M111.1 304h0M133.5 268.2h0M115.4 273.8h0M125 269.8h0M111.7 300.2h0M120.2 255.9h0M132.4 273.6h0M119.4 263.1h0M104.3 286.4h0M107.9 246.4h0M113.6 277.4h0M115.3 284h0M89.2 264.2h0M123.5 258.9h0M109.8 256h0M112 250.9h0M90.8 297.6h0M106.7 287.2h0M125.9 279.7h0M103 290.8h0M115.8 262.3h0M102 275h0M105.4 305.6h0M105.3 283.1h0M103.9 262.2h0M107.8 315.8h0M114.5 268.8h0M121 291.1h0M142.8 268.8h0M119.5 255.6h0M118 270.7h0M127.9 265.8h0M101.8 275.8h0M142 243h0M96 290.8h0M102.9 272.5h0M112.2 267.1h0M101.9 275.4h0M74.5 318.3h0M119.9 296.2h0M125.5 270.8h0M96.5 300.9h0M123.3 270.2h0M135.1 257h0M118.5 266.1h0M126.8 267.4h0M132.6 284.7h0M135.5 233.5h0M130.1 278.3h0M92.2 289.3h0M112.8 268.2h0M111.5 283.8h0M85.2 294.3h0M104.9 295.1h0M128.6 290.5h0M126 276.5h0M120.2 277.3h0M129.9 260.2h0M127.8 253.4h0M120.2 279.9h0M104.6 257.7h0M96.3 293.8h0M112.4 296.8h0M120.9 277.2h0M107.1 274.8h0M112.5 273h0M104.8 299.2h0M101 305.1h0M117.4 271.3h0M106.2 273.7h0M102.9 298.4h0"/>
<path d="M101.7 254.1h0M99.8 307.2h0M78.8 315.4h0M102.6 264.5h0M112.6 294.8h0M102.5 280h0M147.1 230h0M121.3 243.9h0M103.2 299.8h0M108.5 279.1h0M115.3 293h0M147.1 265.1h0M113.2 292.2h0M82.7 295.7h0M95.3 288.3h0M95.6 284.1h0M119.9 290.6h0M107.1 300.2h0M99.2 281.2h0M99.8 298.4h0M66.7 288.9h0M111.9 280.3h0M128.2 260h0M133.8 291.9h0M105 305.8h0M85.4 285.8h0M109.8 263.2h0M82.5 321h0M114.8 290.8h0M123.7 289.6h0M96.7 294.9h0M126.9 246.4h0M119.2 253.5h0M105.1 280.4h0M100.2 278.8h0M124.3 266.7h0M161.5 231.6h0M118.6 267.5h0M106.9 272.2h0M109.5 235.1h0M113.8 265h0M93.5 269.2h0M107 252.9h0M135.6 267.7h0M119.7 292.3h0M107.6 299.6h0M86.7 296.8h0M106.7 274.3h0M105.1 278.4h0M121.7 272.5h0M93 300.6h0M123 288.7h0M131.6 256.3h0M117.2 253.9h0M127.9 260.4h0M123 266.6h0M112.7 258h0M96.7 289.1h0M106.2 285.4h0M104.2 315.1h0M139.9 257.7h0M129.7 263.9h0M131.4 273.2h0M115.9 270.2h0M111 280.7h0M104.1 285.8h0M106.8 281.8h0M111.6 258.1h0M110.2 281.2h0M113.2 261.3h0M116.2 315.9h0M97.7 288.6h0M129.8 251.1h0M126.4 255.5h0M127.5 304.6h0M113 268.4h0M113.1 275h0M123.1 236.4h0M99.3 282.5h0M121.6 258.7h0M108.4 299.7h0M117.9 276.8h0M104.5 268.9h0M118.8 317.8h0M128.1 282.3h0M86.4 306.9h0M110.7 290.5h0M113.9 262.4h0M91.9 320.8h0M90.6 306.2h0M127.2 256.3h0M116.9 273.8h0M104.3 265h0M102.4 283.7h0M138.2 266.4h0M101.8 284.2h0M120.8 282.7h0M107.6 286.8h0M92.8 308.9h0M97.8 244.4h0M93.3 289h0M79.3 310.3h0M112.2 305.3h0M92.5 304.6h0M94.1 278.3h0M107.8 271.5h0M107 254.4h0M118.2 270.8h0M125.4 276.5h0M156.7 240.6h0M118.5 264.3h0M89 310.7h0M99.3 262.7h0M91.2 274.1h0M113.9 266.8h0M123.7 274h0M82.9 297.2h0M106.1 287.9h0M103.8 297.3h0M124.3 269.9h0M120.2 267.1h0M140.9 278.3h0M103 277.7h0M127.8 258.3h0M140.9 242.6h0M100.5 269.9h0M125.2 281h0M91.4 296.2h0M113.8 258.1h0M112.9 273.9h0M131.3 268.3h0M93.2 289.3h0M121.7 263.7h0M110.3 289.5h0M113.5 287.6h0M36 302.9h0"/>
<path d="M103.2 270.2h0M128.4 260h0M141.7 231.7h0M127.6 285.1h0M112.3 266.2h0M126.4 279.8h0M102.9 304h0M110.1 263.1h0M92.5 308.4h0M104 275.5h0M110.2 260.5h0M113 297.2h0M103.8 309.1h0M116.5 279.5h0M117.1 302.8h0M118.7 278.3h0M94.6 288.7h0M94.8 298.2h0M136.4 271.4h0M87.6 268.2h0M85.4 283.9h0M114.1 258.4h0M113 276.6h0M85.6 281.7h0M105.2 238.9h0M106.8 267.3h0M126.5 258.5h0M123.3 280.3h0M131.8 240h0M108.7 279.8h0M110.3 281.4h0M103.2 289.8h0M126 247.5h0M118 261.6h0M86.8 290.7h0M143.2 246.9h0M100.6 277.3h0M125.8 290.3h0M110.8 263.6h0M121.8 254.9h0M91.5 268.9h0M115.7 263.4h0M98.4 304.7h0M77.9 311.8h0M97.9 305.8h0M118.9 264h0M133.4 259.7h0M123.4 263.9h0M97.7 315.8h0M143.9 267.7h0M104.5 299h0M118.7 260.3h0M115.2 271.9h0M112.9 273.1h0M125.7 269.9h0M130.3 272.4h0M123.2 281.9h0M116.6 258.9h0M134.6 246.5h0M100.1 283.6h0M91.9 281.8h0M108.3 257h0M103.4 290h0M145.5 255.7h0M109.1 276.4h0M117.6 262.4h0M96.2 292.6h0M106.2 274.4h0M131 271.6h0M123.1 267.4h0M114.7 268.8h0M110.9 294.3h0M96.1 298.7h0M119.8 259.7h0M101.3 271.4h0M90.6 274h0M85.8 294.7h0M116.6 259.9h0M131.1 253.5h0M120.1 300.2h0M108.9 289.3h0M124.7 256.5h0M113.2 262h0M84.3 276h0M129.3 262.4h0M100.8 315.9h0M98.7 281.2h0M106.6 277.6h0M112.8 295.3h0M119.3 263.7h0M100.8 279.9h0M97 281.5h0M103.1 286.9h0M113.2 287.8h0M92.2 309.2h0M95.5 287.2h0M121.8 263.6h0M140.4 268.2h0M117.5 259.7h0M120.3 278.8h0M103.6 274h0M124.1 274.9h0M94.6 297h0M116.5 289.8h0M119.4 261.8h0M102.8 259.2h0M125.8 303.5h0M104.9 274.2h0M104.3 290.8h0M116.9 245h0M101.9 307.1h0M100.2 279h0M129.6 287.8h0M117.8 293.5h0M94.6 313.3h0M114.3 280.4h0M101.1 268.5h0M105.7 314.4h0M147 260.2h0M119.8 283.6h0M132.3 255.9h0M104 268.8h0M97.3 258.7h0M105.9 280.6h0M109.1 294.2h0M118.3 294.8h0M108.4 265.1h0M96.7 287.8h0M107.6 289.7h0M121.6 269.5h0M99.7 302.7h0M139.1 279.9h0M113.2 290.5h0M93.9 298.5h0M96.3 311.2h0M187.5 263.6h0"/>
<path d="M119.7 289.8h0M98.1 303.1h0M122.5 242.3h0M93.5 298.7h0M104.9 278.9h0M87.8 307.9h0M89.6 280.7h0M110.6 287.4h0M105.8 275h0M124.6 292h0M100 293.4h0M115.7 278.6h0M124.9 247.1h0M121.2 266.1h0M120.6 261.7h0M104.1 297.5h0M130.8 278.7h0M129.3 277.9h0M80.7 293.1h0M120.2 248.3h0M117.8 269.3h0M108.5 275.7h0M95 302.8h0M100.6 273.6h0M108.7 296.8h0M114.6 274h0M136 245.8h0M95.7 283.8h0M101 264.6h0M124.6 281h0M134.1 261.9h0M127.1 254.4h0M119.4 280.7h0M88.5 287h0M139.6 268.5h0M126.3 266.4h0M111.5 270h0M92.3 329.6h0M121.9 249.4h0M109.7 266.4h0M86.6 286h0M129.6 230.7h0M99.9 287h0M116.5 289.7h0M128.8 283.3h0M107.6 237.5h0M138.5 283.2h0M103.3 302.8h0M111.9 268.9h0M133.8 275.6h0M150.4 256.5h0M92 283.5h0M109.9 278.7h0M129.6 260.2h0M126.5 299.6h0M106.8 283.1h0M104.4 308.6h0M130.8 276.8h0M121.3 277.7h0M113.1 272.9h0M123.8 258.9h0M117.6 265.4h0M120.7 301.1h0M121.9 275.5h0M110.9 273.5h0M129.4 280.4h0M109 273.7h0M115.5 284.6h0M113.7 276.8h0M111.6 298.4h0M120.6 273h0M137.9 266.3h0M120.5 263.7h0M87.7 293.5h0M133.1 243h0M112.2 279.1h0M118.7 260h0M114.6 298.5h0M122.1 269.2h0M105.5 279.2h0M108.6 260h0M111.2 296.3h0M126.5 240.2h0M137.7 268.2h0M135 267.5h0M115.4 296.8h0M125.1 265.9h0M136.5 286.8h0M108.7 287.2h0M124.6 289.1h0M108.8 291.7h0M141.7 255.6h0M106.8 287h0M114.1 292.6h0M84.2 302h0M114.3 288.1h0M81.6 311.9h0M121.7 277.7h0M82.4 332.9h0M112.7 251.9h0M82.3 300.7h0M130.3 254.9h0M115.8 253.2h0M115.6 248.5h0M128.3 280.8h0M126.2 255.4h0M112.4 288h0M83.2 278.7h0M119.4 271.6h0M120.6 256.1h0M139.9 251.9h0M119.2 280h0M144.4 262.7h0M95 293h0M95.5 270.2h0M109.2 273h0M130.7 263.7h0M111 282.2h0M129.2 254.2h0M96.8 289.8h0M104.3 262.8h0M114.5 285.4h0M98.1 260.4h0M119.6 276.8h0M73.9 291.4h0M121.4 248.6h0M97.8 270.2h0M68.7 317.4h0M99.6 284.3h0M126.1 263.5h0M121.6 263h0M131.4 275.9h0M105.3 294.7h0M103.5 292.8h0M105.8 264.2h0"/>
<path d="M125.3 261.5h0M103.8 302.4h0M112.6 283.9h0M143.2 257.7h0M109.8 296.9h0M139.5 260.4h0M105.7 266.6h0M122.3 276.3h0M92.8 288h0M105.2 283.1h0M89.7 284.3h0M114.9 305.1h0M93.2 283.9h0M114.5 275.6h0M128 273.8h0M107.8 271.5h0M144.9 248.3h0M85.2 332.2h0M102.2 283.8h0M101.1 309.2h0M90.1 322h0M117.3 277.1h0M105.1 273.4h0M78.7 301.1h0M118.9 281.2h0M108.3 287.1h0M114.3 282h0M122.7 278.2h0M110.1 252.8h0M92.4 279.7h0M133.2 271.1h0M110.7 258.3h0M109.7 281h0M111.4 276.9h0M107.9 292.2h0M107.6 278.9h0M132.3 246.6h0M107.7 287.7h0M126.7 260.1h0M121.4 290.1h0M143.7 256.4h0M142.4 261.4h0M91.2 294.5h0M110.1 280.2h0M106.2 296.5h0M135.2 241.6h0M119.8 267.7h0M154.2 252.8h0M106.3 262.4h0M125.7 259.9h0M109.7 264.8h0M128 276.6h0M113.8 272h0M124.1 280.1h0M109.6 273.9h0M124 288.5h0M128.4 284.2h0M107.4 268.6h0M128 260.3h0M126.6 287.1h0M119.8 271.4h0M86.1 299.4h0M117.2 280.3h0M119.2 272.1h0M106.9 307.1h0M111.1 289.4h0M113.7 272.8h0M105.2 267h0M93 303.3h0M108.5 292.5h0M78.9 321.8h0M83.6 296.3h0M93.8 304.4h0M118.8 276h0M99.4 287.5h0M113.6 281.1h0M138.6 240.2h0M104.4 307.9h0M141.9 260.2h0M111.7 284.6h0M117 281.3h0M101.4 316h0M119.6 265.2h0M129.7 276.3h0M107.5 287.6h0M127.9 247.7h0M100.4 296.8h0M101.3 308.9h0M116.1 281.8h0M108.1 276.1h0M97.1 277.8h0M101.2 314.7h0M124.6 277.6h0M122.3 293.1h0M118.6 296.4h0M101.9 265.9h0M101.6 286.3h0M116.1 265.2h0M132.8 279.7h0M116.6 287.1h0M123 293.1h0M95.2 304.4h0M105.3 309.5h0M90.1 293.3h0M103.5 302.5h0M117.1 258.2h0M103.8 280.3h0M119.5 243.1h0M102.4 274.5h0M95.7 273.6h0M120.2 265.6h0M125.6 261.3h0M106.9 268.4h0M91.3 290.1h0M88.3 308.2h0M104.3 287.7h0M118.7 257.6h0M124.7 262.3h0M131.1 255.9h0M142.3 256.3h0M79.5 297.5h0M99 287.3h0M116.8 283h0M139.7 269.2h0M120.9 284.3h0M97.7 292.8h0M117.3 296.5h0M132.9 278.4h0M109.5 277.5h0M120 259.6h0M116.6 295.4h0M111.1 309h0M108.6 279h0M121.8 268.2h0M90.4 278.8h0"/>
<path d="M116.5 257.5h0M93.6 318.8h0M129.8 299.5h0M118.5 258.7h0M115.6 301.8h0M104.8 259.5h0M84.2 299.4h0M119.1 283.8h0M99.3 282.8h0M104.9 287.3h0M116.5 264.7h0M118.4 257.2h0M136.7 274.3h0M96.7 307.7h0M110.8 271.4h0M113.6 280.4h0M114.2 277h0M102.7 299.1h0M143.6 260.6h0M103.5 284h0M128.3 280h0M85.5 307.5h0M125.2 282.4h0M115.9 301.1h0M122.1 252.1h0M137.1 262h0M124.3 279h0M120.5 289.4h0M149.8 256h0M122.3 285.1h0M101.4 286.3h0M111.4 263.2h0M98.8 264.6h0M111.5 280.4h0M121.7 281.3h0M99.3 288.7h0M104.9 289.1h0M101.7 275.8h0M111.6 282.6h0M116.1 292.2h0M127.8 266.5h0M139.1 250.9h0M119.8 267.9h0M104 292.1h0M122.5 291.4h0M116.9 264.6h0M115.9 266.7h0M118.2 253.2h0M132 228.4h0M132.2 272h0M103.6 263.5h0M136.5 249.9h0M95.6 315h0M98.6 306.2h0M98.3 274.6h0M143.6 263.7h0M90.7 307.8h0M97.8 289.9h0M78.9 306.3h0M133.6 265.9h0M123.7 245.1h0M130.3 251.7h0M110.4 293.1h0M91.2 289.7h0M93.9 302.6h0M99.6 272.1h0M117.1 294.2h0M140.5 262.5h0M91.5 304.9h0M116.4 303.8h0M83.1 309.3h0M93.9 282.5h0M108 273h0M128 253.9h0M108.5 308.2h0M103.6 274.5h0M113.5 274.5h0M125.6 265.4h0M95.3 307.9h0M84.8 288.9h0M105.9 268.2h0M112.2 273.4h0M111 274.8h0M124 290.4h0M104.7 314.6h0M95.7 279.5h0M109.2 290.3h0M117.8 306.2h0M112.1 283.8h0M103.5 260.3h0M111.6 266.7h0M117.4 271.8h0M135 257.9h0M107.6 299.4h0M94.2 303.1h0M118.3 274.7h0M147.2 228.3h0M108.4 268.2h0M120.1 283.1h0M107.1 263.5h0M113.5 291.3h0M92.3 291.2h0M133.8 267h0M111 271.4h0M91.6 271h0M127 255.5h0M104.8 293.8h0M78.6 294.2h0M99.5 271.4h0M117.6 290.9h0M140.3 249.5h0M100.9 275.4h0M96.7 295.6h0M94.1 312.4h0M120 284.3h0M94 300.3h0M117.1 263.1h0M107.3 272.3h0M138.2 241.2h0M115.5 263.9h0M90.6 319.1h0M121.5 279.9h0M87.3 281.8h0M116.7 284.9h0M106.8 296.5h0M98 314.8h0M108.6 268.5h0M114.5 277.5h0M117.6 288.3h0M106 261.6h0M110.4 264.2h0M136.8 236.4h0M117.2 258.5h0M110.8 286h0M139.2 282.6h0"/>
</g>
<line x1="36.5" y1="330.2" x2="186.1" y2="227.3" stroke="#111" stroke-width="1.05" stroke-dasharray="3.1 1.35"/>
<path d="M29.3 222.6V338.0H194.7" fill="none" stroke="#c6c6c6" stroke-width="0.9"/>
<path d="M56.6 338.0v1.6M84.5 338.0v1.6M112.4 338.0v1.6M140.3 338.0v1.6M168.2 338.0v1.6M29.3 334.3h-1.6M29.3 315.6h-1.6M29.3 296.9h-1.6M29.3 278.2h-1.6M29.3 259.5h-1.6M29.3 240.8h-1.6" stroke="#555" stroke-width="0.5" fill="none"/>
<g class="dv" font-size="6.4">
<text x="56.6" y="345.3" text-anchor="middle">−1.0</text><text x="84.5" y="345.3" text-anchor="middle">−0.5</text><text x="112.4" y="345.3" text-anchor="middle">0.0</text><text x="140.3" y="345.3" text-anchor="middle">0.5</text><text x="168.2" y="345.3" text-anchor="middle">1.0</text>
<text x="27.2" y="336.6" text-anchor="end">−1.5</text><text x="27.2" y="317.9" text-anchor="end">−1.0</text><text x="27.2" y="299.2" text-anchor="end">−0.5</text><text x="27.2" y="280.6" text-anchor="end">0.0</text><text x="27.2" y="261.9" text-anchor="end">0.5</text><text x="27.2" y="243.1" text-anchor="end">1.0</text>
</g>
<text class="dv" font-size="8.9" y="233.8"><tspan x="37.6" font-style="italic">r</tspan><tspan x="40.5"> = </tspan><tspan x="51.8">0.589</tspan></text>
<text class="lb" font-size="10.35" x="111.0" y="357.1" text-anchor="middle">Predicted 0-back EEA</text>
<text class="lb" font-size="10.35" text-anchor="middle" transform="translate(10.1 278.0) rotate(-90)">Actual 0-back EEA</text>
<g fill="none" stroke="#4088c2" stroke-width="1.95" stroke-linecap="round" stroke-opacity="0.66">
<path d="M329.6 277.4h0M331.5 289h0M336.9 257.4h0M302.4 282.4h0M300.1 289.2h0M324.3 261.6h0M320.3 259.1h0M334.1 294.7h0M337.6 280.6h0M308.1 298.8h0M305.7 270.9h0M309.8 276.9h0M327 274h0M301 293.4h0M322.5 281.7h0M321.4 286.1h0M315.7 288.3h0M313.1 263.7h0M291 279.3h0M311.5 310.7h0M306.6 305.9h0M334.7 282.2h0M301.9 280.3h0M313.9 297h0M287.2 326.1h0M298.6 275.7h0M338.3 278.2h0M310.8 283.9h0M317.4 286h0M289.8 276.3h0M282.6 298.1h0M310.2 300h0M316.4 256.9h0M306.8 295.9h0M293.6 289.3h0M282.4 320.1h0M318.4 298.8h0M299.1 263.7h0M298.1 307.2h0M323.2 287h0M317.4 256.3h0M290.8 290.6h0M277.6 307.6h0M288 321.9h0M311.9 275.1h0M330.5 285.9h0M292.5 297.6h0M303.6 279.6h0M302.6 295.9h0M308.4 286h0M284.5 284.5h0M309.1 290.2h0M305.1 298.9h0M335.9 271.4h0M310.6 271h0M278.9 298.4h0M353.7 274.3h0M308.1 300.1h0M297.9 272.8h0M353.9 281.7h0M307.9 279.3h0M311.9 282.6h0M301.5 289.7h0M285.3 308.9h0M319.9 267.8h0M293.8 335.4h0M334.8 243h0M340.8 245.8h0M282.9 299.3h0M307.9 274.7h0M308.3 292.3h0M326.6 286.1h0M319.9 265.6h0M323 278.3h0M356.4 227h0M282.1 319.1h0M312.5 275.6h0M331.1 278.3h0M305 304.6h0M304.5 284.7h0M325 262.3h0M312.3 272.4h0M319.3 271.6h0M285 292.3h0M305.4 292h0M333 278.2h0M306.8 323h0M301.1 277.4h0M291.9 317.9h0M313.2 268.7h0M306.7 303.8h0M349.4 263.7h0M319.5 310.8h0M311.4 282.3h0M299.7 273.9h0M342.1 250h0M322.1 264h0M322.9 294.8h0M299.1 281.5h0M310.5 275.4h0M327.5 250.2h0M310.7 291.7h0M302.5 280.1h0M315.3 291h0M313.7 312.7h0M286 300.2h0M303.3 249.7h0M298.8 282.1h0M291.6 315.6h0M319.2 294.1h0M294 267.4h0M306 269.5h0M317.2 291.8h0M317.6 257.2h0M297.8 290.9h0M334.6 275.7h0M299.6 305.1h0M290.5 317.3h0M314.6 277.1h0M326.5 281.2h0M321.9 261.5h0M301.8 269.1h0M312.5 290.2h0M303.1 270.7h0M314.6 269.8h0M306.6 309.2h0M308.3 268.8h0M320.4 284.7h0M288.4 287.3h0M299 273.7h0M304.3 308.5h0M307.9 285.7h0M305.7 294.4h0M302 278.3h0M323.6 257.5h0M326.6 288.5h0"/>
<path d="M307 280.4h0M335.9 290.2h0M328.7 289h0M340.7 265.6h0M298.9 282.1h0M286.5 265.8h0M311.1 254.5h0M331.1 279.6h0M342.8 255.2h0M319.3 263.1h0M316.7 279.1h0M321.2 285.8h0M298.1 286.3h0M322.4 301.7h0M321.2 292.4h0M332.6 280.8h0M339.2 278.2h0M304 323.6h0M307.7 282h0M316.1 274h0M298.8 284.7h0M317.6 290h0M311.2 287.3h0M294.6 286.8h0M332.6 280.1h0M305.4 285.6h0M305.1 259h0M307.8 291.6h0M266.2 326.8h0M315.7 271.8h0M299.4 302.3h0M323 281.7h0M315.4 247.9h0M330.3 272.8h0M304.8 303.7h0M286.6 300.5h0M320.3 262.4h0M317.1 238.1h0M296.2 323.8h0M304.5 274.3h0M328.5 282.7h0M306.6 288.7h0M290 303.3h0M331.6 267.2h0M310.2 312.2h0M309.9 290.9h0M298.2 281.5h0M320.9 255.7h0M294.1 286.7h0M309.2 241.8h0M335.5 244.9h0M297.3 295.5h0M294.4 277.5h0M318.2 263.2h0M304.9 283.6h0M320.9 282.6h0M274.1 328.2h0M301.8 269.2h0M323.5 273h0M321.3 275.6h0M349.9 261h0M295 283.1h0M307.8 285.6h0M314.6 231.9h0M317.2 245.2h0M321.9 297.9h0M314.5 305.6h0M306.6 288.6h0M313.9 281.7h0M322.5 294.3h0M302.9 292.3h0M312.7 323.7h0M301.3 273.5h0M302.7 292.2h0M322.3 243.5h0M302 269.1h0M310.9 291.8h0M302.5 291.9h0M320.5 255.7h0M312.6 261.7h0M323.1 260.3h0M330.9 261.4h0M303.7 288.3h0M304.8 275.7h0M311.6 286.1h0M323.7 280.2h0M295.4 287.6h0M288.7 246.5h0M326.4 258.5h0M319.8 297.6h0M322 283.4h0M330.5 260.4h0M293.6 310.8h0M308.5 271.4h0M335.5 250.6h0M282 274.1h0M325.8 247.4h0M301.5 287.3h0M303.9 278.3h0M292.5 302.8h0M312.4 268.8h0M317.9 248.6h0M318.1 300.9h0M325.5 274.2h0M302.7 294.5h0M301.5 312.7h0M309.7 296.8h0M293 283.7h0M312.5 271.7h0M297.4 281.8h0M330.2 280.4h0M330.3 261.2h0M316.2 273.6h0M316.7 278.6h0M308 286.2h0M296.9 259.3h0M294.1 304.2h0M324.4 261.9h0M309.6 297.1h0M336.4 234.6h0M290 273.9h0M311.9 310.1h0M339.2 243.1h0M319.1 267h0M318.3 287.1h0M301.1 271.3h0M309.8 286.3h0M322.2 293.7h0M315.5 234.4h0M334.6 269.4h0M280.9 311.5h0M317.1 288.8h0M291.1 285.7h0M321.6 263.3h0M282.7 333.1h0M315.1 290.2h0"/>
<path d="M318.8 273.8h0M307.3 258.2h0M309.6 288.2h0M302.7 279.6h0M299.1 288h0M304.6 264.6h0M308.3 282h0M332.4 262h0M320.6 254.2h0M303.3 242h0M320.6 296.2h0M313.2 296.8h0M319.4 293.7h0M327.5 262.4h0M323 274.9h0M300.3 302.7h0M322.4 282.1h0M324.5 260.3h0M303.5 309.1h0M287.5 301.1h0M318.5 270.3h0M316.5 299.1h0M326.2 266.7h0M316.3 289h0M261.4 317.1h0M303.4 289.7h0M308 275.6h0M280 297.4h0M299.5 290.3h0M332.7 320h0M307.1 289.3h0M300.7 284.1h0M319.9 270.3h0M325.6 253.4h0M311.6 281.9h0M298.1 296.6h0M292.5 305.2h0M312.3 241.8h0M318.1 294.4h0M303.9 269.4h0M305.9 261.6h0M326.4 255.7h0M331.4 289.4h0M308.8 273.8h0M329.6 248.2h0M329.5 253.9h0M295.9 289.2h0M290.9 294.6h0M302.2 307.3h0M304.9 287.7h0M332.9 269.5h0M333.6 281.9h0M294.2 316.9h0M298.7 278.5h0M286.8 304.9h0M293.1 265.7h0M320.2 290.7h0M289.9 304.3h0M330.4 266.5h0M311.1 273.4h0M322.7 278.2h0M325.1 303.2h0M322.9 293.3h0M292.3 280.6h0M297.8 329.4h0M297.6 263.6h0M310.5 296.1h0M285.5 290.4h0M313 286.4h0M330.7 287.2h0M303.4 278.4h0M301.2 266.8h0M299.8 299.7h0M298 307.9h0M294.6 296.5h0M335.5 255.4h0M328.7 270.1h0M297.8 315.9h0M310.5 256h0M342.6 262.2h0M286.6 295.1h0M300.8 291.9h0M287.6 296.9h0M300.2 298.3h0M329.3 253.4h0M321.5 263.2h0M316.6 308.4h0M354.2 263.9h0M318.4 263.2h0M339.4 266.8h0M304.6 274.4h0M282.9 294.6h0M329.6 282.3h0M302.9 302.8h0M303.1 265.2h0M303.8 302.3h0M301.8 268.8h0M312 277.5h0M322.3 260.2h0M326.1 310h0M298.4 282.6h0M327.1 259.9h0M302.6 296h0M327.9 243.1h0M291 309.5h0M347.4 257.6h0M292.6 289h0M315.2 257.7h0M321.6 264.3h0M305.8 290h0M328.5 255.3h0M325.9 244.6h0M298.7 311.7h0M304.8 248h0M312 243.5h0M329.5 257.4h0M297.3 292.1h0M319.8 271.2h0M281.4 290.2h0M331 274.5h0M325.5 290.2h0M318.2 296.5h0M319.4 263.5h0M311.1 264.5h0M309.1 253.8h0M321.3 268h0M321.9 281.8h0M293.9 309.7h0M329.1 273.5h0M337.4 271.7h0M335 237.1h0M319.6 256.3h0M329.9 263h0M314.5 251.1h0M300.6 287h0M394.1 276.5h0"/>
<path d="M289.3 285.4h0M320.7 322.9h0M327.6 278.9h0M307.5 262.1h0M334.5 309h0M301.4 273h0M302.9 292.9h0M307.4 275.3h0M319.1 307.6h0M317.7 282.5h0M309.2 287.9h0M303 298.3h0M311.2 257.5h0M333.8 271.1h0M300 282.4h0M335.7 273.8h0M278.9 320.7h0M316.4 282.1h0M306.1 269.7h0M309.3 303h0M304.3 307.5h0M314.5 284.2h0M338.7 289.1h0M289.3 279.1h0M314.9 291.5h0M299.6 264.6h0M303.7 289h0M346.3 264.1h0M310.7 277.2h0M309.8 298.3h0M309.2 298.1h0M302.8 281.3h0M307.3 303.5h0M285.9 304.5h0M343.4 228.1h0M296.4 286.8h0M333.1 238.9h0M327.8 253.8h0M307.1 304.9h0M318.7 271.8h0M314.1 238.7h0M314 275.6h0M295.4 297.5h0M330.6 265.4h0M316.1 268.5h0M319.6 285.5h0M306.6 298.8h0M291.7 275.4h0M344.9 261.4h0M298 284.3h0M322.5 259.6h0M295.4 268.8h0M300.5 296.7h0M324 263.3h0M311.9 295.8h0M331.8 286.9h0M269 315.6h0M313.6 274.7h0M290 291.1h0M290.8 285.1h0M315.4 266.5h0M272 329.9h0M326.9 278.7h0M309.4 303.1h0M303.3 269.4h0M337.2 285.7h0M294.2 297h0M315.4 255h0M296.2 284.8h0M319.1 279h0M344.8 262h0M301.5 299.4h0M295.5 292.5h0M346.7 260.8h0M284.7 305.9h0M304.2 299h0M306.9 294.5h0M308.4 307.1h0M341.7 266.7h0M289.2 300.5h0M328.5 267.2h0M334.1 259.6h0M315.4 272.9h0M331.4 255h0M310.6 288.9h0M310.5 279.1h0M294.4 309.6h0M309.8 285.8h0M314.2 276.9h0M278.8 312h0M308.4 289h0M342.5 263.9h0M320.8 306.1h0M296.7 282h0M331.8 276.6h0M299.5 283.1h0M306.6 252.4h0M315.8 280.1h0M295.8 290.9h0M316.4 283.6h0M325 276.7h0M327.8 289.4h0M322.8 285.5h0M342.3 252.8h0M303.9 291.5h0M303.1 294.9h0M326.9 252.5h0M276.7 287.8h0M327.2 293.7h0M299.6 269h0M290.5 288.1h0M333 262h0M287.4 274.2h0M299.4 300.8h0M332.9 273.9h0M330.2 254.7h0M307.4 279.6h0M299.1 290.5h0M299.8 300.7h0M304.7 268.4h0M307.1 296.2h0M303.3 317.8h0M308.5 277.7h0M311.2 259.9h0M337.2 268.6h0M332.8 258.1h0M309.4 289h0M305.3 276.6h0M330.5 270h0M304.1 306.2h0M297.7 308.4h0M314.9 250.9h0M294.2 306.5h0M331.2 305h0M307.6 318.9h0M240.3 330.1h0"/>
<path d="M316.9 285.4h0M316.2 266.9h0M348.1 263.8h0M289.7 308h0M337.1 280.3h0M305.5 268.1h0M336.7 255.1h0M316.5 275.1h0M324.7 236.7h0M338 237.1h0M304.5 315.4h0M293.8 328.6h0M295.7 296.7h0M308 279.2h0M324.9 265.5h0M285.4 279.3h0M325.7 299.9h0M298.9 291.3h0M318.5 309h0M301.3 283.8h0M297.4 269.4h0M309.5 288.8h0M340.3 261.4h0M293.9 286.6h0M305.9 296.6h0M294.7 292.9h0M302.7 280.8h0M309.1 261.7h0M299.8 297.7h0M283.9 300.3h0M322.7 253.7h0M306.7 286.3h0M299.6 278.3h0M307.1 250.4h0M285.9 268.7h0M307.8 309.2h0M295.4 313.4h0M316.7 262.5h0M301.2 278.7h0M282 285.2h0M335.1 264.8h0M322.1 271.5h0M323.6 249.2h0M306.7 275.1h0M301.5 310.4h0M324.9 273.4h0M298 275.3h0M350 243.1h0M297.8 286.7h0M303.6 284.4h0M316.9 298.4h0M324.1 272.3h0M306.3 270.6h0M330.6 283.9h0M295.1 285.4h0M302.3 298.2h0M316.3 244.2h0M321.3 275h0M319.4 276.4h0M316.4 296.4h0M319.7 260.6h0M307.4 246.3h0M320.7 278.7h0M320.7 284.4h0M290.1 295.1h0M311.3 318.3h0M294.3 284.6h0M310.8 287.5h0M331.6 265.2h0M311.4 272h0M323 283.2h0M315.5 279.7h0M334.9 232.5h0M320.9 286.8h0M330.1 245.5h0M322.1 265.8h0M318.4 269h0M327.9 280h0M322.7 262.1h0M319.7 305.8h0M306.7 265.4h0M346.4 250.3h0M277.7 328h0M330.8 254.8h0M332.2 261.3h0M307 320.3h0M284.2 333.8h0M339.2 251.1h0M311.8 298.2h0M318.8 255.7h0M305.8 310.9h0M306.3 276.8h0M302.9 288.3h0M310.2 290.4h0M313 293.6h0M327.9 275.7h0M308.1 277.3h0M311.5 250.5h0M349.7 253.4h0M302.1 277.1h0M279.5 310.5h0M299.5 281.9h0M321.2 253h0M329.6 273.2h0M335.7 262.2h0M305.8 274.5h0M310.6 254.4h0M332.5 281.6h0M310.7 288.1h0M314.1 271.4h0M301.3 285.3h0M297.5 303.3h0M309.8 276h0M333.3 271.7h0M303.8 277h0M292.4 309.7h0M323.8 268.8h0M299.8 303.1h0M298.3 311.1h0M313.6 269.9h0M279 331.5h0M301.6 313.2h0M288.7 289.2h0M330.1 263.6h0M313.2 279.5h0M340.2 289.9h0M296.1 282.6h0M308.5 290.3h0M264.7 262.9h0M310.7 248.1h0M302.8 284.2h0M318.7 293.6h0M296.8 291.2h0M318.4 294.1h0M340 241.1h0M266.7 290.5h0"/>
<path d="M353.7 254.1h0M305 306.5h0M301.4 283.6h0M307.4 252.1h0M364.7 270.6h0M283.1 301.8h0M317.2 262.2h0M310.5 253.4h0M288 300.1h0M320.3 283.4h0M324.1 282h0M325.8 274.1h0M282.3 334.2h0M319.3 304.1h0M290.8 280.2h0M328.1 283.4h0M326.3 293.9h0M317.9 265.3h0M277.4 295h0M326.6 285.1h0M334.5 294h0M305.7 300.4h0M301.5 287.4h0M301.7 276.5h0M315.5 238h0M335.3 288.8h0M301.4 272.4h0M312.4 297.4h0M332.2 289.9h0M319.6 282h0M317.5 275.8h0M302.3 261.1h0M317.8 297.6h0M304.9 286.8h0M289.8 315.8h0M299.7 292.7h0M315.3 274.2h0M302.2 270.7h0M311.1 269.3h0M320.8 292.5h0M318.1 260.2h0M324.3 305.5h0M321.2 276.3h0M292.4 299h0M296.6 289.6h0M324.8 278.3h0M304.7 291.3h0M330.4 272.1h0M294.4 274.3h0M352.4 284.9h0M344.1 266.6h0M287.7 293.4h0M312.2 315.8h0M317.7 283.5h0M299.2 288h0M288.7 296.8h0M302.5 265.1h0M303.9 262h0M299.4 317.8h0M304.1 272h0M294.1 305.5h0M301 276.5h0M333.3 278.5h0M337.1 263.1h0M310.4 305.7h0M298.4 284.9h0M287.4 313.7h0M328 253.8h0M311.7 282.1h0M319.9 292.6h0M311 274.1h0M278.4 298h0M299.2 309.6h0M325.1 255h0M292.8 276.5h0M309.9 289.9h0M353.4 256.1h0M330.7 263.5h0M315.1 299h0M321.3 282.8h0M303.2 298.2h0M330.8 271.3h0M311.9 286h0M346.2 260.7h0M306.3 297.4h0M314.9 281.9h0M303.1 273.8h0M318.7 302.5h0M294.9 326.9h0M310 301.9h0M309.1 293.5h0M316.7 297.9h0M309.2 246.8h0M305.7 278.8h0M324.5 257.1h0M324.7 277.4h0M310.7 314.6h0M285.9 310.5h0M291.3 280.9h0M305.3 303.5h0M317.6 275.8h0M326 260.3h0M322.6 279.2h0M290 296h0M311.6 311.1h0M357.4 285h0M289.6 277h0M327.5 289.8h0M313.2 297.5h0M336.8 254.1h0M327.5 271.1h0M341.3 249.5h0M322.4 281.9h0M295.7 302.2h0M324.9 271.6h0M331 244.5h0M345 238.6h0M288.7 275.6h0M329.5 276.4h0M283.7 277h0M308.8 289.7h0M284.7 286.8h0M277.7 301.4h0M316.5 276.9h0M321.4 276h0M311.5 276.3h0M304.2 273.4h0M313.6 326.7h0M329.2 257.7h0M299.7 278.3h0M307.2 276.2h0M323 266.2h0M318.3 280.8h0M289.7 301.6h0M310.2 280.2h0"/>
<path d="M335.6 256.1h0M311.3 274.4h0M308.3 277.3h0M318.6 263.9h0M288.8 283.6h0M340.9 260.6h0M303.4 296.4h0M342 294.6h0M328.6 282.8h0M289.8 282.6h0M311.5 252.7h0M298.6 300.9h0M320.4 260.9h0M294.1 304.6h0M323.6 275.9h0M325.8 246.3h0M316.1 263.7h0M315.2 265.6h0M334.3 282.8h0M320.4 271.4h0M316.7 271.7h0M337.3 260.7h0M319.3 233.4h0M337.1 260.1h0M310.9 296.5h0M308.4 282h0M312.6 296.8h0M323.1 258.9h0M322.7 286.8h0M303.7 275.2h0M290.9 306.1h0M290.2 302.2h0M314.7 282.7h0M333.5 286.5h0M291.3 311.5h0M284.2 315.4h0M291.5 289.6h0M335.5 251.8h0M289 300.9h0M313 294.8h0M303 281.4h0M305.9 290.6h0M301.1 314.5h0M308 271.7h0M294.1 289.8h0M297.6 300.6h0M339.9 287.1h0M316.3 265.1h0M303.4 289.1h0M322.9 279.5h0M286.4 288.5h0M333.7 254.7h0M291.3 321.6h0M287.1 298.6h0M318 291.9h0M351.9 279.8h0M310.3 307h0M332.9 241.6h0M302.1 298.6h0M308.5 306.4h0M322.5 277.1h0M291 294h0M274.9 316h0M322.5 285.8h0M314.5 293h0M323.5 252.6h0M306.5 274.9h0M320.1 284.8h0M301.8 285.2h0M294.6 283.4h0M279.5 300h0M292.1 321.2h0M313.3 300.6h0M301.8 269.3h0M332.3 254.1h0M329.4 267.1h0M309.7 244.4h0M321 306.7h0M311.5 251h0M291 245.3h0M297 301.5h0M298.1 287.2h0M292.4 290.7h0M314.7 296.5h0M302.7 263.6h0M295.2 270.1h0M295.7 277.4h0M309.8 283h0M293.4 308.2h0M297.8 272.2h0M355.4 256.4h0M303 296.3h0M296.3 264.4h0M309.9 295.4h0M277.3 298.4h0M294.6 285.2h0M321 273.1h0M291.8 306.9h0M311.1 276.9h0M291.7 305.5h0M320 305.9h0M303.7 295.5h0M296.5 300.9h0M309.5 263h0M294.1 277.8h0M319.2 300.6h0M289.7 308.1h0M275.6 279.2h0M293.3 268.7h0M320.4 273.9h0M301.7 321.7h0M273.6 324h0M297.2 309.9h0M327.4 290.5h0M301.7 307.8h0M297.8 290.7h0M314.4 267.9h0M326.3 271.8h0M335.2 253.8h0M321.7 283.5h0M324 290.3h0M316 294.7h0M302.7 249h0M318 289.9h0M332.8 296.2h0M339.2 275.1h0M357.7 280.9h0M322.2 273.8h0M303.7 292.2h0M302.8 291h0M306.5 271.4h0M331.6 260h0M295.1 297.1h0M331.6 265.5h0M312.6 289.8h0"/>
</g>
<line x1="239.8" y1="326.6" x2="393.3" y2="231.7" stroke="#111" stroke-width="1.05" stroke-dasharray="3.1 1.35"/>
<path d="M232.4 220.8V339.1H402.5" fill="none" stroke="#c6c6c6" stroke-width="0.9"/>
<path d="M250.1 339.1v1.6M270.4 339.1v1.6M290.8 339.1v1.6M311.1 339.1v1.6M331.5 339.1v1.6M351.8 339.1v1.6M372.2 339.1v1.6M392.5 339.1v1.6M232.4 329.6h-1.6M232.4 306.3h-1.6M232.4 283.0h-1.6M232.4 259.7h-1.6M232.4 236.4h-1.6" stroke="#555" stroke-width="0.5" fill="none"/>
<g class="dv" font-size="6.4">
<text x="250.1" y="346.4" text-anchor="middle">−0.75</text><text x="270.4" y="346.4" text-anchor="middle">−0.50</text><text x="290.8" y="346.4" text-anchor="middle">−0.25</text><text x="311.1" y="346.4" text-anchor="middle">0.00</text><text x="331.5" y="346.4" text-anchor="middle">0.25</text><text x="351.8" y="346.4" text-anchor="middle">0.50</text><text x="372.2" y="346.4" text-anchor="middle">0.75</text><text x="392.5" y="346.4" text-anchor="middle">1.00</text>
<text x="230.3" y="332.0" text-anchor="end">−1.0</text><text x="230.3" y="308.7" text-anchor="end">−0.5</text><text x="230.3" y="285.4" text-anchor="end">0.0</text><text x="230.3" y="262.1" text-anchor="end">0.5</text><text x="230.3" y="238.8" text-anchor="end">1.0</text>
</g>
<text class="dv" font-size="8.9" y="232.5"><tspan x="241.3" font-style="italic">r</tspan><tspan x="244.2"> = </tspan><tspan x="255.5">0.511</tspan></text>
<text class="lb" font-size="10.35" x="314.9" y="357.1" text-anchor="middle">Predicted 2-back EEA</text>
<text class="lb" font-size="10.35" text-anchor="middle" transform="translate(211.7 277.8) rotate(-90)">Actual 2-back EEA</text>
<g fill="none" stroke="#4088c2" stroke-width="1.95" stroke-linecap="round" stroke-opacity="0.66">
<path d="M516.6 305.8h0M503.2 282.4h0M516.5 279.7h0M524.3 282.5h0M524.2 276.9h0M501.1 303.2h0M520.5 277.7h0M515.3 293.8h0M522.4 281.5h0M522.4 279.3h0M533.6 259.3h0M508.9 276.6h0M503.2 286.9h0M544.4 286.2h0M534.5 263.8h0M503.8 287.2h0M529.3 268h0M514.9 294.7h0M501.4 278.4h0M494.1 295h0M513.5 258.9h0M516.5 279.6h0M492.1 314.6h0M533.1 293.8h0M523 260.5h0M534.4 269.5h0M512.2 309.4h0M515.5 293.3h0M525.3 284h0M494 303.1h0M531.4 260h0M549.1 266.6h0M496.5 292.5h0M508.5 321.1h0M538.1 264.4h0M515.1 283.9h0M551.9 242.6h0M500.1 281.6h0M519.1 300.8h0M509.5 273.5h0M527.7 263.1h0M517.1 280.1h0M498.7 300.5h0M516.1 298.2h0M516.5 271.4h0M535 283.2h0M530.5 259.7h0M520.9 290.1h0M497.8 285.4h0M542.4 253h0M524.6 279h0M540.5 279.5h0M527.4 254.2h0M527.5 262h0M517.8 282.3h0M524.6 283.9h0M522.3 270.1h0M519.6 298.8h0M507.5 286.3h0M501.6 265.7h0M528.6 269.1h0M517.8 268h0M545 287.2h0M513.5 286.5h0M513.3 301.5h0M521.6 268.8h0M508.2 311.9h0M493.9 294.1h0M502.3 296.2h0M505.3 312h0M498.8 307h0M494.1 322.3h0M522.7 272.1h0M520.4 253.3h0M505.1 287.8h0M505.9 311.4h0M526.9 272.6h0M505.2 303.6h0M503.4 301.7h0M514.6 311.5h0M506.2 280.2h0M519.9 284.4h0M509.1 305.5h0M505.8 289.7h0M527.1 281.1h0M512.9 292.9h0M526.9 271.3h0M515 255.7h0M527.2 279.6h0M540.9 267.9h0M504.5 279.4h0M528.4 258.1h0M526.6 297.8h0M512.2 276.7h0M498 301.8h0M517.4 281h0M513 272.1h0M525.9 267.1h0M531.8 266.4h0M530.4 277.9h0M512.4 278.9h0M505.6 279.8h0M530 260.7h0M519.3 279.5h0M497.7 286.2h0M507.5 293.7h0M525.7 285.1h0M539.7 265.9h0M513.5 278.1h0M526.3 268.6h0M541.2 272.2h0M508.8 304.6h0M516.7 283h0M520.2 252.6h0M534.5 239.5h0M498.9 307.5h0M523.4 267.3h0M521.9 272.3h0M493.1 275.9h0M518.6 286.8h0M516.2 254.8h0M525 280.2h0M523.1 290.5h0M505.7 289.7h0M535.1 244.6h0M540.7 270.7h0M508.1 259.5h0M492.7 304.5h0M509.5 288.7h0M508.4 266.8h0M521.4 261.9h0M496.8 277h0M512.4 287.7h0M509.3 290.3h0M526.2 269h0M553.5 279.9h0M558.9 241.9h0"/>
<path d="M516.3 294.3h0M506.8 291h0M515.8 270.5h0M528.4 269.8h0M513.1 308.8h0M504.6 305.4h0M541.7 250.1h0M520.3 271.7h0M515.3 283.5h0M515.7 256.2h0M509.2 286.6h0M536.1 283.1h0M513.3 284.2h0M514.3 265.5h0M513.8 281.5h0M520.6 288.4h0M549.6 271.9h0M535.8 283.1h0M517.1 289.2h0M515.1 257.6h0M524.8 259.2h0M502.9 288.6h0M504 291.9h0M528.2 251.2h0M512.5 307.6h0M529.2 244.8h0M504.2 288.2h0M517.2 250.5h0M526.8 278.7h0M507.6 291h0M490.8 315.7h0M534.6 279.9h0M501.9 294.4h0M514.4 292h0M545.6 243h0M510.2 289.9h0M531.2 264.2h0M514.2 284.3h0M528.2 291.3h0M517.5 279h0M525.4 273.6h0M518.7 272h0M509.1 308.8h0M508.6 272.7h0M499.8 302.3h0M481.7 292.7h0M509.6 279.3h0M513.7 277.8h0M528.2 267.6h0M529.8 264.1h0M538.1 286.2h0M505.9 270.2h0M509.7 275.1h0M516.8 260.8h0M519.8 287.1h0M501.3 299.4h0M508.2 301.6h0M506.9 294.6h0M534.7 290.2h0M522.4 286.1h0M519.1 285.4h0M522.5 281h0M516.3 290.7h0M499.8 295.5h0M509.3 285.5h0M506.1 285.5h0M503.2 288.2h0M519.5 282h0M519.4 297.4h0M526.6 286.2h0M475.8 288.9h0M519 264h0M501.3 294.2h0M536.9 246h0M518.1 286.2h0M509.5 311h0M521.8 290.4h0M516.4 271.1h0M538.6 282.6h0M525.9 272.2h0M535 287.4h0M510.3 287.6h0M511.9 283.6h0M515.4 281.8h0M522 278h0M536.6 282.2h0M520.8 275.5h0M528.1 273.9h0M514.8 289.2h0M534.2 259.7h0M520.6 272.8h0M516.5 269.1h0M509.4 302.8h0M518.9 280.3h0M503.9 287.4h0M520.1 293.4h0M538 242.4h0M514 250.3h0M492.3 316.2h0M511.8 291h0M483.1 299.6h0M527 284h0M519 295.7h0M513.3 269.3h0M504.7 277.8h0M494.9 292.4h0M503.2 269.4h0M521.5 293.9h0M513 278.9h0M528.7 260.1h0M516.1 277.3h0M513.1 277.3h0M508.8 275.1h0M499.2 297.1h0M497.7 287.9h0M524.7 282.1h0M510.9 289.3h0M517.8 283.9h0M522.5 287h0M511.6 271.1h0M513.4 301.8h0M522.6 275.1h0M499.8 277.3h0M542.9 239.4h0M538 252.2h0M527 287.2h0M521.7 280.3h0M513.4 294.4h0M501.8 320.1h0M517.5 275.4h0M531.7 286.2h0M519.4 273.4h0M520.8 301.5h0M514.6 276.9h0M506.9 276.7h0M523.7 294.6h0"/>
<path d="M504.4 301.1h0M540.4 261.9h0M493.7 299.1h0M508.1 278.2h0M519.5 283.9h0M497.7 283.1h0M506.3 295.6h0M529.3 283.4h0M523.9 277h0M512 291.4h0M527.9 256h0M501.4 277.2h0M519.7 285.7h0M503 275.6h0M496.3 308.8h0M513.6 298.8h0M525.1 273.6h0M514.3 279.7h0M515.1 271.3h0M512.1 295.4h0M529.5 242.6h0M523.7 277.5h0M528.4 246.6h0M534.9 295.2h0M516.5 284.6h0M554.5 264.8h0M504.8 278.3h0M529.2 270.1h0M518.9 260.3h0M530.8 243.3h0M518 288.1h0M543.9 260.4h0M497.9 306.9h0M520.8 295.5h0M526.6 275.9h0M522.1 281.5h0M514.9 258.9h0M511.4 280.9h0M501.2 302h0M493.4 318.1h0M501 279.2h0M514.1 279.6h0M494 289h0M512.7 283.4h0M526.4 286.5h0M507 282.8h0M518.4 287.2h0M539.3 272.9h0M495 291.9h0M540.8 242.7h0M519.2 283.2h0M513.5 285.4h0M505.1 297.3h0M519.7 267.9h0M515.2 293.6h0M510.5 280.1h0M541 262.8h0M512 281h0M507.8 306.8h0M523.9 280.7h0M533.3 257.2h0M525.9 261.7h0M514.2 272h0M532.8 259.9h0M523.5 269h0M520.7 269.2h0M529.5 265.3h0M502.6 293.1h0M510.9 282.2h0M510.3 291.5h0M506.9 279.9h0M511.5 287.4h0M542.6 280.8h0M518.5 277.4h0M514.7 289h0M491.7 305.3h0M513.8 286.9h0M493 291.7h0M500.6 311.5h0M530.7 285.6h0M509.1 283.4h0M511.6 302.5h0M528.7 290h0M520.6 268.9h0M511.7 278.8h0M521.8 282.8h0M541.2 266.4h0M526.1 276h0M534.5 298.7h0M516.6 272.9h0M517.9 267h0M519.7 286.2h0M492.8 311.9h0M522.9 298.1h0M529.8 273.9h0M524.2 267.6h0M527.5 270.7h0M499.7 277.9h0M518.8 277.3h0M510.5 282.1h0M508.1 272.1h0M528.5 273.7h0M545.9 263.3h0M516.4 288.4h0M490.9 304.5h0M515.3 252.2h0M524.5 266.1h0M539.9 256.4h0M525.6 296.5h0M500.2 280.8h0M534.9 276.1h0M542.3 254.7h0M503.2 292.6h0M506.4 301.5h0M532.5 259.2h0M516.3 268.1h0M502.6 304.8h0M527.5 282h0M505.6 302.2h0M518.5 294.3h0M527 260.6h0M531.9 239.1h0M516.4 272.4h0M518 292.7h0M516.2 265.9h0M501.4 306.6h0M526.6 261.7h0M494 299.1h0M535.9 262.6h0M498.6 258.3h0M504.6 288.7h0M485.3 279.5h0M510.5 295.3h0M516.5 268.8h0M514.1 259.7h0M513.1 281.9h0"/>
<path d="M512.1 276.8h0M538.6 258.9h0M519.9 259.3h0M494.6 298.7h0M499.8 307.2h0M516.6 268.9h0M511.6 279.3h0M534.1 273.2h0M527.7 240.7h0M524.3 265.1h0M526.3 273.5h0M535.2 300.4h0M499.3 310.3h0M541.6 238.9h0M528.4 276.4h0M528.3 260h0M519.2 282.6h0M501.6 310.8h0M549.7 242.9h0M512.5 273.6h0M527.6 257.3h0M499.9 293.6h0M514.8 266h0M518.1 275.2h0M522.8 261h0M512.6 280.4h0M516.6 301.8h0M495.2 290.1h0M513.4 288.4h0M503.4 280.7h0M505.4 313.3h0M530.3 274.6h0M527.3 279h0M527.5 257.2h0M532.8 285.5h0M509.4 276.9h0M507.3 286.8h0M508.7 307.5h0M512.7 283.1h0M524.1 290.4h0M517.7 278.1h0M503.1 300.9h0M506.2 269.9h0M509.9 275.3h0M489.7 318.1h0M528.6 269.5h0M516.4 304.3h0M507.1 298.6h0M519.5 269.4h0M529.7 263.8h0M521.2 269.8h0M527.8 260.4h0M518.8 283.2h0M533.9 263h0M499.7 297.9h0M514.3 273.3h0M519.3 293.3h0M474.7 303.4h0M534.1 274.8h0M492.4 310h0M532.5 270.6h0M483.6 318.3h0M521.9 258.7h0M521.3 288.1h0M540.9 248.6h0M530.6 257.8h0M519.3 277.2h0M536.1 275.9h0M500.5 295.5h0M525.7 303.7h0M525.2 281.3h0M524.3 281.9h0M513 248.2h0M513.9 278.3h0M523.6 273.2h0M519.9 278.9h0M537.9 271.4h0M487.8 310.2h0M519.6 284.3h0M503.1 290.4h0M535.1 260.3h0M516.2 288.7h0M510 302.4h0M508.7 283.8h0M540 244.1h0M519.3 269.6h0M527.1 262.8h0M499.7 293.1h0M501 270h0M510.1 290.7h0M499.8 291.3h0M511 283.6h0M505 301.1h0M522.4 267.8h0M538.1 286.8h0M509.9 304.9h0M509.5 284.3h0M515.5 280.8h0M527.3 272.4h0M519.8 282.9h0M520.9 294.4h0M527.8 275.8h0M533.6 275.5h0M524.9 272.3h0M501.3 297.2h0M499.6 289.8h0M539.9 250.5h0M538.9 269.6h0M553.2 267h0M500.8 258.5h0M520.5 252.5h0M514.4 284.4h0M528.6 238.4h0M527.6 268.4h0M533.2 282h0M497.9 297.7h0M533.3 266.7h0M516.2 268.8h0M480 311.1h0M487 278.4h0M503.7 271.5h0M510.9 290.2h0M516.3 281.9h0M521.8 282.5h0M532.3 277h0M533 268.8h0M511.2 294.6h0M513.8 288.8h0M515.5 270.5h0M531.6 257.4h0M508 290.9h0M521.6 265.4h0M475.9 307.5h0M522.5 273.9h0M503.4 288h0M501.7 304.6h0"/>
<path d="M533.9 284.8h0M503.8 273.4h0M531.9 259.9h0M520.1 267.8h0M510.9 293.3h0M535.4 257.9h0M513 323.7h0M506.5 282.2h0M497.8 296.5h0M531.9 279.5h0M498.5 299.2h0M503.1 284.4h0M510.9 294.8h0M502.3 288.6h0M516.7 281.9h0M521.8 267.9h0M524.6 269.9h0M508.9 278.1h0M520.8 269.1h0M496.4 296.6h0M515.5 261.5h0M517.5 278.3h0M487.4 300.4h0M514.7 296.8h0M488.2 319h0M514 285.9h0M506 287.9h0M512.3 321.9h0M523.1 274.3h0M522.9 284.2h0M512.8 268.1h0M516.8 263.5h0M504 288.1h0M525.7 252.8h0M529.5 262.2h0M489.5 274.1h0M531.9 258.3h0M496.9 295.3h0M508.4 301.2h0M515.4 288.8h0M520.5 283h0M500.1 251.1h0M510.1 281.1h0M507.6 264.6h0M536 267.3h0M533.3 240.3h0M529.6 276.1h0M495.1 298h0M517.3 269.6h0M534.3 271.2h0M523.4 285.4h0M505.7 276.5h0M507 287.4h0M501.9 276.5h0M517.1 280.8h0M527.4 262.1h0M517.5 284.2h0M513.7 292.1h0M489.8 293.9h0M495.2 294.4h0M501.9 301.5h0M523.1 284.9h0M508.9 264.8h0M534.6 300h0M511.2 282.2h0M527.9 263.2h0M495.4 298h0M529 274.7h0M542.6 261.4h0M513.8 298.3h0M527 272.8h0M515.5 257.6h0M512.9 298.5h0M505.6 253.9h0M508.2 266.1h0M494.4 323h0M520.1 270.5h0M512.1 288.2h0M528.9 281.3h0M506.7 291.1h0M536.9 278.3h0M519.6 286.7h0M530.2 271.8h0M504.7 292.7h0M508.1 280h0M517.5 269.7h0M506.7 272.8h0M532.9 285h0M519.1 288.7h0M529.2 261.3h0M508.2 292h0M514.7 296.4h0M513.3 275.4h0M530.9 275.2h0M509.5 277.1h0M518.1 266.4h0M519.2 273.4h0M489.9 282.5h0M525.3 259.3h0M512.8 273.5h0M506 302.9h0M525.7 294.1h0M525.4 267.6h0M522.7 283.7h0M507.3 290.9h0M517.4 266.8h0M530.3 273h0M494.7 324.4h0M514.8 267.2h0M531.6 281.8h0M509.6 280.9h0M527.6 301.2h0M531.9 262.6h0M490 294.8h0M505.3 305.9h0M522.3 273.2h0M535.7 270.3h0M552.7 236h0M513.8 268.8h0M522.9 271.6h0M511.2 298.5h0M500.8 303.8h0M532 272.7h0M516.9 289.3h0M517.1 275h0M527.8 267h0M506.3 301.9h0M498.4 277.1h0M518.7 288h0M514.2 291.4h0M501.6 301.4h0M525.6 281.2h0M500 289.7h0M519.8 256.2h0M517.2 284.5h0M490 290.9h0"/>
<path d="M532.7 279.5h0M515.9 280.6h0M513.1 289.7h0M501 325.1h0M493.1 301.8h0M522.1 298.8h0M525.3 287.8h0M507.9 289.1h0M524.3 265.1h0M510 283.7h0M500.8 292.1h0M496.5 287.2h0M530.8 277.4h0M526.8 258.4h0M496.1 308.2h0M503.9 293.4h0M514.6 292.1h0M545.2 262h0M518.8 272.8h0M525.6 291.8h0M489.2 298.4h0M533.2 271h0M522.7 275.7h0M499.2 269h0M512 264.2h0M512 295.7h0M515.6 284.6h0M509.8 299.8h0M490.5 291.6h0M522.9 272.4h0M520.2 259.6h0M514.3 265.5h0M521.9 275.9h0M493 301.2h0M499.2 319.1h0M502.3 277.1h0M512 266.5h0M509 287h0M519.7 289.4h0M523.5 288.5h0M534 278.4h0M530.4 259h0M509.6 278.5h0M521.1 257.8h0M521.3 261.2h0M494.9 287.8h0M525.3 276.5h0M497.7 302.3h0M507.6 293.3h0M529.9 260.3h0M537.3 271.5h0M531.8 274.6h0M518.6 288.4h0M480.9 266.9h0M546.7 275.7h0M519.6 296.5h0M508.5 252.2h0M514.9 277.5h0M520.3 283.1h0M524.8 279.7h0M526 300h0M511.7 305.2h0M534.3 281.6h0M491.7 282.2h0M515.8 284.4h0M527.1 247.4h0M525.3 280.5h0M520.9 277.5h0M508.2 303.1h0M505.3 292h0M529.4 265.3h0M521 271.2h0M502.8 297.7h0M512.7 258.7h0M493.3 307.1h0M538.3 299.1h0M520.5 266.4h0M498.9 298.8h0M484.7 295.6h0M534.4 285.6h0M523.2 287.7h0M516.6 277.5h0M532.9 307.4h0M491.8 296.5h0M526.3 268.8h0M531.3 272.2h0M511.4 267.9h0M530.4 268.3h0M509.9 283.8h0M503.9 273.7h0M518.5 292.6h0M536.4 275.7h0M532 274.4h0M521.7 279h0M541.3 259.7h0M515.7 296.3h0M525.8 259.3h0M511.8 278.1h0M499.6 275.4h0M514.4 308.7h0M510.8 289.2h0M504.2 273.2h0M519.9 300.6h0M520.9 302h0M496.8 293.9h0M498.2 317.9h0M498.8 288.3h0M525 309.5h0M532.5 268.9h0M526.4 278.4h0M513.6 285.1h0M531.2 270h0M510.7 275.7h0M525.7 291.5h0M525.2 280.1h0M516.3 294.9h0M506.2 287.8h0M509.4 297.2h0M524.9 291.9h0M501.1 287.8h0M548.5 263.4h0M514.5 257.7h0M523 273.6h0M519.6 277h0M507.2 291.5h0M521.7 283.3h0M526 261.7h0M515.9 278.7h0M511.8 277.5h0M511.3 295.2h0M486.7 300.7h0M497.6 296h0M536.8 261.7h0M511.5 291.5h0M494.7 295.4h0M597.5 270h0"/>
<path d="M510 295.4h0M530.9 276.7h0M501.5 288.5h0M529 274.5h0M532.9 249.9h0M514.9 280.9h0M510.7 288.5h0M509.1 318.7h0M510.9 283.8h0M522.6 280.7h0M508.8 270h0M509.2 285.4h0M506.6 291.7h0M532.5 276.4h0M520.5 273.2h0M530.2 264.5h0M526.2 290.8h0M533.7 253.3h0M522 281.2h0M526 265.2h0M489.2 301h0M516.4 296.1h0M503.4 277.3h0M499.8 285.5h0M530.2 267.6h0M514.8 257h0M520.6 283.1h0M541.6 279.5h0M533.1 223h0M501.9 298h0M510.2 264.2h0M529.1 303.4h0M516 291.4h0M513.2 292.5h0M503.3 312.3h0M499 284.7h0M487.8 295.9h0M526.6 278h0M534.2 259h0M519.6 276.4h0M502.1 278.8h0M510.2 277.7h0M501.9 289h0M522.2 279.9h0M532.8 259.7h0M506.3 280h0M525.4 300.7h0M534.3 271.1h0M517.3 272.9h0M511 272.7h0M500 287.1h0M521.8 279.6h0M549 239.1h0M510.7 277.8h0M512.3 302.7h0M513.9 284.6h0M524 271.4h0M491.4 289.4h0M502.8 273.2h0M510.7 277.4h0M518 290.1h0M533.5 271.7h0M525.1 268.8h0M526.8 256.7h0M498.1 288.3h0M552.5 245.1h0M543.4 271.2h0M530.4 266.1h0M508.4 306.1h0M496.9 305.4h0M503.5 300.4h0M503.9 296.2h0M503.6 290.6h0M542.2 269.9h0M507.8 318.2h0M530.8 268.4h0M512.7 317.1h0M512.2 295.4h0M531.5 281.4h0M518.1 299.2h0M538.2 271.7h0M544.1 260.7h0M504.1 297.9h0M513.2 287.9h0M522.1 281.9h0M529.2 287.9h0M530.5 264.7h0M516.8 273.2h0M511.6 271.6h0M506.4 285.9h0M518.8 283.3h0M523.6 289.1h0M520.2 289.7h0M506.1 291.9h0M521.3 298.5h0M482.2 298.1h0M510.9 281.9h0M499.6 288.2h0M495.3 314.7h0M510.1 279.2h0M528.5 265.4h0M501.6 280.3h0M515.7 274.6h0M498 301.5h0M509 288.3h0M508.1 282.9h0M533.5 292.9h0M523.7 291.7h0M506.7 282.5h0M529 271.6h0M527.3 266.5h0M515.6 286.1h0M537.6 259.9h0M525.2 254.6h0M519.5 268.4h0M526 260.7h0M527.8 263.2h0M522 264.4h0M508 281.5h0M516.7 278.7h0M536.3 272.6h0M505.7 288.8h0M515.1 277.9h0M510.1 294.4h0M521.4 261.5h0M530.4 282.7h0M547.8 262.1h0M501.8 283.5h0M517.5 293.4h0M524.3 287.6h0M509.7 288.6h0M526.4 292.6h0M521.7 281.5h0M530.8 255.9h0M521.5 283.7h0M446.9 316.3h0"/>
</g>
<line x1="447.3" y1="329.3" x2="596.9" y2="225.6" stroke="#111" stroke-width="1.05" stroke-dasharray="3.1 1.35"/>
<path d="M439.4 221.0V336.2H605.4" fill="none" stroke="#c6c6c6" stroke-width="0.9"/>
<path d="M455.5 336.2v1.6M486.1 336.2v1.6M516.7 336.2v1.6M547.3 336.2v1.6M577.9 336.2v1.6M439.4 323.2h-1.6M439.4 302.2h-1.6M439.4 281.3h-1.6M439.4 260.4h-1.6M439.4 239.4h-1.6" stroke="#555" stroke-width="0.5" fill="none"/>
<g class="dv" font-size="6.4">
<text x="455.5" y="343.5" text-anchor="middle">−1.0</text><text x="486.1" y="343.5" text-anchor="middle">−0.5</text><text x="516.7" y="343.5" text-anchor="middle">0.0</text><text x="547.3" y="343.5" text-anchor="middle">0.5</text><text x="577.9" y="343.5" text-anchor="middle">1.0</text>
<text x="437.3" y="325.6" text-anchor="end">−1.0</text><text x="437.3" y="304.6" text-anchor="end">−0.5</text><text x="437.3" y="283.7" text-anchor="end">0.0</text><text x="437.3" y="262.7" text-anchor="end">0.5</text><text x="437.3" y="241.8" text-anchor="end">1.0</text>
</g>
<text class="dv" font-size="8.9" y="232.5"><tspan x="447.9" font-style="italic">r</tspan><tspan x="450.8"> = </tspan><tspan x="462.1">0.604</tspan></text>
<text class="lb" font-size="10.35" x="527.5" y="357.1" text-anchor="middle">Predicted Mean EEA</text>
<text class="lb" font-size="10.35" text-anchor="middle" transform="translate(416.6 277.6) rotate(-90)">Actual Mean EEA</text>
<text class="lb" font-size="13.78" x="317.6" y="20.6" text-anchor="middle">Adolescent Brain Cognitive Development Study (ABCD)</text>
<text class="lb" font-size="13.72" x="318.8" y="205.8" text-anchor="middle">Human Connectome Project (HCP)</text>
<text class="lb" font-size="23.5" x="-0.2" y="14.5">a</text>
<text class="lb" font-size="25" x="0" y="427.2">b</text>
<path d="M141.4 482.4C141.3 483.2 141.2 485.2 140.9 487.0C140.6 488.8 140.5 490.3 139.5 492.9C138.5 495.5 137.3 499.5 134.9 502.8C132.5 506.1 128.1 509.9 125.3 512.6C122.5 515.3 119.6 517.4 117.9 519.2C116.2 521.0 115.1 521.6 115.1 523.3C115.1 524.9 116.5 527.0 118.1 529.1C119.7 531.2 122.5 533.5 124.7 535.7C126.9 537.9 129.5 539.9 131.3 542.2C133.1 544.5 133.7 548.3 135.4 549.5C137.1 550.7 140.4 549.5 141.4 549.5Z" fill="#dedede" stroke="none"/>
<line x1="77.5" y1="523.4" x2="236.0" y2="523.4" stroke="#e5677b" stroke-width="0.85" stroke-dasharray="2.1 1.2"/>
<path d="M141.4 482.4V549.5M136.0 482.4h10.8M136.0 549.5h10.8" fill="none" stroke="#555" stroke-width="1.1"/>
<g fill="#4a8fc7" fill-opacity="0.9"><circle cx="165.0" cy="482.5" r="1.8"/><circle cx="153.0" cy="499.6" r="1.8"/><circle cx="157.9" cy="507.4" r="1.8"/><circle cx="156.3" cy="515.6" r="1.8"/><circle cx="160.0" cy="517.9" r="1.8"/><circle cx="152.3" cy="519.2" r="1.8"/><circle cx="165.8" cy="521.0" r="1.8"/><circle cx="153.0" cy="521.7" r="1.8"/><circle cx="158.9" cy="521.7" r="1.8"/><circle cx="156.7" cy="522.5" r="1.8"/><circle cx="155.9" cy="524.1" r="1.8"/><circle cx="154.3" cy="526.6" r="1.8"/><circle cx="150.2" cy="527.4" r="1.8"/><circle cx="152.3" cy="527.8" r="1.8"/><circle cx="158.7" cy="530.2" r="1.8"/><circle cx="155.1" cy="535.2" r="1.8"/><circle cx="161.2" cy="535.7" r="1.8"/><circle cx="156.7" cy="536.6" r="1.8"/><circle cx="159.9" cy="543.9" r="1.8"/><circle cx="158.2" cy="549.8" r="1.8"/></g>
<path d="M77.5 440.0V666.3H236.0" fill="none" stroke="#8c8c8c" stroke-width="0.9"/>
<g class="dv" font-size="8.1"><text x="74.6" y="669.6" text-anchor="end">0.0</text><text x="74.6" y="624.3" text-anchor="end">0.2</text><text x="74.6" y="579.1" text-anchor="end">0.4</text><text x="74.6" y="533.8" text-anchor="end">0.6</text><text x="74.6" y="488.6" text-anchor="end">0.8</text><text x="74.6" y="443.3" text-anchor="end">1.0</text></g>
<path d="M77.5 666.3h-2M77.5 621.0h-2M77.5 575.8h-2M77.5 530.5h-2M77.5 485.3h-2M77.5 440.0h-2" stroke="#8c8c8c" stroke-width="0.7" fill="none"/>
<text class="lb" font-size="10.35" x="158.6" y="683.0" text-anchor="middle">Held-Out ABCD Fold</text>
<text class="lb" font-size="10.35" text-anchor="middle" transform="translate(41.5 556.2) rotate(-90)">Correlation (<tspan font-style="italic">r</tspan>) Between Actual</text>
<text class="lb" font-size="10.35" text-anchor="middle" transform="translate(53.4 555.6) rotate(-90)">and Predicted Mean EEA</text>
<path d="M416.5 509.8H402.6Q401.9 509.8 401.6 510.0C400.6 511.2 397.2 514.7 395.5 517.0C393.8 519.3 392.3 521.8 391.4 523.6C390.5 525.4 390.1 526.5 390.1 528.0C390.1 529.5 390.6 531.1 391.4 532.6C392.2 534.1 393.3 535.3 394.7 536.7C396.1 538.1 398.1 539.5 399.6 540.9C401.1 542.3 402.5 543.4 403.7 545.0C404.9 546.6 406.0 548.7 407.0 550.7C408.0 552.8 408.9 555.1 409.5 557.3C410.1 559.5 410.6 562.8 410.8 563.9H416.5Z" fill="#dedede" stroke="none"/>
<line x1="352.4" y1="530.1" x2="512.0" y2="530.1" stroke="#e5677b" stroke-width="0.85" stroke-dasharray="2.1 1.2"/>
<path d="M416.5 509.8V563.9M411.1 509.8h10.8M411.1 563.9h10.8" fill="none" stroke="#555" stroke-width="1.1"/>
<g fill="#4a8fc7" fill-opacity="0.9"><circle cx="432.8" cy="511.3" r="1.8"/><circle cx="436.9" cy="509.9" r="1.8"/><circle cx="439.6" cy="517.3" r="1.8"/><circle cx="433.8" cy="529.0" r="1.8"/><circle cx="437.4" cy="529.7" r="1.8"/><circle cx="441.7" cy="528.2" r="1.8"/><circle cx="428.9" cy="532.3" r="1.8"/><circle cx="431.8" cy="533.1" r="1.8"/><circle cx="429.5" cy="546.9" r="1.8"/><circle cx="422.5" cy="564.0" r="1.8"/></g>
<path d="M352.4 440.1V668.0H512.0" fill="none" stroke="#8c8c8c" stroke-width="0.9"/>
<g class="dv" font-size="8.1"><text x="349.5" y="671.7" text-anchor="end">0.0</text><text x="349.5" y="626.1" text-anchor="end">0.2</text><text x="349.5" y="580.5" text-anchor="end">0.4</text><text x="349.5" y="535.0" text-anchor="end">0.6</text><text x="349.5" y="489.4" text-anchor="end">0.8</text><text x="349.5" y="443.8" text-anchor="end">1.0</text></g>
<path d="M352.4 668.0h-2M352.4 622.4h-2M352.4 576.8h-2M352.4 531.3h-2M352.4 485.7h-2M352.4 440.1h-2" stroke="#8c8c8c" stroke-width="0.7" fill="none"/>
<text class="lb" font-size="10.35" x="433.4" y="683.2" text-anchor="middle">Held-Out HCP Fold</text>
<text class="lb" font-size="10.35" text-anchor="middle" transform="translate(316.5 556.2) rotate(-90)">Correlation (<tspan font-style="italic">r</tspan>) Between Actual</text>
<text class="lb" font-size="10.35" text-anchor="middle" transform="translate(328.4 555.6) rotate(-90)">and Predicted Mean EEA</text>
</svg>
</body></html>
